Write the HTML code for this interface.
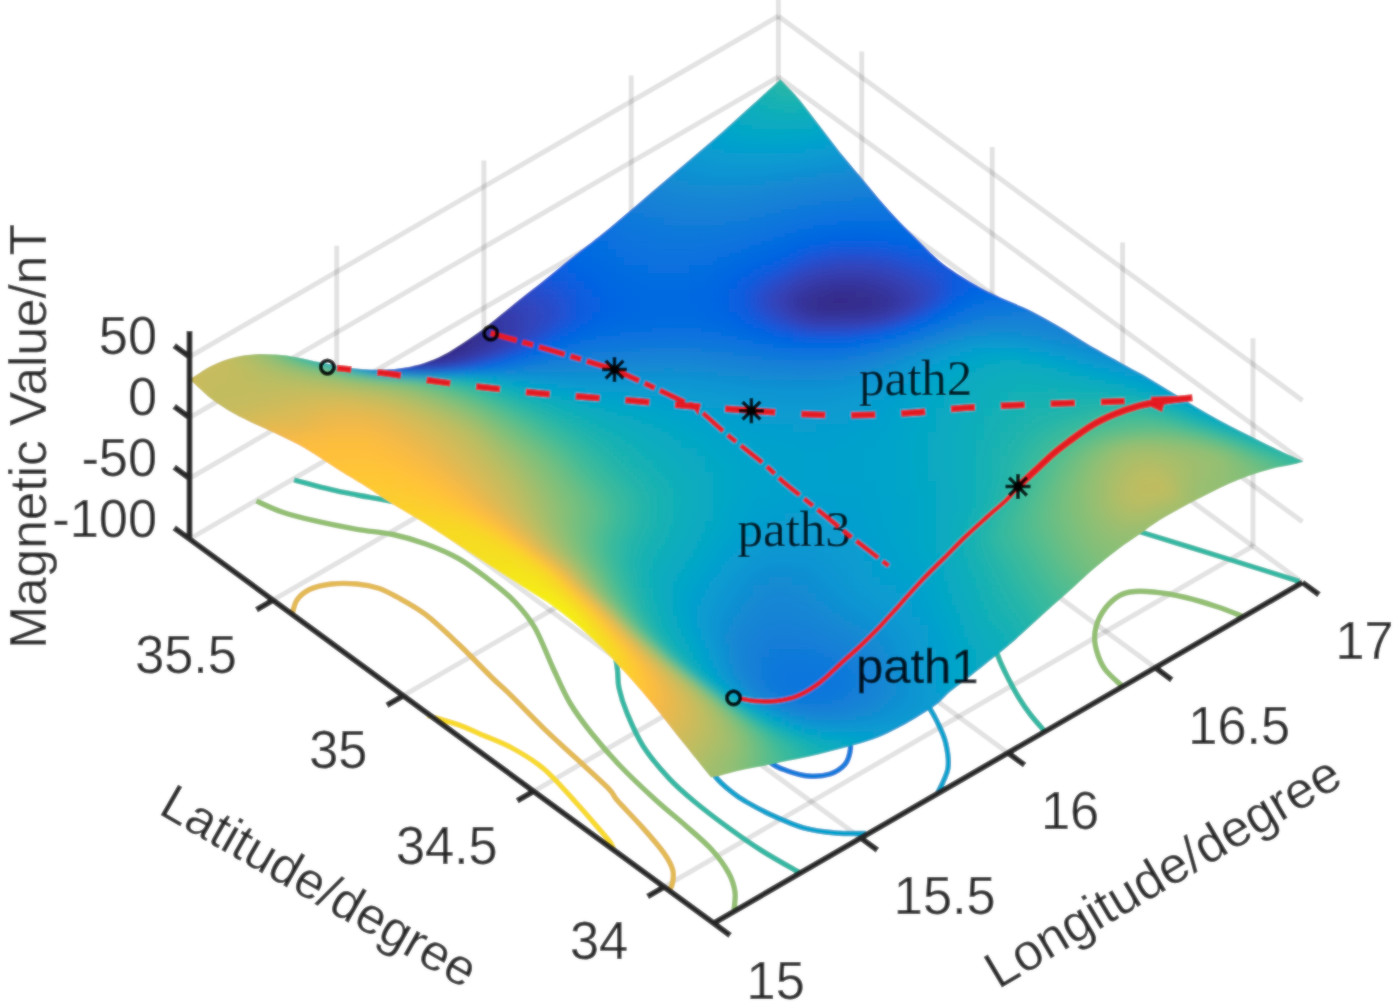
<!DOCTYPE html>
<html><head><meta charset="utf-8"><title>Magnetic surface paths</title>
<style>
html,body{margin:0;padding:0;background:#fff}
svg{display:block}
text{font-family:"Liberation Sans",sans-serif;fill:#262626}
.serif{font-family:"Liberation Serif",serif;fill:#06121c}
</style></head><body>
<svg width="1400" height="1003" viewBox="0 0 1400 1003">
<defs>
<clipPath id="oc"><path d="M189.6 379.3C193.3 377 204.7 369 212 365.4C219.3 361.8 226.4 359.3 233.6 357.4C240.8 355.5 247.9 354.7 255 354.2C262.1 353.7 269.2 354.1 276.4 354.6C283.5 355.1 290.8 356.1 297.9 357.4C305 358.6 312.2 360.6 319.3 362.1C326.4 363.6 333.6 365.2 340.7 366.4C347.8 367.5 354.9 368.5 362 369C369.1 369.5 376.4 369.9 383.6 369.6C390.8 369.4 398.3 368.6 405 367.5C411.7 366.4 417.7 365.1 424 363C430.3 360.9 436.5 358.4 443 355C449.5 351.6 456 347.4 462.9 342.9C469.8 338.4 477.2 333.3 484.3 327.9C491.4 322.5 498.6 316.4 505.7 310.7C512.8 305 519.9 299.3 527 293.6C534.1 287.9 541.4 282.2 548.6 276.4C555.8 270.6 563.8 264 570 259C576.2 254 578.9 252.1 585.9 246.6C592.9 241.1 603.1 233 611.8 225.9C620.4 218.8 629.1 211.2 637.8 203.9C646.4 196.6 655.1 189.2 663.7 181.8C672.3 174.5 681 167.1 689.6 159.8C698.2 152.5 706.9 145.4 715.5 137.8C724.1 130.2 730.6 124.2 741.4 114.4C752.2 104.7 773.9 85.2 780.4 79.3C783.6 82.7 793.3 92.2 799.9 99.9C806.5 107.7 813.2 117.2 819.8 125.8C826.4 134.4 833.1 143.4 839.7 151.7C846.4 160 853.1 167.6 859.7 175.6C866.4 183.6 873 191.8 879.6 199.5C886.2 207.2 892.9 214.5 899.5 221.5C906.1 228.5 913.9 235.8 919.5 241.4C925.1 247 928.8 251.1 933.4 255.3C938 259.5 941.2 262.6 947.1 266.8C953 271 961.5 276.4 968.6 280.7C975.8 285 982.9 288.9 990 292.5C997.1 296.1 1004.2 298.9 1011.4 302.1C1018.5 305.3 1025.8 308.2 1032.9 311.8C1040.1 315.4 1047.2 319.5 1054.3 323.6C1061.4 327.7 1068.6 332.1 1075.7 336.4C1082.8 340.7 1089.5 344.9 1097.1 349.3C1104.7 353.7 1113.8 358.7 1121.4 362.9C1129 367.1 1135.8 370.5 1142.9 374.6C1150.1 378.7 1157.2 383.2 1164.3 387.5C1171.4 391.8 1178.6 396.1 1185.7 400.4C1192.8 404.7 1199.9 409.1 1207.1 413.2C1214.2 417.3 1221.4 421.2 1228.6 425C1235.8 428.8 1242.9 432.1 1250 435.7C1257.1 439.3 1264.2 442.9 1271.4 446.4C1278.6 449.9 1287.5 454 1292.9 456.5C1298.3 459 1301.8 460.6 1303.6 461.4C1301.8 461.9 1298.3 463.4 1292.9 464.6C1287.5 465.9 1278.6 467.1 1271.4 468.9C1264.2 470.7 1257.1 472.9 1250 475.4C1242.9 477.9 1235.8 480.7 1228.6 483.9C1221.4 487.1 1214.7 490.8 1207.1 494.6C1199.5 498.5 1190.8 502.8 1183 507C1175.2 511.2 1167.2 515.5 1160 520C1152.8 524.5 1147 529.1 1140 534C1133 538.9 1125.6 543.7 1118 549.5C1110.4 555.3 1101.8 562.2 1094.3 568.6C1086.8 575 1080.1 581.5 1072.9 587.9C1065.8 594.3 1058.6 600.7 1051.4 607.1C1044.2 613.5 1037.1 620 1030 626.4C1022.9 632.8 1015.8 639.6 1008.6 645.7C1001.5 651.8 994.2 657.2 987.1 662.9C980 668.6 971.9 675.1 965.7 680C959.5 684.9 954.8 688 950 692C945.2 696 942.8 699.9 937.1 704.3C931.4 708.7 922.8 713.9 915.7 718.2C908.6 722.5 901.4 726.4 894.3 730C887.2 733.6 880 736.9 872.9 739.6C865.8 742.3 858.5 744 851.4 746C844.2 748 837.1 749.6 830 751.4C822.9 753.2 815.8 755.2 808.6 756.8C801.5 758.4 794.2 759.6 787.1 761C780 762.4 772.8 764 765.7 765.4C758.6 766.8 751.4 768 744.3 769.6C737.2 771.2 728.4 773.7 722.9 775C717.4 776.3 713 777.1 711 777.5C706.4 771.9 693.5 756 683.6 743.6C673.7 731.2 662.5 716.2 651.4 702.9C640.3 689.6 627.7 675.5 617 664C606.3 652.5 597.3 643.3 587 634C576.7 624.7 565.4 615.7 555 608C544.6 600.3 535.1 594.8 524.5 588C513.9 581.2 502.6 574.1 491.6 567C480.6 559.9 469.7 552.7 458.7 545.6C447.7 538.5 436.8 531.1 425.8 524.2C414.8 517.3 403.5 511 392.9 504.4C382.3 497.8 370.7 489.8 362 484.3C353.3 478.8 347.8 475.9 340.7 471.4C333.6 466.9 326.4 462 319.3 457.5C312.2 453 305 448.5 297.9 444.6C290.8 440.7 283.5 437.3 276.4 433.9C269.2 430.5 262.1 427.7 255 424.3C247.9 420.9 240.8 417.7 233.6 413.6C226.4 409.5 219.3 405.3 212 399.6C204.7 393.9 193.3 382.7 189.6 379.3Z"/></clipPath>
<filter id="bl" filterUnits="userSpaceOnUse" x="0" y="0" width="1400" height="1003"><feGaussianBlur stdDeviation="4"/></filter>
<filter id="soft" filterUnits="userSpaceOnUse" x="0" y="0" width="1400" height="1003"><feGaussianBlur stdDeviation="0.85" result="b"/><feComposite in="SourceGraphic" in2="b" operator="arithmetic" k1="0" k2="0.45" k3="0.55" k4="0"/></filter>
</defs>
<rect width="1400" height="1003" fill="#fff"/>
<g filter="url(#soft)">
<rect width="1400" height="1003" fill="#fff"/>
<g fill="none" stroke="#262626" stroke-opacity="0.135" stroke-width="4.9"><path d="M664.1 886.9L1253 546.2"/><path d="M1253 546.2L1253 338.2"/><path d="M533.7 791.3L1122.6 450.6"/><path d="M1122.6 450.6L1122.6 242.6"/><path d="M403.3 695.7L992.2 355"/><path d="M992.2 355L992.2 147"/><path d="M272.9 600.2L861.8 259.5"/><path d="M861.8 259.5L861.8 51.5"/><path d="M860.8 838L336.7 453.8"/><path d="M336.7 453.8L336.7 245.8"/><path d="M1008 752.9L483.9 368.6"/><path d="M483.9 368.6L483.9 160.6"/><path d="M1155.3 667.7L631.2 283.5"/><path d="M631.2 283.5L631.2 75.5"/><path d="M778.4 198.3L778.4 -9.7"/><path d="M189.5 539L778.4 198.3"/><path d="M778.4 198.3L1302.5 582.5"/><path d="M189.5 478.3L778.4 137.6"/><path d="M778.4 137.6L1302.5 521.8"/><path d="M189.5 417.6L778.4 76.9"/><path d="M778.4 76.9L1302.5 461.1"/><path d="M189.5 356.9L778.4 16.2"/><path d="M778.4 16.2L1302.5 400.4"/></g>
<g fill="none" stroke-linecap="butt"><path d="M427.5 715.5C432.7 717.1 449.9 721.8 458.7 724.9C467.4 728 471.1 730.1 480 734C488.9 737.9 501.3 742.2 512 748C522.7 753.8 533.3 759.8 544 769C554.7 778.2 567.1 792.8 576.4 803C585.7 813.2 594.3 823.4 600 830C605.7 836.6 608.4 839.4 610.7 842.9C613 846.4 613.5 849.6 614 851" stroke="#f7d925" stroke-width="5.4"/><path d="M292 615C292.8 612.5 294 604.3 297 600C300 595.7 304.3 592 310 589.3C315.7 586.6 323.6 584.9 331.4 584C339.2 583.1 349.1 583.3 357 584C364.9 584.7 371.9 586 378.6 588.2C385.3 590.4 389.1 592.6 397 597C404.9 601.4 415.5 606.8 425.8 614.7C436.1 622.6 447.7 633.9 458.7 644.3C469.7 654.7 482.7 668.5 491.6 677.2C500.5 685.9 503.3 687.8 512 696.4C520.7 705 533.3 718.2 544 728.6C554.7 739 565.6 748.6 576.4 758.6C587.2 768.6 601.8 781.7 608.6 788.6C615.4 795.5 611.3 793.5 617 800C622.7 806.5 635 819 642.9 827.9C650.8 836.8 659.3 846.5 664.3 853.6C669.3 860.7 671.6 865.4 672.9 870.7C674.1 876.1 672.7 882.3 671.8 885.7C670.9 889.1 668.2 890.1 667.5 891" stroke="#e2b952" stroke-width="5.4"/><path d="M256.4 501C260.7 502.8 272.4 508.7 282 512C291.6 515.3 301.8 517.8 314.3 520.7C326.8 523.6 343.9 527 357 529.3C370.1 531.6 381.5 532 393 534.5C404.5 537 414.9 540 425.8 544C436.8 548 447.7 552.4 458.7 558.7C469.7 565 482.2 574.6 491.6 581.8C501 589 507.8 594.3 515 602C522.2 609.7 528.7 617 535 628C541.3 639 547.2 655.5 553 668C558.8 680.5 563.6 692.2 570 703C576.4 713.8 583.2 722.7 591.4 733C599.6 743.3 608.6 753.8 619.3 765C630 776.2 644.6 789.9 655.7 800C666.8 810.1 676.4 817.5 685.7 825.7C695 833.9 704.2 841.4 711.4 849.3C718.5 857.2 724.7 865.8 728.6 872.9C732.5 880 734.1 885.8 735 892C735.9 898.2 734.2 907 734 910" stroke="#93bf72" stroke-width="5.4"/><path d="M294 480C297.4 480.9 307.4 483.6 314.3 485.4C321.2 487.2 328.6 489.1 335.7 490.7C342.8 492.3 349.9 493.6 357 495C364.1 496.4 371.4 497.6 378.6 498.9C385.8 500.2 388.1 500.3 400 503C411.9 505.7 430 508 450 515C470 522 498.3 530.8 520 545C541.7 559.2 565 584.2 580 600C595 615.8 603.8 628.9 610 640C616.2 651.1 615.5 658.4 617 666.4C618.5 674.4 617.3 680.2 619 688C620.7 695.8 623 703.4 627 713C631 722.6 636 734.9 642.9 745.7C649.8 756.5 660 768.6 668.6 777.9C677.2 787.2 684.3 793.2 694.3 801.5C704.3 809.8 717.2 819.6 728.6 827.9C740 836.2 751.1 844 762.9 851.4C774.7 858.8 793.2 869 799.3 872.5" stroke="#30b7a3" stroke-width="5.4"/><path d="M690 700C691.7 708.3 695.7 737.2 700 750C704.3 762.8 710.2 769.9 715.7 777C721.2 784.1 727.9 788.8 732.9 792.9C737.9 797 739.3 797.8 745.7 801.5C752.1 805.2 761.8 810.6 771.4 815C781 819.4 792.9 824.9 803.6 827.9C814.3 830.9 825.3 832.1 835.7 833C846.1 833.9 861 833.4 866 833.5" stroke="#06a1cc" stroke-width="5.4"/><path d="M937 794.3C938.8 790 946.4 777.2 947.9 768.6C949.4 760 947.5 750.8 945.7 742.9C943.9 735 939.9 727.5 937 721.4C934.1 715.3 932.3 712.5 928.6 706.4C924.9 700.3 917.3 688.6 915 685" stroke="#06a1cc" stroke-width="5.4"/><path d="M755 740C757.5 743.7 764.7 756.9 770 762C775.3 767.1 780.6 768.4 787 770.7C793.4 773 801.4 775.5 808.6 776C815.8 776.5 823.9 776 830 774C836.1 772 841.6 768.4 845 764.3C848.4 760.2 849.7 754.2 850.4 749.3C851.1 744.4 849.2 737.4 849 735" stroke="#117ada" stroke-width="5.4"/><path d="M993 635C993.8 638.5 995.5 648.8 998 656C1000.5 663.2 1004.5 671 1008 678C1011.5 685 1015.3 692 1019 698C1022.7 704 1025.8 708.5 1030 714C1034.2 719.5 1042 728.2 1044.4 731" stroke="#30b7a3" stroke-width="5.4"/><path d="M1243.6 616.8C1239.3 615.2 1227.6 610.2 1217.9 607C1208.2 603.8 1196.4 600 1185.7 597.5C1175 595 1162.9 592.9 1153.6 592C1144.3 591.1 1136.3 591 1130 592C1123.7 593 1120.4 594.5 1115.7 598C1111 601.5 1105.5 607.3 1102 613C1098.5 618.7 1095.9 625.8 1095 632C1094.1 638.2 1094.7 643.8 1096.4 650C1098.1 656.2 1100.7 663.3 1105 669.3C1109.3 675.3 1119.2 683.2 1122 686" stroke="#93bf72" stroke-width="5.4"/><path d="M1120 525.5C1123.5 526.6 1124 526.8 1140.7 532C1157.4 537.2 1193.6 548.3 1220 556.5C1246.4 564.7 1286.1 577.2 1299.3 581.4" stroke="#30b7a3" stroke-width="5.4"/><path d="M1178 505C1179.4 503.9 1185.1 499.6 1186.5 498.5" stroke="#30b7a3" stroke-width="5.4"/></g>
<g clip-path="url(#oc)"><g filter="url(#bl)" shape-rendering="crispEdges"><path fill="#352c8a" d="M832 296h9v9h-9zM840 296h9v9h-9zM432 336h17v17h-17zM448 336h9v9h-9zM456 336h9v9h-9zM448 344h9v9h-9zM456 344h5v5h-5zM440 352h5v5h-5zM444 352h5v5h-5z"/><path fill="#362d8d" d="M824 296h9v9h-9zM824 304h9v9h-9zM848 296h9v9h-9zM856 296h9v9h-9zM832 304h9v9h-9zM840 304h9v9h-9zM448 320h17v17h-17zM460 344h5v5h-5zM456 348h5v5h-5zM464 336h9v9h-9zM432 352h9v9h-9zM448 352h5v5h-5z"/><path fill="#362f90" d="M824 292h5v5h-5zM828 292h5v5h-5zM816 296h9v9h-9zM816 304h9v9h-9zM832 288h9v9h-9zM840 288h9v9h-9zM848 288h9v9h-9zM848 304h9v9h-9zM856 304h9v9h-9zM864 296h9v9h-9zM864 304h5v5h-5zM868 304h5v5h-5zM424 344h9v9h-9zM464 320h9v9h-9zM464 328h9v9h-9zM460 348h5v5h-5zM464 344h5v5h-5zM424 352h9v9h-9zM440 356h5v5h-5zM452 352h5v5h-5z"/><path fill="#363093" d="M808 296h9v9h-9zM816 292h5v5h-5zM820 292h5v5h-5zM808 304h5v5h-5zM812 304h5v5h-5zM856 288h9v9h-9zM864 292h5v5h-5zM868 292h5v5h-5zM872 296h9v9h-9zM864 308h5v5h-5zM872 304h5v5h-5zM472 320h9v9h-9zM472 328h9v9h-9zM472 336h9v9h-9zM468 344h5v5h-5zM464 348h5v5h-5zM444 356h5v5h-5zM456 352h5v5h-5z"/><path fill="#363296" d="M472 312h9v9h-9zM812 292h5v5h-5zM820 288h5v5h-5zM824 288h5v5h-5zM828 288h5v5h-5zM804 304h5v5h-5zM808 308h5v5h-5zM812 308h5v5h-5zM824 312h5v5h-5zM828 312h5v5h-5zM832 312h5v5h-5zM836 312h5v5h-5zM864 288h5v5h-5zM868 288h5v5h-5zM872 292h5v5h-5zM876 292h5v5h-5zM868 308h5v5h-5zM876 304h5v5h-5zM872 308h5v5h-5zM880 304h5v5h-5zM416 344h9v9h-9zM468 348h5v5h-5zM472 344h5v5h-5zM480 328h9v9h-9zM480 336h5v5h-5zM420 352h5v5h-5zM420 356h5v5h-5zM448 356h5v5h-5zM460 352h5v5h-5z"/><path fill="#363399" d="M828 284h5v5h-5zM832 284h5v5h-5zM836 284h5v5h-5zM840 284h5v5h-5zM844 284h5v5h-5zM848 284h5v5h-5zM852 284h5v5h-5zM856 284h5v5h-5zM860 284h5v5h-5zM808 292h5v5h-5zM800 296h9v9h-9zM816 288h5v5h-5zM800 304h5v5h-5zM804 308h5v5h-5zM816 312h5v5h-5zM820 312h5v5h-5zM840 312h5v5h-5zM844 312h5v5h-5zM848 312h5v5h-5zM852 312h5v5h-5zM856 312h5v5h-5zM860 312h5v5h-5zM872 288h5v5h-5zM880 292h5v5h-5zM880 296h9v9h-9zM876 308h5v5h-5zM864 312h5v5h-5zM884 304h5v5h-5zM476 344h5v5h-5zM480 320h9v9h-9zM484 336h5v5h-5zM480 340h5v5h-5zM416 352h5v5h-5zM424 360h5v5h-5zM428 360h5v5h-5zM432 360h5v5h-5zM436 360h5v5h-5zM452 356h5v5h-5zM464 352h5v5h-5z"/><path fill="#36359c" d="M820 284h5v5h-5zM824 284h5v5h-5zM864 284h5v5h-5zM868 284h5v5h-5zM480 312h9v9h-9zM796 300h5v5h-5zM804 292h5v5h-5zM808 288h5v5h-5zM812 288h5v5h-5zM800 308h5v5h-5zM808 312h5v5h-5zM812 312h5v5h-5zM876 288h5v5h-5zM880 288h5v5h-5zM884 292h5v5h-5zM888 296h9v9h-9zM868 312h5v5h-5zM872 312h5v5h-5zM880 308h5v5h-5zM888 304h5v5h-5zM472 348h5v5h-5zM488 320h9v9h-9zM488 328h9v9h-9zM484 340h5v5h-5zM488 336h5v5h-5zM480 344h5v5h-5zM416 356h5v5h-5zM420 360h5v5h-5zM440 360h5v5h-5zM456 356h5v5h-5z"/><path fill="#3636a0" d="M812 284h5v5h-5zM816 284h5v5h-5zM828 280h5v5h-5zM832 280h5v5h-5zM836 280h5v5h-5zM840 280h5v5h-5zM844 280h5v5h-5zM848 280h5v5h-5zM852 280h5v5h-5zM856 280h5v5h-5zM860 280h5v5h-5zM864 280h5v5h-5zM872 284h5v5h-5zM876 284h5v5h-5zM484 308h5v5h-5zM796 296h5v5h-5zM796 304h5v5h-5zM804 288h5v5h-5zM800 292h5v5h-5zM804 312h5v5h-5zM820 316h5v5h-5zM824 316h5v5h-5zM828 316h5v5h-5zM832 316h5v5h-5zM836 316h5v5h-5zM884 288h5v5h-5zM888 292h5v5h-5zM876 312h5v5h-5zM884 308h5v5h-5zM476 348h5v5h-5zM492 336h5v5h-5zM488 340h5v5h-5zM484 344h5v5h-5zM416 360h5v5h-5zM444 360h5v5h-5zM468 352h5v5h-5z"/><path fill="#3638a3" d="M808 284h5v5h-5zM820 280h5v5h-5zM824 280h5v5h-5zM868 280h5v5h-5zM872 280h5v5h-5zM880 284h5v5h-5zM884 284h5v5h-5zM488 312h9v9h-9zM796 292h5v5h-5zM792 296h5v5h-5zM792 300h5v5h-5zM792 304h5v5h-5zM796 308h5v5h-5zM800 288h5v5h-5zM812 316h5v5h-5zM816 316h5v5h-5zM840 316h5v5h-5zM844 316h5v5h-5zM848 316h5v5h-5zM852 316h5v5h-5zM856 316h5v5h-5zM860 316h5v5h-5zM888 288h5v5h-5zM892 292h5v5h-5zM892 304h5v5h-5zM888 308h5v5h-5zM880 312h5v5h-5zM496 320h9v9h-9zM496 328h9v9h-9zM492 340h5v5h-5zM480 348h5v5h-5zM488 344h5v5h-5zM496 336h5v5h-5zM412 352h5v5h-5zM412 356h5v5h-5zM460 356h5v5h-5zM448 360h5v5h-5zM472 352h5v5h-5z"/><path fill="#3639a6" d="M804 284h5v5h-5zM812 280h5v5h-5zM828 276h5v5h-5zM816 280h5v5h-5zM832 276h5v5h-5zM836 276h5v5h-5zM840 276h5v5h-5zM844 276h5v5h-5zM848 276h5v5h-5zM852 276h5v5h-5zM856 276h5v5h-5zM860 276h5v5h-5zM864 276h5v5h-5zM876 280h5v5h-5zM880 280h5v5h-5zM888 284h5v5h-5zM488 304h9v9h-9zM496 312h9v9h-9zM796 288h5v5h-5zM792 292h5v5h-5zM788 300h5v5h-5zM792 308h5v5h-5zM800 312h5v5h-5zM808 316h5v5h-5zM892 288h5v5h-5zM864 316h5v5h-5zM868 316h5v5h-5zM892 308h5v5h-5zM884 312h5v5h-5zM896 292h5v5h-5zM896 296h9v9h-9zM896 304h5v5h-5zM484 348h5v5h-5zM500 336h5v5h-5zM496 340h5v5h-5zM408 352h5v5h-5zM412 360h5v5h-5zM464 356h5v5h-5z"/><path fill="#353ba9" d="M800 284h5v5h-5zM808 280h5v5h-5zM820 276h5v5h-5zM824 276h5v5h-5zM868 276h5v5h-5zM872 276h5v5h-5zM884 280h5v5h-5zM892 284h5v5h-5zM488 296h9v9h-9zM788 292h5v5h-5zM792 288h5v5h-5zM788 296h5v5h-5zM788 304h5v5h-5zM796 312h5v5h-5zM804 316h5v5h-5zM872 316h5v5h-5zM876 316h5v5h-5zM888 312h5v5h-5zM896 288h5v5h-5zM900 292h5v5h-5zM900 304h5v5h-5zM896 308h5v5h-5zM504 320h9v9h-9zM504 328h9v9h-9zM492 344h5v5h-5zM500 340h5v5h-5zM504 336h5v5h-5zM408 356h5v5h-5zM420 364h5v5h-5zM424 364h5v5h-5zM452 360h5v5h-5zM476 352h5v5h-5z"/><path fill="#353dac" d="M796 284h5v5h-5zM804 280h5v5h-5zM816 276h5v5h-5zM832 272h5v5h-5zM836 272h5v5h-5zM840 272h5v5h-5zM844 272h5v5h-5zM848 272h5v5h-5zM852 272h5v5h-5zM856 272h5v5h-5zM860 272h5v5h-5zM864 272h5v5h-5zM876 276h5v5h-5zM880 276h5v5h-5zM888 280h5v5h-5zM896 284h5v5h-5zM496 300h5v5h-5zM496 304h9v9h-9zM504 312h9v9h-9zM784 296h5v5h-5zM784 300h5v5h-5zM784 304h5v5h-5zM788 308h5v5h-5zM792 312h5v5h-5zM800 316h5v5h-5zM880 316h5v5h-5zM900 288h5v5h-5zM904 292h5v5h-5zM904 296h9v9h-9zM488 348h5v5h-5zM496 344h5v5h-5zM512 328h5v5h-5zM816 320h5v5h-5zM820 320h5v5h-5zM824 320h5v5h-5zM828 320h5v5h-5zM832 320h5v5h-5zM836 320h5v5h-5zM840 320h5v5h-5zM844 320h5v5h-5zM848 320h5v5h-5zM852 320h5v5h-5zM408 360h5v5h-5zM416 364h5v5h-5zM428 364h5v5h-5zM432 364h5v5h-5zM456 360h5v5h-5zM468 356h5v5h-5zM480 352h5v5h-5z"/><path fill="#343eaf" d="M792 284h5v5h-5zM808 276h5v5h-5zM812 276h5v5h-5zM800 280h5v5h-5zM820 272h5v5h-5zM824 272h5v5h-5zM828 272h5v5h-5zM868 272h5v5h-5zM872 272h5v5h-5zM884 276h5v5h-5zM892 280h5v5h-5zM896 280h5v5h-5zM900 284h5v5h-5zM496 296h5v5h-5zM500 300h5v5h-5zM504 304h9v9h-9zM512 312h9v9h-9zM788 288h5v5h-5zM784 292h5v5h-5zM784 308h5v5h-5zM788 312h5v5h-5zM796 316h5v5h-5zM884 316h5v5h-5zM892 312h5v5h-5zM904 288h5v5h-5zM908 292h5v5h-5zM900 308h5v5h-5zM904 304h5v5h-5zM492 348h5v5h-5zM508 336h5v5h-5zM504 340h5v5h-5zM500 344h5v5h-5zM512 320h9v9h-9zM516 328h5v5h-5zM512 332h5v5h-5zM808 320h5v5h-5zM812 320h5v5h-5zM856 320h5v5h-5zM860 320h5v5h-5zM864 320h5v5h-5zM412 364h5v5h-5zM436 364h5v5h-5zM472 356h5v5h-5z"/><path fill="#3440b3" d="M796 280h5v5h-5zM804 276h5v5h-5zM816 272h5v5h-5zM836 268h5v5h-5zM840 268h5v5h-5zM844 268h5v5h-5zM848 268h5v5h-5zM852 268h5v5h-5zM856 268h5v5h-5zM860 268h5v5h-5zM876 272h5v5h-5zM880 272h5v5h-5zM888 276h5v5h-5zM892 276h5v5h-5zM900 280h5v5h-5zM904 284h5v5h-5zM500 296h5v5h-5zM780 292h5v5h-5zM776 296h9v9h-9zM784 288h5v5h-5zM780 304h5v5h-5zM792 316h5v5h-5zM908 288h5v5h-5zM912 292h5v5h-5zM912 296h5v5h-5zM912 300h5v5h-5zM908 304h5v5h-5zM904 308h5v5h-5zM896 312h5v5h-5zM508 340h5v5h-5zM516 332h5v5h-5zM520 328h5v5h-5zM512 336h5v5h-5zM804 320h5v5h-5zM868 320h5v5h-5zM404 356h5v5h-5zM440 364h5v5h-5zM460 360h5v5h-5zM484 352h5v5h-5z"/><path fill="#3342b6" d="M788 284h5v5h-5zM792 280h5v5h-5zM824 268h5v5h-5zM828 268h5v5h-5zM800 276h5v5h-5zM808 272h5v5h-5zM812 272h5v5h-5zM832 268h5v5h-5zM864 268h5v5h-5zM868 268h5v5h-5zM872 268h5v5h-5zM884 272h5v5h-5zM888 272h5v5h-5zM896 276h5v5h-5zM904 280h5v5h-5zM908 284h5v5h-5zM504 292h5v5h-5zM504 296h9v9h-9zM512 304h9v9h-9zM520 312h9v9h-9zM776 304h5v5h-5zM780 308h5v5h-5zM784 312h5v5h-5zM888 316h5v5h-5zM912 288h5v5h-5zM916 296h5v5h-5zM496 348h5v5h-5zM504 344h5v5h-5zM520 320h9v9h-9zM520 332h5v5h-5zM516 336h5v5h-5zM800 320h5v5h-5zM824 324h5v5h-5zM828 324h5v5h-5zM832 324h5v5h-5zM836 324h5v5h-5zM872 320h5v5h-5zM876 320h5v5h-5zM404 360h5v5h-5zM408 364h5v5h-5zM444 364h5v5h-5zM476 356h5v5h-5zM488 352h5v5h-5z"/><path fill="#3243b9" d="M796 276h5v5h-5zM788 280h5v5h-5zM784 284h5v5h-5zM816 268h5v5h-5zM820 268h5v5h-5zM804 272h5v5h-5zM844 264h5v5h-5zM848 264h5v5h-5zM852 264h5v5h-5zM876 268h5v5h-5zM880 268h5v5h-5zM892 272h5v5h-5zM900 276h5v5h-5zM908 280h5v5h-5zM912 284h5v5h-5zM508 292h5v5h-5zM512 296h9v9h-9zM520 304h9v9h-9zM780 288h5v5h-5zM776 292h5v5h-5zM776 308h5v5h-5zM780 312h5v5h-5zM788 316h5v5h-5zM892 316h5v5h-5zM916 288h5v5h-5zM916 292h5v5h-5zM916 300h5v5h-5zM908 308h5v5h-5zM900 312h5v5h-5zM912 304h5v5h-5zM500 348h5v5h-5zM508 344h5v5h-5zM524 328h5v5h-5zM512 340h5v5h-5zM796 320h5v5h-5zM812 324h5v5h-5zM816 324h5v5h-5zM820 324h5v5h-5zM840 324h5v5h-5zM844 324h5v5h-5zM848 324h5v5h-5zM852 324h5v5h-5zM880 320h5v5h-5zM404 364h5v5h-5zM464 360h5v5h-5z"/><path fill="#3145bc" d="M780 284h5v5h-5zM792 276h5v5h-5zM812 268h5v5h-5zM828 264h5v5h-5zM800 272h5v5h-5zM832 264h5v5h-5zM836 264h5v5h-5zM840 264h5v5h-5zM856 264h5v5h-5zM860 264h5v5h-5zM864 264h5v5h-5zM868 264h5v5h-5zM872 264h5v5h-5zM884 268h5v5h-5zM888 268h5v5h-5zM896 272h5v5h-5zM904 276h5v5h-5zM912 280h5v5h-5zM916 284h5v5h-5zM508 288h5v5h-5zM528 304h9v9h-9zM528 312h9v9h-9zM772 292h5v5h-5zM776 288h5v5h-5zM768 296h9v9h-9zM772 304h5v5h-5zM784 316h5v5h-5zM920 296h5v5h-5zM904 312h5v5h-5zM916 304h5v5h-5zM524 332h5v5h-5zM528 320h9v9h-9zM528 328h5v5h-5zM516 340h5v5h-5zM520 336h5v5h-5zM792 320h5v5h-5zM808 324h5v5h-5zM856 324h5v5h-5zM860 324h5v5h-5zM400 356h5v5h-5zM400 360h5v5h-5zM448 364h5v5h-5zM468 360h5v5h-5zM480 356h5v5h-5zM492 352h5v5h-5z"/><path fill="#2f47bf" d="M776 284h5v5h-5zM788 276h5v5h-5zM796 272h5v5h-5zM784 280h5v5h-5zM808 268h5v5h-5zM820 264h5v5h-5zM824 264h5v5h-5zM876 264h5v5h-5zM880 264h5v5h-5zM892 268h5v5h-5zM900 272h5v5h-5zM904 272h5v5h-5zM908 276h5v5h-5zM916 280h5v5h-5zM920 284h5v5h-5zM512 288h9v9h-9zM520 296h9v9h-9zM536 312h9v9h-9zM772 288h5v5h-5zM768 292h5v5h-5zM768 304h5v5h-5zM772 308h5v5h-5zM776 312h5v5h-5zM780 316h5v5h-5zM920 288h9v9h-9zM924 296h5v5h-5zM920 300h5v5h-5zM896 316h5v5h-5zM912 308h5v5h-5zM504 348h5v5h-5zM536 320h5v5h-5zM532 328h5v5h-5zM528 332h5v5h-5zM524 336h5v5h-5zM512 344h5v5h-5zM788 320h5v5h-5zM800 324h5v5h-5zM804 324h5v5h-5zM864 324h5v5h-5zM868 324h5v5h-5zM884 320h5v5h-5zM396 356h5v5h-5zM400 364h5v5h-5z"/><path fill="#2d48c3" d="M512 280h9v9h-9zM780 280h5v5h-5zM792 272h5v5h-5zM800 268h5v5h-5zM804 268h5v5h-5zM812 264h5v5h-5zM816 264h5v5h-5zM832 260h5v5h-5zM836 260h5v5h-5zM840 260h5v5h-5zM844 260h5v5h-5zM848 260h5v5h-5zM852 260h5v5h-5zM856 260h5v5h-5zM860 260h5v5h-5zM864 260h5v5h-5zM868 260h5v5h-5zM872 260h5v5h-5zM884 264h5v5h-5zM888 264h5v5h-5zM896 268h5v5h-5zM900 268h5v5h-5zM908 272h5v5h-5zM912 276h5v5h-5zM920 280h5v5h-5zM924 284h5v5h-5zM520 288h9v9h-9zM528 296h9v9h-9zM536 304h9v9h-9zM768 308h5v5h-5zM772 312h5v5h-5zM924 300h5v5h-5zM900 316h5v5h-5zM908 312h5v5h-5zM920 304h5v5h-5zM540 320h5v5h-5zM536 324h5v5h-5zM520 340h5v5h-5zM796 324h5v5h-5zM872 324h5v5h-5zM888 320h5v5h-5zM396 360h5v5h-5zM452 364h5v5h-5zM484 356h5v5h-5zM496 352h5v5h-5z"/><path fill="#2c4ac6" d="M520 280h9v9h-9zM796 268h5v5h-5zM772 284h5v5h-5zM776 280h5v5h-5zM788 272h5v5h-5zM784 276h5v5h-5zM808 264h5v5h-5zM820 260h5v5h-5zM824 260h5v5h-5zM828 260h5v5h-5zM876 260h5v5h-5zM880 260h5v5h-5zM892 264h5v5h-5zM904 268h5v5h-5zM912 272h5v5h-5zM916 276h5v5h-5zM920 276h5v5h-5zM924 280h5v5h-5zM928 284h5v5h-5zM536 296h9v9h-9zM544 304h9v9h-9zM544 312h9v9h-9zM764 292h5v5h-5zM760 296h9v9h-9zM764 304h5v5h-5zM768 288h5v5h-5zM776 316h5v5h-5zM916 308h5v5h-5zM928 288h9v9h-9zM928 296h5v5h-5zM508 348h5v5h-5zM540 324h5v5h-5zM532 332h5v5h-5zM536 328h5v5h-5zM516 344h5v5h-5zM528 336h5v5h-5zM544 320h5v5h-5zM784 320h5v5h-5zM792 324h5v5h-5zM812 328h5v5h-5zM816 328h5v5h-5zM820 328h5v5h-5zM824 328h5v5h-5zM828 328h5v5h-5zM832 328h5v5h-5zM836 328h5v5h-5zM840 328h5v5h-5zM844 328h5v5h-5zM848 328h5v5h-5zM876 324h5v5h-5zM892 320h5v5h-5zM472 360h5v5h-5z"/><path fill="#294cc9" d="M792 268h5v5h-5zM780 276h5v5h-5zM772 280h5v5h-5zM768 284h5v5h-5zM804 264h5v5h-5zM816 260h5v5h-5zM836 256h5v5h-5zM840 256h5v5h-5zM844 256h5v5h-5zM848 256h5v5h-5zM852 256h5v5h-5zM856 256h5v5h-5zM860 256h5v5h-5zM864 256h5v5h-5zM868 256h5v5h-5zM884 260h5v5h-5zM888 260h5v5h-5zM896 264h5v5h-5zM900 264h5v5h-5zM908 268h5v5h-5zM916 272h5v5h-5zM924 276h5v5h-5zM928 280h5v5h-5zM932 284h5v5h-5zM528 288h9v9h-9zM544 296h9v9h-9zM764 288h5v5h-5zM760 292h5v5h-5zM760 304h5v5h-5zM764 308h5v5h-5zM768 312h5v5h-5zM772 316h5v5h-5zM904 316h5v5h-5zM924 304h5v5h-5zM912 312h5v5h-5zM928 300h5v5h-5zM540 328h5v5h-5zM536 332h5v5h-5zM524 340h5v5h-5zM532 336h5v5h-5zM548 320h5v5h-5zM544 324h5v5h-5zM780 320h5v5h-5zM788 324h5v5h-5zM804 328h5v5h-5zM808 328h5v5h-5zM852 328h5v5h-5zM856 328h5v5h-5zM880 324h5v5h-5zM396 364h5v5h-5zM456 364h5v5h-5zM488 356h5v5h-5zM500 352h5v5h-5z"/><path fill="#264ecc" d="M524 276h5v5h-5zM528 280h9v9h-9zM764 284h5v5h-5zM776 276h5v5h-5zM768 280h5v5h-5zM784 272h5v5h-5zM808 260h5v5h-5zM812 260h5v5h-5zM800 264h5v5h-5zM824 256h5v5h-5zM828 256h5v5h-5zM832 256h5v5h-5zM872 256h5v5h-5zM876 256h5v5h-5zM880 256h5v5h-5zM892 260h5v5h-5zM896 260h5v5h-5zM904 264h5v5h-5zM912 268h5v5h-5zM916 268h5v5h-5zM920 272h5v5h-5zM928 276h5v5h-5zM932 280h5v5h-5zM536 288h9v9h-9zM552 304h9v9h-9zM552 312h9v9h-9zM760 288h5v5h-5zM760 308h5v5h-5zM764 312h5v5h-5zM768 316h5v5h-5zM920 308h5v5h-5zM936 288h5v5h-5zM932 296h5v5h-5zM540 332h5v5h-5zM512 348h5v5h-5zM520 344h5v5h-5zM528 340h5v5h-5zM548 324h5v5h-5zM552 320h5v5h-5zM544 328h5v5h-5zM776 320h5v5h-5zM800 328h5v5h-5zM860 328h5v5h-5zM884 324h5v5h-5zM896 320h5v5h-5zM476 360h5v5h-5z"/><path fill="#2450d0" d="M840 252h5v5h-5zM844 252h5v5h-5zM848 252h5v5h-5zM852 252h5v5h-5zM856 252h5v5h-5zM860 252h5v5h-5zM760 284h5v5h-5zM788 268h5v5h-5zM796 264h5v5h-5zM772 276h5v5h-5zM780 272h5v5h-5zM804 260h5v5h-5zM816 256h5v5h-5zM820 256h5v5h-5zM884 256h5v5h-5zM888 256h5v5h-5zM900 260h5v5h-5zM908 264h5v5h-5zM912 264h5v5h-5zM920 268h5v5h-5zM924 272h5v5h-5zM928 272h5v5h-5zM932 276h5v5h-5zM936 280h9v9h-9zM544 288h9v9h-9zM552 296h9v9h-9zM756 288h5v5h-5zM756 292h5v5h-5zM752 296h9v9h-9zM756 304h5v5h-5zM756 308h5v5h-5zM760 312h5v5h-5zM908 316h5v5h-5zM916 312h5v5h-5zM936 292h5v5h-5zM932 300h5v5h-5zM936 296h5v5h-5zM928 304h5v5h-5zM536 336h5v5h-5zM552 324h5v5h-5zM772 320h5v5h-5zM784 324h5v5h-5zM796 328h5v5h-5zM864 328h5v5h-5zM868 328h5v5h-5zM392 356h5v5h-5zM412 368h5v5h-5zM416 368h5v5h-5zM420 368h5v5h-5zM424 368h5v5h-5zM460 364h5v5h-5zM492 356h5v5h-5zM504 352h5v5h-5z"/><path fill="#2152d3" d="M828 252h5v5h-5zM832 252h5v5h-5zM836 252h5v5h-5zM864 252h5v5h-5zM868 252h5v5h-5zM872 252h5v5h-5zM876 252h5v5h-5zM528 272h9v9h-9zM536 280h9v9h-9zM764 280h5v5h-5zM784 268h5v5h-5zM792 264h5v5h-5zM768 276h5v5h-5zM776 272h5v5h-5zM800 260h5v5h-5zM808 256h5v5h-5zM812 256h5v5h-5zM892 256h5v5h-5zM896 256h5v5h-5zM904 260h5v5h-5zM908 260h5v5h-5zM916 264h5v5h-5zM924 268h5v5h-5zM932 272h5v5h-5zM552 288h9v9h-9zM560 296h9v9h-9zM560 304h9v9h-9zM560 312h9v9h-9zM752 292h5v5h-5zM752 304h5v5h-5zM764 316h5v5h-5zM924 308h5v5h-5zM940 288h5v5h-5zM940 292h5v5h-5zM516 348h5v5h-5zM524 344h5v5h-5zM532 340h5v5h-5zM556 320h5v5h-5zM548 328h5v5h-5zM544 332h5v5h-5zM768 320h5v5h-5zM780 324h5v5h-5zM792 328h5v5h-5zM816 332h5v5h-5zM820 332h5v5h-5zM824 332h5v5h-5zM828 332h5v5h-5zM832 332h5v5h-5zM836 332h5v5h-5zM872 328h5v5h-5zM888 324h5v5h-5zM900 320h5v5h-5zM392 360h5v5h-5zM408 368h5v5h-5zM428 368h5v5h-5zM480 360h5v5h-5z"/><path fill="#1d54d5" d="M820 252h5v5h-5zM824 252h5v5h-5zM856 248h5v5h-5zM880 252h5v5h-5zM884 252h5v5h-5zM888 252h5v5h-5zM528 264h9v9h-9zM536 268h5v5h-5zM536 272h9v9h-9zM544 280h9v9h-9zM764 276h5v5h-5zM756 284h5v5h-5zM760 280h5v5h-5zM780 268h5v5h-5zM796 260h5v5h-5zM788 264h5v5h-5zM772 272h5v5h-5zM804 256h5v5h-5zM900 256h5v5h-5zM912 260h5v5h-5zM916 260h5v5h-5zM920 264h5v5h-5zM924 264h5v5h-5zM928 264h9v9h-9zM936 272h9v9h-9zM568 312h5v5h-5zM748 292h5v5h-5zM752 288h5v5h-5zM752 308h5v5h-5zM756 312h5v5h-5zM760 316h5v5h-5zM912 316h5v5h-5zM920 312h5v5h-5zM940 296h5v5h-5zM936 300h5v5h-5zM944 288h5v5h-5zM932 304h5v5h-5zM540 336h5v5h-5zM556 324h5v5h-5zM552 328h5v5h-5zM560 320h5v5h-5zM776 324h5v5h-5zM788 328h5v5h-5zM804 332h5v5h-5zM808 332h5v5h-5zM812 332h5v5h-5zM840 332h5v5h-5zM844 332h5v5h-5zM848 332h5v5h-5zM876 328h5v5h-5zM892 324h5v5h-5zM392 364h5v5h-5zM404 368h5v5h-5zM432 368h5v5h-5zM464 364h5v5h-5zM496 356h5v5h-5zM508 352h5v5h-5z"/><path fill="#1957d8" d="M812 252h5v5h-5zM816 252h5v5h-5zM832 248h5v5h-5zM836 248h5v5h-5zM840 248h5v5h-5zM844 248h5v5h-5zM848 248h5v5h-5zM852 248h5v5h-5zM860 248h5v5h-5zM864 248h5v5h-5zM868 248h5v5h-5zM872 248h5v5h-5zM876 248h5v5h-5zM892 252h5v5h-5zM896 252h5v5h-5zM536 264h5v5h-5zM540 268h5v5h-5zM552 280h9v9h-9zM760 276h5v5h-5zM756 280h5v5h-5zM752 284h5v5h-5zM776 268h5v5h-5zM792 260h5v5h-5zM784 264h5v5h-5zM768 272h5v5h-5zM800 256h5v5h-5zM904 256h5v5h-5zM908 256h5v5h-5zM920 260h5v5h-5zM924 260h5v5h-5zM936 264h9v9h-9zM944 272h9v9h-9zM944 280h9v9h-9zM560 288h9v9h-9zM568 296h9v9h-9zM568 304h9v9h-9zM572 312h5v5h-5zM568 316h5v5h-5zM748 288h5v5h-5zM744 296h9v9h-9zM748 304h5v5h-5zM748 308h5v5h-5zM752 312h5v5h-5zM756 316h5v5h-5zM948 288h5v5h-5zM944 292h5v5h-5zM928 308h5v5h-5zM520 348h5v5h-5zM536 340h5v5h-5zM528 344h5v5h-5zM548 332h5v5h-5zM556 328h5v5h-5zM564 320h5v5h-5zM560 324h5v5h-5zM544 336h5v5h-5zM764 320h5v5h-5zM772 324h5v5h-5zM780 328h5v5h-5zM784 328h5v5h-5zM800 332h5v5h-5zM852 332h5v5h-5zM856 332h5v5h-5zM880 328h5v5h-5zM904 320h5v5h-5zM436 368h5v5h-5zM484 360h5v5h-5z"/><path fill="#1559da" d="M804 252h5v5h-5zM808 252h5v5h-5zM820 248h5v5h-5zM824 248h5v5h-5zM828 248h5v5h-5zM880 248h5v5h-5zM884 248h5v5h-5zM888 248h5v5h-5zM900 252h5v5h-5zM904 252h5v5h-5zM540 264h5v5h-5zM544 272h9v9h-9zM560 280h9v9h-9zM748 284h5v5h-5zM756 276h5v5h-5zM764 272h5v5h-5zM752 280h5v5h-5zM772 268h5v5h-5zM780 264h5v5h-5zM788 260h5v5h-5zM796 256h5v5h-5zM912 256h5v5h-5zM916 256h5v5h-5zM920 256h5v5h-5zM944 256h17v17h-17zM568 288h9v9h-9zM572 316h5v5h-5zM576 312h5v5h-5zM744 288h5v5h-5zM744 292h5v5h-5zM744 304h5v5h-5zM748 312h5v5h-5zM752 316h5v5h-5zM916 316h5v5h-5zM924 312h5v5h-5zM940 300h5v5h-5zM948 292h5v5h-5zM944 296h5v5h-5zM936 304h5v5h-5zM552 332h5v5h-5zM564 324h5v5h-5zM568 320h5v5h-5zM760 320h5v5h-5zM768 324h5v5h-5zM776 328h5v5h-5zM792 332h5v5h-5zM796 332h5v5h-5zM860 332h5v5h-5zM896 324h5v5h-5zM400 368h5v5h-5zM468 364h5v5h-5zM500 356h5v5h-5zM512 352h5v5h-5z"/><path fill="#105bdd" d="M800 252h5v5h-5zM812 248h5v5h-5zM816 248h5v5h-5zM836 244h5v5h-5zM840 244h5v5h-5zM844 244h5v5h-5zM848 244h5v5h-5zM852 244h5v5h-5zM856 244h5v5h-5zM860 244h5v5h-5zM864 244h5v5h-5zM868 244h5v5h-5zM872 244h5v5h-5zM892 248h5v5h-5zM896 248h5v5h-5zM908 252h5v5h-5zM912 252h5v5h-5zM944 240h17v17h-17zM544 260h5v5h-5zM544 264h9v9h-9zM552 272h9v9h-9zM748 280h5v5h-5zM744 284h5v5h-5zM752 276h5v5h-5zM760 272h5v5h-5zM768 268h5v5h-5zM776 264h5v5h-5zM784 260h5v5h-5zM792 256h5v5h-5zM924 256h5v5h-5zM928 256h9v9h-9zM936 256h9v9h-9zM952 272h9v9h-9zM952 280h9v9h-9zM960 256h9v9h-9zM576 296h9v9h-9zM576 304h9v9h-9zM580 312h5v5h-5zM576 316h5v5h-5zM740 292h5v5h-5zM744 308h5v5h-5zM952 288h5v5h-5zM932 308h5v5h-5zM524 348h5v5h-5zM540 340h5v5h-5zM532 344h5v5h-5zM556 332h5v5h-5zM572 320h5v5h-5zM568 324h5v5h-5zM560 328h5v5h-5zM548 336h5v5h-5zM756 320h5v5h-5zM764 324h5v5h-5zM772 328h5v5h-5zM788 332h5v5h-5zM864 332h5v5h-5zM884 328h5v5h-5zM908 320h5v5h-5zM388 356h5v5h-5zM388 360h5v5h-5zM388 364h5v5h-5zM440 368h5v5h-5zM488 360h5v5h-5z"/><path fill="#0d5dde" d="M796 252h5v5h-5zM808 248h5v5h-5zM824 244h5v5h-5zM828 244h5v5h-5zM832 244h5v5h-5zM876 244h5v5h-5zM880 244h5v5h-5zM884 244h5v5h-5zM900 248h5v5h-5zM904 248h5v5h-5zM916 252h5v5h-5zM920 252h5v5h-5zM924 252h5v5h-5zM936 248h9v9h-9zM548 260h5v5h-5zM560 272h9v9h-9zM568 280h9v9h-9zM764 268h5v5h-5zM748 276h5v5h-5zM740 284h5v5h-5zM744 280h5v5h-5zM756 272h5v5h-5zM780 260h5v5h-5zM772 264h5v5h-5zM788 256h5v5h-5zM960 264h9v9h-9zM960 272h9v9h-9zM576 288h9v9h-9zM584 304h9v9h-9zM580 316h5v5h-5zM740 288h5v5h-5zM736 292h5v5h-5zM736 296h9v9h-9zM736 304h9v9h-9zM744 312h5v5h-5zM748 316h5v5h-5zM920 316h5v5h-5zM956 288h5v5h-5zM952 292h5v5h-5zM948 296h5v5h-5zM944 300h5v5h-5zM940 304h5v5h-5zM928 312h5v5h-5zM564 328h5v5h-5zM576 320h5v5h-5zM752 320h5v5h-5zM760 324h5v5h-5zM768 328h5v5h-5zM784 332h5v5h-5zM808 336h5v5h-5zM812 336h5v5h-5zM816 336h5v5h-5zM820 336h5v5h-5zM824 336h5v5h-5zM828 336h5v5h-5zM832 336h5v5h-5zM836 336h5v5h-5zM868 332h5v5h-5zM888 328h5v5h-5zM900 324h5v5h-5zM396 368h5v5h-5zM444 368h5v5h-5zM504 356h5v5h-5z"/><path fill="#0a5fdf" d="M792 252h5v5h-5zM800 248h5v5h-5zM804 248h5v5h-5zM816 244h5v5h-5zM820 244h5v5h-5zM840 240h5v5h-5zM844 240h5v5h-5zM848 240h5v5h-5zM852 240h5v5h-5zM856 240h5v5h-5zM860 240h5v5h-5zM864 240h5v5h-5zM868 240h5v5h-5zM872 240h5v5h-5zM888 244h5v5h-5zM892 244h5v5h-5zM896 244h5v5h-5zM908 248h5v5h-5zM912 248h5v5h-5zM936 240h9v9h-9zM928 248h9v9h-9zM548 256h5v5h-5zM552 264h9v9h-9zM576 280h9v9h-9zM756 268h5v5h-5zM764 264h5v5h-5zM760 268h5v5h-5zM744 276h5v5h-5zM740 280h5v5h-5zM752 272h5v5h-5zM776 260h5v5h-5zM768 264h5v5h-5zM784 256h5v5h-5zM968 264h9v9h-9zM968 272h9v9h-9zM960 280h9v9h-9zM584 296h9v9h-9zM584 312h9v9h-9zM736 288h5v5h-5zM740 312h5v5h-5zM744 316h5v5h-5zM956 292h5v5h-5zM952 296h5v5h-5zM936 308h5v5h-5zM960 288h5v5h-5zM536 344h5v5h-5zM572 324h5v5h-5zM560 332h5v5h-5zM568 328h5v5h-5zM544 340h5v5h-5zM552 336h5v5h-5zM580 320h5v5h-5zM748 320h5v5h-5zM756 324h5v5h-5zM780 332h5v5h-5zM800 336h5v5h-5zM804 336h5v5h-5zM840 336h5v5h-5zM844 336h5v5h-5zM848 336h5v5h-5zM872 332h5v5h-5zM912 320h5v5h-5zM384 356h5v5h-5zM384 360h5v5h-5zM384 364h5v5h-5zM472 364h5v5h-5zM516 352h5v5h-5z"/><path fill="#0760e0" d="M788 252h5v5h-5zM796 248h5v5h-5zM808 244h5v5h-5zM812 244h5v5h-5zM828 240h5v5h-5zM832 240h5v5h-5zM836 240h5v5h-5zM876 240h5v5h-5zM880 240h5v5h-5zM884 240h5v5h-5zM900 244h5v5h-5zM904 244h5v5h-5zM916 248h5v5h-5zM920 248h5v5h-5zM924 248h5v5h-5zM932 244h5v5h-5zM552 256h9v9h-9zM560 264h9v9h-9zM568 272h9v9h-9zM752 268h5v5h-5zM760 264h5v5h-5zM740 276h5v5h-5zM748 272h5v5h-5zM736 280h5v5h-5zM736 284h5v5h-5zM772 260h5v5h-5zM780 256h5v5h-5zM976 264h9v9h-9zM968 280h9v9h-9zM584 288h9v9h-9zM592 296h9v9h-9zM592 304h9v9h-9zM728 288h9v9h-9zM728 296h9v9h-9zM728 304h9v9h-9zM736 312h5v5h-5zM740 316h5v5h-5zM924 316h5v5h-5zM948 300h5v5h-5zM944 304h5v5h-5zM964 288h5v5h-5zM960 292h5v5h-5zM528 348h5v5h-5zM564 332h5v5h-5zM572 328h5v5h-5zM548 340h5v5h-5zM556 336h5v5h-5zM576 324h5v5h-5zM584 320h5v5h-5zM744 320h5v5h-5zM752 324h5v5h-5zM764 328h5v5h-5zM772 332h5v5h-5zM776 332h5v5h-5zM792 336h5v5h-5zM796 336h5v5h-5zM852 336h5v5h-5zM876 332h5v5h-5zM892 328h5v5h-5zM904 324h5v5h-5zM448 368h5v5h-5zM492 360h5v5h-5z"/><path fill="#0462e1" d="M552 248h9v9h-9zM784 252h5v5h-5zM792 248h5v5h-5zM804 244h5v5h-5zM820 240h5v5h-5zM824 240h5v5h-5zM852 236h5v5h-5zM856 236h5v5h-5zM860 236h5v5h-5zM864 236h5v5h-5zM888 240h5v5h-5zM892 240h5v5h-5zM896 240h5v5h-5zM908 244h5v5h-5zM912 244h5v5h-5zM932 240h5v5h-5zM928 244h5v5h-5zM576 272h9v9h-9zM584 280h9v9h-9zM732 280h5v5h-5zM728 284h5v5h-5zM732 284h5v5h-5zM748 268h5v5h-5zM764 260h5v5h-5zM756 264h5v5h-5zM736 276h5v5h-5zM744 272h5v5h-5zM768 260h5v5h-5zM776 256h5v5h-5zM976 272h9v9h-9zM592 288h9v9h-9zM592 312h9v9h-9zM732 312h5v5h-5zM736 316h5v5h-5zM956 296h5v5h-5zM952 300h5v5h-5zM940 308h5v5h-5zM932 312h5v5h-5zM968 288h5v5h-5zM540 344h5v5h-5zM580 324h5v5h-5zM588 320h5v5h-5zM740 320h5v5h-5zM748 324h5v5h-5zM756 328h5v5h-5zM760 328h5v5h-5zM768 332h5v5h-5zM784 336h5v5h-5zM788 336h5v5h-5zM856 336h5v5h-5zM860 336h5v5h-5zM880 332h5v5h-5zM916 320h5v5h-5zM392 368h5v5h-5zM476 364h5v5h-5zM508 356h5v5h-5zM520 352h5v5h-5z"/><path fill="#0364e1" d="M780 252h5v5h-5zM796 244h5v5h-5zM788 248h5v5h-5zM800 244h5v5h-5zM812 240h5v5h-5zM816 240h5v5h-5zM832 236h5v5h-5zM836 236h5v5h-5zM840 236h5v5h-5zM844 236h5v5h-5zM848 236h5v5h-5zM868 236h5v5h-5zM872 236h5v5h-5zM876 236h5v5h-5zM880 236h5v5h-5zM884 236h5v5h-5zM900 240h5v5h-5zM904 240h5v5h-5zM916 244h5v5h-5zM920 244h5v5h-5zM924 244h5v5h-5zM928 240h5v5h-5zM560 256h9v9h-9zM568 264h9v9h-9zM584 272h9v9h-9zM592 280h9v9h-9zM732 276h5v5h-5zM728 280h5v5h-5zM744 268h5v5h-5zM760 260h5v5h-5zM752 264h5v5h-5zM736 272h5v5h-5zM740 272h5v5h-5zM768 256h5v5h-5zM772 256h5v5h-5zM976 280h9v9h-9zM600 296h9v9h-9zM600 304h9v9h-9zM720 288h9v9h-9zM720 296h9v9h-9zM720 304h9v9h-9zM728 312h5v5h-5zM732 316h5v5h-5zM948 304h5v5h-5zM964 292h5v5h-5zM972 288h5v5h-5zM960 296h5v5h-5zM532 348h5v5h-5zM568 332h5v5h-5zM552 340h5v5h-5zM560 336h5v5h-5zM584 324h5v5h-5zM576 328h5v5h-5zM592 320h5v5h-5zM736 320h5v5h-5zM744 324h5v5h-5zM752 328h5v5h-5zM764 332h5v5h-5zM780 336h5v5h-5zM820 340h5v5h-5zM884 332h5v5h-5zM864 336h5v5h-5zM908 324h5v5h-5zM896 328h5v5h-5zM380 360h5v5h-5zM380 364h5v5h-5zM496 360h5v5h-5z"/><path fill="#0265e1" d="M560 248h9v9h-9zM772 252h5v5h-5zM776 252h5v5h-5zM792 244h5v5h-5zM784 248h5v5h-5zM820 236h5v5h-5zM824 236h5v5h-5zM828 236h5v5h-5zM804 240h5v5h-5zM808 240h5v5h-5zM888 236h5v5h-5zM892 236h5v5h-5zM896 236h5v5h-5zM908 240h5v5h-5zM912 240h5v5h-5zM916 240h5v5h-5zM920 240h5v5h-5zM924 240h5v5h-5zM928 232h9v9h-9zM568 256h9v9h-9zM576 264h9v9h-9zM732 272h5v5h-5zM728 276h5v5h-5zM720 280h9v9h-9zM740 268h5v5h-5zM748 264h5v5h-5zM756 260h5v5h-5zM764 256h5v5h-5zM984 272h9v9h-9zM984 280h9v9h-9zM600 288h9v9h-9zM600 312h9v9h-9zM608 296h9v9h-9zM608 304h9v9h-9zM712 296h9v9h-9zM720 312h5v5h-5zM724 312h5v5h-5zM728 316h5v5h-5zM956 300h5v5h-5zM928 316h5v5h-5zM936 312h5v5h-5zM944 308h5v5h-5zM968 292h5v5h-5zM976 288h5v5h-5zM980 288h5v5h-5zM572 332h5v5h-5zM544 344h5v5h-5zM564 336h5v5h-5zM588 324h5v5h-5zM580 328h5v5h-5zM596 320h5v5h-5zM732 320h5v5h-5zM740 324h5v5h-5zM748 328h5v5h-5zM760 332h5v5h-5zM776 336h5v5h-5zM800 340h5v5h-5zM804 340h5v5h-5zM808 340h5v5h-5zM812 340h5v5h-5zM816 340h5v5h-5zM824 340h5v5h-5zM828 340h5v5h-5zM832 340h5v5h-5zM836 340h5v5h-5zM868 336h5v5h-5zM900 328h5v5h-5zM920 320h5v5h-5zM388 368h5v5h-5zM452 368h5v5h-5zM480 364h5v5h-5zM512 356h5v5h-5zM524 352h5v5h-5z"/><path fill="#0266e1" d="M560 240h9v9h-9zM768 252h5v5h-5zM780 248h5v5h-5zM788 244h5v5h-5zM812 236h5v5h-5zM816 236h5v5h-5zM800 240h5v5h-5zM836 232h5v5h-5zM840 232h5v5h-5zM844 232h5v5h-5zM848 232h5v5h-5zM852 232h5v5h-5zM856 232h5v5h-5zM860 232h5v5h-5zM864 232h5v5h-5zM868 232h5v5h-5zM872 232h5v5h-5zM876 232h5v5h-5zM880 232h5v5h-5zM900 236h5v5h-5zM904 236h5v5h-5zM924 228h5v5h-5zM920 232h9v9h-9zM584 264h9v9h-9zM592 272h9v9h-9zM600 280h9v9h-9zM724 276h5v5h-5zM728 272h5v5h-5zM748 260h5v5h-5zM740 264h5v5h-5zM736 268h5v5h-5zM744 264h5v5h-5zM752 260h5v5h-5zM760 256h5v5h-5zM608 288h9v9h-9zM616 296h9v9h-9zM616 304h9v9h-9zM608 312h9v9h-9zM712 288h9v9h-9zM712 304h9v9h-9zM720 316h5v5h-5zM724 316h5v5h-5zM952 304h5v5h-5zM972 292h5v5h-5zM964 296h5v5h-5zM984 288h5v5h-5zM536 348h5v5h-5zM556 340h5v5h-5zM576 332h5v5h-5zM584 328h5v5h-5zM592 324h5v5h-5zM596 324h5v5h-5zM600 320h5v5h-5zM604 320h5v5h-5zM728 320h5v5h-5zM736 324h5v5h-5zM744 328h5v5h-5zM756 332h5v5h-5zM772 336h5v5h-5zM792 340h5v5h-5zM796 340h5v5h-5zM840 340h5v5h-5zM844 340h5v5h-5zM888 332h5v5h-5zM872 336h5v5h-5zM912 324h5v5h-5zM500 360h5v5h-5z"/><path fill="#0268e1" d="M568 248h9v9h-9zM764 252h5v5h-5zM772 248h5v5h-5zM776 248h5v5h-5zM784 244h5v5h-5zM792 240h5v5h-5zM796 240h5v5h-5zM808 236h5v5h-5zM824 232h5v5h-5zM828 232h5v5h-5zM832 232h5v5h-5zM884 232h5v5h-5zM888 232h5v5h-5zM892 232h5v5h-5zM896 232h5v5h-5zM908 236h5v5h-5zM920 228h5v5h-5zM912 232h9v9h-9zM576 256h9v9h-9zM592 264h9v9h-9zM600 272h9v9h-9zM608 280h9v9h-9zM728 268h5v5h-5zM732 268h5v5h-5zM712 280h9v9h-9zM724 272h5v5h-5zM720 276h5v5h-5zM744 260h5v5h-5zM736 264h5v5h-5zM756 256h5v5h-5zM992 280h5v5h-5zM992 284h5v5h-5zM616 288h9v9h-9zM624 296h9v9h-9zM616 312h9v9h-9zM624 304h9v9h-9zM704 288h9v9h-9zM704 296h9v9h-9zM704 304h9v9h-9zM712 312h9v9h-9zM932 316h5v5h-5zM940 312h5v5h-5zM948 308h5v5h-5zM960 300h5v5h-5zM968 296h5v5h-5zM976 292h5v5h-5zM980 292h5v5h-5zM988 288h5v5h-5zM548 344h5v5h-5zM560 340h5v5h-5zM568 336h5v5h-5zM580 332h5v5h-5zM588 328h5v5h-5zM600 324h5v5h-5zM608 320h5v5h-5zM724 320h5v5h-5zM732 324h5v5h-5zM740 328h5v5h-5zM752 332h5v5h-5zM764 336h5v5h-5zM768 336h5v5h-5zM784 340h5v5h-5zM788 340h5v5h-5zM848 340h5v5h-5zM852 340h5v5h-5zM904 328h5v5h-5zM924 320h5v5h-5zM456 368h5v5h-5zM516 356h5v5h-5zM528 352h5v5h-5z"/><path fill="#0269e1" d="M568 240h9v9h-9zM576 248h9v9h-9zM760 252h5v5h-5zM780 244h5v5h-5zM768 248h5v5h-5zM788 240h5v5h-5zM800 236h5v5h-5zM804 236h5v5h-5zM816 232h5v5h-5zM820 232h5v5h-5zM844 228h5v5h-5zM848 228h5v5h-5zM852 228h5v5h-5zM856 228h5v5h-5zM860 228h5v5h-5zM864 228h5v5h-5zM868 228h5v5h-5zM872 228h5v5h-5zM876 228h5v5h-5zM880 228h5v5h-5zM900 232h5v5h-5zM904 232h5v5h-5zM908 232h5v5h-5zM920 224h5v5h-5zM584 256h9v9h-9zM608 272h9v9h-9zM616 280h9v9h-9zM724 268h5v5h-5zM732 264h5v5h-5zM712 272h9v9h-9zM704 280h9v9h-9zM720 272h5v5h-5zM740 260h5v5h-5zM748 256h5v5h-5zM752 256h5v5h-5zM996 280h5v5h-5zM624 288h9v9h-9zM632 296h9v9h-9zM632 304h9v9h-9zM624 312h9v9h-9zM688 288h17v17h-17zM696 304h9v9h-9zM704 312h9v9h-9zM956 304h5v5h-5zM964 300h5v5h-5zM972 296h5v5h-5zM984 292h5v5h-5zM988 292h5v5h-5zM992 288h5v5h-5zM540 348h5v5h-5zM552 344h5v5h-5zM572 336h5v5h-5zM584 332h5v5h-5zM604 324h5v5h-5zM592 328h5v5h-5zM596 328h5v5h-5zM612 320h5v5h-5zM608 324h5v5h-5zM616 320h5v5h-5zM620 320h5v5h-5zM716 320h5v5h-5zM720 320h5v5h-5zM724 324h5v5h-5zM728 324h5v5h-5zM736 328h5v5h-5zM748 332h5v5h-5zM760 336h5v5h-5zM780 340h5v5h-5zM856 340h5v5h-5zM892 332h5v5h-5zM876 336h5v5h-5zM916 324h5v5h-5zM376 360h5v5h-5zM376 364h5v5h-5zM384 368h5v5h-5zM484 364h5v5h-5z"/><path fill="#036ae1" d="M568 232h9v9h-9zM576 240h9v9h-9zM584 248h9v9h-9zM752 252h5v5h-5zM756 252h5v5h-5zM764 248h5v5h-5zM796 236h5v5h-5zM772 244h5v5h-5zM776 244h5v5h-5zM784 240h5v5h-5zM808 232h5v5h-5zM812 232h5v5h-5zM828 228h5v5h-5zM832 228h5v5h-5zM836 228h5v5h-5zM840 228h5v5h-5zM884 228h5v5h-5zM888 228h5v5h-5zM892 228h5v5h-5zM896 228h5v5h-5zM912 224h9v9h-9zM592 256h9v9h-9zM600 264h9v9h-9zM624 280h9v9h-9zM696 280h9v9h-9zM732 260h5v5h-5zM720 268h5v5h-5zM728 264h5v5h-5zM736 260h5v5h-5zM744 256h5v5h-5zM996 284h5v5h-5zM632 288h9v9h-9zM632 312h9v9h-9zM640 288h33v33h-33zM672 288h17v17h-17zM688 304h9v9h-9zM696 312h9v9h-9zM936 316h5v5h-5zM952 308h5v5h-5zM944 312h5v5h-5zM976 296h5v5h-5zM996 288h5v5h-5zM992 292h5v5h-5zM564 340h5v5h-5zM588 332h5v5h-5zM600 328h5v5h-5zM576 336h5v5h-5zM612 324h5v5h-5zM616 324h5v5h-5zM708 320h5v5h-5zM712 320h5v5h-5zM720 324h5v5h-5zM732 328h5v5h-5zM744 332h5v5h-5zM756 336h5v5h-5zM772 340h5v5h-5zM776 340h5v5h-5zM808 344h5v5h-5zM812 344h5v5h-5zM816 344h5v5h-5zM820 344h5v5h-5zM860 340h5v5h-5zM880 336h5v5h-5zM896 332h5v5h-5zM908 328h5v5h-5zM928 320h5v5h-5zM504 360h5v5h-5z"/><path fill="#036be0" d="M748 252h5v5h-5zM756 248h5v5h-5zM760 248h5v5h-5zM788 236h5v5h-5zM792 236h5v5h-5zM768 244h5v5h-5zM780 240h5v5h-5zM800 232h5v5h-5zM804 232h5v5h-5zM816 228h5v5h-5zM820 228h5v5h-5zM824 228h5v5h-5zM852 224h5v5h-5zM856 224h5v5h-5zM860 224h5v5h-5zM864 224h5v5h-5zM868 224h5v5h-5zM872 224h5v5h-5zM900 228h5v5h-5zM904 224h9v9h-9zM600 256h9v9h-9zM608 264h9v9h-9zM616 272h9v9h-9zM624 272h9v9h-9zM632 280h9v9h-9zM640 280h9v9h-9zM688 280h9v9h-9zM712 268h5v5h-5zM716 268h5v5h-5zM728 260h5v5h-5zM720 264h5v5h-5zM724 264h5v5h-5zM704 272h9v9h-9zM736 256h5v5h-5zM740 256h5v5h-5zM1000 284h5v5h-5zM672 304h17v17h-17zM688 312h9v9h-9zM968 300h5v5h-5zM980 296h5v5h-5zM960 304h5v5h-5zM996 292h5v5h-5zM544 348h5v5h-5zM556 344h5v5h-5zM568 340h5v5h-5zM592 332h5v5h-5zM604 328h5v5h-5zM580 336h5v5h-5zM620 324h5v5h-5zM608 328h5v5h-5zM624 320h9v9h-9zM632 320h9v9h-9zM704 320h5v5h-5zM712 324h5v5h-5zM716 324h5v5h-5zM724 328h5v5h-5zM728 328h5v5h-5zM736 332h5v5h-5zM740 332h5v5h-5zM752 336h5v5h-5zM768 340h5v5h-5zM796 344h5v5h-5zM800 344h5v5h-5zM804 344h5v5h-5zM824 344h5v5h-5zM828 344h5v5h-5zM832 344h5v5h-5zM836 344h5v5h-5zM864 340h5v5h-5zM884 336h5v5h-5zM920 324h5v5h-5zM460 368h5v5h-5zM488 364h5v5h-5zM520 356h5v5h-5zM532 352h5v5h-5z"/><path fill="#046ce0" d="M912 216h9v9h-9zM576 232h9v9h-9zM584 240h9v9h-9zM592 248h9v9h-9zM740 252h5v5h-5zM744 252h5v5h-5zM760 244h5v5h-5zM764 244h5v5h-5zM752 248h5v5h-5zM784 236h5v5h-5zM796 232h5v5h-5zM772 240h5v5h-5zM776 240h5v5h-5zM808 228h5v5h-5zM812 228h5v5h-5zM832 224h5v5h-5zM836 224h5v5h-5zM840 224h5v5h-5zM844 224h5v5h-5zM848 224h5v5h-5zM876 224h5v5h-5zM880 224h5v5h-5zM884 224h5v5h-5zM888 224h5v5h-5zM892 224h5v5h-5zM896 224h5v5h-5zM608 256h9v9h-9zM616 264h9v9h-9zM632 272h9v9h-9zM648 280h9v9h-9zM656 280h9v9h-9zM664 280h9v9h-9zM672 280h9v9h-9zM680 280h9v9h-9zM688 272h9v9h-9zM696 272h9v9h-9zM712 264h5v5h-5zM716 264h5v5h-5zM720 260h5v5h-5zM724 260h5v5h-5zM732 256h5v5h-5zM940 316h5v5h-5zM956 308h5v5h-5zM948 312h5v5h-5zM972 300h5v5h-5zM984 296h5v5h-5zM988 296h5v5h-5zM964 304h5v5h-5zM1000 288h5v5h-5zM572 340h5v5h-5zM596 332h5v5h-5zM600 332h5v5h-5zM584 336h5v5h-5zM612 328h5v5h-5zM616 328h5v5h-5zM620 328h5v5h-5zM640 320h9v9h-9zM648 320h9v9h-9zM696 320h9v9h-9zM704 324h5v5h-5zM708 324h5v5h-5zM716 328h5v5h-5zM720 328h5v5h-5zM732 332h5v5h-5zM748 336h5v5h-5zM764 340h5v5h-5zM784 344h5v5h-5zM788 344h5v5h-5zM792 344h5v5h-5zM840 344h5v5h-5zM844 344h5v5h-5zM868 340h5v5h-5zM900 332h5v5h-5zM912 328h5v5h-5zM932 320h5v5h-5zM508 360h5v5h-5z"/><path fill="#056de0" d="M908 216h5v5h-5zM904 220h5v5h-5zM908 220h5v5h-5zM584 232h9v9h-9zM592 240h9v9h-9zM600 248h9v9h-9zM732 252h5v5h-5zM736 252h5v5h-5zM744 248h5v5h-5zM748 248h5v5h-5zM756 244h5v5h-5zM776 236h5v5h-5zM780 236h5v5h-5zM788 232h5v5h-5zM792 232h5v5h-5zM768 240h5v5h-5zM804 228h5v5h-5zM820 224h5v5h-5zM824 224h5v5h-5zM828 224h5v5h-5zM900 224h5v5h-5zM624 264h9v9h-9zM640 272h9v9h-9zM648 272h9v9h-9zM656 272h9v9h-9zM664 272h9v9h-9zM672 272h9v9h-9zM680 272h9v9h-9zM716 260h5v5h-5zM704 264h9v9h-9zM724 256h5v5h-5zM728 256h5v5h-5zM1004 284h5v5h-5zM976 300h5v5h-5zM1004 288h5v5h-5zM1000 292h5v5h-5zM992 296h5v5h-5zM996 296h5v5h-5zM548 348h5v5h-5zM560 344h5v5h-5zM604 332h5v5h-5zM588 336h5v5h-5zM608 332h5v5h-5zM624 328h5v5h-5zM628 328h5v5h-5zM632 328h5v5h-5zM656 320h9v9h-9zM664 320h9v9h-9zM672 320h9v9h-9zM680 320h9v9h-9zM688 320h9v9h-9zM712 328h5v5h-5zM728 332h5v5h-5zM740 336h5v5h-5zM744 336h5v5h-5zM756 340h5v5h-5zM760 340h5v5h-5zM780 344h5v5h-5zM848 344h5v5h-5zM872 340h5v5h-5zM888 336h5v5h-5zM924 324h5v5h-5zM372 360h5v5h-5zM372 364h5v5h-5zM464 368h5v5h-5zM492 364h5v5h-5zM524 356h5v5h-5zM536 352h5v5h-5z"/><path fill="#066edf" d="M836 220h5v5h-5zM840 220h5v5h-5zM844 220h5v5h-5zM848 220h5v5h-5zM852 220h5v5h-5zM856 220h5v5h-5zM860 220h5v5h-5zM864 220h5v5h-5zM868 220h5v5h-5zM872 220h5v5h-5zM876 220h5v5h-5zM880 220h5v5h-5zM884 220h5v5h-5zM888 220h5v5h-5zM892 220h5v5h-5zM896 220h5v5h-5zM900 220h5v5h-5zM904 216h5v5h-5zM600 240h9v9h-9zM608 248h9v9h-9zM728 252h5v5h-5zM748 244h5v5h-5zM740 248h5v5h-5zM752 244h5v5h-5zM760 240h5v5h-5zM764 240h5v5h-5zM772 236h5v5h-5zM796 228h5v5h-5zM784 232h5v5h-5zM800 228h5v5h-5zM812 224h5v5h-5zM816 224h5v5h-5zM616 256h9v9h-9zM632 264h9v9h-9zM640 264h9v9h-9zM688 264h9v9h-9zM696 264h9v9h-9zM716 256h5v5h-5zM712 260h5v5h-5zM720 256h5v5h-5zM944 316h5v5h-5zM952 312h5v5h-5zM980 300h5v5h-5zM960 308h5v5h-5zM968 304h5v5h-5zM1004 292h5v5h-5zM1000 296h5v5h-5zM552 348h5v5h-5zM564 344h5v5h-5zM576 340h5v5h-5zM592 336h5v5h-5zM612 332h5v5h-5zM616 332h5v5h-5zM636 328h5v5h-5zM640 328h5v5h-5zM644 328h5v5h-5zM648 328h5v5h-5zM700 328h5v5h-5zM704 328h5v5h-5zM708 328h5v5h-5zM720 332h5v5h-5zM724 332h5v5h-5zM736 336h5v5h-5zM752 340h5v5h-5zM772 344h5v5h-5zM776 344h5v5h-5zM852 344h5v5h-5zM856 344h5v5h-5zM876 340h5v5h-5zM892 336h5v5h-5zM904 332h5v5h-5zM916 328h5v5h-5zM936 320h5v5h-5zM380 368h5v5h-5zM512 360h5v5h-5z"/><path fill="#076fdf" d="M824 220h5v5h-5zM828 220h5v5h-5zM832 220h5v5h-5zM908 212h5v5h-5zM900 216h5v5h-5zM584 224h9v9h-9zM592 232h9v9h-9zM616 248h9v9h-9zM720 252h5v5h-5zM724 252h5v5h-5zM732 248h5v5h-5zM744 244h5v5h-5zM736 248h5v5h-5zM756 240h5v5h-5zM768 236h5v5h-5zM776 232h5v5h-5zM780 232h5v5h-5zM792 228h5v5h-5zM804 224h5v5h-5zM808 224h5v5h-5zM624 256h9v9h-9zM632 256h9v9h-9zM648 264h9v9h-9zM656 264h9v9h-9zM664 264h9v9h-9zM672 264h9v9h-9zM680 264h9v9h-9zM704 256h9v9h-9zM712 256h5v5h-5zM956 312h5v5h-5zM984 300h5v5h-5zM988 300h5v5h-5zM964 308h5v5h-5zM972 304h5v5h-5zM1004 296h5v5h-5zM1008 288h5v5h-5zM1008 292h5v5h-5zM568 344h5v5h-5zM580 340h5v5h-5zM596 336h5v5h-5zM600 336h5v5h-5zM620 332h5v5h-5zM624 332h5v5h-5zM628 332h5v5h-5zM652 328h5v5h-5zM656 328h5v5h-5zM660 328h5v5h-5zM664 328h5v5h-5zM668 328h5v5h-5zM672 328h5v5h-5zM676 328h5v5h-5zM680 328h5v5h-5zM684 328h5v5h-5zM688 328h5v5h-5zM692 328h5v5h-5zM696 328h5v5h-5zM712 332h5v5h-5zM716 332h5v5h-5zM728 336h5v5h-5zM732 336h5v5h-5zM748 340h5v5h-5zM768 344h5v5h-5zM800 348h5v5h-5zM804 348h5v5h-5zM808 348h5v5h-5zM812 348h5v5h-5zM816 348h5v5h-5zM820 348h5v5h-5zM824 348h5v5h-5zM860 344h5v5h-5zM928 324h5v5h-5zM468 368h5v5h-5zM528 356h5v5h-5zM540 352h5v5h-5z"/><path fill="#0870df" d="M592 220h5v5h-5zM816 220h5v5h-5zM820 220h5v5h-5zM840 216h5v5h-5zM844 216h5v5h-5zM848 216h5v5h-5zM852 216h5v5h-5zM856 216h5v5h-5zM860 216h5v5h-5zM864 216h5v5h-5zM868 216h5v5h-5zM872 216h5v5h-5zM876 216h5v5h-5zM880 216h5v5h-5zM884 216h5v5h-5zM888 216h5v5h-5zM892 216h5v5h-5zM904 212h5v5h-5zM896 216h5v5h-5zM592 224h9v9h-9zM600 232h9v9h-9zM608 240h9v9h-9zM624 248h9v9h-9zM712 252h5v5h-5zM716 252h5v5h-5zM724 248h5v5h-5zM728 248h5v5h-5zM760 236h5v5h-5zM764 236h5v5h-5zM736 244h5v5h-5zM740 244h5v5h-5zM748 240h5v5h-5zM752 240h5v5h-5zM772 232h5v5h-5zM784 228h5v5h-5zM788 228h5v5h-5zM796 224h5v5h-5zM800 224h5v5h-5zM640 256h9v9h-9zM688 256h9v9h-9zM696 256h9v9h-9zM948 316h5v5h-5zM976 304h5v5h-5zM992 300h5v5h-5zM996 300h5v5h-5zM1012 288h5v5h-5zM1008 296h5v5h-5zM556 348h5v5h-5zM572 344h5v5h-5zM584 340h5v5h-5zM588 340h5v5h-5zM604 336h5v5h-5zM632 332h5v5h-5zM636 332h5v5h-5zM608 336h5v5h-5zM640 332h5v5h-5zM644 332h5v5h-5zM648 332h5v5h-5zM700 332h5v5h-5zM704 332h5v5h-5zM708 332h5v5h-5zM724 336h5v5h-5zM740 340h5v5h-5zM744 340h5v5h-5zM760 344h5v5h-5zM764 344h5v5h-5zM788 348h5v5h-5zM792 348h5v5h-5zM796 348h5v5h-5zM828 348h5v5h-5zM832 348h5v5h-5zM836 348h5v5h-5zM864 344h5v5h-5zM880 340h5v5h-5zM908 332h5v5h-5zM920 328h5v5h-5zM896 336h5v5h-5zM940 320h5v5h-5zM496 364h5v5h-5zM516 360h5v5h-5zM544 352h5v5h-5z"/><path fill="#0971de" d="M596 220h5v5h-5zM808 220h5v5h-5zM812 220h5v5h-5zM828 216h5v5h-5zM832 216h5v5h-5zM836 216h5v5h-5zM900 208h5v5h-5zM896 212h5v5h-5zM900 212h5v5h-5zM904 208h5v5h-5zM608 232h9v9h-9zM616 240h9v9h-9zM632 248h9v9h-9zM704 252h5v5h-5zM708 252h5v5h-5zM716 248h5v5h-5zM728 244h5v5h-5zM732 244h5v5h-5zM720 248h5v5h-5zM752 236h5v5h-5zM756 236h5v5h-5zM764 232h5v5h-5zM740 240h5v5h-5zM744 240h5v5h-5zM780 228h5v5h-5zM768 232h5v5h-5zM792 224h5v5h-5zM648 256h9v9h-9zM656 256h9v9h-9zM664 256h9v9h-9zM672 256h9v9h-9zM680 256h9v9h-9zM968 308h5v5h-5zM960 312h5v5h-5zM980 304h5v5h-5zM1000 300h5v5h-5zM1004 300h5v5h-5zM1012 292h5v5h-5zM560 348h5v5h-5zM576 344h5v5h-5zM592 340h5v5h-5zM612 336h5v5h-5zM616 336h5v5h-5zM620 336h5v5h-5zM652 332h5v5h-5zM656 332h5v5h-5zM660 332h5v5h-5zM664 332h5v5h-5zM668 332h5v5h-5zM672 332h5v5h-5zM676 332h5v5h-5zM680 332h5v5h-5zM684 332h5v5h-5zM688 332h5v5h-5zM692 332h5v5h-5zM696 332h5v5h-5zM716 336h5v5h-5zM720 336h5v5h-5zM736 340h5v5h-5zM756 344h5v5h-5zM780 348h5v5h-5zM784 348h5v5h-5zM840 348h5v5h-5zM844 348h5v5h-5zM868 344h5v5h-5zM884 340h5v5h-5zM932 324h5v5h-5zM368 356h5v5h-5zM368 360h5v5h-5zM368 364h5v5h-5zM532 356h5v5h-5z"/><path fill="#0a72de" d="M596 216h5v5h-5zM800 220h5v5h-5zM804 220h5v5h-5zM816 216h5v5h-5zM820 216h5v5h-5zM824 216h5v5h-5zM848 212h5v5h-5zM852 212h5v5h-5zM856 212h5v5h-5zM860 212h5v5h-5zM864 212h5v5h-5zM868 212h5v5h-5zM872 212h5v5h-5zM876 212h5v5h-5zM880 212h5v5h-5zM884 212h5v5h-5zM888 212h5v5h-5zM892 212h5v5h-5zM600 224h9v9h-9zM616 232h9v9h-9zM624 240h9v9h-9zM640 248h9v9h-9zM648 248h9v9h-9zM696 248h9v9h-9zM704 248h5v5h-5zM708 248h5v5h-5zM712 248h5v5h-5zM720 244h5v5h-5zM724 244h5v5h-5zM732 240h5v5h-5zM748 236h5v5h-5zM760 232h5v5h-5zM736 240h5v5h-5zM772 228h5v5h-5zM776 228h5v5h-5zM784 224h5v5h-5zM788 224h5v5h-5zM952 316h5v5h-5zM972 308h5v5h-5zM984 304h5v5h-5zM988 304h5v5h-5zM1016 288h5v5h-5zM1016 292h5v5h-5zM1012 296h5v5h-5zM1008 300h5v5h-5zM564 348h5v5h-5zM580 344h5v5h-5zM596 340h5v5h-5zM600 340h5v5h-5zM624 336h5v5h-5zM628 336h5v5h-5zM632 336h5v5h-5zM636 336h5v5h-5zM640 336h5v5h-5zM704 336h5v5h-5zM708 336h5v5h-5zM712 336h5v5h-5zM728 340h5v5h-5zM732 340h5v5h-5zM748 344h5v5h-5zM752 344h5v5h-5zM772 348h5v5h-5zM776 348h5v5h-5zM848 348h5v5h-5zM888 340h5v5h-5zM912 332h5v5h-5zM924 328h5v5h-5zM900 336h5v5h-5zM944 320h5v5h-5zM472 368h5v5h-5zM500 364h5v5h-5zM520 360h5v5h-5zM548 352h5v5h-5z"/><path fill="#0b73dd" d="M600 216h9v9h-9zM792 220h5v5h-5zM796 220h5v5h-5zM808 216h5v5h-5zM812 216h5v5h-5zM832 212h5v5h-5zM836 212h5v5h-5zM840 212h5v5h-5zM844 212h5v5h-5zM900 204h5v5h-5zM896 208h5v5h-5zM608 224h9v9h-9zM632 240h9v9h-9zM640 240h9v9h-9zM656 248h9v9h-9zM664 248h9v9h-9zM672 248h9v9h-9zM680 248h9v9h-9zM688 248h9v9h-9zM708 244h5v5h-5zM712 244h5v5h-5zM716 244h5v5h-5zM724 240h5v5h-5zM728 240h5v5h-5zM740 236h5v5h-5zM744 236h5v5h-5zM764 228h5v5h-5zM752 232h5v5h-5zM756 232h5v5h-5zM768 228h5v5h-5zM780 224h5v5h-5zM956 316h5v5h-5zM964 312h5v5h-5zM976 308h5v5h-5zM1012 300h5v5h-5zM1016 296h5v5h-5zM992 304h5v5h-5zM996 304h5v5h-5zM568 348h5v5h-5zM584 344h5v5h-5zM604 340h5v5h-5zM608 340h5v5h-5zM644 336h5v5h-5zM648 336h5v5h-5zM652 336h5v5h-5zM656 336h5v5h-5zM660 336h5v5h-5zM664 336h5v5h-5zM684 336h5v5h-5zM688 336h5v5h-5zM692 336h5v5h-5zM696 336h5v5h-5zM700 336h5v5h-5zM720 340h5v5h-5zM724 340h5v5h-5zM744 344h5v5h-5zM764 348h5v5h-5zM768 348h5v5h-5zM852 348h5v5h-5zM872 344h5v5h-5zM936 324h5v5h-5zM376 368h5v5h-5zM536 356h5v5h-5zM552 352h5v5h-5z"/><path fill="#0c74dd" d="M604 212h5v5h-5zM608 220h5v5h-5zM784 220h5v5h-5zM788 220h5v5h-5zM800 216h5v5h-5zM804 216h5v5h-5zM820 212h5v5h-5zM824 212h5v5h-5zM828 212h5v5h-5zM856 208h5v5h-5zM860 208h5v5h-5zM892 204h5v5h-5zM864 208h5v5h-5zM868 208h5v5h-5zM872 208h5v5h-5zM876 208h5v5h-5zM880 208h5v5h-5zM884 208h5v5h-5zM888 208h5v5h-5zM892 208h5v5h-5zM896 200h5v5h-5zM900 200h5v5h-5zM896 204h5v5h-5zM616 224h9v9h-9zM624 232h9v9h-9zM632 232h9v9h-9zM648 240h9v9h-9zM728 236h5v5h-5zM732 236h5v5h-5zM704 244h5v5h-5zM712 240h5v5h-5zM716 240h5v5h-5zM720 240h5v5h-5zM736 236h5v5h-5zM744 232h5v5h-5zM748 232h5v5h-5zM760 228h5v5h-5zM772 224h5v5h-5zM776 224h5v5h-5zM968 312h5v5h-5zM980 308h5v5h-5zM1020 292h5v5h-5zM1016 300h5v5h-5zM1000 304h5v5h-5zM1004 304h5v5h-5zM572 348h5v5h-5zM588 344h5v5h-5zM612 340h5v5h-5zM616 340h5v5h-5zM620 340h5v5h-5zM624 340h5v5h-5zM668 336h5v5h-5zM672 336h5v5h-5zM676 336h5v5h-5zM680 336h5v5h-5zM712 340h5v5h-5zM716 340h5v5h-5zM736 344h5v5h-5zM740 344h5v5h-5zM760 348h5v5h-5zM856 348h5v5h-5zM876 344h5v5h-5zM892 340h5v5h-5zM916 332h5v5h-5zM904 336h5v5h-5zM928 328h5v5h-5zM948 320h5v5h-5zM476 368h5v5h-5zM504 364h5v5h-5zM524 360h5v5h-5zM540 356h5v5h-5zM792 352h5v5h-5zM796 352h5v5h-5zM800 352h5v5h-5zM804 352h5v5h-5zM808 352h5v5h-5zM812 352h5v5h-5zM816 352h5v5h-5zM820 352h5v5h-5zM824 352h5v5h-5zM828 352h5v5h-5z"/><path fill="#0d75dc" d="M608 216h5v5h-5zM612 220h5v5h-5zM780 220h5v5h-5zM792 216h5v5h-5zM796 216h5v5h-5zM812 212h5v5h-5zM816 212h5v5h-5zM836 208h5v5h-5zM840 208h5v5h-5zM844 208h5v5h-5zM848 208h5v5h-5zM852 208h5v5h-5zM892 200h5v5h-5zM888 204h5v5h-5zM896 196h5v5h-5zM640 232h9v9h-9zM656 240h9v9h-9zM664 240h9v9h-9zM672 240h9v9h-9zM680 240h9v9h-9zM688 240h9v9h-9zM696 240h9v9h-9zM720 236h5v5h-5zM724 236h5v5h-5zM704 240h5v5h-5zM708 240h5v5h-5zM736 232h5v5h-5zM740 232h5v5h-5zM752 228h5v5h-5zM756 228h5v5h-5zM764 224h5v5h-5zM768 224h5v5h-5zM960 316h5v5h-5zM972 312h5v5h-5zM984 308h5v5h-5zM1020 296h5v5h-5zM1020 300h5v5h-5zM1008 304h5v5h-5zM1012 304h5v5h-5zM576 348h5v5h-5zM592 344h5v5h-5zM596 344h5v5h-5zM628 340h5v5h-5zM632 340h5v5h-5zM636 340h5v5h-5zM640 340h5v5h-5zM644 340h5v5h-5zM700 340h5v5h-5zM704 340h5v5h-5zM708 340h5v5h-5zM728 344h5v5h-5zM732 344h5v5h-5zM752 348h5v5h-5zM756 348h5v5h-5zM860 348h5v5h-5zM880 344h5v5h-5zM908 336h5v5h-5zM940 324h5v5h-5zM556 352h5v5h-5zM780 352h5v5h-5zM784 352h5v5h-5zM788 352h5v5h-5zM832 352h5v5h-5zM836 352h5v5h-5z"/><path fill="#0e76dc" d="M608 212h5v5h-5zM612 216h5v5h-5zM616 220h5v5h-5zM620 220h5v5h-5zM772 220h5v5h-5zM776 220h5v5h-5zM784 216h5v5h-5zM788 216h5v5h-5zM800 212h5v5h-5zM804 212h5v5h-5zM808 212h5v5h-5zM824 208h5v5h-5zM828 208h5v5h-5zM832 208h5v5h-5zM868 204h5v5h-5zM872 204h5v5h-5zM876 204h5v5h-5zM880 204h5v5h-5zM884 204h5v5h-5zM624 224h9v9h-9zM648 232h9v9h-9zM704 236h5v5h-5zM708 236h5v5h-5zM712 236h5v5h-5zM716 236h5v5h-5zM724 232h5v5h-5zM728 232h5v5h-5zM732 232h5v5h-5zM744 228h5v5h-5zM748 228h5v5h-5zM756 224h5v5h-5zM760 224h5v5h-5zM964 316h5v5h-5zM988 308h5v5h-5zM976 312h5v5h-5zM992 308h5v5h-5zM1016 304h5v5h-5zM1024 292h5v5h-5zM1024 296h5v5h-5zM580 348h5v5h-5zM600 344h5v5h-5zM604 344h5v5h-5zM608 344h5v5h-5zM648 340h5v5h-5zM652 340h5v5h-5zM656 340h5v5h-5zM660 340h5v5h-5zM664 340h5v5h-5zM668 340h5v5h-5zM672 340h5v5h-5zM676 340h5v5h-5zM680 340h5v5h-5zM684 340h5v5h-5zM688 340h5v5h-5zM692 340h5v5h-5zM696 340h5v5h-5zM720 344h5v5h-5zM724 344h5v5h-5zM744 348h5v5h-5zM748 348h5v5h-5zM864 348h5v5h-5zM920 332h5v5h-5zM896 340h5v5h-5zM932 328h5v5h-5zM952 320h5v5h-5zM508 364h5v5h-5zM480 368h5v5h-5zM528 360h5v5h-5zM544 356h5v5h-5zM560 352h5v5h-5zM772 352h5v5h-5zM776 352h5v5h-5zM840 352h5v5h-5zM844 352h5v5h-5zM784 672h17v17h-17zM800 672h17v17h-17zM816 672h17v17h-17zM800 688h9v9h-9zM808 688h9v9h-9z"/><path fill="#0f77db" d="M608 208h5v5h-5zM612 208h5v5h-5zM612 212h5v5h-5zM616 216h5v5h-5zM620 216h5v5h-5zM624 220h5v5h-5zM628 220h5v5h-5zM764 220h5v5h-5zM768 220h5v5h-5zM780 216h5v5h-5zM792 212h5v5h-5zM796 212h5v5h-5zM812 208h5v5h-5zM816 208h5v5h-5zM820 208h5v5h-5zM840 204h5v5h-5zM844 204h5v5h-5zM848 204h5v5h-5zM852 204h5v5h-5zM856 204h5v5h-5zM860 204h5v5h-5zM864 204h5v5h-5zM892 196h5v5h-5zM888 200h5v5h-5zM632 224h9v9h-9zM640 224h9v9h-9zM656 232h9v9h-9zM664 232h9v9h-9zM696 232h9v9h-9zM712 232h5v5h-5zM716 232h5v5h-5zM732 228h5v5h-5zM720 232h5v5h-5zM736 228h5v5h-5zM740 228h5v5h-5zM748 224h5v5h-5zM752 224h5v5h-5zM980 312h5v5h-5zM996 308h5v5h-5zM1000 308h5v5h-5zM1020 304h5v5h-5zM1028 296h5v5h-5zM1024 300h5v5h-5zM1024 304h5v5h-5zM584 348h5v5h-5zM612 344h5v5h-5zM616 344h5v5h-5zM620 344h5v5h-5zM712 344h5v5h-5zM716 344h5v5h-5zM740 348h5v5h-5zM868 348h5v5h-5zM884 344h5v5h-5zM900 340h5v5h-5zM912 336h5v5h-5zM944 324h5v5h-5zM956 320h5v5h-5zM364 356h5v5h-5zM364 360h5v5h-5zM364 364h5v5h-5zM512 364h5v5h-5zM532 360h5v5h-5zM548 356h5v5h-5zM564 352h5v5h-5zM764 352h5v5h-5zM768 352h5v5h-5zM848 352h5v5h-5zM776 664h9v9h-9zM784 664h9v9h-9zM792 664h9v9h-9zM800 664h9v9h-9zM808 664h9v9h-9zM776 672h9v9h-9zM776 680h9v9h-9zM784 688h5v5h-5zM788 688h5v5h-5zM792 688h9v9h-9zM816 688h9v9h-9zM824 688h9v9h-9zM832 680h9v9h-9z"/><path fill="#1078da" d="M608 200h9v9h-9zM616 208h9v9h-9zM624 216h5v5h-5zM756 220h5v5h-5zM760 220h5v5h-5zM772 216h5v5h-5zM776 216h5v5h-5zM788 212h5v5h-5zM828 204h5v5h-5zM804 208h5v5h-5zM808 208h5v5h-5zM832 204h5v5h-5zM836 204h5v5h-5zM876 200h5v5h-5zM892 192h5v5h-5zM888 196h5v5h-5zM880 200h5v5h-5zM884 200h5v5h-5zM648 224h9v9h-9zM672 232h9v9h-9zM680 232h9v9h-9zM688 232h9v9h-9zM704 232h5v5h-5zM708 232h5v5h-5zM720 228h5v5h-5zM724 228h5v5h-5zM728 228h5v5h-5zM740 224h5v5h-5zM744 224h5v5h-5zM968 316h5v5h-5zM984 312h5v5h-5zM1004 308h5v5h-5zM1008 308h5v5h-5zM1012 308h5v5h-5zM1028 300h5v5h-5zM588 348h5v5h-5zM592 348h5v5h-5zM624 344h5v5h-5zM628 344h5v5h-5zM632 344h5v5h-5zM636 344h5v5h-5zM640 344h5v5h-5zM700 344h5v5h-5zM704 344h5v5h-5zM708 344h5v5h-5zM732 348h5v5h-5zM736 348h5v5h-5zM872 348h5v5h-5zM888 344h5v5h-5zM924 332h5v5h-5zM936 328h5v5h-5zM948 324h5v5h-5zM484 368h5v5h-5zM552 356h5v5h-5zM568 352h5v5h-5zM572 352h5v5h-5zM756 352h5v5h-5zM760 352h5v5h-5zM792 356h5v5h-5zM796 356h5v5h-5zM800 356h5v5h-5zM804 356h5v5h-5zM808 356h5v5h-5zM812 356h5v5h-5zM816 356h5v5h-5zM820 356h5v5h-5zM852 352h5v5h-5zM784 656h9v9h-9zM792 656h9v9h-9zM800 656h9v9h-9zM816 664h9v9h-9zM824 664h9v9h-9zM768 672h9v9h-9zM772 680h5v5h-5zM772 684h5v5h-5zM780 688h5v5h-5zM788 692h5v5h-5zM800 696h5v5h-5zM804 696h5v5h-5zM808 696h5v5h-5zM812 696h5v5h-5zM816 696h5v5h-5zM820 696h5v5h-5zM832 672h9v9h-9zM832 688h9v9h-9z"/><path fill="#1079da" d="M616 200h5v5h-5zM616 204h5v5h-5zM624 212h5v5h-5zM628 216h5v5h-5zM632 216h9v9h-9zM748 220h5v5h-5zM752 220h5v5h-5zM764 216h5v5h-5zM780 212h5v5h-5zM768 216h5v5h-5zM784 212h5v5h-5zM796 208h5v5h-5zM816 204h5v5h-5zM820 204h5v5h-5zM824 204h5v5h-5zM800 208h5v5h-5zM848 200h5v5h-5zM852 200h5v5h-5zM856 200h5v5h-5zM860 200h5v5h-5zM864 200h5v5h-5zM868 200h5v5h-5zM872 200h5v5h-5zM884 196h5v5h-5zM656 224h9v9h-9zM664 224h9v9h-9zM712 228h5v5h-5zM716 228h5v5h-5zM728 224h5v5h-5zM732 224h5v5h-5zM736 224h5v5h-5zM972 316h5v5h-5zM988 312h5v5h-5zM992 312h5v5h-5zM1016 308h5v5h-5zM1020 308h5v5h-5zM1032 296h5v5h-5zM1032 300h5v5h-5zM1028 304h5v5h-5zM1024 308h5v5h-5zM596 348h5v5h-5zM600 348h5v5h-5zM604 348h5v5h-5zM644 344h5v5h-5zM648 344h5v5h-5zM652 344h5v5h-5zM656 344h5v5h-5zM660 344h5v5h-5zM664 344h5v5h-5zM668 344h5v5h-5zM672 344h5v5h-5zM676 344h5v5h-5zM680 344h5v5h-5zM684 344h5v5h-5zM688 344h5v5h-5zM692 344h5v5h-5zM696 344h5v5h-5zM724 348h5v5h-5zM728 348h5v5h-5zM876 348h5v5h-5zM904 340h5v5h-5zM916 336h5v5h-5zM928 332h5v5h-5zM960 320h5v5h-5zM372 368h5v5h-5zM516 364h5v5h-5zM536 360h5v5h-5zM556 356h5v5h-5zM576 352h5v5h-5zM748 352h5v5h-5zM752 352h5v5h-5zM780 356h5v5h-5zM784 356h5v5h-5zM788 356h5v5h-5zM824 356h5v5h-5zM828 356h5v5h-5zM832 356h5v5h-5zM856 352h5v5h-5zM776 656h9v9h-9zM768 664h9v9h-9zM808 656h9v9h-9zM816 656h9v9h-9zM832 664h9v9h-9zM768 680h5v5h-5zM776 688h5v5h-5zM780 692h5v5h-5zM784 692h5v5h-5zM792 696h5v5h-5zM796 696h5v5h-5zM824 696h5v5h-5zM828 696h5v5h-5zM840 672h9v9h-9zM840 680h9v9h-9zM840 688h5v5h-5z"/><path fill="#117ad9" d="M620 204h5v5h-5zM624 208h5v5h-5zM628 212h5v5h-5zM632 212h5v5h-5zM640 216h9v9h-9zM740 220h5v5h-5zM744 220h5v5h-5zM756 216h5v5h-5zM760 216h5v5h-5zM772 212h5v5h-5zM776 212h5v5h-5zM788 208h5v5h-5zM792 208h5v5h-5zM804 204h5v5h-5zM808 204h5v5h-5zM812 204h5v5h-5zM832 200h5v5h-5zM836 200h5v5h-5zM840 200h5v5h-5zM844 200h5v5h-5zM880 196h5v5h-5zM888 192h5v5h-5zM672 224h9v9h-9zM680 224h9v9h-9zM688 224h9v9h-9zM696 224h9v9h-9zM704 224h9v9h-9zM716 224h5v5h-5zM720 224h5v5h-5zM724 224h5v5h-5zM976 316h5v5h-5zM996 312h5v5h-5zM1000 312h5v5h-5zM1036 300h5v5h-5zM1028 308h5v5h-5zM608 348h5v5h-5zM612 348h5v5h-5zM616 348h5v5h-5zM712 348h5v5h-5zM716 348h5v5h-5zM720 348h5v5h-5zM880 348h5v5h-5zM892 344h5v5h-5zM940 328h5v5h-5zM952 324h5v5h-5zM964 320h5v5h-5zM488 368h5v5h-5zM540 360h5v5h-5zM560 356h5v5h-5zM580 352h5v5h-5zM740 352h5v5h-5zM744 352h5v5h-5zM768 356h5v5h-5zM772 356h5v5h-5zM776 356h5v5h-5zM836 356h5v5h-5zM840 356h5v5h-5zM860 352h5v5h-5zM776 648h9v9h-9zM784 648h9v9h-9zM792 648h9v9h-9zM768 656h9v9h-9zM800 648h9v9h-9zM824 656h9v9h-9zM840 668h5v5h-5zM844 668h5v5h-5zM768 684h5v5h-5zM772 688h5v5h-5zM788 696h5v5h-5zM800 700h5v5h-5zM804 700h5v5h-5zM808 700h5v5h-5zM812 700h5v5h-5zM816 700h5v5h-5zM820 700h5v5h-5zM824 700h5v5h-5zM844 688h5v5h-5zM840 692h5v5h-5zM832 696h5v5h-5z"/><path fill="#117bd9" d="M888 188h5v5h-5zM620 200h5v5h-5zM624 204h5v5h-5zM628 208h5v5h-5zM636 212h5v5h-5zM640 212h5v5h-5zM648 216h9v9h-9zM656 216h9v9h-9zM724 220h5v5h-5zM728 220h5v5h-5zM732 220h5v5h-5zM736 220h5v5h-5zM748 216h5v5h-5zM764 212h5v5h-5zM752 216h5v5h-5zM796 204h5v5h-5zM768 212h5v5h-5zM780 208h5v5h-5zM784 208h5v5h-5zM800 204h5v5h-5zM820 200h5v5h-5zM824 200h5v5h-5zM828 200h5v5h-5zM852 196h5v5h-5zM856 196h5v5h-5zM860 196h5v5h-5zM864 196h5v5h-5zM868 196h5v5h-5zM872 196h5v5h-5zM876 196h5v5h-5zM884 192h5v5h-5zM712 224h5v5h-5zM980 316h5v5h-5zM1004 312h5v5h-5zM1008 312h5v5h-5zM1032 304h9v9h-9zM620 348h5v5h-5zM624 348h5v5h-5zM628 348h5v5h-5zM632 348h5v5h-5zM636 348h5v5h-5zM700 348h5v5h-5zM704 348h5v5h-5zM708 348h5v5h-5zM908 340h5v5h-5zM896 344h5v5h-5zM920 336h5v5h-5zM932 332h5v5h-5zM968 320h5v5h-5zM492 368h5v5h-5zM520 364h5v5h-5zM544 360h5v5h-5zM564 356h5v5h-5zM584 352h5v5h-5zM588 352h5v5h-5zM732 352h5v5h-5zM736 352h5v5h-5zM760 356h5v5h-5zM764 356h5v5h-5zM844 356h5v5h-5zM864 352h5v5h-5zM760 656h9v9h-9zM760 664h9v9h-9zM768 648h9v9h-9zM808 648h9v9h-9zM816 652h5v5h-5zM820 652h5v5h-5zM832 660h5v5h-5zM836 660h5v5h-5zM840 664h5v5h-5zM844 664h5v5h-5zM848 668h5v5h-5zM760 672h9v9h-9zM764 680h5v5h-5zM764 684h5v5h-5zM768 688h5v5h-5zM776 692h5v5h-5zM784 696h5v5h-5zM796 700h5v5h-5zM828 700h5v5h-5zM848 672h9v9h-9zM848 680h9v9h-9zM844 692h5v5h-5zM836 696h5v5h-5zM840 696h5v5h-5zM848 688h5v5h-5z"/><path fill="#127cd8" d="M884 188h5v5h-5zM620 196h5v5h-5zM624 200h5v5h-5zM628 204h5v5h-5zM632 208h5v5h-5zM636 208h5v5h-5zM644 212h5v5h-5zM648 212h5v5h-5zM664 216h9v9h-9zM712 220h5v5h-5zM716 220h5v5h-5zM720 220h5v5h-5zM736 216h5v5h-5zM740 216h5v5h-5zM744 216h5v5h-5zM756 212h5v5h-5zM760 212h5v5h-5zM788 204h5v5h-5zM792 204h5v5h-5zM772 208h5v5h-5zM776 208h5v5h-5zM808 200h5v5h-5zM812 200h5v5h-5zM816 200h5v5h-5zM836 196h5v5h-5zM840 196h5v5h-5zM844 196h5v5h-5zM848 196h5v5h-5zM876 192h5v5h-5zM880 192h5v5h-5zM984 316h5v5h-5zM988 316h5v5h-5zM1012 312h5v5h-5zM1016 312h5v5h-5zM1020 312h5v5h-5zM1040 296h9v9h-9zM1024 312h5v5h-5zM1028 312h5v5h-5zM1032 312h5v5h-5zM1036 312h5v5h-5zM640 348h5v5h-5zM644 348h5v5h-5zM648 348h5v5h-5zM652 348h5v5h-5zM656 348h5v5h-5zM660 348h5v5h-5zM664 348h5v5h-5zM680 348h5v5h-5zM684 348h5v5h-5zM688 348h5v5h-5zM692 348h5v5h-5zM696 348h5v5h-5zM884 348h5v5h-5zM956 324h5v5h-5zM944 328h5v5h-5zM416 372h5v5h-5zM420 372h5v5h-5zM424 372h5v5h-5zM524 364h5v5h-5zM548 360h5v5h-5zM568 356h5v5h-5zM592 352h5v5h-5zM596 352h5v5h-5zM600 352h5v5h-5zM724 352h5v5h-5zM728 352h5v5h-5zM752 356h5v5h-5zM756 356h5v5h-5zM792 360h5v5h-5zM796 360h5v5h-5zM800 360h5v5h-5zM804 360h5v5h-5zM808 360h5v5h-5zM812 360h5v5h-5zM816 360h5v5h-5zM848 356h5v5h-5zM852 356h5v5h-5zM868 352h5v5h-5zM760 648h9v9h-9zM768 640h9v9h-9zM776 640h9v9h-9zM784 640h9v9h-9zM792 640h9v9h-9zM808 644h5v5h-5zM816 648h5v5h-5zM824 652h5v5h-5zM828 652h5v5h-5zM832 656h5v5h-5zM836 656h5v5h-5zM840 660h5v5h-5zM848 664h5v5h-5zM852 668h5v5h-5zM760 680h5v5h-5zM772 692h5v5h-5zM780 696h5v5h-5zM792 700h5v5h-5zM832 700h5v5h-5zM836 700h5v5h-5zM844 696h5v5h-5zM852 688h5v5h-5zM848 692h5v5h-5zM812 704h5v5h-5zM816 704h5v5h-5z"/><path fill="#137dd8" d="M884 184h5v5h-5zM880 188h5v5h-5zM624 192h9v9h-9zM628 200h5v5h-5zM632 200h9v9h-9zM640 208h5v5h-5zM644 208h5v5h-5zM652 212h5v5h-5zM656 212h5v5h-5zM660 212h5v5h-5zM672 216h9v9h-9zM680 216h9v9h-9zM688 216h9v9h-9zM696 216h9v9h-9zM704 216h9v9h-9zM720 216h5v5h-5zM724 216h5v5h-5zM728 216h5v5h-5zM732 216h5v5h-5zM744 212h5v5h-5zM748 212h5v5h-5zM752 212h5v5h-5zM764 208h5v5h-5zM780 204h5v5h-5zM784 204h5v5h-5zM768 208h5v5h-5zM800 200h5v5h-5zM804 200h5v5h-5zM820 196h5v5h-5zM824 196h5v5h-5zM828 196h5v5h-5zM832 196h5v5h-5zM860 192h5v5h-5zM864 192h5v5h-5zM868 192h5v5h-5zM872 192h5v5h-5zM992 316h5v5h-5zM996 316h5v5h-5zM1040 304h9v9h-9zM1040 312h5v5h-5zM1044 312h5v5h-5zM668 348h5v5h-5zM672 348h5v5h-5zM676 348h5v5h-5zM888 348h5v5h-5zM900 344h5v5h-5zM912 340h5v5h-5zM924 336h5v5h-5zM936 332h5v5h-5zM948 328h5v5h-5zM960 324h5v5h-5zM972 320h5v5h-5zM360 356h5v5h-5zM360 360h5v5h-5zM360 364h5v5h-5zM412 372h5v5h-5zM428 372h5v5h-5zM496 368h5v5h-5zM528 364h5v5h-5zM552 360h5v5h-5zM572 356h5v5h-5zM576 356h5v5h-5zM604 352h5v5h-5zM608 352h5v5h-5zM612 352h5v5h-5zM716 352h5v5h-5zM720 352h5v5h-5zM744 356h5v5h-5zM748 356h5v5h-5zM776 360h5v5h-5zM780 360h5v5h-5zM784 360h5v5h-5zM788 360h5v5h-5zM820 360h5v5h-5zM824 360h5v5h-5zM828 360h5v5h-5zM832 360h5v5h-5zM856 356h5v5h-5zM872 352h5v5h-5zM756 664h5v5h-5zM756 668h5v5h-5zM800 640h9v9h-9zM812 644h5v5h-5zM816 644h5v5h-5zM820 648h5v5h-5zM824 648h5v5h-5zM832 652h5v5h-5zM840 656h5v5h-5zM844 660h5v5h-5zM848 660h5v5h-5zM852 664h5v5h-5zM756 672h5v5h-5zM756 676h5v5h-5zM760 684h5v5h-5zM764 688h5v5h-5zM776 696h5v5h-5zM788 700h5v5h-5zM856 680h5v5h-5zM856 684h5v5h-5zM840 700h5v5h-5zM852 692h5v5h-5zM848 696h5v5h-5zM804 704h5v5h-5zM808 704h5v5h-5zM820 704h5v5h-5zM824 704h5v5h-5zM828 704h5v5h-5z"/><path fill="#137ed7" d="M876 188h5v5h-5zM880 184h5v5h-5zM632 196h5v5h-5zM640 204h5v5h-5zM644 204h5v5h-5zM648 208h5v5h-5zM652 208h5v5h-5zM656 208h5v5h-5zM664 212h5v5h-5zM668 212h5v5h-5zM712 216h5v5h-5zM716 216h5v5h-5zM732 212h5v5h-5zM736 212h5v5h-5zM740 212h5v5h-5zM752 208h5v5h-5zM756 208h5v5h-5zM760 208h5v5h-5zM772 204h5v5h-5zM776 204h5v5h-5zM788 200h5v5h-5zM792 200h5v5h-5zM796 200h5v5h-5zM812 196h5v5h-5zM816 196h5v5h-5zM840 192h5v5h-5zM844 192h5v5h-5zM848 192h5v5h-5zM852 192h5v5h-5zM856 192h5v5h-5zM1000 316h5v5h-5zM1004 316h5v5h-5zM1008 316h5v5h-5zM1048 304h9v9h-9zM1040 316h5v5h-5zM1044 316h5v5h-5zM904 344h5v5h-5zM964 324h5v5h-5zM976 320h5v5h-5zM980 320h5v5h-5zM408 372h5v5h-5zM432 372h5v5h-5zM500 368h5v5h-5zM532 364h5v5h-5zM556 360h5v5h-5zM580 356h5v5h-5zM584 356h5v5h-5zM616 352h5v5h-5zM620 352h5v5h-5zM624 352h5v5h-5zM628 352h5v5h-5zM704 352h5v5h-5zM708 352h5v5h-5zM712 352h5v5h-5zM736 356h5v5h-5zM740 356h5v5h-5zM764 360h5v5h-5zM768 360h5v5h-5zM772 360h5v5h-5zM836 360h5v5h-5zM840 360h5v5h-5zM860 356h5v5h-5zM876 352h5v5h-5zM768 632h9v9h-9zM776 632h9v9h-9zM784 632h9v9h-9zM792 632h9v9h-9zM760 640h9v9h-9zM752 648h9v9h-9zM752 656h9v9h-9zM752 664h5v5h-5zM808 640h5v5h-5zM812 640h5v5h-5zM820 644h5v5h-5zM824 644h5v5h-5zM828 648h5v5h-5zM832 648h5v5h-5zM836 652h5v5h-5zM840 652h5v5h-5zM844 656h5v5h-5zM852 660h5v5h-5zM856 664h5v5h-5zM856 668h5v5h-5zM756 680h5v5h-5zM768 692h5v5h-5zM784 700h5v5h-5zM856 672h9v9h-9zM860 680h5v5h-5zM844 700h5v5h-5zM856 688h5v5h-5zM796 704h5v5h-5zM800 704h5v5h-5zM832 704h5v5h-5z"/><path fill="#137fd7" d="M864 188h5v5h-5zM868 188h5v5h-5zM876 184h5v5h-5zM872 188h5v5h-5zM632 192h5v5h-5zM636 196h5v5h-5zM640 200h5v5h-5zM648 204h5v5h-5zM652 204h5v5h-5zM660 208h5v5h-5zM664 208h5v5h-5zM672 208h9v9h-9zM712 212h5v5h-5zM716 212h5v5h-5zM720 212h5v5h-5zM724 212h5v5h-5zM728 212h5v5h-5zM764 204h5v5h-5zM744 208h5v5h-5zM748 208h5v5h-5zM768 204h5v5h-5zM780 200h5v5h-5zM784 200h5v5h-5zM800 196h5v5h-5zM804 196h5v5h-5zM808 196h5v5h-5zM824 192h5v5h-5zM828 192h5v5h-5zM832 192h5v5h-5zM836 192h5v5h-5zM1012 316h5v5h-5zM1016 316h5v5h-5zM1020 316h5v5h-5zM1024 316h5v5h-5zM1028 316h5v5h-5zM1032 316h5v5h-5zM1036 316h5v5h-5zM1048 312h9v9h-9zM892 348h5v5h-5zM916 340h5v5h-5zM940 332h5v5h-5zM952 328h5v5h-5zM928 336h5v5h-5zM984 320h5v5h-5zM436 372h5v5h-5zM504 368h5v5h-5zM536 364h5v5h-5zM560 360h5v5h-5zM564 360h5v5h-5zM588 356h5v5h-5zM592 356h5v5h-5zM596 356h5v5h-5zM632 352h5v5h-5zM636 352h5v5h-5zM640 352h5v5h-5zM644 352h5v5h-5zM648 352h5v5h-5zM652 352h5v5h-5zM688 352h5v5h-5zM692 352h5v5h-5zM696 352h5v5h-5zM700 352h5v5h-5zM728 356h5v5h-5zM732 356h5v5h-5zM756 360h5v5h-5zM760 360h5v5h-5zM844 360h5v5h-5zM864 356h5v5h-5zM880 352h5v5h-5zM760 632h9v9h-9zM800 632h9v9h-9zM808 636h5v5h-5zM812 636h5v5h-5zM756 640h5v5h-5zM756 644h5v5h-5zM752 668h5v5h-5zM816 640h5v5h-5zM820 640h5v5h-5zM828 644h5v5h-5zM836 648h5v5h-5zM844 652h5v5h-5zM848 656h5v5h-5zM856 660h5v5h-5zM860 668h5v5h-5zM752 672h5v5h-5zM752 676h5v5h-5zM756 684h5v5h-5zM760 688h5v5h-5zM772 696h5v5h-5zM780 700h5v5h-5zM860 684h5v5h-5zM860 688h5v5h-5zM856 692h5v5h-5zM852 696h5v5h-5zM848 700h5v5h-5zM792 704h5v5h-5zM836 704h5v5h-5zM840 704h5v5h-5z"/><path fill="#1480d6" d="M632 188h5v5h-5zM844 188h5v5h-5zM848 188h5v5h-5zM852 188h5v5h-5zM856 188h5v5h-5zM860 188h5v5h-5zM872 184h5v5h-5zM880 180h5v5h-5zM636 192h5v5h-5zM640 196h5v5h-5zM644 200h5v5h-5zM648 200h5v5h-5zM656 204h5v5h-5zM660 204h5v5h-5zM668 208h5v5h-5zM680 208h9v9h-9zM688 208h9v9h-9zM696 208h9v9h-9zM704 208h9v9h-9zM728 208h5v5h-5zM732 208h5v5h-5zM752 204h5v5h-5zM756 204h5v5h-5zM760 204h5v5h-5zM736 208h5v5h-5zM740 208h5v5h-5zM772 200h5v5h-5zM776 200h5v5h-5zM792 196h5v5h-5zM796 196h5v5h-5zM812 192h5v5h-5zM816 192h5v5h-5zM820 192h5v5h-5zM1056 304h9v9h-9zM1056 312h9v9h-9zM896 348h5v5h-5zM908 344h5v5h-5zM920 340h5v5h-5zM956 328h5v5h-5zM968 324h5v5h-5zM988 320h5v5h-5zM992 320h5v5h-5zM1044 320h5v5h-5zM1048 320h5v5h-5zM1052 320h5v5h-5zM368 368h5v5h-5zM404 372h5v5h-5zM508 368h5v5h-5zM540 364h5v5h-5zM568 360h5v5h-5zM572 360h5v5h-5zM600 356h5v5h-5zM604 356h5v5h-5zM608 356h5v5h-5zM656 352h5v5h-5zM660 352h5v5h-5zM664 352h5v5h-5zM668 352h5v5h-5zM672 352h5v5h-5zM676 352h5v5h-5zM680 352h5v5h-5zM684 352h5v5h-5zM716 356h5v5h-5zM720 356h5v5h-5zM724 356h5v5h-5zM748 360h5v5h-5zM752 360h5v5h-5zM784 364h5v5h-5zM788 364h5v5h-5zM792 364h5v5h-5zM796 364h5v5h-5zM800 364h5v5h-5zM804 364h5v5h-5zM808 364h5v5h-5zM812 364h5v5h-5zM816 364h5v5h-5zM820 364h5v5h-5zM848 360h5v5h-5zM868 356h5v5h-5zM756 636h5v5h-5zM776 624h9v9h-9zM784 624h9v9h-9zM808 632h5v5h-5zM816 636h5v5h-5zM752 640h5v5h-5zM752 644h5v5h-5zM748 656h5v5h-5zM748 660h5v5h-5zM748 664h5v5h-5zM748 668h5v5h-5zM824 640h5v5h-5zM828 640h5v5h-5zM832 644h5v5h-5zM836 644h5v5h-5zM840 648h5v5h-5zM844 648h5v5h-5zM848 652h5v5h-5zM852 656h5v5h-5zM860 664h5v5h-5zM864 668h5v5h-5zM752 680h5v5h-5zM764 692h5v5h-5zM860 692h5v5h-5zM852 700h5v5h-5zM856 696h5v5h-5zM864 672h5v5h-5zM864 676h5v5h-5zM864 680h5v5h-5zM864 684h5v5h-5zM788 704h5v5h-5zM808 708h5v5h-5zM812 708h5v5h-5zM816 708h5v5h-5zM820 708h5v5h-5zM824 708h5v5h-5zM828 708h5v5h-5zM844 704h5v5h-5z"/><path fill="#1481d6" d="M636 188h5v5h-5zM828 188h5v5h-5zM832 188h5v5h-5zM836 188h5v5h-5zM840 188h5v5h-5zM876 180h5v5h-5zM868 184h5v5h-5zM640 192h5v5h-5zM644 196h5v5h-5zM652 200h5v5h-5zM656 200h5v5h-5zM664 204h5v5h-5zM668 204h5v5h-5zM672 204h5v5h-5zM712 208h5v5h-5zM716 208h5v5h-5zM720 208h5v5h-5zM724 208h5v5h-5zM740 204h5v5h-5zM744 204h5v5h-5zM748 204h5v5h-5zM764 200h5v5h-5zM780 196h5v5h-5zM768 200h5v5h-5zM784 196h5v5h-5zM788 196h5v5h-5zM804 192h5v5h-5zM808 192h5v5h-5zM1064 312h9v9h-9zM944 332h5v5h-5zM932 336h5v5h-5zM972 324h5v5h-5zM996 320h5v5h-5zM1000 320h5v5h-5zM1032 320h5v5h-5zM1036 320h5v5h-5zM1040 320h5v5h-5zM1056 320h9v9h-9zM440 372h5v5h-5zM512 368h5v5h-5zM544 364h5v5h-5zM548 364h5v5h-5zM576 360h5v5h-5zM580 360h5v5h-5zM612 356h5v5h-5zM616 356h5v5h-5zM620 356h5v5h-5zM624 356h5v5h-5zM708 356h5v5h-5zM712 356h5v5h-5zM736 360h5v5h-5zM740 360h5v5h-5zM744 360h5v5h-5zM768 364h5v5h-5zM772 364h5v5h-5zM776 364h5v5h-5zM780 364h5v5h-5zM824 364h5v5h-5zM828 364h5v5h-5zM832 364h5v5h-5zM852 360h5v5h-5zM856 360h5v5h-5zM872 356h5v5h-5zM884 352h5v5h-5zM760 624h9v9h-9zM756 632h5v5h-5zM752 636h5v5h-5zM768 624h9v9h-9zM792 624h9v9h-9zM800 624h9v9h-9zM808 628h5v5h-5zM812 632h5v5h-5zM816 632h5v5h-5zM820 636h5v5h-5zM824 636h5v5h-5zM748 640h5v5h-5zM748 644h5v5h-5zM744 648h9v9h-9zM832 640h5v5h-5zM840 644h5v5h-5zM848 648h5v5h-5zM852 652h5v5h-5zM856 656h5v5h-5zM860 660h5v5h-5zM864 664h5v5h-5zM748 672h5v5h-5zM768 696h5v5h-5zM776 700h5v5h-5zM860 696h5v5h-5zM856 700h5v5h-5zM868 676h5v5h-5zM868 680h5v5h-5zM864 688h5v5h-5zM864 692h5v5h-5zM804 708h5v5h-5zM832 708h5v5h-5zM848 704h5v5h-5z"/><path fill="#1482d5" d="M636 184h5v5h-5zM640 188h5v5h-5zM816 188h5v5h-5zM820 188h5v5h-5zM824 188h5v5h-5zM848 184h5v5h-5zM852 184h5v5h-5zM856 184h5v5h-5zM860 184h5v5h-5zM876 176h5v5h-5zM872 180h5v5h-5zM864 184h5v5h-5zM644 192h5v5h-5zM648 196h5v5h-5zM652 196h5v5h-5zM660 200h5v5h-5zM664 200h5v5h-5zM668 200h5v5h-5zM676 204h5v5h-5zM680 204h5v5h-5zM684 204h5v5h-5zM688 204h5v5h-5zM724 204h5v5h-5zM728 204h5v5h-5zM732 204h5v5h-5zM736 204h5v5h-5zM752 200h5v5h-5zM756 200h5v5h-5zM760 200h5v5h-5zM772 196h5v5h-5zM776 196h5v5h-5zM792 192h5v5h-5zM796 192h5v5h-5zM800 192h5v5h-5zM900 348h5v5h-5zM924 340h5v5h-5zM912 344h5v5h-5zM948 332h5v5h-5zM936 336h5v5h-5zM960 328h5v5h-5zM976 324h5v5h-5zM980 324h5v5h-5zM1004 320h5v5h-5zM1008 320h5v5h-5zM1012 320h5v5h-5zM1016 320h5v5h-5zM1020 320h5v5h-5zM1024 320h5v5h-5zM1028 320h5v5h-5zM1048 324h5v5h-5zM1052 324h5v5h-5zM1064 320h9v9h-9zM352 352h9v9h-9zM516 368h5v5h-5zM552 364h5v5h-5zM584 360h5v5h-5zM588 360h5v5h-5zM592 360h5v5h-5zM628 356h5v5h-5zM632 356h5v5h-5zM636 356h5v5h-5zM640 356h5v5h-5zM644 356h5v5h-5zM692 356h5v5h-5zM696 356h5v5h-5zM700 356h5v5h-5zM704 356h5v5h-5zM728 360h5v5h-5zM732 360h5v5h-5zM756 364h5v5h-5zM760 364h5v5h-5zM764 364h5v5h-5zM836 364h5v5h-5zM840 364h5v5h-5zM860 360h5v5h-5zM876 356h5v5h-5zM888 352h5v5h-5zM748 636h5v5h-5zM756 628h5v5h-5zM752 632h5v5h-5zM776 616h9v9h-9zM784 616h9v9h-9zM812 628h5v5h-5zM820 632h5v5h-5zM828 636h5v5h-5zM744 644h5v5h-5zM744 656h5v5h-5zM744 660h5v5h-5zM744 664h5v5h-5zM744 668h5v5h-5zM836 640h5v5h-5zM840 640h5v5h-5zM844 644h5v5h-5zM852 648h5v5h-5zM856 652h5v5h-5zM860 656h5v5h-5zM864 660h5v5h-5zM868 668h5v5h-5zM748 676h5v5h-5zM752 684h5v5h-5zM756 688h5v5h-5zM760 692h5v5h-5zM868 672h5v5h-5zM868 684h5v5h-5zM868 688h5v5h-5zM864 696h5v5h-5zM784 704h5v5h-5zM796 708h5v5h-5zM800 708h5v5h-5zM836 708h5v5h-5zM840 708h5v5h-5zM852 704h5v5h-5z"/><path fill="#1483d5" d="M640 184h5v5h-5zM644 188h5v5h-5zM804 188h5v5h-5zM808 188h5v5h-5zM812 188h5v5h-5zM832 184h5v5h-5zM836 184h5v5h-5zM840 184h5v5h-5zM844 184h5v5h-5zM876 172h5v5h-5zM868 180h5v5h-5zM872 176h5v5h-5zM648 192h5v5h-5zM652 192h5v5h-5zM656 196h5v5h-5zM660 196h5v5h-5zM664 196h5v5h-5zM672 200h5v5h-5zM676 200h5v5h-5zM680 200h5v5h-5zM692 204h5v5h-5zM696 204h5v5h-5zM700 204h5v5h-5zM712 204h5v5h-5zM716 204h5v5h-5zM720 204h5v5h-5zM740 200h5v5h-5zM744 200h5v5h-5zM748 200h5v5h-5zM764 196h5v5h-5zM768 196h5v5h-5zM784 192h5v5h-5zM788 192h5v5h-5zM904 348h5v5h-5zM964 328h5v5h-5zM984 324h5v5h-5zM1040 324h5v5h-5zM1044 324h5v5h-5zM1060 328h5v5h-5zM1064 328h5v5h-5zM1068 328h5v5h-5zM1072 320h9v9h-9zM356 360h5v5h-5zM400 372h5v5h-5zM444 372h5v5h-5zM520 368h5v5h-5zM556 364h5v5h-5zM560 364h5v5h-5zM596 360h5v5h-5zM600 360h5v5h-5zM604 360h5v5h-5zM648 356h5v5h-5zM652 356h5v5h-5zM656 356h5v5h-5zM660 356h5v5h-5zM664 356h5v5h-5zM668 356h5v5h-5zM672 356h5v5h-5zM676 356h5v5h-5zM680 356h5v5h-5zM684 356h5v5h-5zM688 356h5v5h-5zM716 360h5v5h-5zM720 360h5v5h-5zM724 360h5v5h-5zM748 364h5v5h-5zM752 364h5v5h-5zM792 368h5v5h-5zM796 368h5v5h-5zM800 368h5v5h-5zM804 368h5v5h-5zM808 368h5v5h-5zM812 368h5v5h-5zM844 364h5v5h-5zM864 360h5v5h-5zM892 352h5v5h-5zM760 616h9v9h-9zM748 632h5v5h-5zM744 636h5v5h-5zM756 624h5v5h-5zM752 628h5v5h-5zM768 616h9v9h-9zM792 616h9v9h-9zM808 624h5v5h-5zM812 624h5v5h-5zM816 628h5v5h-5zM820 628h5v5h-5zM824 632h5v5h-5zM828 632h5v5h-5zM832 636h5v5h-5zM836 636h5v5h-5zM744 640h5v5h-5zM740 648h5v5h-5zM740 652h5v5h-5zM844 640h5v5h-5zM848 644h5v5h-5zM852 644h5v5h-5zM856 648h5v5h-5zM860 652h5v5h-5zM864 656h5v5h-5zM868 660h5v5h-5zM868 664h5v5h-5zM744 672h5v5h-5zM748 680h5v5h-5zM764 696h5v5h-5zM772 700h5v5h-5zM860 700h5v5h-5zM872 672h5v5h-5zM872 676h5v5h-5zM872 680h5v5h-5zM872 684h5v5h-5zM868 692h5v5h-5zM844 708h5v5h-5zM856 704h5v5h-5z"/><path fill="#1484d4" d="M640 176h9v9h-9zM644 184h5v5h-5zM648 188h5v5h-5zM792 188h5v5h-5zM796 188h5v5h-5zM800 188h5v5h-5zM820 184h5v5h-5zM824 184h5v5h-5zM828 184h5v5h-5zM856 180h5v5h-5zM860 180h5v5h-5zM872 172h5v5h-5zM868 176h5v5h-5zM864 180h5v5h-5zM656 192h5v5h-5zM660 192h5v5h-5zM668 196h5v5h-5zM672 196h5v5h-5zM684 200h5v5h-5zM688 200h5v5h-5zM692 200h5v5h-5zM696 200h5v5h-5zM700 200h5v5h-5zM704 200h9v9h-9zM712 200h5v5h-5zM716 200h5v5h-5zM720 200h5v5h-5zM724 200h5v5h-5zM728 200h5v5h-5zM732 200h5v5h-5zM736 200h5v5h-5zM752 196h5v5h-5zM756 196h5v5h-5zM760 196h5v5h-5zM772 192h5v5h-5zM776 192h5v5h-5zM780 192h5v5h-5zM916 344h5v5h-5zM952 332h5v5h-5zM928 340h5v5h-5zM940 336h5v5h-5zM968 328h5v5h-5zM988 324h5v5h-5zM992 324h5v5h-5zM1028 324h5v5h-5zM1032 324h5v5h-5zM1036 324h5v5h-5zM1052 328h5v5h-5zM1056 328h5v5h-5zM1072 328h9v9h-9zM352 360h5v5h-5zM448 372h5v5h-5zM524 368h5v5h-5zM528 368h5v5h-5zM564 364h5v5h-5zM568 364h5v5h-5zM572 364h5v5h-5zM608 360h5v5h-5zM612 360h5v5h-5zM616 360h5v5h-5zM620 360h5v5h-5zM704 360h5v5h-5zM708 360h5v5h-5zM712 360h5v5h-5zM736 364h5v5h-5zM740 364h5v5h-5zM744 364h5v5h-5zM772 368h5v5h-5zM776 368h5v5h-5zM780 368h5v5h-5zM784 368h5v5h-5zM788 368h5v5h-5zM816 368h5v5h-5zM820 368h5v5h-5zM824 368h5v5h-5zM828 368h5v5h-5zM848 364h5v5h-5zM852 364h5v5h-5zM868 360h5v5h-5zM880 356h5v5h-5zM756 620h5v5h-5zM748 628h5v5h-5zM740 636h5v5h-5zM744 632h5v5h-5zM752 624h5v5h-5zM768 608h9v9h-9zM776 608h9v9h-9zM784 608h9v9h-9zM800 616h9v9h-9zM808 620h5v5h-5zM816 624h5v5h-5zM824 628h5v5h-5zM832 632h5v5h-5zM840 636h5v5h-5zM740 640h5v5h-5zM740 644h5v5h-5zM740 656h5v5h-5zM740 660h5v5h-5zM740 664h5v5h-5zM848 640h5v5h-5zM856 644h5v5h-5zM860 648h5v5h-5zM864 652h5v5h-5zM868 656h5v5h-5zM872 664h5v5h-5zM872 668h5v5h-5zM744 676h5v5h-5zM752 688h5v5h-5zM872 688h5v5h-5zM872 692h5v5h-5zM868 696h5v5h-5zM864 700h5v5h-5zM780 704h5v5h-5zM792 708h5v5h-5zM812 712h5v5h-5zM816 712h5v5h-5zM820 712h5v5h-5zM824 712h5v5h-5zM828 712h5v5h-5zM848 708h5v5h-5z"/><path fill="#1485d4" d="M648 180h5v5h-5zM648 184h5v5h-5zM652 188h5v5h-5zM656 188h5v5h-5zM784 188h5v5h-5zM788 188h5v5h-5zM808 184h5v5h-5zM812 184h5v5h-5zM816 184h5v5h-5zM836 180h5v5h-5zM840 180h5v5h-5zM844 180h5v5h-5zM848 180h5v5h-5zM852 180h5v5h-5zM664 192h5v5h-5zM668 192h5v5h-5zM676 196h5v5h-5zM680 196h5v5h-5zM684 196h5v5h-5zM688 196h5v5h-5zM736 196h5v5h-5zM740 196h5v5h-5zM744 196h5v5h-5zM748 196h5v5h-5zM764 192h5v5h-5zM768 192h5v5h-5zM908 348h5v5h-5zM920 344h5v5h-5zM956 332h5v5h-5zM972 328h5v5h-5zM996 324h5v5h-5zM1000 324h5v5h-5zM1004 324h5v5h-5zM1008 324h5v5h-5zM1012 324h5v5h-5zM1016 324h5v5h-5zM1020 324h5v5h-5zM1024 324h5v5h-5zM1044 328h5v5h-5zM1048 328h5v5h-5zM1064 332h5v5h-5zM1068 332h5v5h-5zM1080 320h9v9h-9zM1080 328h9v9h-9zM356 364h5v5h-5zM532 368h5v5h-5zM536 368h5v5h-5zM576 364h5v5h-5zM580 364h5v5h-5zM584 364h5v5h-5zM624 360h5v5h-5zM628 360h5v5h-5zM632 360h5v5h-5zM636 360h5v5h-5zM640 360h5v5h-5zM644 360h5v5h-5zM692 360h5v5h-5zM696 360h5v5h-5zM700 360h5v5h-5zM728 364h5v5h-5zM732 364h5v5h-5zM756 368h5v5h-5zM760 368h5v5h-5zM764 368h5v5h-5zM768 368h5v5h-5zM856 364h5v5h-5zM832 368h5v5h-5zM836 368h5v5h-5zM872 360h5v5h-5zM884 356h5v5h-5zM896 352h5v5h-5zM760 608h9v9h-9zM756 616h5v5h-5zM752 620h5v5h-5zM748 624h5v5h-5zM744 628h5v5h-5zM740 632h5v5h-5zM792 608h9v9h-9zM808 616h5v5h-5zM812 620h5v5h-5zM816 620h5v5h-5zM820 624h5v5h-5zM824 624h5v5h-5zM828 628h5v5h-5zM832 628h5v5h-5zM836 632h5v5h-5zM840 632h5v5h-5zM844 636h5v5h-5zM736 644h5v5h-5zM736 648h5v5h-5zM740 668h5v5h-5zM852 640h5v5h-5zM860 644h5v5h-5zM864 648h5v5h-5zM868 652h5v5h-5zM872 660h5v5h-5zM876 668h5v5h-5zM748 684h5v5h-5zM756 692h5v5h-5zM768 700h5v5h-5zM876 672h5v5h-5zM876 676h5v5h-5zM876 680h5v5h-5zM876 684h5v5h-5zM876 688h5v5h-5zM868 700h5v5h-5zM872 696h5v5h-5zM788 708h5v5h-5zM804 712h5v5h-5zM808 712h5v5h-5zM832 712h5v5h-5zM836 712h5v5h-5zM852 708h5v5h-5zM860 704h5v5h-5z"/><path fill="#1486d4" d="M648 176h5v5h-5zM652 180h5v5h-5zM652 184h5v5h-5zM656 184h5v5h-5zM660 188h5v5h-5zM664 188h5v5h-5zM772 188h5v5h-5zM776 188h5v5h-5zM780 188h5v5h-5zM796 184h5v5h-5zM800 184h5v5h-5zM804 184h5v5h-5zM824 180h5v5h-5zM828 180h5v5h-5zM832 180h5v5h-5zM860 176h5v5h-5zM868 172h5v5h-5zM864 176h5v5h-5zM672 192h5v5h-5zM676 192h5v5h-5zM680 192h5v5h-5zM692 196h5v5h-5zM696 196h5v5h-5zM700 196h5v5h-5zM704 196h5v5h-5zM708 196h5v5h-5zM712 196h5v5h-5zM716 196h5v5h-5zM720 196h5v5h-5zM724 196h5v5h-5zM728 196h5v5h-5zM732 196h5v5h-5zM748 192h5v5h-5zM752 192h5v5h-5zM756 192h5v5h-5zM760 192h5v5h-5zM932 340h5v5h-5zM944 336h5v5h-5zM960 332h5v5h-5zM976 328h5v5h-5zM1036 328h5v5h-5zM1040 328h5v5h-5zM1056 332h5v5h-5zM1060 332h5v5h-5zM1072 336h5v5h-5zM1076 336h5v5h-5zM1080 336h5v5h-5zM1084 336h5v5h-5zM1088 328h9v9h-9zM348 356h5v5h-5zM348 360h5v5h-5zM452 372h5v5h-5zM540 368h5v5h-5zM544 368h5v5h-5zM588 364h5v5h-5zM592 364h5v5h-5zM596 364h5v5h-5zM600 364h5v5h-5zM648 360h5v5h-5zM652 360h5v5h-5zM656 360h5v5h-5zM660 360h5v5h-5zM664 360h5v5h-5zM668 360h5v5h-5zM672 360h5v5h-5zM676 360h5v5h-5zM680 360h5v5h-5zM684 360h5v5h-5zM688 360h5v5h-5zM716 364h5v5h-5zM720 364h5v5h-5zM724 364h5v5h-5zM744 368h5v5h-5zM748 368h5v5h-5zM752 368h5v5h-5zM796 372h5v5h-5zM800 372h5v5h-5zM804 372h5v5h-5zM808 372h5v5h-5zM860 364h5v5h-5zM840 368h5v5h-5zM844 368h5v5h-5zM876 360h5v5h-5zM888 356h5v5h-5zM900 352h5v5h-5zM768 600h9v9h-9zM776 600h9v9h-9zM784 600h9v9h-9zM748 620h5v5h-5zM752 616h5v5h-5zM740 628h5v5h-5zM744 624h5v5h-5zM736 632h5v5h-5zM736 636h5v5h-5zM800 608h9v9h-9zM808 612h5v5h-5zM812 616h5v5h-5zM816 616h5v5h-5zM820 620h5v5h-5zM828 624h5v5h-5zM836 628h5v5h-5zM844 632h5v5h-5zM848 636h5v5h-5zM852 636h5v5h-5zM736 640h5v5h-5zM736 652h5v5h-5zM736 656h5v5h-5zM736 660h5v5h-5zM856 640h5v5h-5zM864 644h5v5h-5zM868 648h5v5h-5zM872 656h5v5h-5zM876 664h5v5h-5zM740 672h5v5h-5zM744 680h5v5h-5zM760 696h5v5h-5zM880 676h5v5h-5zM876 692h5v5h-5zM872 700h5v5h-5zM776 704h5v5h-5zM800 712h5v5h-5zM840 712h5v5h-5zM844 712h5v5h-5zM856 708h5v5h-5zM864 704h5v5h-5z"/><path fill="#1487d3" d="M652 176h5v5h-5zM660 184h5v5h-5zM668 188h5v5h-5zM672 188h5v5h-5zM764 188h5v5h-5zM768 188h5v5h-5zM784 184h5v5h-5zM788 184h5v5h-5zM792 184h5v5h-5zM812 180h5v5h-5zM816 180h5v5h-5zM820 180h5v5h-5zM840 176h5v5h-5zM844 176h5v5h-5zM848 176h5v5h-5zM852 176h5v5h-5zM856 176h5v5h-5zM864 172h5v5h-5zM872 168h5v5h-5zM684 192h5v5h-5zM688 192h5v5h-5zM692 192h5v5h-5zM696 192h5v5h-5zM732 192h5v5h-5zM736 192h5v5h-5zM740 192h5v5h-5zM744 192h5v5h-5zM912 348h5v5h-5zM924 344h5v5h-5zM936 340h5v5h-5zM948 336h5v5h-5zM980 328h5v5h-5zM984 328h5v5h-5zM1028 328h5v5h-5zM1032 328h5v5h-5zM1048 332h5v5h-5zM1052 332h5v5h-5zM1068 336h5v5h-5zM1080 340h5v5h-5zM1084 340h5v5h-5zM1088 336h9v9h-9zM396 372h5v5h-5zM456 372h5v5h-5zM548 368h5v5h-5zM552 368h5v5h-5zM556 368h5v5h-5zM604 364h5v5h-5zM608 364h5v5h-5zM612 364h5v5h-5zM616 364h5v5h-5zM620 364h5v5h-5zM704 364h5v5h-5zM708 364h5v5h-5zM712 364h5v5h-5zM736 368h5v5h-5zM740 368h5v5h-5zM772 372h5v5h-5zM776 372h5v5h-5zM780 372h5v5h-5zM784 372h5v5h-5zM788 372h5v5h-5zM792 372h5v5h-5zM812 372h5v5h-5zM816 372h5v5h-5zM820 372h5v5h-5zM824 372h5v5h-5zM828 372h5v5h-5zM848 368h5v5h-5zM864 364h5v5h-5zM892 356h5v5h-5zM880 360h5v5h-5zM760 600h9v9h-9zM776 592h9v9h-9zM792 600h9v9h-9zM732 636h5v5h-5zM748 612h5v5h-5zM748 616h5v5h-5zM744 620h5v5h-5zM752 608h9v9h-9zM740 624h5v5h-5zM736 628h5v5h-5zM808 608h5v5h-5zM812 612h5v5h-5zM820 616h5v5h-5zM824 620h5v5h-5zM828 620h5v5h-5zM832 624h5v5h-5zM840 628h5v5h-5zM848 632h5v5h-5zM856 636h5v5h-5zM732 640h5v5h-5zM732 644h5v5h-5zM732 648h5v5h-5zM736 664h5v5h-5zM860 640h5v5h-5zM872 652h5v5h-5zM876 656h5v5h-5zM876 660h5v5h-5zM880 668h5v5h-5zM740 676h5v5h-5zM748 688h5v5h-5zM880 672h5v5h-5zM880 680h9v9h-9zM876 696h5v5h-5zM880 688h5v5h-5zM880 692h5v5h-5zM784 708h5v5h-5zM860 708h5v5h-5zM848 712h5v5h-5zM868 704h5v5h-5z"/><path fill="#1388d3" d="M648 168h9v9h-9zM656 176h9v9h-9zM664 184h5v5h-5zM668 184h5v5h-5zM676 188h5v5h-5zM680 188h5v5h-5zM684 188h5v5h-5zM748 188h5v5h-5zM752 188h5v5h-5zM756 188h5v5h-5zM760 188h5v5h-5zM772 184h5v5h-5zM776 184h5v5h-5zM780 184h5v5h-5zM800 180h5v5h-5zM804 180h5v5h-5zM808 180h5v5h-5zM824 176h5v5h-5zM828 176h5v5h-5zM860 172h5v5h-5zM832 176h5v5h-5zM836 176h5v5h-5zM868 164h5v5h-5zM864 168h5v5h-5zM868 168h5v5h-5zM700 192h5v5h-5zM704 192h5v5h-5zM708 192h5v5h-5zM712 192h5v5h-5zM716 192h5v5h-5zM720 192h5v5h-5zM724 192h5v5h-5zM728 192h5v5h-5zM916 348h5v5h-5zM964 332h5v5h-5zM988 328h5v5h-5zM992 328h5v5h-5zM996 328h5v5h-5zM1000 328h5v5h-5zM1008 328h5v5h-5zM1012 328h5v5h-5zM1016 328h5v5h-5zM1020 328h5v5h-5zM1024 328h5v5h-5zM1044 332h5v5h-5zM1060 336h5v5h-5zM1064 336h5v5h-5zM1076 340h5v5h-5zM1096 328h9v9h-9zM1096 336h9v9h-9zM1092 344h5v5h-5zM352 364h5v5h-5zM364 368h5v5h-5zM560 368h5v5h-5zM564 368h5v5h-5zM568 368h5v5h-5zM572 368h5v5h-5zM624 364h5v5h-5zM628 364h5v5h-5zM632 364h5v5h-5zM636 364h5v5h-5zM640 364h5v5h-5zM644 364h5v5h-5zM688 364h5v5h-5zM692 364h5v5h-5zM696 364h5v5h-5zM700 364h5v5h-5zM724 368h5v5h-5zM728 368h5v5h-5zM732 368h5v5h-5zM756 372h5v5h-5zM760 372h5v5h-5zM764 372h5v5h-5zM768 372h5v5h-5zM832 372h5v5h-5zM836 372h5v5h-5zM852 368h5v5h-5zM856 368h5v5h-5zM868 364h5v5h-5zM904 352h5v5h-5zM760 592h9v9h-9zM752 600h9v9h-9zM768 592h9v9h-9zM784 592h9v9h-9zM792 592h9v9h-9zM800 600h9v9h-9zM732 632h5v5h-5zM748 608h5v5h-5zM744 612h5v5h-5zM740 620h5v5h-5zM744 616h5v5h-5zM736 624h5v5h-5zM812 608h5v5h-5zM816 612h5v5h-5zM820 612h5v5h-5zM824 616h5v5h-5zM832 620h5v5h-5zM836 624h5v5h-5zM840 624h5v5h-5zM844 628h5v5h-5zM848 628h5v5h-5zM852 632h5v5h-5zM856 632h5v5h-5zM860 636h5v5h-5zM732 652h5v5h-5zM732 656h5v5h-5zM736 668h5v5h-5zM864 640h5v5h-5zM868 644h5v5h-5zM872 648h5v5h-5zM876 652h5v5h-5zM880 660h5v5h-5zM880 664h5v5h-5zM744 684h5v5h-5zM752 692h5v5h-5zM764 700h5v5h-5zM884 672h5v5h-5zM884 676h5v5h-5zM876 700h5v5h-5zM884 688h5v5h-5zM880 696h5v5h-5zM772 704h5v5h-5zM796 712h5v5h-5zM824 716h5v5h-5zM852 712h5v5h-5zM864 708h5v5h-5zM872 704h5v5h-5z"/><path fill="#1389d3" d="M656 168h5v5h-5zM656 172h5v5h-5zM664 180h5v5h-5zM672 184h5v5h-5zM676 184h5v5h-5zM680 184h5v5h-5zM688 188h5v5h-5zM692 188h5v5h-5zM696 188h5v5h-5zM700 188h5v5h-5zM704 188h5v5h-5zM708 188h5v5h-5zM724 188h5v5h-5zM728 188h5v5h-5zM732 188h5v5h-5zM736 188h5v5h-5zM740 188h5v5h-5zM744 188h5v5h-5zM764 184h5v5h-5zM768 184h5v5h-5zM788 180h5v5h-5zM792 180h5v5h-5zM796 180h5v5h-5zM812 176h5v5h-5zM816 176h5v5h-5zM820 176h5v5h-5zM844 172h5v5h-5zM848 172h5v5h-5zM852 172h5v5h-5zM860 168h5v5h-5zM856 172h5v5h-5zM864 164h5v5h-5zM940 340h5v5h-5zM928 344h5v5h-5zM952 336h5v5h-5zM968 332h5v5h-5zM1004 328h5v5h-5zM1036 332h5v5h-5zM1040 332h5v5h-5zM1052 336h5v5h-5zM1056 336h5v5h-5zM1072 340h5v5h-5zM1084 344h5v5h-5zM1088 344h5v5h-5zM1096 344h5v5h-5zM460 372h5v5h-5zM464 372h5v5h-5zM576 368h5v5h-5zM580 368h5v5h-5zM584 368h5v5h-5zM588 368h5v5h-5zM592 368h5v5h-5zM596 368h5v5h-5zM600 368h5v5h-5zM648 364h5v5h-5zM652 364h5v5h-5zM656 364h5v5h-5zM660 364h5v5h-5zM664 364h5v5h-5zM668 364h5v5h-5zM672 364h5v5h-5zM676 364h5v5h-5zM680 364h5v5h-5zM684 364h5v5h-5zM712 368h5v5h-5zM716 368h5v5h-5zM720 368h5v5h-5zM740 372h5v5h-5zM744 372h5v5h-5zM748 372h5v5h-5zM752 372h5v5h-5zM788 376h5v5h-5zM792 376h5v5h-5zM796 376h5v5h-5zM800 376h5v5h-5zM804 376h5v5h-5zM808 376h5v5h-5zM812 376h5v5h-5zM816 376h5v5h-5zM840 372h5v5h-5zM844 372h5v5h-5zM860 368h5v5h-5zM872 364h5v5h-5zM884 360h5v5h-5zM896 356h5v5h-5zM908 352h5v5h-5zM748 604h5v5h-5zM768 584h9v9h-9zM776 584h9v9h-9zM784 584h9v9h-9zM800 592h9v9h-9zM808 600h9v9h-9zM732 624h5v5h-5zM732 628h5v5h-5zM728 636h5v5h-5zM740 612h5v5h-5zM744 608h5v5h-5zM740 616h5v5h-5zM736 620h5v5h-5zM816 608h5v5h-5zM820 608h5v5h-5zM824 612h5v5h-5zM828 616h5v5h-5zM832 616h5v5h-5zM836 620h5v5h-5zM844 624h5v5h-5zM852 628h5v5h-5zM860 632h5v5h-5zM864 636h5v5h-5zM728 640h5v5h-5zM728 644h5v5h-5zM732 660h5v5h-5zM732 664h5v5h-5zM868 640h5v5h-5zM872 644h5v5h-5zM876 648h5v5h-5zM880 652h5v5h-5zM880 656h5v5h-5zM884 664h5v5h-5zM884 668h5v5h-5zM736 672h5v5h-5zM740 680h5v5h-5zM756 696h5v5h-5zM884 692h5v5h-5zM884 696h5v5h-5zM880 700h5v5h-5zM780 708h5v5h-5zM792 712h5v5h-5zM812 716h5v5h-5zM816 716h5v5h-5zM820 716h5v5h-5zM828 716h5v5h-5zM832 716h5v5h-5zM836 716h5v5h-5zM840 716h5v5h-5zM856 712h5v5h-5zM860 712h5v5h-5zM868 708h5v5h-5zM876 704h5v5h-5z"/><path fill="#128bd3" d="M660 172h5v5h-5zM664 176h5v5h-5zM668 180h5v5h-5zM672 180h5v5h-5zM676 180h5v5h-5zM684 184h5v5h-5zM688 184h5v5h-5zM692 184h5v5h-5zM712 188h5v5h-5zM716 188h5v5h-5zM720 188h5v5h-5zM748 184h5v5h-5zM752 184h5v5h-5zM756 184h5v5h-5zM760 184h5v5h-5zM776 180h5v5h-5zM780 180h5v5h-5zM784 180h5v5h-5zM828 172h5v5h-5zM800 176h5v5h-5zM804 176h5v5h-5zM808 176h5v5h-5zM832 172h5v5h-5zM836 172h5v5h-5zM840 172h5v5h-5zM856 168h5v5h-5zM920 348h5v5h-5zM932 344h5v5h-5zM956 336h5v5h-5zM972 332h5v5h-5zM976 332h5v5h-5zM1028 332h5v5h-5zM1032 332h5v5h-5zM1048 336h5v5h-5zM1064 340h5v5h-5zM1068 340h5v5h-5zM1080 344h5v5h-5zM1100 344h5v5h-5zM1096 348h5v5h-5zM1100 348h5v5h-5zM1104 336h9v9h-9zM348 364h5v5h-5zM468 372h5v5h-5zM604 368h5v5h-5zM608 368h5v5h-5zM612 368h5v5h-5zM616 368h5v5h-5zM620 368h5v5h-5zM624 368h5v5h-5zM696 368h5v5h-5zM700 368h5v5h-5zM704 368h5v5h-5zM708 368h5v5h-5zM728 372h5v5h-5zM732 372h5v5h-5zM736 372h5v5h-5zM764 376h5v5h-5zM768 376h5v5h-5zM772 376h5v5h-5zM776 376h5v5h-5zM780 376h5v5h-5zM784 376h5v5h-5zM820 376h5v5h-5zM824 376h5v5h-5zM828 376h5v5h-5zM848 372h5v5h-5zM876 364h5v5h-5zM888 360h5v5h-5zM864 368h5v5h-5zM900 356h5v5h-5zM760 584h9v9h-9zM748 600h5v5h-5zM744 604h5v5h-5zM752 592h9v9h-9zM792 584h9v9h-9zM816 600h9v9h-9zM732 620h5v5h-5zM728 628h5v5h-5zM728 632h5v5h-5zM740 608h5v5h-5zM736 616h5v5h-5zM824 608h5v5h-5zM828 612h5v5h-5zM836 616h5v5h-5zM840 620h5v5h-5zM844 620h5v5h-5zM848 624h5v5h-5zM852 624h5v5h-5zM856 628h5v5h-5zM864 632h5v5h-5zM868 636h5v5h-5zM728 648h5v5h-5zM728 652h5v5h-5zM732 668h5v5h-5zM872 640h5v5h-5zM876 644h5v5h-5zM880 648h5v5h-5zM884 656h5v5h-5zM884 660h5v5h-5zM888 668h5v5h-5zM736 676h5v5h-5zM888 672h5v5h-5zM888 676h5v5h-5zM888 680h9v9h-9zM888 688h5v5h-5zM888 692h5v5h-5zM884 700h5v5h-5zM808 716h5v5h-5zM844 716h5v5h-5zM848 716h5v5h-5zM872 708h5v5h-5zM864 712h5v5h-5zM880 704h5v5h-5z"/><path fill="#128cd2" d="M660 168h5v5h-5zM664 172h5v5h-5zM668 176h5v5h-5zM672 176h5v5h-5zM680 180h5v5h-5zM684 180h5v5h-5zM696 184h5v5h-5zM700 184h5v5h-5zM704 184h5v5h-5zM708 184h5v5h-5zM712 184h5v5h-5zM716 184h5v5h-5zM720 184h5v5h-5zM724 184h5v5h-5zM728 184h5v5h-5zM732 184h5v5h-5zM736 184h5v5h-5zM740 184h5v5h-5zM744 184h5v5h-5zM764 180h5v5h-5zM768 180h5v5h-5zM772 180h5v5h-5zM792 176h5v5h-5zM796 176h5v5h-5zM816 172h5v5h-5zM820 172h5v5h-5zM824 172h5v5h-5zM844 168h5v5h-5zM860 164h5v5h-5zM848 168h5v5h-5zM852 168h5v5h-5zM864 160h5v5h-5zM944 340h5v5h-5zM980 332h5v5h-5zM984 332h5v5h-5zM960 336h5v5h-5zM1020 332h5v5h-5zM1024 332h5v5h-5zM1040 336h5v5h-5zM1044 336h5v5h-5zM1060 340h5v5h-5zM1076 344h5v5h-5zM1092 348h5v5h-5zM1104 344h9v9h-9zM472 372h5v5h-5zM476 372h5v5h-5zM480 372h5v5h-5zM504 372h5v5h-5zM508 372h5v5h-5zM512 372h5v5h-5zM628 368h5v5h-5zM632 368h5v5h-5zM636 368h5v5h-5zM640 368h5v5h-5zM644 368h5v5h-5zM648 368h5v5h-5zM652 368h5v5h-5zM656 368h5v5h-5zM660 368h5v5h-5zM672 368h5v5h-5zM676 368h5v5h-5zM680 368h5v5h-5zM684 368h5v5h-5zM688 368h5v5h-5zM692 368h5v5h-5zM716 372h5v5h-5zM720 372h5v5h-5zM724 372h5v5h-5zM748 376h5v5h-5zM752 376h5v5h-5zM756 376h5v5h-5zM760 376h5v5h-5zM832 376h5v5h-5zM836 376h5v5h-5zM840 376h5v5h-5zM852 372h5v5h-5zM856 372h5v5h-5zM880 364h5v5h-5zM892 360h5v5h-5zM868 368h5v5h-5zM912 352h5v5h-5zM752 584h9v9h-9zM748 596h5v5h-5zM740 604h5v5h-5zM744 600h5v5h-5zM768 576h9v9h-9zM776 576h9v9h-9zM784 576h9v9h-9zM800 584h9v9h-9zM808 592h9v9h-9zM824 604h5v5h-5zM732 616h5v5h-5zM728 624h5v5h-5zM724 632h5v5h-5zM724 636h5v5h-5zM736 612h5v5h-5zM828 608h5v5h-5zM832 612h5v5h-5zM836 612h5v5h-5zM840 616h5v5h-5zM848 620h5v5h-5zM856 624h5v5h-5zM860 628h5v5h-5zM864 628h5v5h-5zM868 632h5v5h-5zM872 636h5v5h-5zM724 640h5v5h-5zM728 656h5v5h-5zM728 660h5v5h-5zM876 640h5v5h-5zM880 644h5v5h-5zM884 652h5v5h-5zM888 660h5v5h-5zM888 664h5v5h-5zM732 672h5v5h-5zM740 684h5v5h-5zM744 688h5v5h-5zM748 692h5v5h-5zM760 700h5v5h-5zM892 672h5v5h-5zM892 676h5v5h-5zM892 688h5v5h-5zM892 692h5v5h-5zM888 696h5v5h-5zM768 704h5v5h-5zM788 712h5v5h-5zM804 716h5v5h-5zM852 716h5v5h-5zM876 708h5v5h-5zM868 712h5v5h-5z"/><path fill="#118dd2" d="M660 164h5v5h-5zM664 168h5v5h-5zM668 172h5v5h-5zM676 176h5v5h-5zM680 176h5v5h-5zM688 180h5v5h-5zM692 180h5v5h-5zM696 180h5v5h-5zM700 180h5v5h-5zM744 180h5v5h-5zM748 180h5v5h-5zM752 180h5v5h-5zM756 180h5v5h-5zM760 180h5v5h-5zM776 176h5v5h-5zM780 176h5v5h-5zM784 176h5v5h-5zM788 176h5v5h-5zM804 172h5v5h-5zM808 172h5v5h-5zM812 172h5v5h-5zM832 168h5v5h-5zM836 168h5v5h-5zM840 168h5v5h-5zM860 160h5v5h-5zM856 164h5v5h-5zM924 348h5v5h-5zM936 344h5v5h-5zM948 340h5v5h-5zM988 332h5v5h-5zM964 336h5v5h-5zM992 332h5v5h-5zM996 332h5v5h-5zM1000 332h5v5h-5zM1004 332h5v5h-5zM1008 332h5v5h-5zM1012 332h5v5h-5zM1016 332h5v5h-5zM1036 336h5v5h-5zM1052 340h5v5h-5zM1056 340h5v5h-5zM1072 344h5v5h-5zM1084 348h5v5h-5zM1088 348h5v5h-5zM1112 336h9v9h-9zM1112 344h9v9h-9zM392 372h5v5h-5zM484 372h5v5h-5zM488 372h5v5h-5zM492 372h5v5h-5zM496 372h5v5h-5zM500 372h5v5h-5zM516 372h5v5h-5zM520 372h5v5h-5zM524 372h5v5h-5zM528 372h5v5h-5zM532 372h5v5h-5zM536 372h5v5h-5zM540 372h5v5h-5zM544 372h5v5h-5zM548 372h5v5h-5zM552 372h5v5h-5zM556 372h5v5h-5zM560 372h5v5h-5zM564 372h5v5h-5zM568 372h5v5h-5zM572 372h5v5h-5zM576 372h5v5h-5zM580 372h5v5h-5zM584 372h5v5h-5zM588 372h5v5h-5zM592 372h5v5h-5zM664 368h5v5h-5zM668 368h5v5h-5zM704 372h5v5h-5zM708 372h5v5h-5zM712 372h5v5h-5zM732 376h5v5h-5zM736 376h5v5h-5zM740 376h5v5h-5zM744 376h5v5h-5zM768 380h5v5h-5zM772 380h5v5h-5zM776 380h5v5h-5zM780 380h5v5h-5zM784 380h5v5h-5zM788 380h5v5h-5zM792 380h5v5h-5zM796 380h5v5h-5zM800 380h5v5h-5zM804 380h5v5h-5zM808 380h5v5h-5zM812 380h5v5h-5zM816 380h5v5h-5zM820 380h5v5h-5zM824 380h5v5h-5zM844 376h5v5h-5zM860 372h5v5h-5zM884 364h5v5h-5zM872 368h5v5h-5zM904 356h5v5h-5zM896 360h5v5h-5zM916 352h5v5h-5zM1100 352h5v5h-5zM1104 352h5v5h-5zM1108 352h5v5h-5zM748 588h5v5h-5zM756 580h5v5h-5zM760 576h9v9h-9zM744 592h5v5h-5zM748 592h5v5h-5zM744 596h5v5h-5zM740 600h5v5h-5zM736 604h5v5h-5zM792 576h9v9h-9zM808 584h9v9h-9zM816 592h9v9h-9zM824 600h5v5h-5zM828 604h5v5h-5zM732 612h5v5h-5zM728 616h5v5h-5zM728 620h5v5h-5zM724 624h5v5h-5zM724 628h5v5h-5zM736 608h5v5h-5zM832 608h5v5h-5zM840 612h5v5h-5zM844 616h5v5h-5zM848 616h5v5h-5zM852 620h5v5h-5zM856 620h5v5h-5zM860 624h5v5h-5zM868 628h5v5h-5zM872 632h5v5h-5zM876 636h5v5h-5zM724 644h5v5h-5zM724 648h5v5h-5zM728 664h5v5h-5zM880 640h5v5h-5zM884 648h5v5h-5zM888 656h5v5h-5zM892 664h5v5h-5zM892 668h5v5h-5zM736 680h5v5h-5zM752 696h5v5h-5zM892 696h5v5h-5zM888 700h5v5h-5zM776 708h5v5h-5zM800 716h5v5h-5zM856 716h5v5h-5zM860 716h5v5h-5zM872 712h5v5h-5zM884 704h5v5h-5zM880 708h5v5h-5z"/><path fill="#108ed2" d="M860 156h5v5h-5zM664 160h9v9h-9zM668 168h5v5h-5zM672 172h5v5h-5zM676 172h5v5h-5zM684 176h5v5h-5zM688 176h5v5h-5zM692 176h5v5h-5zM704 180h5v5h-5zM708 180h5v5h-5zM712 180h5v5h-5zM716 180h5v5h-5zM720 180h5v5h-5zM724 180h5v5h-5zM728 180h5v5h-5zM732 180h5v5h-5zM736 180h5v5h-5zM740 180h5v5h-5zM764 176h5v5h-5zM792 172h5v5h-5zM796 172h5v5h-5zM768 176h5v5h-5zM772 176h5v5h-5zM800 172h5v5h-5zM820 168h5v5h-5zM824 168h5v5h-5zM828 168h5v5h-5zM848 164h5v5h-5zM852 164h5v5h-5zM856 160h5v5h-5zM928 348h5v5h-5zM952 340h5v5h-5zM968 336h5v5h-5zM1032 336h5v5h-5zM1048 340h5v5h-5zM1064 344h5v5h-5zM1068 344h5v5h-5zM1080 348h5v5h-5zM344 356h5v5h-5zM596 372h5v5h-5zM600 372h5v5h-5zM604 372h5v5h-5zM608 372h5v5h-5zM612 372h5v5h-5zM616 372h5v5h-5zM620 372h5v5h-5zM624 372h5v5h-5zM628 372h5v5h-5zM684 372h5v5h-5zM688 372h5v5h-5zM692 372h5v5h-5zM696 372h5v5h-5zM700 372h5v5h-5zM720 376h5v5h-5zM724 376h5v5h-5zM728 376h5v5h-5zM748 380h5v5h-5zM752 380h5v5h-5zM756 380h5v5h-5zM760 380h5v5h-5zM764 380h5v5h-5zM828 380h5v5h-5zM832 380h5v5h-5zM836 380h5v5h-5zM848 376h5v5h-5zM852 376h5v5h-5zM888 364h5v5h-5zM864 372h5v5h-5zM876 368h5v5h-5zM908 356h5v5h-5zM1096 352h5v5h-5zM1112 352h9v9h-9zM768 568h9v9h-9zM776 568h9v9h-9zM784 568h9v9h-9zM748 584h5v5h-5zM744 588h5v5h-5zM756 576h5v5h-5zM752 580h5v5h-5zM740 592h5v5h-5zM740 596h5v5h-5zM736 600h5v5h-5zM800 576h9v9h-9zM828 600h5v5h-5zM832 604h5v5h-5zM732 608h5v5h-5zM728 612h5v5h-5zM724 620h5v5h-5zM720 632h5v5h-5zM720 636h5v5h-5zM836 608h5v5h-5zM840 608h5v5h-5zM844 612h5v5h-5zM852 616h5v5h-5zM860 620h5v5h-5zM864 624h5v5h-5zM868 624h5v5h-5zM872 628h5v5h-5zM876 632h5v5h-5zM880 636h5v5h-5zM724 652h5v5h-5zM728 668h5v5h-5zM884 640h5v5h-5zM884 644h5v5h-5zM888 648h5v5h-5zM888 652h5v5h-5zM892 660h5v5h-5zM896 668h5v5h-5zM732 676h5v5h-5zM892 700h5v5h-5zM896 672h5v5h-5zM896 676h5v5h-5zM896 680h9v9h-9zM896 688h9v9h-9zM896 696h5v5h-5zM784 712h5v5h-5zM824 720h5v5h-5zM828 720h5v5h-5zM832 720h5v5h-5zM836 720h5v5h-5zM864 716h5v5h-5zM876 712h5v5h-5zM884 708h5v5h-5zM888 704h5v5h-5z"/><path fill="#0f8fd2" d="M672 164h5v5h-5zM672 168h5v5h-5zM676 168h5v5h-5zM680 172h5v5h-5zM684 172h5v5h-5zM688 172h5v5h-5zM696 176h5v5h-5zM700 176h5v5h-5zM704 176h5v5h-5zM708 176h5v5h-5zM744 176h5v5h-5zM748 176h5v5h-5zM752 176h5v5h-5zM756 176h5v5h-5zM760 176h5v5h-5zM780 172h5v5h-5zM784 172h5v5h-5zM788 172h5v5h-5zM808 168h5v5h-5zM812 168h5v5h-5zM816 168h5v5h-5zM832 164h5v5h-5zM836 164h5v5h-5zM840 164h5v5h-5zM844 164h5v5h-5zM852 160h5v5h-5zM940 344h5v5h-5zM972 336h5v5h-5zM1024 336h5v5h-5zM1028 336h5v5h-5zM1044 340h5v5h-5zM1060 344h5v5h-5zM1076 348h5v5h-5zM1120 348h5v5h-5zM632 372h5v5h-5zM636 372h5v5h-5zM640 372h5v5h-5zM644 372h5v5h-5zM648 372h5v5h-5zM652 372h5v5h-5zM656 372h5v5h-5zM660 372h5v5h-5zM664 372h5v5h-5zM668 372h5v5h-5zM672 372h5v5h-5zM676 372h5v5h-5zM680 372h5v5h-5zM704 376h5v5h-5zM708 376h5v5h-5zM712 376h5v5h-5zM716 376h5v5h-5zM736 380h5v5h-5zM740 380h5v5h-5zM744 380h5v5h-5zM840 380h5v5h-5zM844 380h5v5h-5zM856 376h5v5h-5zM892 364h5v5h-5zM868 372h5v5h-5zM880 368h5v5h-5zM900 360h5v5h-5zM920 352h5v5h-5zM1092 352h5v5h-5zM1108 356h5v5h-5zM772 384h5v5h-5zM776 384h5v5h-5zM780 384h5v5h-5zM784 384h5v5h-5zM788 384h5v5h-5zM792 384h5v5h-5zM796 384h5v5h-5zM800 384h5v5h-5zM804 384h5v5h-5zM808 384h5v5h-5zM812 384h5v5h-5zM816 384h5v5h-5zM820 384h5v5h-5zM824 384h5v5h-5zM756 572h5v5h-5zM760 568h9v9h-9zM792 568h9v9h-9zM800 568h9v9h-9zM732 600h5v5h-5zM732 604h5v5h-5zM748 580h5v5h-5zM740 588h5v5h-5zM744 584h5v5h-5zM752 576h5v5h-5zM736 596h5v5h-5zM808 576h9v9h-9zM816 584h9v9h-9zM824 592h9v9h-9zM832 600h5v5h-5zM836 600h5v5h-5zM836 604h5v5h-5zM728 608h5v5h-5zM724 616h5v5h-5zM720 620h5v5h-5zM720 624h5v5h-5zM720 628h5v5h-5zM844 608h5v5h-5zM848 612h5v5h-5zM852 612h5v5h-5zM856 616h5v5h-5zM860 616h5v5h-5zM864 620h5v5h-5zM872 624h5v5h-5zM876 628h5v5h-5zM880 632h5v5h-5zM884 636h5v5h-5zM720 640h5v5h-5zM720 644h5v5h-5zM724 656h5v5h-5zM724 660h5v5h-5zM888 644h5v5h-5zM892 652h5v5h-5zM892 656h5v5h-5zM896 664h5v5h-5zM900 676h5v5h-5zM900 696h5v5h-5zM896 700h5v5h-5zM764 704h5v5h-5zM772 708h5v5h-5zM796 716h5v5h-5zM816 720h5v5h-5zM820 720h5v5h-5zM840 720h5v5h-5zM844 720h5v5h-5zM848 720h5v5h-5zM868 716h5v5h-5zM892 704h5v5h-5zM888 708h5v5h-5zM880 712h5v5h-5z"/><path fill="#0e91d2" d="M668 156h5v5h-5zM856 156h5v5h-5zM672 160h5v5h-5zM676 164h5v5h-5zM680 168h5v5h-5zM684 168h5v5h-5zM692 172h5v5h-5zM696 172h5v5h-5zM712 176h5v5h-5zM716 176h5v5h-5zM720 176h5v5h-5zM724 176h5v5h-5zM728 176h5v5h-5zM732 176h5v5h-5zM764 172h5v5h-5zM736 176h5v5h-5zM740 176h5v5h-5zM768 172h5v5h-5zM772 172h5v5h-5zM776 172h5v5h-5zM796 168h5v5h-5zM800 168h5v5h-5zM804 168h5v5h-5zM820 164h5v5h-5zM824 164h5v5h-5zM828 164h5v5h-5zM848 160h5v5h-5zM932 348h5v5h-5zM956 340h5v5h-5zM944 344h5v5h-5zM976 336h5v5h-5zM980 336h5v5h-5zM1016 336h5v5h-5zM1020 336h5v5h-5zM1040 340h5v5h-5zM1056 344h5v5h-5zM1072 348h5v5h-5zM1124 348h5v5h-5zM340 352h5v5h-5zM344 360h5v5h-5zM688 376h5v5h-5zM692 376h5v5h-5zM696 376h5v5h-5zM700 376h5v5h-5zM720 380h5v5h-5zM724 380h5v5h-5zM728 380h5v5h-5zM732 380h5v5h-5zM848 380h5v5h-5zM852 380h5v5h-5zM860 376h5v5h-5zM872 372h5v5h-5zM864 376h5v5h-5zM884 368h5v5h-5zM904 360h5v5h-5zM912 356h5v5h-5zM1088 352h5v5h-5zM1104 356h5v5h-5zM1120 352h9v9h-9zM748 384h5v5h-5zM752 384h5v5h-5zM756 384h5v5h-5zM760 384h5v5h-5zM764 384h5v5h-5zM768 384h5v5h-5zM828 384h5v5h-5zM832 384h5v5h-5zM836 384h5v5h-5zM752 572h5v5h-5zM776 560h9v9h-9zM784 560h9v9h-9zM808 568h9v9h-9zM732 596h5v5h-5zM728 604h5v5h-5zM748 576h5v5h-5zM744 580h5v5h-5zM740 584h5v5h-5zM736 592h5v5h-5zM816 576h9v9h-9zM824 584h9v9h-9zM832 592h9v9h-9zM840 600h9v9h-9zM724 608h5v5h-5zM724 612h5v5h-5zM720 616h5v5h-5zM716 628h5v5h-5zM716 632h5v5h-5zM848 608h5v5h-5zM852 608h5v5h-5zM856 612h5v5h-5zM864 616h5v5h-5zM868 620h5v5h-5zM876 624h5v5h-5zM880 628h5v5h-5zM884 632h5v5h-5zM888 636h5v5h-5zM720 648h5v5h-5zM724 664h5v5h-5zM888 640h5v5h-5zM892 644h5v5h-5zM892 648h5v5h-5zM896 656h5v5h-5zM896 660h5v5h-5zM900 668h5v5h-5zM728 672h5v5h-5zM732 680h5v5h-5zM736 684h5v5h-5zM740 688h5v5h-5zM744 692h5v5h-5zM756 700h5v5h-5zM900 672h5v5h-5zM900 700h5v5h-5zM812 720h5v5h-5zM852 720h5v5h-5zM856 720h5v5h-5zM872 716h5v5h-5zM892 708h5v5h-5zM884 712h5v5h-5zM896 704h5v5h-5z"/><path fill="#0d92d2" d="M672 156h5v5h-5zM852 156h5v5h-5zM676 160h5v5h-5zM680 164h5v5h-5zM688 168h5v5h-5zM692 168h5v5h-5zM700 172h5v5h-5zM704 172h5v5h-5zM708 172h5v5h-5zM712 172h5v5h-5zM716 172h5v5h-5zM720 172h5v5h-5zM724 172h5v5h-5zM732 172h5v5h-5zM736 172h5v5h-5zM740 172h5v5h-5zM744 172h5v5h-5zM748 172h5v5h-5zM752 172h5v5h-5zM756 172h5v5h-5zM760 172h5v5h-5zM784 168h5v5h-5zM788 168h5v5h-5zM792 168h5v5h-5zM812 164h5v5h-5zM816 164h5v5h-5zM836 160h5v5h-5zM840 160h5v5h-5zM844 160h5v5h-5zM936 348h5v5h-5zM960 340h5v5h-5zM984 336h5v5h-5zM988 336h5v5h-5zM992 336h5v5h-5zM1004 336h5v5h-5zM1008 336h5v5h-5zM1012 336h5v5h-5zM1036 340h5v5h-5zM1052 344h5v5h-5zM1068 348h5v5h-5zM340 356h5v5h-5zM388 372h5v5h-5zM560 376h5v5h-5zM564 376h5v5h-5zM568 376h5v5h-5zM572 376h5v5h-5zM576 376h5v5h-5zM580 376h5v5h-5zM584 376h5v5h-5zM588 376h5v5h-5zM592 376h5v5h-5zM596 376h5v5h-5zM600 376h5v5h-5zM604 376h5v5h-5zM608 376h5v5h-5zM612 376h5v5h-5zM616 376h5v5h-5zM620 376h5v5h-5zM624 376h5v5h-5zM628 376h5v5h-5zM632 376h5v5h-5zM636 376h5v5h-5zM640 376h5v5h-5zM644 376h5v5h-5zM648 376h5v5h-5zM652 376h5v5h-5zM656 376h5v5h-5zM660 376h5v5h-5zM664 376h5v5h-5zM668 376h5v5h-5zM672 376h5v5h-5zM676 376h5v5h-5zM680 376h5v5h-5zM684 376h5v5h-5zM708 380h5v5h-5zM712 380h5v5h-5zM716 380h5v5h-5zM856 380h5v5h-5zM876 372h5v5h-5zM868 376h5v5h-5zM888 368h5v5h-5zM896 364h5v5h-5zM916 356h5v5h-5zM924 352h5v5h-5zM1084 352h5v5h-5zM1100 356h5v5h-5zM1116 360h5v5h-5zM1120 360h5v5h-5zM1124 360h5v5h-5zM736 384h5v5h-5zM740 384h5v5h-5zM744 384h5v5h-5zM768 388h5v5h-5zM772 388h5v5h-5zM776 388h5v5h-5zM780 388h5v5h-5zM784 388h5v5h-5zM788 388h5v5h-5zM792 388h5v5h-5zM796 388h5v5h-5zM800 388h5v5h-5zM804 388h5v5h-5zM808 388h5v5h-5zM812 388h5v5h-5zM816 388h5v5h-5zM820 388h5v5h-5zM824 388h5v5h-5zM840 384h5v5h-5zM844 384h5v5h-5zM748 572h5v5h-5zM760 564h5v5h-5zM764 564h5v5h-5zM752 568h5v5h-5zM756 568h5v5h-5zM768 560h9v9h-9zM792 560h9v9h-9zM800 560h9v9h-9zM732 592h5v5h-5zM728 596h5v5h-5zM724 604h5v5h-5zM728 600h5v5h-5zM740 580h5v5h-5zM744 576h5v5h-5zM736 584h5v5h-5zM736 588h5v5h-5zM716 620h5v5h-5zM720 612h5v5h-5zM716 624h5v5h-5zM716 636h5v5h-5zM856 608h5v5h-5zM860 612h5v5h-5zM864 612h5v5h-5zM868 616h5v5h-5zM872 620h5v5h-5zM876 620h5v5h-5zM880 624h5v5h-5zM884 628h5v5h-5zM888 632h5v5h-5zM716 640h5v5h-5zM720 652h5v5h-5zM720 656h5v5h-5zM724 668h5v5h-5zM892 640h5v5h-5zM896 648h5v5h-5zM896 652h5v5h-5zM900 660h5v5h-5zM900 664h5v5h-5zM748 696h5v5h-5zM904 672h5v5h-5zM904 676h5v5h-5zM904 680h9v9h-9zM904 688h9v9h-9zM904 696h5v5h-5zM904 700h5v5h-5zM780 712h5v5h-5zM792 716h5v5h-5zM808 720h5v5h-5zM860 720h5v5h-5zM876 716h5v5h-5zM880 716h5v5h-5zM888 712h5v5h-5zM864 720h5v5h-5zM900 704h5v5h-5zM896 708h5v5h-5z"/><path fill="#0c93d2" d="M672 152h5v5h-5zM676 156h5v5h-5zM848 156h5v5h-5zM856 152h5v5h-5zM680 160h5v5h-5zM684 164h5v5h-5zM688 164h5v5h-5zM696 168h5v5h-5zM700 168h5v5h-5zM704 168h5v5h-5zM728 172h5v5h-5zM768 168h5v5h-5zM772 168h5v5h-5zM776 168h5v5h-5zM780 168h5v5h-5zM800 164h5v5h-5zM804 164h5v5h-5zM808 164h5v5h-5zM824 160h5v5h-5zM828 160h5v5h-5zM832 160h5v5h-5zM948 344h5v5h-5zM964 340h5v5h-5zM996 336h5v5h-5zM1000 336h5v5h-5zM1028 340h5v5h-5zM1032 340h5v5h-5zM1048 344h5v5h-5zM1064 348h5v5h-5zM340 360h5v5h-5zM360 368h5v5h-5zM544 376h5v5h-5zM548 376h5v5h-5zM552 376h5v5h-5zM556 376h5v5h-5zM692 380h5v5h-5zM696 380h5v5h-5zM700 380h5v5h-5zM704 380h5v5h-5zM860 380h5v5h-5zM864 380h5v5h-5zM872 376h5v5h-5zM880 372h5v5h-5zM892 368h5v5h-5zM900 364h5v5h-5zM908 360h5v5h-5zM928 352h5v5h-5zM1080 352h5v5h-5zM1096 356h5v5h-5zM1112 360h5v5h-5zM1128 352h9v9h-9zM720 384h5v5h-5zM724 384h5v5h-5zM728 384h5v5h-5zM732 384h5v5h-5zM748 388h5v5h-5zM752 388h5v5h-5zM756 388h5v5h-5zM760 388h5v5h-5zM764 388h5v5h-5zM828 388h5v5h-5zM832 388h5v5h-5zM836 388h5v5h-5zM848 384h5v5h-5zM852 384h5v5h-5zM748 568h5v5h-5zM744 572h5v5h-5zM756 564h5v5h-5zM764 560h5v5h-5zM808 560h9v9h-9zM816 568h9v9h-9zM732 588h5v5h-5zM728 592h5v5h-5zM724 600h5v5h-5zM720 604h5v5h-5zM740 576h5v5h-5zM736 580h5v5h-5zM824 576h9v9h-9zM832 584h9v9h-9zM840 592h9v9h-9zM848 600h9v9h-9zM856 604h5v5h-5zM716 612h5v5h-5zM716 616h5v5h-5zM720 608h5v5h-5zM860 608h5v5h-5zM864 608h5v5h-5zM868 612h5v5h-5zM872 616h5v5h-5zM876 616h5v5h-5zM880 620h5v5h-5zM884 624h5v5h-5zM888 628h5v5h-5zM892 632h5v5h-5zM892 636h5v5h-5zM716 644h5v5h-5zM720 660h5v5h-5zM896 640h5v5h-5zM896 644h5v5h-5zM900 652h5v5h-5zM900 656h5v5h-5zM904 664h5v5h-5zM904 668h5v5h-5zM728 676h5v5h-5zM908 672h5v5h-5zM908 676h5v5h-5zM908 696h5v5h-5zM908 700h5v5h-5zM804 720h5v5h-5zM884 716h5v5h-5zM892 712h5v5h-5zM868 720h5v5h-5zM900 708h5v5h-5zM904 704h5v5h-5z"/><path fill="#0b95d2" d="M676 152h5v5h-5zM680 156h5v5h-5zM836 156h5v5h-5zM840 156h5v5h-5zM844 156h5v5h-5zM852 148h5v5h-5zM856 144h9v9h-9zM848 152h5v5h-5zM852 152h5v5h-5zM684 160h5v5h-5zM692 164h5v5h-5zM696 164h5v5h-5zM700 164h5v5h-5zM708 168h5v5h-5zM712 168h5v5h-5zM716 168h5v5h-5zM720 168h5v5h-5zM724 168h5v5h-5zM728 168h5v5h-5zM732 168h5v5h-5zM736 168h5v5h-5zM740 168h5v5h-5zM744 168h5v5h-5zM748 168h5v5h-5zM752 168h5v5h-5zM756 168h5v5h-5zM760 168h5v5h-5zM764 168h5v5h-5zM788 164h5v5h-5zM792 164h5v5h-5zM796 164h5v5h-5zM812 160h5v5h-5zM816 160h5v5h-5zM820 160h5v5h-5zM940 348h5v5h-5zM952 344h5v5h-5zM968 340h5v5h-5zM1024 340h5v5h-5zM1044 344h5v5h-5zM1060 348h5v5h-5zM532 376h5v5h-5zM536 376h5v5h-5zM540 376h5v5h-5zM664 380h5v5h-5zM668 380h5v5h-5zM672 380h5v5h-5zM676 380h5v5h-5zM680 380h5v5h-5zM684 380h5v5h-5zM688 380h5v5h-5zM868 380h5v5h-5zM876 376h5v5h-5zM884 372h5v5h-5zM904 364h5v5h-5zM920 356h5v5h-5zM912 360h5v5h-5zM896 368h5v5h-5zM1076 352h5v5h-5zM1092 356h5v5h-5zM1108 360h5v5h-5zM1124 364h5v5h-5zM1128 360h9v9h-9zM1136 352h9v9h-9zM704 384h5v5h-5zM708 384h5v5h-5zM712 384h5v5h-5zM716 384h5v5h-5zM732 388h5v5h-5zM736 388h5v5h-5zM740 388h5v5h-5zM744 388h5v5h-5zM776 392h9v9h-9zM784 392h9v9h-9zM792 392h9v9h-9zM800 392h9v9h-9zM808 392h9v9h-9zM816 392h9v9h-9zM840 388h5v5h-5zM844 388h5v5h-5zM856 384h5v5h-5zM764 556h5v5h-5zM748 564h5v5h-5zM740 572h5v5h-5zM744 568h5v5h-5zM756 560h5v5h-5zM752 564h5v5h-5zM760 560h5v5h-5zM768 552h9v9h-9zM776 552h9v9h-9zM784 552h9v9h-9zM792 552h9v9h-9zM800 552h9v9h-9zM816 560h9v9h-9zM824 568h9v9h-9zM732 584h5v5h-5zM728 588h5v5h-5zM724 592h5v5h-5zM724 596h5v5h-5zM720 600h5v5h-5zM736 576h5v5h-5zM832 576h9v9h-9zM840 584h9v9h-9zM848 592h9v9h-9zM856 600h5v5h-5zM860 604h5v5h-5zM716 608h5v5h-5zM712 616h5v5h-5zM712 620h5v5h-5zM712 624h5v5h-5zM712 628h5v5h-5zM712 632h5v5h-5zM712 636h5v5h-5zM868 608h5v5h-5zM872 612h5v5h-5zM876 612h5v5h-5zM880 616h5v5h-5zM884 620h5v5h-5zM888 624h5v5h-5zM892 628h5v5h-5zM896 632h5v5h-5zM896 636h5v5h-5zM716 648h5v5h-5zM720 664h5v5h-5zM900 644h5v5h-5zM900 648h5v5h-5zM904 656h5v5h-5zM904 660h5v5h-5zM908 664h5v5h-5zM908 668h5v5h-5zM724 672h5v5h-5zM732 684h5v5h-5zM912 676h5v5h-5zM760 704h5v5h-5zM768 708h5v5h-5zM788 716h5v5h-5zM800 720h5v5h-5zM828 724h5v5h-5zM832 724h5v5h-5zM836 724h5v5h-5zM840 724h5v5h-5zM844 724h5v5h-5zM888 716h5v5h-5zM872 720h5v5h-5zM876 720h5v5h-5zM908 704h5v5h-5zM904 708h5v5h-5zM896 712h5v5h-5z"/><path fill="#0b96d1" d="M676 148h5v5h-5zM680 152h5v5h-5zM684 156h5v5h-5zM828 156h5v5h-5zM832 156h5v5h-5zM844 152h5v5h-5zM852 144h5v5h-5zM848 148h5v5h-5zM688 160h5v5h-5zM692 160h5v5h-5zM704 164h5v5h-5zM708 164h5v5h-5zM712 164h5v5h-5zM768 164h5v5h-5zM772 164h5v5h-5zM776 164h5v5h-5zM780 164h5v5h-5zM784 164h5v5h-5zM804 160h5v5h-5zM808 160h5v5h-5zM944 348h5v5h-5zM956 344h5v5h-5zM972 340h5v5h-5zM976 340h5v5h-5zM1016 340h5v5h-5zM1020 340h5v5h-5zM1040 344h5v5h-5zM1056 348h5v5h-5zM336 352h5v5h-5zM336 356h5v5h-5zM336 360h5v5h-5zM524 376h5v5h-5zM528 376h5v5h-5zM576 380h5v5h-5zM580 380h5v5h-5zM584 380h5v5h-5zM588 380h5v5h-5zM592 380h5v5h-5zM596 380h5v5h-5zM600 380h5v5h-5zM604 380h5v5h-5zM608 380h5v5h-5zM612 380h5v5h-5zM616 380h5v5h-5zM620 380h5v5h-5zM624 380h5v5h-5zM628 380h5v5h-5zM632 380h5v5h-5zM636 380h5v5h-5zM640 380h5v5h-5zM644 380h5v5h-5zM648 380h5v5h-5zM652 380h5v5h-5zM656 380h5v5h-5zM660 380h5v5h-5zM872 380h5v5h-5zM888 372h5v5h-5zM880 376h5v5h-5zM908 364h5v5h-5zM924 356h5v5h-5zM916 360h5v5h-5zM932 352h5v5h-5zM1072 352h5v5h-5zM1088 356h5v5h-5zM1104 360h5v5h-5zM1120 364h5v5h-5zM1136 360h9v9h-9zM688 384h5v5h-5zM692 384h5v5h-5zM696 384h5v5h-5zM700 384h5v5h-5zM716 388h5v5h-5zM720 388h5v5h-5zM724 388h5v5h-5zM728 388h5v5h-5zM740 392h5v5h-5zM744 392h5v5h-5zM748 392h5v5h-5zM752 392h5v5h-5zM756 392h5v5h-5zM760 392h9v9h-9zM768 392h9v9h-9zM824 392h9v9h-9zM832 392h5v5h-5zM836 392h5v5h-5zM840 392h5v5h-5zM848 388h5v5h-5zM852 388h5v5h-5zM860 384h5v5h-5zM864 384h5v5h-5zM756 556h5v5h-5zM764 552h5v5h-5zM760 556h5v5h-5zM740 568h5v5h-5zM736 572h5v5h-5zM752 560h5v5h-5zM808 552h9v9h-9zM824 560h9v9h-9zM832 568h9v9h-9zM732 576h5v5h-5zM732 580h5v5h-5zM724 588h5v5h-5zM728 584h5v5h-5zM716 604h5v5h-5zM720 596h5v5h-5zM860 600h5v5h-5zM864 600h9v9h-9zM712 612h5v5h-5zM872 608h5v5h-5zM876 608h5v5h-5zM880 612h5v5h-5zM884 616h5v5h-5zM888 620h5v5h-5zM892 624h5v5h-5zM896 628h5v5h-5zM900 636h5v5h-5zM712 640h5v5h-5zM716 652h5v5h-5zM900 640h5v5h-5zM904 648h5v5h-5zM904 652h5v5h-5zM908 660h5v5h-5zM912 668h5v5h-5zM728 680h5v5h-5zM736 688h5v5h-5zM740 692h5v5h-5zM752 700h5v5h-5zM912 672h5v5h-5zM912 680h9v9h-9zM912 688h9v9h-9zM912 696h9v9h-9zM776 712h5v5h-5zM820 724h5v5h-5zM824 724h5v5h-5zM848 724h5v5h-5zM852 724h5v5h-5zM856 724h5v5h-5zM860 724h5v5h-5zM892 716h5v5h-5zM880 720h5v5h-5zM900 712h5v5h-5zM912 704h5v5h-5z"/><path fill="#0a97d1" d="M680 144h9v9h-9zM684 152h5v5h-5zM816 156h5v5h-5zM820 156h5v5h-5zM824 156h5v5h-5zM840 152h5v5h-5zM696 160h5v5h-5zM700 160h5v5h-5zM704 160h5v5h-5zM716 164h5v5h-5zM720 164h5v5h-5zM724 164h5v5h-5zM728 164h5v5h-5zM732 164h5v5h-5zM736 164h5v5h-5zM740 164h5v5h-5zM744 164h5v5h-5zM748 164h5v5h-5zM752 164h5v5h-5zM756 164h5v5h-5zM760 164h5v5h-5zM764 164h5v5h-5zM792 160h5v5h-5zM796 160h5v5h-5zM800 160h5v5h-5zM960 344h5v5h-5zM980 340h5v5h-5zM984 340h5v5h-5zM1008 340h5v5h-5zM1012 340h5v5h-5zM1036 344h5v5h-5zM1052 348h5v5h-5zM520 376h5v5h-5zM564 380h5v5h-5zM568 380h5v5h-5zM572 380h5v5h-5zM876 380h5v5h-5zM892 372h5v5h-5zM884 376h5v5h-5zM900 368h5v5h-5zM928 356h5v5h-5zM936 352h5v5h-5zM1068 352h5v5h-5zM1084 356h5v5h-5zM1100 360h5v5h-5zM1116 364h5v5h-5zM1132 368h5v5h-5zM1136 368h5v5h-5zM1140 368h5v5h-5zM668 384h5v5h-5zM672 384h5v5h-5zM676 384h5v5h-5zM680 384h5v5h-5zM684 384h5v5h-5zM704 388h5v5h-5zM708 388h5v5h-5zM712 388h5v5h-5zM728 392h5v5h-5zM732 392h5v5h-5zM736 392h5v5h-5zM748 396h5v5h-5zM752 396h5v5h-5zM756 396h5v5h-5zM832 396h5v5h-5zM836 396h5v5h-5zM844 392h5v5h-5zM856 388h5v5h-5zM860 388h5v5h-5zM848 392h5v5h-5zM868 384h5v5h-5zM732 572h5v5h-5zM752 556h5v5h-5zM760 552h5v5h-5zM748 560h5v5h-5zM744 564h5v5h-5zM768 544h9v9h-9zM776 544h9v9h-9zM784 544h9v9h-9zM792 544h9v9h-9zM800 544h9v9h-9zM808 544h9v9h-9zM816 552h9v9h-9zM728 580h5v5h-5zM724 584h5v5h-5zM716 596h5v5h-5zM716 600h5v5h-5zM712 604h5v5h-5zM720 592h5v5h-5zM840 576h9v9h-9zM848 584h9v9h-9zM856 592h9v9h-9zM708 612h5v5h-5zM712 608h5v5h-5zM708 616h5v5h-5zM708 620h5v5h-5zM708 624h5v5h-5zM708 628h5v5h-5zM708 632h5v5h-5zM880 608h5v5h-5zM884 612h5v5h-5zM888 616h5v5h-5zM892 620h5v5h-5zM896 624h5v5h-5zM900 628h5v5h-5zM900 632h5v5h-5zM712 644h5v5h-5zM716 656h5v5h-5zM720 668h5v5h-5zM904 640h9v9h-9zM908 648h5v5h-5zM908 652h5v5h-5zM908 656h5v5h-5zM912 664h5v5h-5zM724 676h5v5h-5zM916 672h5v5h-5zM916 676h5v5h-5zM784 716h5v5h-5zM796 720h5v5h-5zM816 724h5v5h-5zM864 724h5v5h-5zM868 724h5v5h-5zM884 720h5v5h-5zM888 720h5v5h-5zM908 708h5v5h-5zM896 716h5v5h-5zM904 712h5v5h-5zM916 704h5v5h-5z"/><path fill="#0998d1" d="M688 148h5v5h-5zM688 152h9v9h-9zM696 156h5v5h-5zM700 156h5v5h-5zM808 156h5v5h-5zM812 156h5v5h-5zM828 152h5v5h-5zM844 148h5v5h-5zM832 152h5v5h-5zM836 152h5v5h-5zM848 144h5v5h-5zM708 160h5v5h-5zM712 160h5v5h-5zM716 160h5v5h-5zM720 160h5v5h-5zM772 160h5v5h-5zM776 160h5v5h-5zM780 160h5v5h-5zM784 160h5v5h-5zM788 160h5v5h-5zM948 348h5v5h-5zM964 344h5v5h-5zM988 340h5v5h-5zM992 340h5v5h-5zM996 340h5v5h-5zM1000 340h5v5h-5zM1004 340h5v5h-5zM1032 344h5v5h-5zM1048 348h5v5h-5zM344 364h5v5h-5zM384 372h5v5h-5zM512 376h5v5h-5zM516 376h5v5h-5zM556 380h5v5h-5zM560 380h5v5h-5zM880 380h5v5h-5zM888 376h5v5h-5zM912 364h5v5h-5zM920 360h5v5h-5zM896 372h5v5h-5zM904 368h5v5h-5zM940 352h5v5h-5zM1064 352h5v5h-5zM1080 356h5v5h-5zM1096 360h5v5h-5zM1112 364h5v5h-5zM1144 360h9v9h-9zM1128 368h5v5h-5zM616 384h5v5h-5zM620 384h5v5h-5zM624 384h5v5h-5zM628 384h5v5h-5zM632 384h5v5h-5zM636 384h5v5h-5zM640 384h5v5h-5zM644 384h5v5h-5zM648 384h5v5h-5zM652 384h5v5h-5zM656 384h5v5h-5zM660 384h5v5h-5zM664 384h5v5h-5zM688 388h5v5h-5zM692 388h5v5h-5zM696 388h5v5h-5zM700 388h5v5h-5zM712 392h5v5h-5zM716 392h5v5h-5zM720 392h5v5h-5zM724 392h5v5h-5zM732 396h5v5h-5zM736 396h5v5h-5zM740 396h5v5h-5zM744 396h5v5h-5zM768 400h9v9h-9zM776 400h9v9h-9zM784 400h9v9h-9zM792 400h9v9h-9zM800 400h9v9h-9zM808 400h9v9h-9zM816 400h9v9h-9zM824 400h9v9h-9zM840 396h5v5h-5zM844 396h5v5h-5zM852 392h5v5h-5zM848 396h5v5h-5zM856 392h5v5h-5zM864 388h5v5h-5zM872 384h5v5h-5zM792 536h9v9h-9zM748 556h5v5h-5zM760 544h9v9h-9zM752 552h5v5h-5zM756 552h5v5h-5zM740 564h5v5h-5zM744 560h5v5h-5zM736 568h5v5h-5zM816 544h9v9h-9zM824 552h9v9h-9zM832 560h9v9h-9zM840 568h9v9h-9zM724 580h5v5h-5zM728 576h5v5h-5zM720 584h5v5h-5zM720 588h5v5h-5zM716 592h5v5h-5zM712 600h5v5h-5zM848 576h9v9h-9zM864 592h9v9h-9zM872 600h9v9h-9zM708 608h5v5h-5zM708 636h5v5h-5zM884 608h5v5h-5zM892 616h5v5h-5zM896 620h5v5h-5zM900 624h5v5h-5zM904 632h9v9h-9zM712 648h5v5h-5zM716 660h5v5h-5zM912 656h9v9h-9zM916 664h5v5h-5zM916 668h5v5h-5zM720 672h5v5h-5zM744 696h5v5h-5zM920 688h9v9h-9zM920 696h9v9h-9zM764 708h5v5h-5zM812 724h5v5h-5zM872 724h5v5h-5zM876 724h5v5h-5zM892 720h5v5h-5zM900 716h5v5h-5zM908 712h5v5h-5zM912 708h5v5h-5z"/><path fill="#0899d1" d="M688 144h5v5h-5zM692 148h5v5h-5zM696 152h5v5h-5zM704 156h5v5h-5zM708 156h5v5h-5zM712 156h5v5h-5zM796 156h5v5h-5zM800 156h5v5h-5zM804 156h5v5h-5zM820 152h5v5h-5zM824 152h5v5h-5zM844 144h5v5h-5zM840 148h5v5h-5zM724 160h5v5h-5zM728 160h5v5h-5zM732 160h5v5h-5zM736 160h5v5h-5zM740 160h5v5h-5zM744 160h5v5h-5zM748 160h5v5h-5zM752 160h5v5h-5zM756 160h5v5h-5zM760 160h5v5h-5zM764 160h5v5h-5zM768 160h5v5h-5zM952 348h5v5h-5zM968 344h5v5h-5zM1024 344h5v5h-5zM1028 344h5v5h-5zM1044 348h5v5h-5zM508 376h5v5h-5zM548 380h5v5h-5zM552 380h5v5h-5zM884 380h5v5h-5zM892 376h5v5h-5zM916 364h5v5h-5zM924 360h5v5h-5zM900 372h5v5h-5zM908 368h5v5h-5zM932 356h5v5h-5zM1060 352h5v5h-5zM1076 356h5v5h-5zM1092 360h5v5h-5zM1108 364h5v5h-5zM1124 368h5v5h-5zM1140 372h5v5h-5zM1144 368h9v9h-9zM1152 360h9v9h-9zM588 384h5v5h-5zM592 384h5v5h-5zM596 384h5v5h-5zM600 384h5v5h-5zM604 384h5v5h-5zM608 384h5v5h-5zM612 384h5v5h-5zM668 388h5v5h-5zM672 388h5v5h-5zM676 388h5v5h-5zM680 388h5v5h-5zM684 388h5v5h-5zM700 392h5v5h-5zM704 392h5v5h-5zM708 392h5v5h-5zM720 396h5v5h-5zM724 396h5v5h-5zM728 396h5v5h-5zM752 400h9v9h-9zM760 400h9v9h-9zM852 396h5v5h-5zM860 392h5v5h-5zM856 396h5v5h-5zM832 400h9v9h-9zM868 388h5v5h-5zM876 384h5v5h-5zM872 388h5v5h-5zM864 392h5v5h-5zM880 384h5v5h-5zM776 536h9v9h-9zM784 536h9v9h-9zM800 536h9v9h-9zM808 536h9v9h-9zM732 568h5v5h-5zM728 572h5v5h-5zM748 552h5v5h-5zM744 556h5v5h-5zM752 548h5v5h-5zM756 548h5v5h-5zM740 560h5v5h-5zM736 564h5v5h-5zM824 544h9v9h-9zM832 552h9v9h-9zM840 560h9v9h-9zM848 568h9v9h-9zM716 588h5v5h-5zM724 576h5v5h-5zM720 580h5v5h-5zM712 592h5v5h-5zM712 596h5v5h-5zM708 600h5v5h-5zM708 604h5v5h-5zM856 584h9v9h-9zM880 600h9v9h-9zM704 612h5v5h-5zM704 616h5v5h-5zM704 620h5v5h-5zM704 624h5v5h-5zM704 628h5v5h-5zM888 608h9v9h-9zM896 616h5v5h-5zM900 616h5v5h-5zM900 620h5v5h-5zM904 624h9v9h-9zM708 640h5v5h-5zM712 652h5v5h-5zM716 664h5v5h-5zM912 648h9v9h-9zM920 672h9v9h-9zM920 680h9v9h-9zM756 704h5v5h-5zM772 712h5v5h-5zM792 720h5v5h-5zM808 724h5v5h-5zM880 724h5v5h-5zM884 724h5v5h-5zM904 716h5v5h-5zM908 716h5v5h-5zM916 708h5v5h-5zM920 704h9v9h-9zM912 712h9v9h-9zM912 720h17v17h-17z"/><path fill="#089ad0" d="M692 144h5v5h-5zM696 148h5v5h-5zM700 152h5v5h-5zM704 152h5v5h-5zM716 156h5v5h-5zM720 156h5v5h-5zM724 156h5v5h-5zM728 156h5v5h-5zM776 156h5v5h-5zM780 156h5v5h-5zM784 156h5v5h-5zM788 156h5v5h-5zM792 156h5v5h-5zM808 152h5v5h-5zM812 152h5v5h-5zM816 152h5v5h-5zM848 140h5v5h-5zM832 148h5v5h-5zM836 148h5v5h-5zM956 348h5v5h-5zM972 344h5v5h-5zM1020 344h5v5h-5zM1040 348h5v5h-5zM504 376h5v5h-5zM540 380h5v5h-5zM544 380h5v5h-5zM888 380h5v5h-5zM892 380h5v5h-5zM920 364h5v5h-5zM904 372h5v5h-5zM896 376h5v5h-5zM912 368h5v5h-5zM936 356h5v5h-5zM928 360h5v5h-5zM944 352h5v5h-5zM1056 352h5v5h-5zM1072 356h5v5h-5zM1088 360h5v5h-5zM1104 364h5v5h-5zM1120 368h5v5h-5zM1136 372h5v5h-5zM1152 368h9v9h-9zM576 384h5v5h-5zM580 384h5v5h-5zM584 384h5v5h-5zM644 388h5v5h-5zM648 388h5v5h-5zM652 388h5v5h-5zM656 388h5v5h-5zM660 388h5v5h-5zM664 388h5v5h-5zM684 392h5v5h-5zM688 392h5v5h-5zM692 392h5v5h-5zM696 392h5v5h-5zM708 396h5v5h-5zM712 396h5v5h-5zM716 396h5v5h-5zM736 400h9v9h-9zM744 400h9v9h-9zM776 408h9v9h-9zM784 408h9v9h-9zM792 408h9v9h-9zM800 408h9v9h-9zM808 408h9v9h-9zM816 408h9v9h-9zM860 396h5v5h-5zM840 400h9v9h-9zM848 400h9v9h-9zM876 388h5v5h-5zM868 392h5v5h-5zM884 384h5v5h-5zM760 536h9v9h-9zM768 536h9v9h-9zM784 528h9v9h-9zM792 528h9v9h-9zM800 528h9v9h-9zM808 528h9v9h-9zM816 536h9v9h-9zM824 536h9v9h-9zM732 564h5v5h-5zM724 572h5v5h-5zM728 568h5v5h-5zM748 548h5v5h-5zM740 556h5v5h-5zM744 552h5v5h-5zM756 544h5v5h-5zM736 560h5v5h-5zM832 544h9v9h-9zM840 552h9v9h-9zM848 560h9v9h-9zM716 584h5v5h-5zM712 588h5v5h-5zM720 576h5v5h-5zM708 596h5v5h-5zM704 604h5v5h-5zM856 576h9v9h-9zM864 584h9v9h-9zM872 592h9v9h-9zM888 600h9v9h-9zM704 608h5v5h-5zM704 632h5v5h-5zM704 636h5v5h-5zM896 608h9v9h-9zM912 632h9v9h-9zM708 644h5v5h-5zM712 656h5v5h-5zM716 668h5v5h-5zM912 640h9v9h-9zM920 656h9v9h-9zM920 664h9v9h-9zM724 680h5v5h-5zM728 684h5v5h-5zM732 688h5v5h-5zM748 700h5v5h-5zM928 688h5v5h-5zM928 692h5v5h-5zM780 716h5v5h-5zM804 724h5v5h-5zM836 728h5v5h-5zM840 728h5v5h-5zM844 728h5v5h-5zM848 728h5v5h-5zM852 728h5v5h-5zM856 728h5v5h-5zM860 728h5v5h-5zM864 728h5v5h-5zM868 728h5v5h-5zM888 724h5v5h-5zM892 724h5v5h-5zM920 712h9v9h-9zM896 720h17v17h-17zM928 704h9v9h-9zM928 712h9v9h-9zM928 720h17v17h-17zM896 736h17v17h-17z"/><path fill="#079bd0" d="M688 136h9v9h-9zM696 144h5v5h-5zM700 148h5v5h-5zM708 152h5v5h-5zM712 152h5v5h-5zM716 152h5v5h-5zM732 156h5v5h-5zM736 156h5v5h-5zM740 156h5v5h-5zM744 156h5v5h-5zM748 156h5v5h-5zM752 156h5v5h-5zM756 156h5v5h-5zM760 156h5v5h-5zM764 156h5v5h-5zM768 156h5v5h-5zM772 156h5v5h-5zM800 152h5v5h-5zM804 152h5v5h-5zM824 148h5v5h-5zM828 148h5v5h-5zM844 140h5v5h-5zM840 144h5v5h-5zM960 348h5v5h-5zM976 344h5v5h-5zM980 344h5v5h-5zM1012 344h5v5h-5zM1016 344h5v5h-5zM1036 348h5v5h-5zM500 376h5v5h-5zM536 380h5v5h-5zM908 372h5v5h-5zM900 376h5v5h-5zM896 380h5v5h-5zM916 368h5v5h-5zM940 356h5v5h-5zM948 352h5v5h-5zM1052 352h5v5h-5zM1068 356h5v5h-5zM1084 360h5v5h-5zM1100 364h5v5h-5zM1116 368h5v5h-5zM1132 372h5v5h-5zM1144 376h5v5h-5zM1148 376h5v5h-5zM1160 368h9v9h-9zM1152 376h5v5h-5zM1156 376h5v5h-5zM568 384h5v5h-5zM572 384h5v5h-5zM612 388h5v5h-5zM616 388h5v5h-5zM620 388h5v5h-5zM624 388h5v5h-5zM628 388h5v5h-5zM632 388h5v5h-5zM636 388h5v5h-5zM640 388h5v5h-5zM668 392h5v5h-5zM672 392h5v5h-5zM676 392h5v5h-5zM680 392h5v5h-5zM692 396h5v5h-5zM696 396h5v5h-5zM700 396h5v5h-5zM704 396h5v5h-5zM720 400h9v9h-9zM728 400h9v9h-9zM752 408h9v9h-9zM760 408h9v9h-9zM768 408h9v9h-9zM824 408h9v9h-9zM832 408h9v9h-9zM856 400h9v9h-9zM864 396h5v5h-5zM868 396h5v5h-5zM872 392h5v5h-5zM876 392h5v5h-5zM880 388h5v5h-5zM888 384h5v5h-5zM768 528h9v9h-9zM776 528h9v9h-9zM816 528h9v9h-9zM824 528h9v9h-9zM832 536h9v9h-9zM732 560h5v5h-5zM728 564h5v5h-5zM724 568h5v5h-5zM720 572h5v5h-5zM748 544h5v5h-5zM744 548h5v5h-5zM740 552h5v5h-5zM736 556h5v5h-5zM752 544h5v5h-5zM840 544h9v9h-9zM848 552h9v9h-9zM856 568h9v9h-9zM716 580h5v5h-5zM712 584h5v5h-5zM708 592h5v5h-5zM704 596h5v5h-5zM704 600h5v5h-5zM864 576h9v9h-9zM872 584h9v9h-9zM880 592h9v9h-9zM700 608h5v5h-5zM700 612h5v5h-5zM700 616h5v5h-5zM700 620h5v5h-5zM700 624h5v5h-5zM904 616h9v9h-9zM912 624h9v9h-9zM704 640h5v5h-5zM708 648h5v5h-5zM712 660h5v5h-5zM920 648h9v9h-9zM720 676h5v5h-5zM736 692h5v5h-5zM928 680h5v5h-5zM928 684h5v5h-5zM932 692h5v5h-5zM928 696h9v9h-9zM828 728h5v5h-5zM832 728h5v5h-5zM872 728h5v5h-5zM876 728h5v5h-5zM888 728h9v9h-9zM936 712h9v9h-9zM888 736h9v9h-9z"/><path fill="#079ccf" d="M700 144h5v5h-5zM704 148h5v5h-5zM708 148h5v5h-5zM712 148h5v5h-5zM720 152h5v5h-5zM724 152h5v5h-5zM728 152h5v5h-5zM732 152h5v5h-5zM784 152h5v5h-5zM788 152h5v5h-5zM792 152h5v5h-5zM796 152h5v5h-5zM812 148h5v5h-5zM816 148h5v5h-5zM820 148h5v5h-5zM840 140h5v5h-5zM832 144h5v5h-5zM836 144h5v5h-5zM964 348h5v5h-5zM984 344h5v5h-5zM988 344h5v5h-5zM992 344h5v5h-5zM996 344h5v5h-5zM1000 344h5v5h-5zM1004 344h5v5h-5zM1008 344h5v5h-5zM1032 348h5v5h-5zM532 380h5v5h-5zM924 364h5v5h-5zM900 380h5v5h-5zM904 376h5v5h-5zM912 372h5v5h-5zM932 360h5v5h-5zM952 352h5v5h-5zM1048 352h5v5h-5zM1064 356h5v5h-5zM1080 360h5v5h-5zM1096 364h5v5h-5zM1112 368h5v5h-5zM1128 372h5v5h-5zM1152 380h5v5h-5zM1156 380h5v5h-5zM1160 376h9v9h-9zM560 384h5v5h-5zM564 384h5v5h-5zM592 388h5v5h-5zM596 388h5v5h-5zM600 388h5v5h-5zM604 388h5v5h-5zM608 388h5v5h-5zM648 392h5v5h-5zM652 392h5v5h-5zM656 392h5v5h-5zM660 392h5v5h-5zM664 392h5v5h-5zM680 396h5v5h-5zM684 396h5v5h-5zM688 396h5v5h-5zM700 400h5v5h-5zM704 400h5v5h-5zM708 400h5v5h-5zM712 400h9v9h-9zM736 408h9v9h-9zM744 408h9v9h-9zM840 408h9v9h-9zM848 408h9v9h-9zM872 396h5v5h-5zM876 396h5v5h-5zM884 388h5v5h-5zM892 384h5v5h-5zM888 388h5v5h-5zM880 392h5v5h-5zM864 400h9v9h-9zM776 416h9v9h-9zM784 416h9v9h-9zM792 416h9v9h-9zM800 416h9v9h-9zM808 416h9v9h-9zM816 416h9v9h-9zM824 416h9v9h-9zM760 528h9v9h-9zM752 536h9v9h-9zM776 520h9v9h-9zM784 520h9v9h-9zM792 520h9v9h-9zM800 512h17v17h-17zM816 520h9v9h-9zM832 528h9v9h-9zM840 536h9v9h-9zM732 556h5v5h-5zM724 564h5v5h-5zM728 560h5v5h-5zM720 568h5v5h-5zM740 548h5v5h-5zM744 544h5v5h-5zM736 552h5v5h-5zM848 544h9v9h-9zM856 560h9v9h-9zM864 568h9v9h-9zM700 600h5v5h-5zM700 604h5v5h-5zM716 576h5v5h-5zM712 580h5v5h-5zM708 584h5v5h-5zM708 588h5v5h-5zM704 592h5v5h-5zM880 584h9v9h-9zM888 592h9v9h-9zM896 600h9v9h-9zM700 628h5v5h-5zM700 632h5v5h-5zM904 608h9v9h-9zM708 652h5v5h-5zM712 664h5v5h-5zM920 640h9v9h-9zM928 664h9v9h-9zM716 672h5v5h-5zM740 696h5v5h-5zM928 672h9v9h-9zM932 680h5v5h-5zM932 684h5v5h-5zM932 688h5v5h-5zM788 720h5v5h-5zM800 724h5v5h-5zM820 728h5v5h-5zM824 728h5v5h-5zM880 728h9v9h-9zM936 704h9v9h-9zM944 712h9v9h-9zM888 744h9v9h-9z"/><path fill="#079dcf" d="M696 132h5v5h-5zM696 136h9v9h-9zM704 144h5v5h-5zM708 144h5v5h-5zM716 148h5v5h-5zM720 148h5v5h-5zM736 152h5v5h-5zM740 152h5v5h-5zM744 152h5v5h-5zM748 152h5v5h-5zM752 152h5v5h-5zM756 152h5v5h-5zM760 152h5v5h-5zM764 152h5v5h-5zM768 152h5v5h-5zM772 152h5v5h-5zM776 152h5v5h-5zM780 152h5v5h-5zM804 148h5v5h-5zM808 148h5v5h-5zM824 144h5v5h-5zM828 144h5v5h-5zM844 136h5v5h-5zM968 348h5v5h-5zM1028 348h5v5h-5zM496 376h5v5h-5zM528 380h5v5h-5zM908 376h5v5h-5zM904 380h5v5h-5zM916 372h5v5h-5zM920 368h5v5h-5zM928 364h5v5h-5zM936 360h5v5h-5zM944 356h5v5h-5zM956 352h5v5h-5zM1076 360h5v5h-5zM1092 364h5v5h-5zM1108 368h5v5h-5zM1124 372h5v5h-5zM1140 376h5v5h-5zM1168 376h9v9h-9zM556 384h5v5h-5zM584 388h5v5h-5zM588 388h5v5h-5zM628 392h5v5h-5zM632 392h5v5h-5zM636 392h5v5h-5zM640 392h5v5h-5zM644 392h5v5h-5zM668 396h5v5h-5zM672 396h5v5h-5zM676 396h5v5h-5zM688 400h5v5h-5zM692 400h5v5h-5zM696 400h5v5h-5zM704 404h5v5h-5zM708 404h5v5h-5zM728 408h9v9h-9zM856 408h9v9h-9zM892 388h5v5h-5zM884 392h5v5h-5zM880 396h5v5h-5zM896 384h5v5h-5zM1160 384h5v5h-5zM1164 384h5v5h-5zM752 416h9v9h-9zM760 416h9v9h-9zM768 416h9v9h-9zM792 424h9v9h-9zM800 424h9v9h-9zM808 424h9v9h-9zM832 416h9v9h-9zM840 416h9v9h-9zM744 536h9v9h-9zM752 528h9v9h-9zM768 520h9v9h-9zM784 512h9v9h-9zM792 512h9v9h-9zM816 512h9v9h-9zM824 520h9v9h-9zM832 520h9v9h-9zM840 528h9v9h-9zM848 536h9v9h-9zM732 552h5v5h-5zM728 556h5v5h-5zM716 572h5v5h-5zM724 560h5v5h-5zM720 564h5v5h-5zM740 544h5v5h-5zM736 548h5v5h-5zM856 544h9v9h-9zM856 552h9v9h-9zM864 560h9v9h-9zM700 596h5v5h-5zM696 604h5v5h-5zM708 580h5v5h-5zM712 576h5v5h-5zM704 588h5v5h-5zM872 576h9v9h-9zM888 584h9v9h-9zM896 592h9v9h-9zM904 600h9v9h-9zM696 608h5v5h-5zM696 612h5v5h-5zM696 616h5v5h-5zM696 620h5v5h-5zM696 624h5v5h-5zM700 636h5v5h-5zM912 616h9v9h-9zM920 624h9v9h-9zM920 632h9v9h-9zM704 644h5v5h-5zM708 656h5v5h-5zM928 648h9v9h-9zM928 656h9v9h-9zM936 692h5v5h-5zM936 696h9v9h-9zM752 704h5v5h-5zM760 708h5v5h-5zM768 712h5v5h-5zM816 728h5v5h-5zM872 732h5v5h-5zM876 732h5v5h-5zM944 704h9v9h-9zM880 736h9v9h-9zM880 744h9v9h-9z"/><path fill="#069ece" d="M700 132h5v5h-5zM704 136h5v5h-5zM704 140h5v5h-5zM708 140h5v5h-5zM712 144h5v5h-5zM716 144h5v5h-5zM724 148h5v5h-5zM728 148h5v5h-5zM732 148h5v5h-5zM736 148h5v5h-5zM788 148h5v5h-5zM792 148h5v5h-5zM796 148h5v5h-5zM800 148h5v5h-5zM816 144h5v5h-5zM820 144h5v5h-5zM836 140h5v5h-5zM840 136h5v5h-5zM972 348h5v5h-5zM976 348h5v5h-5zM1020 348h5v5h-5zM1024 348h5v5h-5zM380 372h5v5h-5zM492 376h5v5h-5zM524 380h5v5h-5zM908 380h5v5h-5zM924 368h5v5h-5zM920 372h5v5h-5zM912 376h5v5h-5zM932 364h5v5h-5zM940 360h5v5h-5zM948 356h5v5h-5zM960 352h5v5h-5zM1044 352h5v5h-5zM1060 356h5v5h-5zM1088 364h5v5h-5zM1104 368h5v5h-5zM1120 372h5v5h-5zM1136 376h5v5h-5zM1148 380h5v5h-5zM1176 376h9v9h-9zM548 384h5v5h-5zM552 384h5v5h-5zM576 388h5v5h-5zM580 388h5v5h-5zM608 392h5v5h-5zM612 392h5v5h-5zM616 392h5v5h-5zM620 392h5v5h-5zM624 392h5v5h-5zM652 396h5v5h-5zM656 396h5v5h-5zM660 396h5v5h-5zM664 396h5v5h-5zM676 400h5v5h-5zM680 400h5v5h-5zM684 400h5v5h-5zM692 404h5v5h-5zM696 404h5v5h-5zM700 404h5v5h-5zM712 408h9v9h-9zM720 408h9v9h-9zM884 396h5v5h-5zM888 392h5v5h-5zM892 392h5v5h-5zM872 400h9v9h-9zM864 408h9v9h-9zM900 384h5v5h-5zM896 388h5v5h-5zM1156 384h5v5h-5zM1168 384h9v9h-9zM744 416h9v9h-9zM768 424h9v9h-9zM776 424h9v9h-9zM784 424h9v9h-9zM816 424h9v9h-9zM824 424h9v9h-9zM832 424h9v9h-9zM840 424h9v9h-9zM848 416h9v9h-9zM856 416h9v9h-9zM760 520h9v9h-9zM740 540h5v5h-5zM768 512h9v9h-9zM776 512h9v9h-9zM824 512h9v9h-9zM832 512h9v9h-9zM840 520h9v9h-9zM848 528h9v9h-9zM856 536h9v9h-9zM732 548h5v5h-5zM724 556h5v5h-5zM728 552h5v5h-5zM716 568h5v5h-5zM712 572h5v5h-5zM720 560h5v5h-5zM736 544h5v5h-5zM864 544h9v9h-9zM864 552h9v9h-9zM872 560h9v9h-9zM872 568h9v9h-9zM700 588h5v5h-5zM700 592h5v5h-5zM696 600h5v5h-5zM708 576h5v5h-5zM704 584h5v5h-5zM880 576h9v9h-9zM696 628h5v5h-5zM912 608h9v9h-9zM920 616h5v5h-5zM920 620h5v5h-5zM704 648h5v5h-5zM708 660h5v5h-5zM712 668h5v5h-5zM928 640h9v9h-9zM720 680h5v5h-5zM724 684h5v5h-5zM728 688h5v5h-5zM936 680h5v5h-5zM936 684h5v5h-5zM936 688h5v5h-5zM940 692h5v5h-5zM944 700h5v5h-5zM776 716h5v5h-5zM796 724h5v5h-5zM812 728h5v5h-5zM860 732h5v5h-5zM864 732h5v5h-5zM868 732h5v5h-5zM872 736h9v9h-9z"/><path fill="#069fce" d="M700 128h5v5h-5zM708 136h5v5h-5zM712 140h5v5h-5zM720 144h5v5h-5zM724 144h5v5h-5zM740 148h5v5h-5zM744 148h5v5h-5zM748 148h5v5h-5zM752 148h5v5h-5zM756 148h5v5h-5zM760 148h5v5h-5zM764 148h5v5h-5zM768 148h5v5h-5zM772 148h5v5h-5zM776 148h5v5h-5zM780 148h5v5h-5zM784 148h5v5h-5zM828 140h5v5h-5zM808 144h5v5h-5zM812 144h5v5h-5zM836 136h5v5h-5zM832 140h5v5h-5zM980 348h5v5h-5zM984 348h5v5h-5zM1016 348h5v5h-5zM356 368h5v5h-5zM520 380h5v5h-5zM916 376h5v5h-5zM912 380h5v5h-5zM936 364h5v5h-5zM952 356h5v5h-5zM944 360h5v5h-5zM928 368h5v5h-5zM964 352h5v5h-5zM1040 352h5v5h-5zM1056 356h5v5h-5zM1072 360h5v5h-5zM1084 364h5v5h-5zM1100 368h5v5h-5zM1116 372h5v5h-5zM1132 376h5v5h-5zM1144 380h5v5h-5zM544 384h5v5h-5zM568 388h5v5h-5zM572 388h5v5h-5zM596 392h5v5h-5zM600 392h5v5h-5zM604 392h5v5h-5zM636 396h5v5h-5zM640 396h5v5h-5zM644 396h5v5h-5zM648 396h5v5h-5zM664 400h5v5h-5zM668 400h5v5h-5zM672 400h5v5h-5zM684 404h5v5h-5zM688 404h5v5h-5zM704 408h9v9h-9zM888 396h5v5h-5zM892 396h5v5h-5zM872 408h9v9h-9zM880 400h9v9h-9zM900 388h5v5h-5zM904 384h5v5h-5zM896 392h5v5h-5zM1164 388h5v5h-5zM1176 384h9v9h-9zM728 416h9v9h-9zM736 416h9v9h-9zM752 424h9v9h-9zM760 424h9v9h-9zM776 432h9v9h-9zM800 432h17v17h-17zM816 432h17v17h-17zM848 424h9v9h-9zM864 416h9v9h-9zM776 504h9v9h-9zM784 496h17v17h-17zM800 496h17v17h-17zM816 496h17v17h-17zM760 512h9v9h-9zM752 520h9v9h-9zM744 528h9v9h-9zM740 536h5v5h-5zM736 540h5v5h-5zM840 512h9v9h-9zM848 512h17v17h-17zM856 528h9v9h-9zM864 536h9v9h-9zM732 544h5v5h-5zM728 548h5v5h-5zM724 552h5v5h-5zM716 564h5v5h-5zM708 572h5v5h-5zM712 568h5v5h-5zM872 552h9v9h-9zM880 568h9v9h-9zM700 584h5v5h-5zM696 592h5v5h-5zM696 596h5v5h-5zM692 604h5v5h-5zM704 580h5v5h-5zM888 576h9v9h-9zM896 584h9v9h-9zM904 592h9v9h-9zM912 600h9v9h-9zM692 608h5v5h-5zM692 612h5v5h-5zM692 616h5v5h-5zM692 620h5v5h-5zM696 632h5v5h-5zM924 616h5v5h-5zM924 620h5v5h-5zM928 632h9v9h-9zM700 640h5v5h-5zM704 652h5v5h-5zM708 664h5v5h-5zM936 656h9v9h-9zM936 664h9v9h-9zM716 676h5v5h-5zM744 700h5v5h-5zM936 672h9v9h-9zM940 688h5v5h-5zM944 696h5v5h-5zM948 700h5v5h-5zM784 720h5v5h-5zM844 732h5v5h-5zM848 732h5v5h-5zM852 732h5v5h-5zM856 732h5v5h-5zM952 704h9v9h-9zM872 744h9v9h-9z"/><path fill="#06a0cd" d="M704 128h9v9h-9zM712 136h5v5h-5zM716 140h5v5h-5zM720 140h5v5h-5zM728 144h5v5h-5zM732 144h5v5h-5zM736 144h5v5h-5zM740 144h5v5h-5zM796 144h5v5h-5zM820 140h5v5h-5zM824 140h5v5h-5zM800 144h5v5h-5zM804 144h5v5h-5zM840 132h5v5h-5zM988 348h5v5h-5zM992 348h5v5h-5zM996 348h5v5h-5zM1000 348h5v5h-5zM1004 348h5v5h-5zM1008 348h5v5h-5zM1012 348h5v5h-5zM332 352h5v5h-5zM340 364h5v5h-5zM488 376h5v5h-5zM516 380h5v5h-5zM924 372h5v5h-5zM916 380h5v5h-5zM920 376h5v5h-5zM940 364h5v5h-5zM956 356h5v5h-5zM932 368h5v5h-5zM968 352h5v5h-5zM1032 352h5v5h-5zM1036 352h5v5h-5zM1052 356h5v5h-5zM1068 360h5v5h-5zM1080 364h5v5h-5zM1096 368h5v5h-5zM1112 372h5v5h-5zM1128 376h5v5h-5zM1140 380h5v5h-5zM540 384h5v5h-5zM564 388h5v5h-5zM588 392h5v5h-5zM592 392h5v5h-5zM620 396h5v5h-5zM624 396h5v5h-5zM628 396h5v5h-5zM632 396h5v5h-5zM652 400h5v5h-5zM656 400h5v5h-5zM660 400h5v5h-5zM672 404h5v5h-5zM676 404h5v5h-5zM680 404h5v5h-5zM688 408h5v5h-5zM692 408h5v5h-5zM696 408h9v9h-9zM888 400h9v9h-9zM880 408h9v9h-9zM908 384h5v5h-5zM904 388h5v5h-5zM900 392h5v5h-5zM896 396h5v5h-5zM1152 384h5v5h-5zM1172 392h5v5h-5zM1176 392h5v5h-5zM1180 392h5v5h-5zM1184 384h9v9h-9zM720 416h9v9h-9zM736 424h9v9h-9zM744 424h9v9h-9zM760 432h9v9h-9zM768 432h9v9h-9zM784 432h17v17h-17zM856 424h9v9h-9zM832 432h17v17h-17zM872 416h9v9h-9zM864 424h9v9h-9zM760 504h9v9h-9zM776 496h9v9h-9zM768 504h9v9h-9zM832 496h17v17h-17zM848 496h17v17h-17zM732 540h5v5h-5zM744 520h9v9h-9zM752 512h9v9h-9zM736 536h5v5h-5zM864 528h9v9h-9zM872 536h9v9h-9zM724 548h5v5h-5zM728 544h5v5h-5zM720 556h5v5h-5zM716 560h5v5h-5zM712 564h5v5h-5zM708 568h5v5h-5zM872 544h9v9h-9zM880 552h9v9h-9zM880 560h9v9h-9zM888 568h9v9h-9zM700 580h5v5h-5zM696 588h5v5h-5zM692 596h5v5h-5zM692 600h5v5h-5zM704 576h5v5h-5zM896 576h9v9h-9zM904 584h9v9h-9zM912 592h9v9h-9zM692 624h5v5h-5zM696 636h5v5h-5zM920 608h9v9h-9zM928 620h5v5h-5zM928 624h9v9h-9zM700 644h5v5h-5zM704 656h5v5h-5zM936 640h9v9h-9zM936 648h9v9h-9zM712 672h5v5h-5zM732 692h5v5h-5zM940 680h5v5h-5zM940 684h5v5h-5zM944 692h5v5h-5zM948 696h5v5h-5zM952 700h5v5h-5zM808 728h5v5h-5zM836 732h5v5h-5zM840 732h5v5h-5zM868 736h5v5h-5zM868 740h5v5h-5z"/><path fill="#06a1cc" d="M712 132h5v5h-5zM716 136h5v5h-5zM724 140h5v5h-5zM728 140h5v5h-5zM744 144h5v5h-5zM748 144h5v5h-5zM752 144h5v5h-5zM756 144h5v5h-5zM760 144h5v5h-5zM764 144h5v5h-5zM768 144h5v5h-5zM772 144h5v5h-5zM776 144h5v5h-5zM780 144h5v5h-5zM784 144h5v5h-5zM788 144h5v5h-5zM792 144h5v5h-5zM808 140h5v5h-5zM812 140h5v5h-5zM816 140h5v5h-5zM836 132h5v5h-5zM832 136h5v5h-5zM332 356h5v5h-5zM484 376h5v5h-5zM512 380h5v5h-5zM924 376h5v5h-5zM948 360h5v5h-5zM928 372h5v5h-5zM936 368h5v5h-5zM960 356h5v5h-5zM972 352h5v5h-5zM1028 352h5v5h-5zM1048 356h5v5h-5zM1064 360h5v5h-5zM1076 364h5v5h-5zM1092 368h5v5h-5zM1108 372h5v5h-5zM1124 376h5v5h-5zM536 384h5v5h-5zM560 388h5v5h-5zM580 392h5v5h-5zM584 392h5v5h-5zM608 396h5v5h-5zM612 396h5v5h-5zM616 396h5v5h-5zM640 400h5v5h-5zM644 400h5v5h-5zM648 400h5v5h-5zM660 404h5v5h-5zM664 404h5v5h-5zM668 404h5v5h-5zM676 408h5v5h-5zM680 408h5v5h-5zM684 408h5v5h-5zM692 412h5v5h-5zM908 388h5v5h-5zM900 396h5v5h-5zM912 384h5v5h-5zM1148 384h5v5h-5zM1160 388h5v5h-5zM1180 396h5v5h-5zM1192 384h9v9h-9zM1184 392h9v9h-9zM704 416h9v9h-9zM712 416h9v9h-9zM728 424h9v9h-9zM744 432h9v9h-9zM752 432h9v9h-9zM760 440h9v9h-9zM768 440h9v9h-9zM776 440h9v9h-9zM848 432h17v17h-17zM872 424h9v9h-9zM880 416h9v9h-9zM800 448h33v33h-33zM752 504h9v9h-9zM784 480h17v17h-17zM768 496h9v9h-9zM800 480h17v17h-17zM816 480h17v17h-17zM832 480h17v17h-17zM848 480h17v17h-17zM732 536h5v5h-5zM728 540h5v5h-5zM744 512h9v9h-9zM736 528h9v9h-9zM864 512h17v17h-17zM872 528h9v9h-9zM880 536h9v9h-9zM716 556h5v5h-5zM724 544h5v5h-5zM720 548h5v5h-5zM720 552h5v5h-5zM708 564h5v5h-5zM712 560h5v5h-5zM704 572h5v5h-5zM880 544h9v9h-9zM888 552h9v9h-9zM888 560h9v9h-9zM896 568h9v9h-9zM700 576h5v5h-5zM692 588h5v5h-5zM696 584h5v5h-5zM692 592h5v5h-5zM688 600h5v5h-5zM688 604h5v5h-5zM904 576h9v9h-9zM912 584h9v9h-9zM920 600h9v9h-9zM688 608h5v5h-5zM688 612h5v5h-5zM688 616h5v5h-5zM692 628h5v5h-5zM928 612h5v5h-5zM928 616h5v5h-5zM932 620h5v5h-5zM936 628h5v5h-5zM936 632h9v9h-9zM696 640h5v5h-5zM700 648h5v5h-5zM704 660h5v5h-5zM708 668h5v5h-5zM944 688h5v5h-5zM948 692h5v5h-5zM952 696h5v5h-5zM956 700h5v5h-5zM756 708h5v5h-5zM764 712h5v5h-5zM772 716h5v5h-5zM792 724h5v5h-5zM804 728h5v5h-5zM828 732h5v5h-5zM832 732h5v5h-5zM864 736h5v5h-5zM868 744h5v5h-5zM868 748h5v5h-5zM868 752h5v5h-5z"/><path fill="#06a2cb" d="M708 124h5v5h-5zM712 128h5v5h-5zM716 132h5v5h-5zM720 136h5v5h-5zM724 136h5v5h-5zM732 140h5v5h-5zM736 140h5v5h-5zM740 140h5v5h-5zM800 140h5v5h-5zM804 140h5v5h-5zM820 136h5v5h-5zM824 136h5v5h-5zM828 136h5v5h-5zM836 128h5v5h-5zM832 132h5v5h-5zM332 360h5v5h-5zM920 380h5v5h-5zM944 364h5v5h-5zM952 360h5v5h-5zM932 372h5v5h-5zM940 368h5v5h-5zM928 376h5v5h-5zM964 356h5v5h-5zM976 352h5v5h-5zM980 352h5v5h-5zM1024 352h5v5h-5zM1044 356h5v5h-5zM1060 360h5v5h-5zM1072 364h5v5h-5zM1088 368h5v5h-5zM1104 372h5v5h-5zM1120 376h5v5h-5zM1136 380h5v5h-5zM532 384h5v5h-5zM556 388h5v5h-5zM576 392h5v5h-5zM600 396h5v5h-5zM604 396h5v5h-5zM628 400h5v5h-5zM632 400h5v5h-5zM636 400h5v5h-5zM652 404h5v5h-5zM656 404h5v5h-5zM668 408h5v5h-5zM672 408h5v5h-5zM680 412h5v5h-5zM684 412h5v5h-5zM688 412h5v5h-5zM888 408h9v9h-9zM904 392h9v9h-9zM916 384h5v5h-5zM912 388h5v5h-5zM896 400h9v9h-9zM1168 392h5v5h-5zM1192 392h9v9h-9zM1188 400h5v5h-5zM1192 400h5v5h-5zM1196 400h5v5h-5zM696 416h9v9h-9zM720 424h9v9h-9zM736 432h9v9h-9zM752 440h9v9h-9zM880 424h9v9h-9zM864 432h17v17h-17zM768 448h33v33h-33zM832 448h33v33h-33zM752 496h9v9h-9zM760 496h9v9h-9zM768 480h17v17h-17zM864 480h17v17h-17zM864 496h17v17h-17zM728 528h9v9h-9zM724 540h5v5h-5zM728 536h5v5h-5zM736 520h9v9h-9zM880 528h9v9h-9zM700 572h5v5h-5zM716 548h5v5h-5zM716 552h5v5h-5zM712 556h5v5h-5zM720 544h5v5h-5zM708 560h5v5h-5zM704 568h5v5h-5zM888 544h9v9h-9zM896 560h9v9h-9zM904 568h9v9h-9zM696 576h5v5h-5zM696 580h5v5h-5zM692 584h5v5h-5zM688 592h5v5h-5zM688 596h5v5h-5zM912 576h9v9h-9zM920 592h9v9h-9zM928 604h5v5h-5zM688 620h5v5h-5zM688 624h5v5h-5zM692 632h5v5h-5zM928 608h5v5h-5zM932 612h5v5h-5zM932 616h5v5h-5zM936 620h5v5h-5zM936 624h5v5h-5zM700 652h5v5h-5zM944 640h5v5h-5zM944 644h5v5h-5zM944 648h9v9h-9zM944 656h9v9h-9zM944 664h9v9h-9zM736 696h5v5h-5zM944 672h9v9h-9zM944 680h9v9h-9zM948 688h5v5h-5zM952 692h5v5h-5zM956 696h5v5h-5zM748 704h5v5h-5zM780 720h5v5h-5zM824 732h5v5h-5zM860 736h5v5h-5zM864 740h5v5h-5zM864 744h5v5h-5zM864 748h5v5h-5z"/><path fill="#06a3cb" d="M712 124h5v5h-5zM716 128h5v5h-5zM720 132h5v5h-5zM728 136h5v5h-5zM732 136h5v5h-5zM744 140h5v5h-5zM748 140h5v5h-5zM752 140h5v5h-5zM756 140h5v5h-5zM760 140h5v5h-5zM780 140h5v5h-5zM784 140h5v5h-5zM788 140h5v5h-5zM792 140h5v5h-5zM796 140h5v5h-5zM812 136h5v5h-5zM828 132h5v5h-5zM816 136h5v5h-5zM480 376h5v5h-5zM508 380h5v5h-5zM924 380h5v5h-5zM948 364h5v5h-5zM956 360h5v5h-5zM936 372h5v5h-5zM932 376h5v5h-5zM944 368h5v5h-5zM968 356h5v5h-5zM984 352h5v5h-5zM988 352h5v5h-5zM1016 352h5v5h-5zM1020 352h5v5h-5zM1040 356h5v5h-5zM1056 360h5v5h-5zM1084 368h5v5h-5zM1100 372h5v5h-5zM1116 376h5v5h-5zM1132 380h5v5h-5zM528 384h5v5h-5zM548 388h5v5h-5zM552 388h5v5h-5zM572 392h5v5h-5zM592 396h5v5h-5zM596 396h5v5h-5zM616 400h5v5h-5zM620 400h5v5h-5zM624 400h5v5h-5zM640 404h5v5h-5zM644 404h5v5h-5zM648 404h5v5h-5zM660 408h5v5h-5zM664 408h5v5h-5zM672 412h5v5h-5zM676 412h5v5h-5zM916 388h5v5h-5zM920 384h5v5h-5zM904 400h9v9h-9zM896 408h9v9h-9zM1144 384h5v5h-5zM1156 388h5v5h-5zM1176 396h5v5h-5zM1200 392h9v9h-9zM1196 404h5v5h-5zM1200 400h9v9h-9zM688 416h9v9h-9zM704 424h9v9h-9zM712 424h9v9h-9zM720 432h9v9h-9zM728 432h9v9h-9zM736 440h9v9h-9zM744 440h9v9h-9zM888 416h9v9h-9zM888 424h9v9h-9zM880 432h9v9h-9zM752 448h17v17h-17zM864 448h17v17h-17zM864 464h17v17h-17zM752 480h17v17h-17zM744 496h9v9h-9zM744 504h9v9h-9zM880 496h17v17h-17zM724 536h5v5h-5zM720 540h5v5h-5zM736 512h9v9h-9zM880 512h17v17h-17zM888 528h9v9h-9zM888 536h9v9h-9zM700 568h5v5h-5zM696 572h5v5h-5zM716 544h5v5h-5zM708 556h5v5h-5zM712 552h5v5h-5zM704 564h5v5h-5zM896 544h9v9h-9zM896 552h9v9h-9zM904 560h9v9h-9zM912 568h9v9h-9zM692 580h5v5h-5zM688 588h5v5h-5zM684 596h5v5h-5zM684 600h5v5h-5zM684 604h5v5h-5zM920 584h9v9h-9zM928 600h5v5h-5zM932 604h5v5h-5zM684 608h5v5h-5zM684 612h5v5h-5zM688 628h5v5h-5zM692 636h5v5h-5zM932 608h5v5h-5zM936 616h5v5h-5zM940 624h5v5h-5zM940 628h5v5h-5zM944 632h5v5h-5zM944 636h5v5h-5zM696 644h5v5h-5zM700 656h5v5h-5zM704 664h5v5h-5zM948 644h5v5h-5zM712 676h5v5h-5zM716 680h5v5h-5zM720 684h5v5h-5zM952 688h5v5h-5zM956 692h5v5h-5zM960 696h5v5h-5zM800 728h5v5h-5zM820 732h5v5h-5zM852 736h5v5h-5zM856 736h5v5h-5zM860 740h5v5h-5zM864 752h5v5h-5z"/><path fill="#06a4ca" d="M712 120h5v5h-5zM716 124h5v5h-5zM720 128h5v5h-5zM724 132h5v5h-5zM728 132h5v5h-5zM736 136h5v5h-5zM740 136h5v5h-5zM744 136h5v5h-5zM764 140h5v5h-5zM768 140h5v5h-5zM772 140h5v5h-5zM776 140h5v5h-5zM804 136h5v5h-5zM808 136h5v5h-5zM824 132h5v5h-5zM832 128h5v5h-5zM328 352h5v5h-5zM504 380h5v5h-5zM952 364h5v5h-5zM940 372h5v5h-5zM928 380h5v5h-5zM936 376h5v5h-5zM972 356h5v5h-5zM960 360h5v5h-5zM992 352h5v5h-5zM996 352h5v5h-5zM1000 352h5v5h-5zM1004 352h5v5h-5zM1008 352h5v5h-5zM1012 352h5v5h-5zM1036 356h5v5h-5zM1052 360h5v5h-5zM1068 364h5v5h-5zM1080 368h5v5h-5zM1096 372h5v5h-5zM1112 376h5v5h-5zM1128 380h5v5h-5zM524 384h5v5h-5zM544 388h5v5h-5zM564 392h5v5h-5zM568 392h5v5h-5zM584 396h5v5h-5zM588 396h5v5h-5zM608 400h5v5h-5zM612 400h5v5h-5zM628 404h5v5h-5zM632 404h5v5h-5zM636 404h5v5h-5zM648 408h5v5h-5zM652 408h5v5h-5zM656 408h5v5h-5zM664 412h5v5h-5zM668 412h5v5h-5zM924 384h5v5h-5zM920 388h5v5h-5zM912 392h9v9h-9zM904 408h9v9h-9zM1140 384h5v5h-5zM1152 388h5v5h-5zM1164 392h5v5h-5zM1208 392h9v9h-9zM1184 400h5v5h-5zM676 416h5v5h-5zM680 416h9v9h-9zM696 424h9v9h-9zM712 432h9v9h-9zM728 440h9v9h-9zM888 432h9v9h-9zM880 440h9v9h-9zM896 416h9v9h-9zM736 448h9v9h-9zM744 448h9v9h-9zM744 456h9v9h-9zM752 464h17v17h-17zM880 448h17v17h-17zM880 464h17v17h-17zM744 488h9v9h-9zM736 504h9v9h-9zM880 480h17v17h-17zM728 520h9v9h-9zM716 540h5v5h-5zM720 536h5v5h-5zM896 528h9v9h-9zM896 536h9v9h-9zM700 564h5v5h-5zM696 568h5v5h-5zM712 548h5v5h-5zM708 552h5v5h-5zM704 556h5v5h-5zM704 560h5v5h-5zM904 552h9v9h-9zM912 560h9v9h-9zM684 588h5v5h-5zM692 576h5v5h-5zM688 580h5v5h-5zM688 584h5v5h-5zM684 592h5v5h-5zM920 576h9v9h-9zM928 592h9v9h-9zM932 600h5v5h-5zM684 616h5v5h-5zM684 620h5v5h-5zM688 632h5v5h-5zM936 608h5v5h-5zM936 612h5v5h-5zM940 616h5v5h-5zM940 620h5v5h-5zM944 624h5v5h-5zM944 628h5v5h-5zM948 636h5v5h-5zM692 640h5v5h-5zM696 648h5v5h-5zM948 640h5v5h-5zM952 664h9v9h-9zM708 672h5v5h-5zM724 688h5v5h-5zM952 680h9v9h-9zM956 688h5v5h-5zM964 696h5v5h-5zM788 724h5v5h-5zM816 732h5v5h-5zM844 736h5v5h-5zM848 736h5v5h-5zM860 744h5v5h-5zM860 748h5v5h-5z"/><path fill="#06a4c9" d="M716 120h5v5h-5zM720 124h5v5h-5zM836 124h5v5h-5zM724 128h5v5h-5zM732 132h5v5h-5zM736 132h5v5h-5zM748 136h5v5h-5zM752 136h5v5h-5zM756 136h5v5h-5zM788 136h5v5h-5zM792 136h5v5h-5zM796 136h5v5h-5zM800 136h5v5h-5zM816 132h5v5h-5zM820 132h5v5h-5zM828 128h5v5h-5zM328 356h5v5h-5zM376 372h5v5h-5zM476 376h5v5h-5zM956 364h5v5h-5zM932 380h5v5h-5zM940 376h5v5h-5zM948 368h5v5h-5zM944 372h5v5h-5zM964 360h5v5h-5zM976 356h5v5h-5zM980 356h5v5h-5zM1028 356h5v5h-5zM1032 356h5v5h-5zM1048 360h5v5h-5zM1060 364h5v5h-5zM1064 364h5v5h-5zM1076 368h5v5h-5zM1092 372h5v5h-5zM1108 376h5v5h-5zM1124 380h5v5h-5zM540 388h5v5h-5zM560 392h5v5h-5zM580 396h5v5h-5zM600 400h5v5h-5zM604 400h5v5h-5zM620 404h5v5h-5zM624 404h5v5h-5zM640 408h5v5h-5zM644 408h5v5h-5zM656 412h5v5h-5zM660 412h5v5h-5zM924 388h5v5h-5zM920 392h9v9h-9zM912 400h9v9h-9zM928 384h5v5h-5zM1172 396h5v5h-5zM1192 404h5v5h-5zM1208 400h9v9h-9zM1204 408h5v5h-5zM1208 408h5v5h-5zM668 416h5v5h-5zM672 416h5v5h-5zM676 420h5v5h-5zM688 424h9v9h-9zM704 432h9v9h-9zM720 440h9v9h-9zM888 440h9v9h-9zM904 416h9v9h-9zM896 424h9v9h-9zM896 432h9v9h-9zM728 448h9v9h-9zM736 456h9v9h-9zM736 464h17v17h-17zM728 504h9v9h-9zM744 480h9v9h-9zM736 488h9v9h-9zM736 496h9v9h-9zM896 496h17v17h-17zM728 512h9v9h-9zM716 536h5v5h-5zM712 540h5v5h-5zM720 528h9v9h-9zM896 512h17v17h-17zM904 536h9v9h-9zM700 560h5v5h-5zM696 564h5v5h-5zM692 572h5v5h-5zM708 548h5v5h-5zM712 544h5v5h-5zM704 552h5v5h-5zM904 544h9v9h-9zM912 552h9v9h-9zM920 560h9v9h-9zM920 568h9v9h-9zM684 584h5v5h-5zM688 576h5v5h-5zM680 592h5v5h-5zM680 596h5v5h-5zM680 600h5v5h-5zM680 604h5v5h-5zM928 584h9v9h-9zM936 600h5v5h-5zM936 604h5v5h-5zM680 608h5v5h-5zM680 612h5v5h-5zM684 624h5v5h-5zM940 608h5v5h-5zM940 612h5v5h-5zM944 616h5v5h-5zM944 620h5v5h-5zM948 628h5v5h-5zM948 632h5v5h-5zM692 644h5v5h-5zM696 652h5v5h-5zM700 660h5v5h-5zM704 668h5v5h-5zM952 640h5v5h-5zM952 644h5v5h-5zM952 648h9v9h-9zM952 656h9v9h-9zM728 692h5v5h-5zM740 700h5v5h-5zM952 672h9v9h-9zM960 688h9v9h-9zM812 732h5v5h-5zM840 736h5v5h-5zM856 740h5v5h-5zM856 744h5v5h-5zM860 752h5v5h-5z"/><path fill="#06a5c8" d="M716 116h5v5h-5zM720 120h5v5h-5zM724 124h5v5h-5zM832 124h5v5h-5zM728 128h5v5h-5zM740 132h5v5h-5zM744 132h5v5h-5zM760 136h5v5h-5zM764 136h5v5h-5zM768 136h5v5h-5zM772 136h5v5h-5zM776 136h5v5h-5zM780 136h5v5h-5zM784 136h5v5h-5zM808 132h5v5h-5zM812 132h5v5h-5zM824 128h5v5h-5zM500 380h5v5h-5zM936 380h5v5h-5zM948 372h5v5h-5zM952 368h5v5h-5zM944 376h5v5h-5zM960 364h5v5h-5zM968 360h5v5h-5zM972 360h5v5h-5zM984 356h5v5h-5zM1024 356h5v5h-5zM1044 360h5v5h-5zM1056 364h5v5h-5zM1072 368h5v5h-5zM1088 372h5v5h-5zM1104 376h5v5h-5zM1120 380h5v5h-5zM520 384h5v5h-5zM556 392h5v5h-5zM576 396h5v5h-5zM592 400h5v5h-5zM596 400h5v5h-5zM612 404h5v5h-5zM616 404h5v5h-5zM632 408h5v5h-5zM636 408h5v5h-5zM648 412h5v5h-5zM652 412h5v5h-5zM912 408h9v9h-9zM932 384h5v5h-5zM928 388h5v5h-5zM1136 384h5v5h-5zM1148 388h5v5h-5zM1160 392h5v5h-5zM1180 400h5v5h-5zM1188 404h5v5h-5zM1200 408h5v5h-5zM1212 408h5v5h-5zM1216 404h5v5h-5zM660 416h5v5h-5zM664 416h5v5h-5zM672 420h5v5h-5zM680 424h9v9h-9zM696 432h9v9h-9zM712 440h9v9h-9zM904 424h9v9h-9zM904 432h9v9h-9zM896 440h9v9h-9zM720 448h9v9h-9zM728 456h9v9h-9zM896 448h17v17h-17zM896 464h17v17h-17zM728 496h9v9h-9zM736 480h9v9h-9zM896 480h17v17h-17zM720 512h9v9h-9zM720 520h9v9h-9zM716 528h5v5h-5zM716 532h5v5h-5zM712 536h5v5h-5zM904 528h9v9h-9zM700 556h5v5h-5zM696 560h5v5h-5zM692 568h5v5h-5zM688 572h5v5h-5zM708 544h5v5h-5zM704 548h5v5h-5zM912 544h9v9h-9zM684 576h5v5h-5zM684 580h5v5h-5zM680 584h5v5h-5zM680 588h5v5h-5zM928 576h9v9h-9zM936 592h5v5h-5zM936 596h5v5h-5zM940 604h5v5h-5zM680 616h5v5h-5zM680 620h5v5h-5zM684 628h5v5h-5zM688 636h5v5h-5zM944 612h5v5h-5zM948 620h5v5h-5zM948 624h5v5h-5zM952 632h5v5h-5zM952 636h5v5h-5zM696 656h5v5h-5zM956 644h5v5h-5zM960 680h9v9h-9zM968 688h9v9h-9zM752 708h5v5h-5zM760 712h5v5h-5zM768 716h5v5h-5zM776 720h5v5h-5zM796 728h5v5h-5zM832 736h5v5h-5zM836 736h5v5h-5zM852 740h5v5h-5zM856 748h5v5h-5z"/><path fill="#06a6c7" d="M720 116h5v5h-5zM724 120h5v5h-5zM728 124h5v5h-5zM828 124h5v5h-5zM832 120h5v5h-5zM732 128h5v5h-5zM736 128h5v5h-5zM748 132h5v5h-5zM752 132h5v5h-5zM756 132h5v5h-5zM796 132h5v5h-5zM800 132h5v5h-5zM804 132h5v5h-5zM816 128h5v5h-5zM820 128h5v5h-5zM324 352h5v5h-5zM336 364h5v5h-5zM472 376h5v5h-5zM940 380h5v5h-5zM956 368h5v5h-5zM952 372h5v5h-5zM948 376h5v5h-5zM964 364h5v5h-5zM988 356h5v5h-5zM976 360h5v5h-5zM992 356h5v5h-5zM996 356h5v5h-5zM1012 356h5v5h-5zM1016 356h5v5h-5zM1020 356h5v5h-5zM1040 360h5v5h-5zM1052 364h5v5h-5zM1068 368h5v5h-5zM1084 372h5v5h-5zM1100 376h5v5h-5zM1116 380h5v5h-5zM516 384h5v5h-5zM536 388h5v5h-5zM552 392h5v5h-5zM572 396h5v5h-5zM588 400h5v5h-5zM604 404h5v5h-5zM608 404h5v5h-5zM624 408h5v5h-5zM628 408h5v5h-5zM640 412h5v5h-5zM644 412h5v5h-5zM920 400h9v9h-9zM920 408h9v9h-9zM932 388h5v5h-5zM936 384h5v5h-5zM936 388h5v5h-5zM928 392h9v9h-9zM1132 384h5v5h-5zM1156 392h5v5h-5zM1168 396h5v5h-5zM1196 408h5v5h-5zM1208 412h5v5h-5zM1212 412h5v5h-5zM652 416h5v5h-5zM656 416h5v5h-5zM664 420h5v5h-5zM668 420h5v5h-5zM672 424h5v5h-5zM676 424h5v5h-5zM688 432h9v9h-9zM704 440h9v9h-9zM912 416h9v9h-9zM912 424h9v9h-9zM904 440h9v9h-9zM712 448h9v9h-9zM720 456h9v9h-9zM728 464h9v9h-9zM728 472h9v9h-9zM728 480h9v9h-9zM728 488h9v9h-9zM720 504h9v9h-9zM912 488h9v9h-9zM912 496h9v9h-9zM912 504h9v9h-9zM712 528h5v5h-5zM712 532h5v5h-5zM708 536h5v5h-5zM708 540h5v5h-5zM912 512h9v9h-9zM912 520h9v9h-9zM912 528h9v9h-9zM912 536h9v9h-9zM700 548h5v5h-5zM700 552h5v5h-5zM696 556h5v5h-5zM684 572h5v5h-5zM692 564h5v5h-5zM688 568h5v5h-5zM704 544h5v5h-5zM920 552h9v9h-9zM928 560h9v9h-9zM928 568h9v9h-9zM680 580h5v5h-5zM676 588h5v5h-5zM676 592h5v5h-5zM676 596h5v5h-5zM676 600h5v5h-5zM676 604h5v5h-5zM936 584h5v5h-5zM936 588h5v5h-5zM940 592h5v5h-5zM940 596h5v5h-5zM940 600h5v5h-5zM944 604h5v5h-5zM676 608h5v5h-5zM680 624h5v5h-5zM684 632h5v5h-5zM944 608h5v5h-5zM948 612h5v5h-5zM948 616h5v5h-5zM952 624h5v5h-5zM952 628h5v5h-5zM956 636h5v5h-5zM688 640h5v5h-5zM692 648h5v5h-5zM700 664h5v5h-5zM956 640h5v5h-5zM960 656h9v9h-9zM960 664h9v9h-9zM960 672h9v9h-9zM968 680h9v9h-9zM784 724h5v5h-5zM808 732h5v5h-5zM828 736h5v5h-5zM852 744h5v5h-5zM852 748h5v5h-5zM856 752h5v5h-5z"/><path fill="#06a7c6" d="M720 112h5v5h-5zM724 116h5v5h-5zM732 124h5v5h-5zM828 120h5v5h-5zM824 124h5v5h-5zM740 128h5v5h-5zM744 128h5v5h-5zM760 132h5v5h-5zM764 132h5v5h-5zM768 132h5v5h-5zM772 132h5v5h-5zM776 132h5v5h-5zM780 132h5v5h-5zM784 132h5v5h-5zM788 132h5v5h-5zM792 132h5v5h-5zM808 128h5v5h-5zM812 128h5v5h-5zM324 356h5v5h-5zM352 368h5v5h-5zM468 376h5v5h-5zM496 380h5v5h-5zM956 372h5v5h-5zM944 380h5v5h-5zM952 376h5v5h-5zM968 364h5v5h-5zM972 364h5v5h-5zM980 360h5v5h-5zM960 368h5v5h-5zM1000 356h5v5h-5zM1004 356h5v5h-5zM1008 356h5v5h-5zM1032 360h5v5h-5zM1036 360h5v5h-5zM1048 364h5v5h-5zM1064 368h5v5h-5zM1080 372h5v5h-5zM1096 376h5v5h-5zM532 388h5v5h-5zM548 392h5v5h-5zM568 396h5v5h-5zM584 400h5v5h-5zM600 404h5v5h-5zM616 408h5v5h-5zM620 408h5v5h-5zM632 412h5v5h-5zM636 412h5v5h-5zM940 384h5v5h-5zM940 388h5v5h-5zM928 400h9v9h-9zM1128 384h5v5h-5zM1144 388h5v5h-5zM1176 400h5v5h-5zM1204 412h5v5h-5zM1220 404h5v5h-5zM1216 408h9v9h-9zM644 416h5v5h-5zM648 416h5v5h-5zM656 420h5v5h-5zM660 420h5v5h-5zM664 424h5v5h-5zM668 424h5v5h-5zM672 428h5v5h-5zM676 428h5v5h-5zM696 440h9v9h-9zM920 416h9v9h-9zM912 432h9v9h-9zM912 440h9v9h-9zM704 448h9v9h-9zM712 456h9v9h-9zM720 464h9v9h-9zM720 472h9v9h-9zM912 464h9v9h-9zM912 472h9v9h-9zM720 480h9v9h-9zM720 488h9v9h-9zM720 496h9v9h-9zM912 480h9v9h-9zM920 496h9v9h-9zM920 504h9v9h-9zM712 520h9v9h-9zM708 532h5v5h-5zM704 540h5v5h-5zM920 512h9v9h-9zM920 520h9v9h-9zM920 528h9v9h-9zM920 536h9v9h-9zM700 544h5v5h-5zM692 556h5v5h-5zM696 552h5v5h-5zM684 568h5v5h-5zM692 560h5v5h-5zM688 564h5v5h-5zM920 544h9v9h-9zM928 552h9v9h-9zM936 572h5v5h-5zM676 580h5v5h-5zM680 576h5v5h-5zM676 584h5v5h-5zM936 576h9v9h-9zM940 584h5v5h-5zM940 588h5v5h-5zM944 596h5v5h-5zM944 600h5v5h-5zM676 612h5v5h-5zM676 616h5v5h-5zM680 628h5v5h-5zM684 636h5v5h-5zM948 608h5v5h-5zM952 616h5v5h-5zM952 620h5v5h-5zM956 628h5v5h-5zM956 632h5v5h-5zM960 636h5v5h-5zM688 644h5v5h-5zM692 652h5v5h-5zM696 660h5v5h-5zM960 640h5v5h-5zM960 644h5v5h-5zM960 648h9v9h-9zM708 676h5v5h-5zM712 680h5v5h-5zM732 696h5v5h-5zM968 672h9v9h-9zM744 704h5v5h-5zM824 736h5v5h-5zM848 740h5v5h-5zM852 752h5v5h-5zM852 756h5v5h-5z"/><path fill="#06a7c5" d="M728 120h5v5h-5zM736 124h5v5h-5zM740 124h5v5h-5zM820 124h5v5h-5zM748 128h5v5h-5zM752 128h5v5h-5zM756 128h5v5h-5zM800 128h5v5h-5zM804 128h5v5h-5zM320 348h5v5h-5zM320 352h5v5h-5zM328 360h5v5h-5zM948 380h5v5h-5zM956 376h5v5h-5zM976 364h5v5h-5zM984 360h5v5h-5zM988 360h5v5h-5zM964 368h5v5h-5zM960 372h5v5h-5zM968 368h5v5h-5zM1028 360h5v5h-5zM1044 364h5v5h-5zM1060 368h5v5h-5zM1076 372h5v5h-5zM1092 376h5v5h-5zM1112 380h5v5h-5zM512 384h5v5h-5zM528 388h5v5h-5zM564 396h5v5h-5zM580 400h5v5h-5zM592 404h5v5h-5zM596 404h5v5h-5zM608 408h5v5h-5zM612 408h5v5h-5zM624 412h5v5h-5zM628 412h5v5h-5zM936 392h9v9h-9zM944 384h5v5h-5zM948 384h5v5h-5zM944 388h5v5h-5zM928 408h9v9h-9zM1140 388h5v5h-5zM1152 392h5v5h-5zM1164 396h5v5h-5zM1184 404h5v5h-5zM1224 408h9v9h-9zM636 416h5v5h-5zM640 416h5v5h-5zM648 420h5v5h-5zM652 420h5v5h-5zM656 424h5v5h-5zM660 424h5v5h-5zM668 428h5v5h-5zM680 432h9v9h-9zM688 440h9v9h-9zM920 424h9v9h-9zM920 432h9v9h-9zM920 440h9v9h-9zM1216 416h5v5h-5zM1220 416h5v5h-5zM1224 416h5v5h-5zM696 448h9v9h-9zM704 456h9v9h-9zM712 464h9v9h-9zM912 448h17v17h-17zM920 472h9v9h-9zM712 504h9v9h-9zM920 480h9v9h-9zM920 488h9v9h-9zM700 540h5v5h-5zM712 512h9v9h-9zM708 528h5v5h-5zM704 532h5v5h-5zM704 536h5v5h-5zM696 544h5v5h-5zM696 548h5v5h-5zM692 552h5v5h-5zM684 564h5v5h-5zM680 568h5v5h-5zM680 572h5v5h-5zM688 560h5v5h-5zM928 544h9v9h-9zM936 560h5v5h-5zM936 564h5v5h-5zM936 568h5v5h-5zM940 572h5v5h-5zM676 576h5v5h-5zM672 584h5v5h-5zM672 588h5v5h-5zM672 592h5v5h-5zM672 596h5v5h-5zM672 600h5v5h-5zM672 604h5v5h-5zM944 588h5v5h-5zM944 592h5v5h-5zM948 600h5v5h-5zM948 604h5v5h-5zM676 620h5v5h-5zM952 608h5v5h-5zM952 612h5v5h-5zM956 620h5v5h-5zM956 624h5v5h-5zM960 632h5v5h-5zM964 640h5v5h-5zM964 644h5v5h-5zM968 664h9v9h-9zM704 672h5v5h-5zM716 684h5v5h-5zM976 676h5v5h-5zM976 680h9v9h-9zM792 728h5v5h-5zM804 732h5v5h-5zM844 740h5v5h-5zM848 744h5v5h-5zM848 748h5v5h-5z"/><path fill="#06a8c4" d="M724 112h5v5h-5zM728 116h5v5h-5zM732 120h5v5h-5zM736 120h5v5h-5zM744 124h5v5h-5zM748 124h5v5h-5zM812 124h5v5h-5zM816 124h5v5h-5zM824 120h5v5h-5zM760 128h5v5h-5zM764 128h5v5h-5zM768 128h5v5h-5zM772 128h5v5h-5zM776 128h5v5h-5zM780 128h5v5h-5zM784 128h5v5h-5zM788 128h5v5h-5zM792 128h5v5h-5zM796 128h5v5h-5zM464 376h5v5h-5zM492 380h5v5h-5zM952 380h5v5h-5zM956 380h5v5h-5zM980 364h5v5h-5zM964 372h5v5h-5zM972 368h5v5h-5zM960 376h5v5h-5zM992 360h5v5h-5zM996 360h5v5h-5zM1020 360h5v5h-5zM1024 360h5v5h-5zM1040 364h5v5h-5zM1056 368h5v5h-5zM1068 372h5v5h-5zM1072 372h5v5h-5zM1088 376h5v5h-5zM1104 380h5v5h-5zM1108 380h5v5h-5zM544 392h5v5h-5zM560 396h5v5h-5zM576 400h5v5h-5zM588 404h5v5h-5zM604 408h5v5h-5zM616 412h5v5h-5zM620 412h5v5h-5zM948 388h5v5h-5zM936 400h9v9h-9zM1124 384h5v5h-5zM1136 388h5v5h-5zM1172 400h5v5h-5zM1192 408h5v5h-5zM632 416h5v5h-5zM640 420h5v5h-5zM644 420h5v5h-5zM652 424h5v5h-5zM660 428h5v5h-5zM664 428h5v5h-5zM668 432h5v5h-5zM672 432h9v9h-9zM680 440h9v9h-9zM928 416h9v9h-9zM928 424h9v9h-9zM1212 416h5v5h-5zM1228 416h5v5h-5zM704 464h9v9h-9zM712 472h9v9h-9zM920 464h9v9h-9zM712 480h9v9h-9zM712 488h9v9h-9zM712 496h9v9h-9zM928 480h9v9h-9zM928 488h9v9h-9zM928 496h9v9h-9zM928 504h9v9h-9zM700 532h5v5h-5zM700 536h5v5h-5zM696 540h5v5h-5zM704 520h9v9h-9zM704 528h5v5h-5zM928 512h9v9h-9zM928 520h9v9h-9zM928 528h9v9h-9zM928 536h9v9h-9zM692 548h5v5h-5zM688 556h5v5h-5zM684 560h5v5h-5zM676 572h5v5h-5zM936 552h5v5h-5zM936 556h5v5h-5zM940 564h5v5h-5zM940 568h5v5h-5zM672 580h5v5h-5zM944 580h5v5h-5zM944 584h5v5h-5zM948 592h5v5h-5zM948 596h5v5h-5zM952 604h5v5h-5zM672 608h5v5h-5zM672 612h5v5h-5zM676 624h5v5h-5zM680 632h5v5h-5zM956 612h5v5h-5zM956 616h5v5h-5zM960 624h5v5h-5zM960 628h5v5h-5zM964 636h5v5h-5zM684 640h5v5h-5zM688 648h5v5h-5zM692 656h5v5h-5zM700 668h5v5h-5zM968 644h5v5h-5zM968 648h9v9h-9zM968 656h9v9h-9zM720 688h5v5h-5zM976 672h5v5h-5zM980 676h5v5h-5zM764 716h5v5h-5zM772 720h5v5h-5zM820 736h5v5h-5zM840 740h5v5h-5zM848 752h5v5h-5zM848 756h5v5h-5z"/><path fill="#07a9c3" d="M724 108h5v5h-5zM728 112h5v5h-5zM732 116h5v5h-5zM740 120h5v5h-5zM752 124h5v5h-5zM756 124h5v5h-5zM804 124h5v5h-5zM808 124h5v5h-5zM828 116h5v5h-5zM820 120h5v5h-5zM320 356h5v5h-5zM460 376h5v5h-5zM984 364h5v5h-5zM988 364h5v5h-5zM968 372h5v5h-5zM964 376h5v5h-5zM960 380h5v5h-5zM976 368h5v5h-5zM1000 360h5v5h-5zM1004 360h5v5h-5zM1008 360h5v5h-5zM1012 360h5v5h-5zM1016 360h5v5h-5zM1032 364h5v5h-5zM1036 364h5v5h-5zM1048 368h5v5h-5zM1052 368h5v5h-5zM1064 372h5v5h-5zM1080 376h5v5h-5zM1084 376h5v5h-5zM1100 380h5v5h-5zM508 384h5v5h-5zM524 388h5v5h-5zM540 392h5v5h-5zM556 396h5v5h-5zM572 400h5v5h-5zM584 404h5v5h-5zM600 408h5v5h-5zM612 412h5v5h-5zM952 384h9v9h-9zM944 392h9v9h-9zM936 408h9v9h-9zM1120 384h5v5h-5zM1148 392h5v5h-5zM1160 396h5v5h-5zM1180 404h5v5h-5zM1200 412h5v5h-5zM1232 408h9v9h-9zM624 416h5v5h-5zM628 416h5v5h-5zM636 420h5v5h-5zM644 424h5v5h-5zM648 424h5v5h-5zM652 428h5v5h-5zM656 428h5v5h-5zM660 432h5v5h-5zM664 432h5v5h-5zM668 436h5v5h-5zM936 416h9v9h-9zM928 432h9v9h-9zM928 440h9v9h-9zM1224 420h5v5h-5zM1228 420h5v5h-5zM1232 416h5v5h-5zM688 448h9v9h-9zM696 456h9v9h-9zM704 472h9v9h-9zM928 448h9v9h-9zM928 456h9v9h-9zM928 464h9v9h-9zM928 472h9v9h-9zM936 496h9v9h-9zM936 504h9v9h-9zM700 528h5v5h-5zM692 540h5v5h-5zM696 536h5v5h-5zM704 512h9v9h-9zM684 556h5v5h-5zM692 544h5v5h-5zM688 548h5v5h-5zM688 552h5v5h-5zM680 560h5v5h-5zM680 564h5v5h-5zM676 568h5v5h-5zM672 572h5v5h-5zM940 556h5v5h-5zM940 560h5v5h-5zM944 568h5v5h-5zM944 572h5v5h-5zM668 584h5v5h-5zM668 588h5v5h-5zM668 592h5v5h-5zM668 596h5v5h-5zM668 600h5v5h-5zM672 576h5v5h-5zM944 576h5v5h-5zM948 584h5v5h-5zM948 588h5v5h-5zM952 596h5v5h-5zM952 600h5v5h-5zM672 616h5v5h-5zM676 628h5v5h-5zM680 636h5v5h-5zM956 608h5v5h-5zM960 616h5v5h-5zM960 620h5v5h-5zM964 628h5v5h-5zM964 632h5v5h-5zM968 636h5v5h-5zM684 644h5v5h-5zM688 652h5v5h-5zM696 664h5v5h-5zM968 640h5v5h-5zM976 664h9v9h-9zM736 700h5v5h-5zM980 672h5v5h-5zM984 680h9v9h-9zM756 712h5v5h-5zM780 724h5v5h-5zM800 732h5v5h-5zM816 736h5v5h-5zM836 740h5v5h-5zM844 744h5v5h-5zM844 748h5v5h-5zM844 752h5v5h-5zM844 756h5v5h-5z"/><path fill="#07a9c2" d="M732 112h5v5h-5zM736 116h5v5h-5zM740 116h5v5h-5zM744 120h5v5h-5zM748 120h5v5h-5zM760 124h5v5h-5zM764 124h5v5h-5zM768 124h5v5h-5zM772 124h5v5h-5zM788 124h5v5h-5zM792 124h5v5h-5zM796 124h5v5h-5zM800 124h5v5h-5zM824 116h5v5h-5zM816 120h5v5h-5zM324 360h5v5h-5zM456 376h5v5h-5zM488 380h5v5h-5zM972 372h5v5h-5zM964 380h5v5h-5zM968 376h5v5h-5zM980 368h5v5h-5zM976 372h5v5h-5zM992 364h5v5h-5zM996 364h5v5h-5zM1024 364h5v5h-5zM1028 364h5v5h-5zM1044 368h5v5h-5zM1060 372h5v5h-5zM1076 376h5v5h-5zM1096 380h5v5h-5zM536 392h5v5h-5zM552 396h5v5h-5zM568 400h5v5h-5zM580 404h5v5h-5zM592 408h5v5h-5zM596 408h5v5h-5zM608 412h5v5h-5zM944 400h9v9h-9zM944 408h9v9h-9zM1116 384h5v5h-5zM1132 388h5v5h-5zM1168 400h5v5h-5zM1188 408h5v5h-5zM620 416h5v5h-5zM628 420h5v5h-5zM632 420h5v5h-5zM640 424h5v5h-5zM648 428h5v5h-5zM656 432h5v5h-5zM664 436h5v5h-5zM668 440h5v5h-5zM672 440h9v9h-9zM936 424h9v9h-9zM936 432h9v9h-9zM1208 416h5v5h-5zM1220 420h5v5h-5zM1236 416h5v5h-5zM1232 420h5v5h-5zM680 448h9v9h-9zM688 456h9v9h-9zM696 464h9v9h-9zM936 472h9v9h-9zM704 480h9v9h-9zM704 488h9v9h-9zM704 496h9v9h-9zM704 504h9v9h-9zM936 480h9v9h-9zM936 488h9v9h-9zM700 520h5v5h-5zM700 524h5v5h-5zM696 528h5v5h-5zM696 532h5v5h-5zM692 536h5v5h-5zM936 512h9v9h-9zM936 520h9v9h-9zM936 528h9v9h-9zM936 536h9v9h-9zM684 552h5v5h-5zM680 556h5v5h-5zM688 544h5v5h-5zM676 564h5v5h-5zM672 568h5v5h-5zM936 544h9v9h-9zM940 552h5v5h-5zM944 560h5v5h-5zM944 564h5v5h-5zM948 572h5v5h-5zM668 576h5v5h-5zM668 580h5v5h-5zM668 604h5v5h-5zM948 576h5v5h-5zM948 580h5v5h-5zM952 588h5v5h-5zM952 592h5v5h-5zM956 600h5v5h-5zM956 604h5v5h-5zM668 608h5v5h-5zM672 620h5v5h-5zM676 632h5v5h-5zM960 608h5v5h-5zM960 612h5v5h-5zM964 620h5v5h-5zM964 624h5v5h-5zM968 632h5v5h-5zM680 640h5v5h-5zM692 660h5v5h-5zM972 640h5v5h-5zM972 644h5v5h-5zM976 656h9v9h-9zM724 692h5v5h-5zM984 672h9v9h-9zM748 708h5v5h-5zM788 728h5v5h-5zM812 736h5v5h-5zM832 740h5v5h-5zM840 744h5v5h-5z"/><path fill="#07aac1" d="M728 104h9v9h-9zM736 108h5v5h-5zM736 112h5v5h-5zM744 116h5v5h-5zM752 120h5v5h-5zM756 120h5v5h-5zM776 124h5v5h-5zM780 124h5v5h-5zM784 124h5v5h-5zM808 120h5v5h-5zM812 120h5v5h-5zM820 116h5v5h-5zM824 112h5v5h-5zM372 372h5v5h-5zM452 376h5v5h-5zM972 376h5v5h-5zM968 380h5v5h-5zM980 372h5v5h-5zM984 368h5v5h-5zM988 368h5v5h-5zM1000 364h5v5h-5zM1004 364h5v5h-5zM1008 364h5v5h-5zM1012 364h5v5h-5zM1016 364h5v5h-5zM1020 364h5v5h-5zM1036 368h5v5h-5zM1040 368h5v5h-5zM1052 372h5v5h-5zM1056 372h5v5h-5zM1068 376h5v5h-5zM1072 376h5v5h-5zM1088 380h5v5h-5zM1092 380h5v5h-5zM504 384h5v5h-5zM520 388h5v5h-5zM548 396h5v5h-5zM564 400h5v5h-5zM576 404h5v5h-5zM588 408h5v5h-5zM600 412h5v5h-5zM604 412h5v5h-5zM952 392h9v9h-9zM952 400h9v9h-9zM960 384h9v9h-9zM1108 384h5v5h-5zM1112 384h5v5h-5zM1128 388h5v5h-5zM1144 392h5v5h-5zM1156 396h5v5h-5zM1176 404h5v5h-5zM1196 412h5v5h-5zM612 416h5v5h-5zM616 416h5v5h-5zM624 420h5v5h-5zM632 424h5v5h-5zM636 424h5v5h-5zM640 428h5v5h-5zM644 428h5v5h-5zM648 432h5v5h-5zM652 432h5v5h-5zM656 436h5v5h-5zM660 436h5v5h-5zM664 440h5v5h-5zM668 444h5v5h-5zM944 416h9v9h-9zM936 440h9v9h-9zM1236 420h5v5h-5zM1240 416h5v5h-5zM1232 424h5v5h-5zM688 464h9v9h-9zM696 472h9v9h-9zM936 448h9v9h-9zM936 456h9v9h-9zM936 464h9v9h-9zM944 488h9v9h-9zM944 496h9v9h-9zM944 504h9v9h-9zM696 512h9v9h-9zM696 520h5v5h-5zM696 524h5v5h-5zM692 528h5v5h-5zM692 532h5v5h-5zM688 536h5v5h-5zM688 540h5v5h-5zM668 568h5v5h-5zM668 572h5v5h-5zM684 544h5v5h-5zM684 548h5v5h-5zM676 556h5v5h-5zM680 552h5v5h-5zM676 560h5v5h-5zM672 564h5v5h-5zM944 548h5v5h-5zM944 552h5v5h-5zM944 556h5v5h-5zM948 564h5v5h-5zM948 568h5v5h-5zM664 580h5v5h-5zM664 584h5v5h-5zM664 588h5v5h-5zM664 592h5v5h-5zM664 596h5v5h-5zM664 600h5v5h-5zM952 580h5v5h-5zM952 584h5v5h-5zM956 592h5v5h-5zM956 596h5v5h-5zM960 604h5v5h-5zM668 612h5v5h-5zM672 624h5v5h-5zM964 612h5v5h-5zM964 616h5v5h-5zM968 624h5v5h-5zM968 628h5v5h-5zM972 632h5v5h-5zM972 636h5v5h-5zM684 648h5v5h-5zM688 656h5v5h-5zM976 640h5v5h-5zM976 644h5v5h-5zM976 648h9v9h-9zM984 664h9v9h-9zM828 740h5v5h-5zM840 748h5v5h-5z"/><path fill="#08abc0" d="M732 100h5v5h-5zM736 104h5v5h-5zM740 112h5v5h-5zM748 116h5v5h-5zM752 116h5v5h-5zM760 120h5v5h-5zM764 120h5v5h-5zM768 120h5v5h-5zM796 120h5v5h-5zM800 120h5v5h-5zM804 120h5v5h-5zM816 116h5v5h-5zM316 348h5v5h-5zM316 352h5v5h-5zM316 356h5v5h-5zM444 376h5v5h-5zM448 376h5v5h-5zM972 380h5v5h-5zM984 372h5v5h-5zM976 376h5v5h-5zM980 376h5v5h-5zM992 368h5v5h-5zM996 368h5v5h-5zM1028 368h5v5h-5zM1032 368h5v5h-5zM1048 372h5v5h-5zM1064 376h5v5h-5zM1084 380h5v5h-5zM516 388h5v5h-5zM532 392h5v5h-5zM560 400h5v5h-5zM572 404h5v5h-5zM584 408h5v5h-5zM596 412h5v5h-5zM952 408h9v9h-9zM960 392h9v9h-9zM1104 384h5v5h-5zM1124 388h5v5h-5zM1140 392h5v5h-5zM1164 400h5v5h-5zM608 416h5v5h-5zM620 420h5v5h-5zM628 424h5v5h-5zM636 428h5v5h-5zM644 432h5v5h-5zM652 436h5v5h-5zM656 440h5v5h-5zM660 440h5v5h-5zM664 444h5v5h-5zM944 424h9v9h-9zM944 432h9v9h-9zM944 440h9v9h-9zM1216 420h5v5h-5zM1228 424h5v5h-5zM1240 420h5v5h-5zM1236 424h5v5h-5zM668 448h5v5h-5zM672 448h9v9h-9zM680 456h9v9h-9zM688 472h9v9h-9zM944 448h9v9h-9zM944 456h9v9h-9zM944 464h9v9h-9zM944 472h9v9h-9zM696 480h9v9h-9zM696 488h9v9h-9zM696 496h9v9h-9zM696 504h9v9h-9zM944 480h9v9h-9zM692 520h5v5h-5zM692 524h5v5h-5zM684 540h5v5h-5zM688 532h5v5h-5zM944 512h9v9h-9zM944 520h9v9h-9zM668 564h5v5h-5zM664 572h5v5h-5zM680 548h5v5h-5zM676 552h5v5h-5zM672 560h5v5h-5zM944 544h5v5h-5zM948 556h5v5h-5zM948 560h5v5h-5zM952 568h5v5h-5zM952 572h5v5h-5zM664 576h5v5h-5zM664 604h5v5h-5zM952 576h5v5h-5zM956 584h5v5h-5zM956 588h5v5h-5zM960 596h5v5h-5zM960 600h5v5h-5zM668 616h5v5h-5zM668 620h5v5h-5zM672 628h5v5h-5zM676 636h5v5h-5zM964 608h5v5h-5zM968 616h5v5h-5zM968 620h5v5h-5zM972 628h5v5h-5zM976 636h5v5h-5zM680 644h5v5h-5zM980 644h5v5h-5zM984 656h9v9h-9zM992 664h9v9h-9zM700 672h5v5h-5zM704 676h5v5h-5zM708 680h5v5h-5zM992 672h9v9h-9zM740 704h5v5h-5zM796 732h5v5h-5zM808 736h5v5h-5zM824 740h5v5h-5zM836 744h5v5h-5zM840 752h5v5h-5zM840 756h5v5h-5z"/><path fill="#09abbf" d="M740 108h5v5h-5zM744 112h5v5h-5zM748 112h5v5h-5zM756 116h5v5h-5zM760 116h5v5h-5zM772 120h5v5h-5zM776 120h5v5h-5zM780 120h5v5h-5zM784 120h5v5h-5zM788 120h5v5h-5zM792 120h5v5h-5zM824 108h5v5h-5zM808 116h5v5h-5zM812 116h5v5h-5zM820 112h5v5h-5zM440 376h5v5h-5zM484 380h5v5h-5zM988 372h5v5h-5zM976 380h5v5h-5zM980 380h5v5h-5zM992 372h5v5h-5zM1000 368h5v5h-5zM1004 368h5v5h-5zM1016 368h5v5h-5zM1020 368h5v5h-5zM1024 368h5v5h-5zM1040 372h5v5h-5zM1044 372h5v5h-5zM1056 376h5v5h-5zM1060 376h5v5h-5zM1076 380h5v5h-5zM1080 380h5v5h-5zM500 384h5v5h-5zM528 392h5v5h-5zM544 396h5v5h-5zM556 400h5v5h-5zM568 404h5v5h-5zM580 408h5v5h-5zM592 412h5v5h-5zM968 384h9v9h-9zM960 400h9v9h-9zM1100 384h5v5h-5zM1120 388h5v5h-5zM1152 396h5v5h-5zM1184 408h5v5h-5zM604 416h5v5h-5zM616 420h5v5h-5zM624 424h5v5h-5zM632 428h5v5h-5zM640 432h5v5h-5zM644 436h5v5h-5zM648 436h5v5h-5zM652 440h5v5h-5zM660 444h5v5h-5zM952 416h9v9h-9zM952 424h9v9h-9zM1204 416h5v5h-5zM1244 420h5v5h-5zM1240 424h5v5h-5zM664 448h5v5h-5zM668 452h5v5h-5zM672 456h9v9h-9zM680 464h9v9h-9zM952 488h9v9h-9zM952 496h9v9h-9zM952 504h9v9h-9zM688 512h9v9h-9zM688 524h5v5h-5zM684 532h5v5h-5zM684 536h5v5h-5zM680 540h5v5h-5zM688 528h5v5h-5zM952 512h5v5h-5zM944 528h9v9h-9zM944 536h9v9h-9zM668 560h5v5h-5zM664 568h5v5h-5zM676 548h5v5h-5zM680 544h5v5h-5zM672 552h5v5h-5zM672 556h5v5h-5zM948 544h5v5h-5zM948 548h5v5h-5zM948 552h5v5h-5zM952 560h5v5h-5zM952 564h5v5h-5zM660 576h5v5h-5zM660 580h5v5h-5zM660 584h5v5h-5zM660 588h5v5h-5zM660 592h5v5h-5zM660 596h5v5h-5zM956 576h5v5h-5zM956 580h5v5h-5zM960 588h5v5h-5zM960 592h5v5h-5zM964 600h5v5h-5zM964 604h5v5h-5zM664 608h5v5h-5zM664 612h5v5h-5zM668 624h5v5h-5zM672 632h5v5h-5zM968 608h5v5h-5zM968 612h5v5h-5zM972 620h5v5h-5zM972 624h5v5h-5zM976 628h5v5h-5zM976 632h5v5h-5zM980 636h5v5h-5zM676 640h5v5h-5zM684 652h5v5h-5zM692 664h5v5h-5zM696 668h5v5h-5zM980 640h5v5h-5zM984 648h9v9h-9zM712 684h5v5h-5zM728 696h5v5h-5zM760 716h5v5h-5zM768 720h5v5h-5zM776 724h5v5h-5zM820 740h5v5h-5zM832 744h5v5h-5zM836 748h5v5h-5zM836 752h5v5h-5z"/><path fill="#0aacbe" d="M736 100h5v5h-5zM740 104h5v5h-5zM744 108h5v5h-5zM752 112h5v5h-5zM764 116h5v5h-5zM768 116h5v5h-5zM800 116h5v5h-5zM804 116h5v5h-5zM816 112h5v5h-5zM436 376h5v5h-5zM984 376h9v9h-9zM996 372h5v5h-5zM1000 372h5v5h-5zM1004 372h5v5h-5zM1008 368h9v9h-9zM1028 372h5v5h-5zM1032 372h5v5h-5zM1036 372h5v5h-5zM1048 376h5v5h-5zM1052 376h5v5h-5zM1068 380h5v5h-5zM1072 380h5v5h-5zM512 388h5v5h-5zM540 396h5v5h-5zM552 400h5v5h-5zM564 404h5v5h-5zM576 408h5v5h-5zM588 412h5v5h-5zM968 392h9v9h-9zM976 384h9v9h-9zM960 408h9v9h-9zM1092 384h5v5h-5zM1096 384h5v5h-5zM1116 388h5v5h-5zM1136 392h5v5h-5zM1172 404h5v5h-5zM1192 412h5v5h-5zM600 416h5v5h-5zM608 420h5v5h-5zM612 420h5v5h-5zM620 424h5v5h-5zM628 428h5v5h-5zM636 432h5v5h-5zM640 436h5v5h-5zM648 440h5v5h-5zM652 444h5v5h-5zM656 444h5v5h-5zM952 432h9v9h-9zM952 440h9v9h-9zM1224 424h5v5h-5zM1244 424h5v5h-5zM1240 428h5v5h-5zM660 448h5v5h-5zM664 452h5v5h-5zM668 456h5v5h-5zM676 464h5v5h-5zM680 472h9v9h-9zM952 448h9v9h-9zM952 456h9v9h-9zM952 464h9v9h-9zM952 472h9v9h-9zM688 480h9v9h-9zM688 488h9v9h-9zM688 496h9v9h-9zM688 504h9v9h-9zM952 480h9v9h-9zM688 520h5v5h-5zM684 528h5v5h-5zM680 536h5v5h-5zM956 512h5v5h-5zM952 516h5v5h-5zM952 520h5v5h-5zM952 524h5v5h-5zM668 556h5v5h-5zM664 560h5v5h-5zM664 564h5v5h-5zM660 568h5v5h-5zM660 572h5v5h-5zM676 544h5v5h-5zM672 548h5v5h-5zM952 552h5v5h-5zM952 556h5v5h-5zM956 568h5v5h-5zM956 572h5v5h-5zM660 600h5v5h-5zM960 580h5v5h-5zM960 584h5v5h-5zM964 592h5v5h-5zM964 596h5v5h-5zM968 604h5v5h-5zM664 616h5v5h-5zM668 628h5v5h-5zM972 612h5v5h-5zM972 616h5v5h-5zM976 624h5v5h-5zM980 632h5v5h-5zM984 636h5v5h-5zM680 648h5v5h-5zM688 660h5v5h-5zM984 640h9v9h-9zM992 656h9v9h-9zM1000 664h5v5h-5zM752 712h5v5h-5zM784 728h5v5h-5zM804 736h5v5h-5zM836 756h5v5h-5zM836 760h5v5h-5z"/><path fill="#0bacbd" d="M736 96h5v5h-5zM740 100h5v5h-5zM744 104h5v5h-5zM748 108h5v5h-5zM752 108h5v5h-5zM756 112h5v5h-5zM760 112h5v5h-5zM772 116h5v5h-5zM776 116h5v5h-5zM780 116h5v5h-5zM784 116h5v5h-5zM788 116h5v5h-5zM792 116h5v5h-5zM796 116h5v5h-5zM820 108h5v5h-5zM812 112h5v5h-5zM348 368h5v5h-5zM432 376h5v5h-5zM480 380h5v5h-5zM992 376h9v9h-9zM1016 372h5v5h-5zM1020 372h5v5h-5zM1024 372h5v5h-5zM1036 376h5v5h-5zM1040 376h5v5h-5zM1044 376h5v5h-5zM1060 380h5v5h-5zM1064 380h5v5h-5zM496 384h5v5h-5zM524 392h5v5h-5zM572 408h5v5h-5zM584 412h5v5h-5zM976 392h9v9h-9zM968 400h9v9h-9zM1084 384h5v5h-5zM1088 384h5v5h-5zM1108 388h5v5h-5zM1112 388h5v5h-5zM1132 392h5v5h-5zM1148 396h5v5h-5zM1160 400h5v5h-5zM1180 408h5v5h-5zM596 416h5v5h-5zM604 420h5v5h-5zM616 424h5v5h-5zM624 428h5v5h-5zM628 432h5v5h-5zM632 432h5v5h-5zM636 436h5v5h-5zM644 440h5v5h-5zM648 444h5v5h-5zM960 416h9v9h-9zM960 424h9v9h-9zM1212 420h5v5h-5zM1236 428h5v5h-5zM1244 428h5v5h-5zM1248 416h9v9h-9zM652 448h5v5h-5zM656 448h5v5h-5zM660 452h5v5h-5zM664 456h5v5h-5zM668 460h5v5h-5zM672 464h5v5h-5zM676 468h5v5h-5zM960 504h5v5h-5zM960 508h5v5h-5zM680 520h9v9h-9zM680 528h5v5h-5zM680 532h5v5h-5zM676 536h5v5h-5zM676 540h5v5h-5zM956 516h5v5h-5zM956 520h5v5h-5zM952 528h5v5h-5zM952 532h5v5h-5zM952 536h5v5h-5zM952 540h5v5h-5zM668 552h5v5h-5zM664 556h5v5h-5zM660 564h5v5h-5zM656 572h5v5h-5zM672 544h5v5h-5zM952 544h5v5h-5zM952 548h5v5h-5zM956 556h5v5h-5zM956 560h5v5h-5zM956 564h5v5h-5zM960 572h5v5h-5zM656 576h5v5h-5zM656 580h5v5h-5zM656 584h5v5h-5zM656 588h5v5h-5zM656 592h5v5h-5zM660 604h5v5h-5zM960 576h5v5h-5zM964 584h5v5h-5zM964 588h5v5h-5zM968 596h5v5h-5zM968 600h5v5h-5zM660 608h5v5h-5zM664 620h5v5h-5zM672 636h5v5h-5zM972 608h5v5h-5zM976 616h5v5h-5zM976 620h5v5h-5zM980 628h5v5h-5zM984 632h5v5h-5zM676 644h5v5h-5zM684 656h5v5h-5zM992 648h9v9h-9zM1004 664h5v5h-5zM716 688h5v5h-5zM792 732h5v5h-5zM816 740h5v5h-5zM828 744h5v5h-5zM832 748h5v5h-5zM832 752h5v5h-5z"/><path fill="#0cadbc" d="M740 96h5v5h-5zM744 100h5v5h-5zM748 104h5v5h-5zM756 108h5v5h-5zM764 112h5v5h-5zM768 112h5v5h-5zM820 104h5v5h-5zM816 108h5v5h-5zM804 112h5v5h-5zM808 112h5v5h-5zM332 364h5v5h-5zM428 376h5v5h-5zM1000 376h9v9h-9zM1008 376h9v9h-9zM1032 376h5v5h-5zM1048 380h5v5h-5zM1052 380h5v5h-5zM1056 380h5v5h-5zM508 388h5v5h-5zM536 396h5v5h-5zM548 400h5v5h-5zM560 404h5v5h-5zM580 412h5v5h-5zM984 384h9v9h-9zM968 408h9v9h-9zM976 400h9v9h-9zM1072 384h5v5h-5zM1076 384h5v5h-5zM1080 384h5v5h-5zM1104 388h5v5h-5zM1128 392h5v5h-5zM1144 396h5v5h-5zM1168 404h5v5h-5zM592 416h5v5h-5zM600 420h5v5h-5zM608 424h5v5h-5zM612 424h5v5h-5zM616 428h5v5h-5zM620 428h5v5h-5zM624 432h5v5h-5zM632 436h5v5h-5zM640 440h5v5h-5zM644 444h5v5h-5zM968 416h9v9h-9zM960 432h9v9h-9zM960 440h9v9h-9zM1200 416h5v5h-5zM1248 424h9v9h-9zM648 448h5v5h-5zM656 452h5v5h-5zM660 456h5v5h-5zM664 460h5v5h-5zM668 464h5v5h-5zM672 468h5v5h-5zM672 472h9v9h-9zM960 448h9v9h-9zM960 456h9v9h-9zM960 464h9v9h-9zM960 472h9v9h-9zM680 480h9v9h-9zM680 488h9v9h-9zM680 504h9v9h-9zM960 480h9v9h-9zM960 488h9v9h-9zM960 496h9v9h-9zM964 504h5v5h-5zM680 512h9v9h-9zM676 528h5v5h-5zM676 532h5v5h-5zM672 536h5v5h-5zM672 540h5v5h-5zM956 524h5v5h-5zM956 528h5v5h-5zM960 512h5v5h-5zM960 516h5v5h-5zM668 544h5v5h-5zM668 548h5v5h-5zM660 556h5v5h-5zM664 552h5v5h-5zM660 560h5v5h-5zM656 564h5v5h-5zM656 568h5v5h-5zM956 544h5v5h-5zM956 548h5v5h-5zM956 552h5v5h-5zM960 564h5v5h-5zM960 568h5v5h-5zM656 596h5v5h-5zM964 576h5v5h-5zM964 580h5v5h-5zM968 588h5v5h-5zM968 592h5v5h-5zM972 600h5v5h-5zM972 604h5v5h-5zM660 612h5v5h-5zM664 624h5v5h-5zM668 632h5v5h-5zM976 612h5v5h-5zM980 620h5v5h-5zM980 624h5v5h-5zM984 628h5v5h-5zM988 632h5v5h-5zM988 636h5v5h-5zM672 640h5v5h-5zM992 640h9v9h-9zM1000 656h9v9h-9zM1008 660h5v5h-5zM732 700h5v5h-5zM744 708h5v5h-5zM812 740h5v5h-5zM824 744h5v5h-5zM832 756h5v5h-5zM832 760h5v5h-5z"/><path fill="#0daeba" d="M740 92h5v5h-5zM744 96h5v5h-5zM748 100h5v5h-5zM752 104h5v5h-5zM760 108h5v5h-5zM772 112h5v5h-5zM776 112h5v5h-5zM780 112h5v5h-5zM784 112h5v5h-5zM788 112h5v5h-5zM792 112h5v5h-5zM796 112h5v5h-5zM812 108h5v5h-5zM816 104h5v5h-5zM800 112h5v5h-5zM320 360h5v5h-5zM424 376h5v5h-5zM476 380h5v5h-5zM1016 376h9v9h-9zM1024 376h9v9h-9zM1032 380h5v5h-5zM1036 380h5v5h-5zM1040 380h5v5h-5zM1044 380h5v5h-5zM492 384h5v5h-5zM520 392h5v5h-5zM532 396h5v5h-5zM544 400h5v5h-5zM556 404h5v5h-5zM568 408h5v5h-5zM576 412h5v5h-5zM984 392h9v9h-9zM976 408h9v9h-9zM992 384h9v9h-9zM1060 384h5v5h-5zM1064 384h5v5h-5zM1068 384h5v5h-5zM1092 388h5v5h-5zM1096 388h5v5h-5zM1100 388h5v5h-5zM1124 392h5v5h-5zM1156 400h5v5h-5zM1188 412h5v5h-5zM588 416h5v5h-5zM596 420h5v5h-5zM604 424h5v5h-5zM612 428h5v5h-5zM620 432h5v5h-5zM628 436h5v5h-5zM632 440h5v5h-5zM636 440h5v5h-5zM640 444h5v5h-5zM968 424h9v9h-9zM968 432h9v9h-9zM1220 424h5v5h-5zM1232 428h5v5h-5zM1248 432h5v5h-5zM1252 432h5v5h-5zM644 448h5v5h-5zM648 452h5v5h-5zM652 452h5v5h-5zM656 456h5v5h-5zM656 460h5v5h-5zM660 460h5v5h-5zM660 464h5v5h-5zM664 464h5v5h-5zM664 468h5v5h-5zM668 468h5v5h-5zM672 480h9v9h-9zM680 496h9v9h-9zM964 508h5v5h-5zM668 540h5v5h-5zM672 532h5v5h-5zM956 532h5v5h-5zM956 536h5v5h-5zM956 540h5v5h-5zM964 512h5v5h-5zM960 520h5v5h-5zM664 544h5v5h-5zM664 548h5v5h-5zM660 552h5v5h-5zM652 568h5v5h-5zM652 572h5v5h-5zM656 560h5v5h-5zM960 556h5v5h-5zM960 560h5v5h-5zM964 568h5v5h-5zM964 572h5v5h-5zM652 576h5v5h-5zM652 580h5v5h-5zM652 584h5v5h-5zM652 588h5v5h-5zM656 600h5v5h-5zM656 604h5v5h-5zM968 580h5v5h-5zM968 584h5v5h-5zM972 592h5v5h-5zM972 596h5v5h-5zM976 604h5v5h-5zM660 616h5v5h-5zM664 628h5v5h-5zM976 608h5v5h-5zM980 612h5v5h-5zM980 616h5v5h-5zM984 624h5v5h-5zM988 628h5v5h-5zM992 632h5v5h-5zM992 636h5v5h-5zM680 652h5v5h-5zM1000 648h9v9h-9zM1008 652h5v5h-5zM1008 656h5v5h-5zM772 724h5v5h-5zM780 728h5v5h-5zM800 736h5v5h-5zM820 744h5v5h-5zM828 748h5v5h-5zM828 752h5v5h-5zM828 756h5v5h-5zM828 760h5v5h-5z"/><path fill="#0faeb9" d="M744 88h9v9h-9zM748 96h5v5h-5zM752 100h5v5h-5zM756 104h5v5h-5zM764 108h5v5h-5zM768 108h5v5h-5zM808 108h5v5h-5zM312 348h5v5h-5zM312 352h5v5h-5zM420 376h5v5h-5zM504 388h5v5h-5zM552 404h5v5h-5zM564 408h5v5h-5zM572 412h5v5h-5zM984 400h9v9h-9zM1000 384h9v9h-9zM992 392h9v9h-9zM1008 384h9v9h-9zM1048 384h5v5h-5zM1052 384h5v5h-5zM1056 384h5v5h-5zM1080 388h5v5h-5zM1084 388h5v5h-5zM1088 388h5v5h-5zM1116 392h5v5h-5zM1120 392h5v5h-5zM1140 396h5v5h-5zM1176 408h5v5h-5zM584 416h5v5h-5zM592 420h5v5h-5zM600 424h5v5h-5zM608 428h5v5h-5zM616 432h5v5h-5zM624 436h5v5h-5zM628 440h5v5h-5zM636 444h5v5h-5zM976 416h9v9h-9zM968 440h9v9h-9zM1196 416h5v5h-5zM1208 420h5v5h-5zM1244 432h5v5h-5zM1256 424h9v9h-9zM1256 432h5v5h-5zM640 448h5v5h-5zM644 452h5v5h-5zM648 456h5v5h-5zM652 456h5v5h-5zM656 464h5v5h-5zM660 468h5v5h-5zM664 472h9v9h-9zM968 448h9v9h-9zM968 456h9v9h-9zM968 464h9v9h-9zM968 472h9v9h-9zM672 488h9v9h-9zM968 480h9v9h-9zM968 488h9v9h-9zM968 496h9v9h-9zM968 504h5v5h-5zM968 508h5v5h-5zM668 532h5v5h-5zM668 536h5v5h-5zM664 540h5v5h-5zM672 512h9v9h-9zM672 520h9v9h-9zM672 528h5v5h-5zM964 516h5v5h-5zM960 524h5v5h-5zM960 528h5v5h-5zM960 532h5v5h-5zM960 536h5v5h-5zM960 540h5v5h-5zM660 548h5v5h-5zM656 556h5v5h-5zM652 564h5v5h-5zM960 544h5v5h-5zM960 548h5v5h-5zM960 552h5v5h-5zM964 560h5v5h-5zM964 564h5v5h-5zM968 572h5v5h-5zM652 592h5v5h-5zM652 596h5v5h-5zM968 576h5v5h-5zM972 584h5v5h-5zM972 588h5v5h-5zM976 596h5v5h-5zM976 600h5v5h-5zM656 608h5v5h-5zM660 620h5v5h-5zM668 636h5v5h-5zM980 608h5v5h-5zM984 616h5v5h-5zM984 620h5v5h-5zM988 624h5v5h-5zM992 628h5v5h-5zM996 632h5v5h-5zM996 636h5v5h-5zM676 648h5v5h-5zM692 668h5v5h-5zM1000 640h9v9h-9zM1008 648h5v5h-5zM1012 656h5v5h-5zM696 672h5v5h-5zM700 676h5v5h-5zM720 692h5v5h-5zM764 720h5v5h-5zM788 732h5v5h-5zM808 740h5v5h-5zM824 748h5v5h-5z"/><path fill="#10afb8" d="M752 92h5v5h-5zM752 96h5v5h-5zM756 100h5v5h-5zM760 104h5v5h-5zM764 104h5v5h-5zM772 108h5v5h-5zM776 108h5v5h-5zM780 108h5v5h-5zM796 108h5v5h-5zM800 108h5v5h-5zM804 108h5v5h-5zM812 104h5v5h-5zM816 100h5v5h-5zM312 356h5v5h-5zM368 372h5v5h-5zM472 380h5v5h-5zM516 392h5v5h-5zM528 396h5v5h-5zM540 400h5v5h-5zM560 408h5v5h-5zM984 408h9v9h-9zM1000 392h9v9h-9zM1016 384h9v9h-9zM992 400h9v9h-9zM1024 384h9v9h-9zM1032 384h9v9h-9zM1040 384h9v9h-9zM1056 388h5v5h-5zM1060 388h5v5h-5zM1064 388h5v5h-5zM1068 388h5v5h-5zM1072 388h5v5h-5zM1076 388h5v5h-5zM1108 392h5v5h-5zM1112 392h5v5h-5zM1136 396h5v5h-5zM1152 400h5v5h-5zM1164 404h5v5h-5zM580 416h5v5h-5zM588 420h5v5h-5zM596 424h5v5h-5zM604 428h5v5h-5zM612 432h5v5h-5zM620 436h5v5h-5zM624 440h5v5h-5zM632 444h5v5h-5zM976 424h9v9h-9zM976 432h9v9h-9zM1260 432h5v5h-5zM636 448h5v5h-5zM640 452h5v5h-5zM644 456h5v5h-5zM652 460h5v5h-5zM652 464h5v5h-5zM656 468h5v5h-5zM660 472h5v5h-5zM668 480h5v5h-5zM668 484h5v5h-5zM672 496h9v9h-9zM672 504h9v9h-9zM972 504h5v5h-5zM668 524h5v5h-5zM668 528h5v5h-5zM664 536h5v5h-5zM968 512h5v5h-5zM964 520h5v5h-5zM964 524h5v5h-5zM652 556h5v5h-5zM660 544h5v5h-5zM656 548h5v5h-5zM656 552h5v5h-5zM652 560h5v5h-5zM648 568h5v5h-5zM648 572h5v5h-5zM964 556h5v5h-5zM968 568h5v5h-5zM648 576h5v5h-5zM648 580h5v5h-5zM648 584h5v5h-5zM652 600h5v5h-5zM972 576h5v5h-5zM972 580h5v5h-5zM976 588h5v5h-5zM976 592h5v5h-5zM980 600h5v5h-5zM980 604h5v5h-5zM656 612h5v5h-5zM660 624h5v5h-5zM664 632h5v5h-5zM984 608h5v5h-5zM984 612h5v5h-5zM988 620h5v5h-5zM992 624h5v5h-5zM996 628h5v5h-5zM1000 632h5v5h-5zM1000 636h5v5h-5zM672 644h5v5h-5zM684 660h5v5h-5zM688 664h5v5h-5zM1012 648h5v5h-5zM1012 652h5v5h-5zM704 680h5v5h-5zM736 704h5v5h-5zM756 716h5v5h-5zM796 736h5v5h-5zM816 744h5v5h-5zM824 752h5v5h-5z"/><path fill="#12afb7" d="M756 96h5v5h-5zM760 100h5v5h-5zM768 104h5v5h-5zM784 108h5v5h-5zM788 108h5v5h-5zM792 108h5v5h-5zM812 100h5v5h-5zM808 104h5v5h-5zM416 376h5v5h-5zM488 384h5v5h-5zM536 400h5v5h-5zM548 404h5v5h-5zM568 412h5v5h-5zM1008 392h9v9h-9zM1000 400h9v9h-9zM992 408h9v9h-9zM1048 388h5v5h-5zM1052 388h5v5h-5zM1096 392h5v5h-5zM1100 392h5v5h-5zM1104 392h5v5h-5zM1132 396h5v5h-5zM1184 412h5v5h-5zM576 416h5v5h-5zM600 428h5v5h-5zM608 432h5v5h-5zM616 436h5v5h-5zM620 440h5v5h-5zM628 444h5v5h-5zM984 416h9v9h-9zM984 424h9v9h-9zM976 440h9v9h-9zM1204 420h5v5h-5zM1216 424h5v5h-5zM1228 428h5v5h-5zM1240 432h5v5h-5zM1264 424h9v9h-9zM1256 436h5v5h-5zM1260 436h5v5h-5zM1264 432h5v5h-5zM632 448h5v5h-5zM636 452h5v5h-5zM640 456h5v5h-5zM644 460h5v5h-5zM648 460h5v5h-5zM648 464h5v5h-5zM652 468h5v5h-5zM656 472h5v5h-5zM660 476h5v5h-5zM976 448h9v9h-9zM664 480h5v5h-5zM664 484h5v5h-5zM972 508h5v5h-5zM976 496h5v5h-5zM668 520h5v5h-5zM664 528h5v5h-5zM664 532h5v5h-5zM660 536h5v5h-5zM660 540h5v5h-5zM968 516h5v5h-5zM968 520h5v5h-5zM964 528h5v5h-5zM964 532h5v5h-5zM964 536h5v5h-5zM964 540h5v5h-5zM652 552h5v5h-5zM656 544h5v5h-5zM648 560h5v5h-5zM648 564h5v5h-5zM964 544h5v5h-5zM964 548h5v5h-5zM964 552h5v5h-5zM968 560h5v5h-5zM968 564h5v5h-5zM972 572h5v5h-5zM648 588h5v5h-5zM652 604h5v5h-5zM976 580h5v5h-5zM976 584h5v5h-5zM980 592h5v5h-5zM980 596h5v5h-5zM984 604h5v5h-5zM656 616h5v5h-5zM660 628h5v5h-5zM988 612h5v5h-5zM988 616h5v5h-5zM992 620h5v5h-5zM996 624h5v5h-5zM1000 628h5v5h-5zM1004 636h5v5h-5zM668 640h5v5h-5zM680 656h5v5h-5zM1008 640h9v9h-9zM1016 648h9v9h-9zM804 740h5v5h-5zM812 744h5v5h-5zM820 748h5v5h-5zM824 756h5v5h-5zM824 760h5v5h-5z"/><path fill="#13b0b6" d="M752 88h5v5h-5zM756 92h5v5h-5zM760 96h5v5h-5zM764 100h5v5h-5zM772 104h5v5h-5zM776 104h5v5h-5zM812 96h5v5h-5zM808 100h5v5h-5zM800 104h5v5h-5zM804 104h5v5h-5zM308 348h5v5h-5zM308 352h5v5h-5zM468 380h5v5h-5zM500 388h5v5h-5zM512 392h5v5h-5zM524 396h5v5h-5zM544 404h5v5h-5zM556 408h5v5h-5zM564 412h5v5h-5zM1016 392h9v9h-9zM1000 408h9v9h-9zM1008 400h9v9h-9zM1024 392h9v9h-9zM1056 392h5v5h-5zM1060 392h5v5h-5zM1064 392h5v5h-5zM1068 392h5v5h-5zM1072 392h5v5h-5zM1076 392h5v5h-5zM1080 392h5v5h-5zM1084 392h5v5h-5zM1088 392h5v5h-5zM1092 392h5v5h-5zM1128 396h5v5h-5zM1148 400h5v5h-5zM1160 404h5v5h-5zM1172 408h5v5h-5zM584 420h5v5h-5zM592 424h5v5h-5zM604 432h5v5h-5zM612 436h5v5h-5zM616 440h5v5h-5zM624 444h5v5h-5zM984 432h9v9h-9zM992 416h9v9h-9zM1192 416h5v5h-5zM1252 436h5v5h-5zM1264 436h5v5h-5zM628 448h5v5h-5zM632 452h5v5h-5zM636 456h5v5h-5zM640 460h5v5h-5zM644 464h5v5h-5zM648 468h5v5h-5zM652 472h5v5h-5zM656 476h5v5h-5zM976 456h9v9h-9zM976 464h9v9h-9zM976 472h9v9h-9zM660 480h5v5h-5zM664 488h9v9h-9zM664 496h9v9h-9zM664 504h9v9h-9zM976 480h9v9h-9zM976 488h9v9h-9zM976 500h5v5h-5zM976 504h5v5h-5zM664 512h9v9h-9zM664 520h5v5h-5zM664 524h5v5h-5zM660 532h5v5h-5zM656 540h5v5h-5zM972 512h5v5h-5zM968 524h5v5h-5zM652 544h5v5h-5zM652 548h5v5h-5zM648 552h5v5h-5zM648 556h5v5h-5zM644 564h5v5h-5zM644 568h5v5h-5zM644 572h5v5h-5zM968 552h5v5h-5zM968 556h5v5h-5zM972 564h5v5h-5zM972 568h5v5h-5zM644 576h5v5h-5zM644 580h5v5h-5zM648 592h5v5h-5zM648 596h5v5h-5zM976 576h5v5h-5zM980 584h5v5h-5zM980 588h5v5h-5zM984 596h5v5h-5zM984 600h5v5h-5zM988 604h5v5h-5zM652 608h5v5h-5zM656 620h5v5h-5zM664 636h5v5h-5zM988 608h5v5h-5zM992 612h5v5h-5zM992 616h5v5h-5zM996 620h5v5h-5zM1000 624h5v5h-5zM1004 628h5v5h-5zM1004 632h5v5h-5zM1008 636h5v5h-5zM676 652h5v5h-5zM1016 640h5v5h-5zM1016 644h5v5h-5zM1020 644h5v5h-5zM1024 648h5v5h-5zM708 684h5v5h-5zM724 696h5v5h-5zM748 712h5v5h-5zM784 732h5v5h-5zM816 748h5v5h-5zM820 752h5v5h-5zM820 756h5v5h-5zM820 760h5v5h-5zM820 764h5v5h-5z"/><path fill="#15b0b4" d="M752 84h5v5h-5zM756 88h5v5h-5zM760 92h5v5h-5zM764 96h5v5h-5zM768 100h5v5h-5zM780 104h5v5h-5zM784 104h5v5h-5zM788 104h5v5h-5zM792 104h5v5h-5zM796 104h5v5h-5zM412 376h5v5h-5zM484 384h5v5h-5zM520 396h5v5h-5zM532 400h5v5h-5zM552 408h5v5h-5zM1016 400h9v9h-9zM1032 392h9v9h-9zM1040 392h9v9h-9zM1048 392h9v9h-9zM1120 396h5v5h-5zM1124 396h5v5h-5zM1144 400h5v5h-5zM1180 412h5v5h-5zM572 416h5v5h-5zM580 420h5v5h-5zM588 424h5v5h-5zM596 428h5v5h-5zM600 432h5v5h-5zM608 436h5v5h-5zM620 444h5v5h-5zM984 440h9v9h-9zM992 424h9v9h-9zM1268 432h5v5h-5zM1268 436h5v5h-5zM1264 440h5v5h-5zM624 448h5v5h-5zM628 452h5v5h-5zM632 456h5v5h-5zM636 460h5v5h-5zM640 464h5v5h-5zM648 472h5v5h-5zM652 476h5v5h-5zM656 480h5v5h-5zM660 484h5v5h-5zM980 496h5v5h-5zM980 500h5v5h-5zM976 508h5v5h-5zM660 520h5v5h-5zM660 524h5v5h-5zM652 540h5v5h-5zM660 528h5v5h-5zM656 532h5v5h-5zM656 536h5v5h-5zM972 516h5v5h-5zM972 520h5v5h-5zM968 528h5v5h-5zM968 532h5v5h-5zM968 536h5v5h-5zM968 540h5v5h-5zM648 548h5v5h-5zM644 556h5v5h-5zM644 560h5v5h-5zM968 544h5v5h-5zM968 548h5v5h-5zM972 556h5v5h-5zM972 560h5v5h-5zM976 568h5v5h-5zM976 572h5v5h-5zM644 584h5v5h-5zM644 588h5v5h-5zM648 600h5v5h-5zM980 580h5v5h-5zM984 588h5v5h-5zM984 592h5v5h-5zM988 600h5v5h-5zM652 612h5v5h-5zM656 624h5v5h-5zM660 632h5v5h-5zM992 608h5v5h-5zM996 616h5v5h-5zM1000 620h5v5h-5zM1004 624h5v5h-5zM1008 628h5v5h-5zM1008 632h5v5h-5zM1012 636h5v5h-5zM1016 636h5v5h-5zM672 648h5v5h-5zM1020 640h5v5h-5zM1024 644h5v5h-5zM768 724h5v5h-5zM776 728h5v5h-5zM792 736h5v5h-5zM800 740h5v5h-5zM808 744h5v5h-5zM816 752h5v5h-5z"/><path fill="#17b1b3" d="M756 84h5v5h-5zM760 88h5v5h-5zM764 92h5v5h-5zM812 92h5v5h-5zM768 96h5v5h-5zM772 100h5v5h-5zM776 100h5v5h-5zM800 100h5v5h-5zM804 100h5v5h-5zM808 96h5v5h-5zM308 356h5v5h-5zM316 360h5v5h-5zM464 380h5v5h-5zM496 388h5v5h-5zM508 392h5v5h-5zM540 404h5v5h-5zM560 412h5v5h-5zM1008 408h9v9h-9zM1024 400h9v9h-9zM1056 396h5v5h-5zM1060 396h5v5h-5zM1064 396h5v5h-5zM1068 396h5v5h-5zM1072 396h5v5h-5zM1076 396h5v5h-5zM1080 396h5v5h-5zM1084 396h5v5h-5zM1088 396h5v5h-5zM1092 396h5v5h-5zM1104 396h5v5h-5zM1108 396h5v5h-5zM1112 396h5v5h-5zM1116 396h5v5h-5zM1156 404h5v5h-5zM1168 408h5v5h-5zM568 416h5v5h-5zM576 420h5v5h-5zM584 424h5v5h-5zM592 428h5v5h-5zM604 436h5v5h-5zM612 440h5v5h-5zM616 444h5v5h-5zM1000 416h9v9h-9zM992 432h9v9h-9zM1200 420h5v5h-5zM1212 424h5v5h-5zM1224 428h5v5h-5zM1236 432h5v5h-5zM1248 436h5v5h-5zM1260 440h5v5h-5zM1272 432h5v5h-5zM1272 436h5v5h-5zM1268 440h5v5h-5zM620 448h5v5h-5zM624 452h5v5h-5zM632 460h5v5h-5zM636 464h5v5h-5zM644 468h5v5h-5zM648 476h5v5h-5zM984 448h9v9h-9zM984 456h9v9h-9zM984 464h9v9h-9zM984 472h9v9h-9zM652 480h5v5h-5zM656 484h5v5h-5zM656 488h9v9h-9zM984 488h5v5h-5zM984 492h5v5h-5zM980 504h5v5h-5zM660 512h5v5h-5zM660 516h5v5h-5zM656 524h5v5h-5zM652 536h5v5h-5zM656 528h5v5h-5zM972 524h5v5h-5zM976 512h5v5h-5zM976 516h5v5h-5zM648 544h5v5h-5zM644 552h5v5h-5zM640 564h5v5h-5zM640 568h5v5h-5zM640 572h5v5h-5zM972 552h5v5h-5zM976 560h5v5h-5zM976 564h5v5h-5zM980 572h5v5h-5zM640 576h5v5h-5zM644 592h5v5h-5zM648 604h5v5h-5zM980 576h5v5h-5zM984 584h5v5h-5zM988 592h5v5h-5zM988 596h5v5h-5zM992 600h5v5h-5zM992 604h5v5h-5zM652 616h5v5h-5zM996 608h5v5h-5zM996 612h5v5h-5zM1000 616h5v5h-5zM1004 620h5v5h-5zM1008 624h5v5h-5zM1012 632h5v5h-5zM1016 632h5v5h-5zM1020 636h5v5h-5zM668 644h5v5h-5zM760 720h5v5h-5zM812 748h5v5h-5zM816 756h5v5h-5z"/><path fill="#19b2b2" d="M756 80h5v5h-5zM760 84h5v5h-5zM764 88h5v5h-5zM772 96h5v5h-5zM780 100h5v5h-5zM784 100h5v5h-5zM788 100h5v5h-5zM792 100h5v5h-5zM796 100h5v5h-5zM804 96h5v5h-5zM408 376h5v5h-5zM480 384h5v5h-5zM516 396h5v5h-5zM528 400h5v5h-5zM548 408h5v5h-5zM556 412h5v5h-5zM1016 408h9v9h-9zM1032 400h9v9h-9zM1040 400h9v9h-9zM1056 400h5v5h-5zM1096 396h5v5h-5zM1100 396h5v5h-5zM1140 400h5v5h-5zM564 416h5v5h-5zM572 420h5v5h-5zM580 424h5v5h-5zM588 428h5v5h-5zM596 432h5v5h-5zM600 436h5v5h-5zM608 440h5v5h-5zM612 444h5v5h-5zM1000 424h9v9h-9zM1008 416h9v9h-9zM992 440h9v9h-9zM1188 416h5v5h-5zM1276 432h5v5h-5zM1272 440h5v5h-5zM616 448h5v5h-5zM620 452h5v5h-5zM628 456h5v5h-5zM628 460h5v5h-5zM632 464h5v5h-5zM640 468h5v5h-5zM644 472h5v5h-5zM648 480h5v5h-5zM652 484h5v5h-5zM656 496h9v9h-9zM656 504h9v9h-9zM984 480h9v9h-9zM984 496h5v5h-5zM984 500h5v5h-5zM980 508h5v5h-5zM656 516h5v5h-5zM656 520h5v5h-5zM652 528h5v5h-5zM652 532h5v5h-5zM648 536h5v5h-5zM648 540h5v5h-5zM976 520h5v5h-5zM972 528h5v5h-5zM972 532h5v5h-5zM972 536h5v5h-5zM972 540h5v5h-5zM644 544h5v5h-5zM644 548h5v5h-5zM640 552h5v5h-5zM640 556h5v5h-5zM640 560h5v5h-5zM972 544h5v5h-5zM972 548h5v5h-5zM976 556h5v5h-5zM980 564h5v5h-5zM980 568h5v5h-5zM640 580h5v5h-5zM640 584h5v5h-5zM644 596h5v5h-5zM984 576h5v5h-5zM984 580h5v5h-5zM988 584h5v5h-5zM988 588h5v5h-5zM992 596h5v5h-5zM996 604h5v5h-5zM648 608h5v5h-5zM652 620h5v5h-5zM656 628h5v5h-5zM1000 612h5v5h-5zM1004 616h5v5h-5zM1008 620h5v5h-5zM1012 628h5v5h-5zM1020 632h5v5h-5zM664 640h5v5h-5zM1024 640h5v5h-5zM1028 644h5v5h-5zM712 688h5v5h-5zM728 700h5v5h-5zM740 708h5v5h-5zM804 744h5v5h-5zM812 752h5v5h-5zM816 760h5v5h-5zM816 764h5v5h-5z"/><path fill="#1ab2b1" d="M760 80h5v5h-5zM764 84h5v5h-5zM768 92h5v5h-5zM808 92h5v5h-5zM776 96h5v5h-5zM800 96h5v5h-5zM344 368h5v5h-5zM460 380h5v5h-5zM492 388h5v5h-5zM504 392h5v5h-5zM536 404h5v5h-5zM544 408h5v5h-5zM1024 408h9v9h-9zM1048 400h9v9h-9zM1060 400h5v5h-5zM1064 400h5v5h-5zM1068 400h5v5h-5zM1072 400h5v5h-5zM1076 400h5v5h-5zM1136 400h5v5h-5zM1152 404h5v5h-5zM1176 412h5v5h-5zM584 428h5v5h-5zM592 432h5v5h-5zM596 436h5v5h-5zM604 440h5v5h-5zM608 444h5v5h-5zM1016 416h9v9h-9zM1008 424h9v9h-9zM1000 432h9v9h-9zM1244 436h5v5h-5zM1256 440h5v5h-5zM1276 436h5v5h-5zM1276 440h5v5h-5zM1272 444h5v5h-5zM612 448h5v5h-5zM624 456h5v5h-5zM636 468h5v5h-5zM640 472h5v5h-5zM644 476h5v5h-5zM992 448h9v9h-9zM992 456h9v9h-9zM992 472h5v5h-5zM644 480h5v5h-5zM648 484h5v5h-5zM652 488h5v5h-5zM652 492h5v5h-5zM988 488h5v5h-5zM988 492h5v5h-5zM984 504h5v5h-5zM652 520h5v5h-5zM652 524h5v5h-5zM656 512h5v5h-5zM648 532h5v5h-5zM644 540h5v5h-5zM980 512h5v5h-5zM980 516h5v5h-5zM976 524h5v5h-5zM636 560h5v5h-5zM636 564h5v5h-5zM636 568h5v5h-5zM636 572h5v5h-5zM640 548h5v5h-5zM976 548h5v5h-5zM976 552h5v5h-5zM980 560h5v5h-5zM984 568h5v5h-5zM984 572h5v5h-5zM640 588h5v5h-5zM644 600h5v5h-5zM988 580h5v5h-5zM992 588h5v5h-5zM992 592h5v5h-5zM996 596h5v5h-5zM996 600h5v5h-5zM1000 604h5v5h-5zM648 612h5v5h-5zM660 636h5v5h-5zM1000 608h5v5h-5zM1004 612h5v5h-5zM1008 616h5v5h-5zM1012 620h5v5h-5zM1012 624h5v5h-5zM1016 628h5v5h-5zM1024 636h5v5h-5zM680 660h5v5h-5zM684 664h5v5h-5zM688 668h5v5h-5zM692 672h5v5h-5zM752 716h5v5h-5zM780 732h5v5h-5zM788 736h5v5h-5zM796 740h5v5h-5zM808 748h5v5h-5zM812 756h5v5h-5zM812 760h5v5h-5zM812 764h5v5h-5z"/><path fill="#1cb3af" d="M768 88h5v5h-5zM772 92h5v5h-5zM800 92h5v5h-5zM804 92h5v5h-5zM808 88h5v5h-5zM780 96h5v5h-5zM784 96h5v5h-5zM788 96h5v5h-5zM792 96h5v5h-5zM796 96h5v5h-5zM328 364h5v5h-5zM364 372h5v5h-5zM404 376h5v5h-5zM512 396h5v5h-5zM524 400h5v5h-5zM532 404h5v5h-5zM552 412h5v5h-5zM1032 408h9v9h-9zM1056 404h5v5h-5zM1060 404h5v5h-5zM1064 404h5v5h-5zM1080 400h5v5h-5zM1084 400h5v5h-5zM1088 400h5v5h-5zM1092 400h5v5h-5zM1132 400h5v5h-5zM1164 408h5v5h-5zM560 416h5v5h-5zM568 420h5v5h-5zM576 424h5v5h-5zM588 432h5v5h-5zM600 440h5v5h-5zM604 444h5v5h-5zM1000 440h9v9h-9zM1196 420h5v5h-5zM1208 424h5v5h-5zM1220 428h5v5h-5zM1232 432h5v5h-5zM1268 444h5v5h-5zM1276 444h5v5h-5zM1280 436h5v5h-5zM1280 440h5v5h-5zM616 452h5v5h-5zM620 456h5v5h-5zM624 460h5v5h-5zM628 464h5v5h-5zM632 468h5v5h-5zM636 472h5v5h-5zM640 476h5v5h-5zM992 464h9v9h-9zM992 476h5v5h-5zM644 484h5v5h-5zM648 488h5v5h-5zM652 496h5v5h-5zM652 500h5v5h-5zM988 496h5v5h-5zM988 500h5v5h-5zM984 508h5v5h-5zM992 480h5v5h-5zM992 484h5v5h-5zM992 488h5v5h-5zM648 512h9v9h-9zM648 524h5v5h-5zM644 532h5v5h-5zM648 528h5v5h-5zM644 536h5v5h-5zM640 540h5v5h-5zM980 520h5v5h-5zM976 528h5v5h-5zM976 532h5v5h-5zM976 536h5v5h-5zM976 540h5v5h-5zM636 552h5v5h-5zM636 556h5v5h-5zM640 544h5v5h-5zM976 544h5v5h-5zM980 556h5v5h-5zM984 564h5v5h-5zM988 572h5v5h-5zM636 576h5v5h-5zM640 592h5v5h-5zM644 604h5v5h-5zM988 576h5v5h-5zM992 580h5v5h-5zM992 584h5v5h-5zM996 592h5v5h-5zM1000 600h5v5h-5zM648 616h5v5h-5zM652 624h5v5h-5zM1004 608h5v5h-5zM1008 612h5v5h-5zM1012 616h5v5h-5zM1016 624h5v5h-5zM1020 628h5v5h-5zM1024 632h5v5h-5zM672 652h5v5h-5zM676 656h5v5h-5zM1028 640h5v5h-5zM696 676h5v5h-5zM772 728h5v5h-5zM800 744h5v5h-5zM808 752h5v5h-5zM808 756h5v5h-5z"/><path fill="#1eb3ae" d="M764 80h5v5h-5zM768 84h5v5h-5zM772 88h5v5h-5zM776 92h5v5h-5zM796 92h5v5h-5zM804 88h5v5h-5zM456 380h5v5h-5zM476 384h5v5h-5zM488 388h5v5h-5zM500 392h5v5h-5zM540 408h5v5h-5zM548 412h5v5h-5zM1040 408h9v9h-9zM1048 408h5v5h-5zM1052 408h5v5h-5zM1068 404h5v5h-5zM1056 408h5v5h-5zM1072 404h5v5h-5zM1076 404h5v5h-5zM1096 400h5v5h-5zM1100 400h5v5h-5zM1104 400h5v5h-5zM1108 400h5v5h-5zM1112 400h5v5h-5zM1116 400h5v5h-5zM1120 400h5v5h-5zM1124 400h5v5h-5zM1128 400h5v5h-5zM1148 404h5v5h-5zM1172 412h5v5h-5zM556 416h5v5h-5zM564 420h5v5h-5zM572 424h5v5h-5zM580 428h5v5h-5zM584 432h5v5h-5zM592 436h5v5h-5zM596 440h5v5h-5zM1016 424h9v9h-9zM1008 432h9v9h-9zM1008 440h5v5h-5zM1024 416h9v9h-9zM1032 416h5v5h-5zM1184 416h5v5h-5zM1284 436h5v5h-5zM1280 444h5v5h-5zM608 448h5v5h-5zM612 452h5v5h-5zM616 456h5v5h-5zM620 460h5v5h-5zM624 464h5v5h-5zM628 468h5v5h-5zM632 472h5v5h-5zM636 476h5v5h-5zM1000 448h9v9h-9zM996 472h5v5h-5zM996 476h5v5h-5zM640 480h5v5h-5zM644 488h5v5h-5zM648 492h5v5h-5zM648 496h5v5h-5zM648 500h5v5h-5zM648 504h9v9h-9zM988 504h5v5h-5zM996 480h5v5h-5zM992 492h5v5h-5zM992 496h5v5h-5zM648 520h5v5h-5zM644 528h5v5h-5zM640 536h5v5h-5zM984 512h5v5h-5zM980 524h5v5h-5zM636 544h5v5h-5zM636 548h5v5h-5zM632 556h5v5h-5zM632 560h5v5h-5zM632 564h5v5h-5zM980 548h5v5h-5zM980 552h5v5h-5zM984 560h5v5h-5zM988 568h5v5h-5zM636 580h5v5h-5zM636 584h5v5h-5zM640 596h5v5h-5zM992 576h5v5h-5zM996 584h5v5h-5zM996 588h5v5h-5zM1000 592h5v5h-5zM1000 596h5v5h-5zM1004 600h5v5h-5zM1004 604h5v5h-5zM644 608h5v5h-5zM656 632h5v5h-5zM1008 608h5v5h-5zM1012 612h5v5h-5zM1016 616h5v5h-5zM1016 620h5v5h-5zM1020 624h5v5h-5zM1024 628h5v5h-5zM1028 632h5v5h-5zM1028 636h5v5h-5zM668 648h5v5h-5zM1032 640h9v9h-9zM716 692h5v5h-5zM764 724h5v5h-5zM792 740h5v5h-5zM804 748h5v5h-5zM808 760h5v5h-5z"/><path fill="#20b4ad" d="M760 76h5v5h-5zM780 92h5v5h-5zM784 92h5v5h-5zM788 92h5v5h-5zM792 92h5v5h-5zM804 84h5v5h-5zM800 88h5v5h-5zM304 344h5v5h-5zM304 348h5v5h-5zM304 352h5v5h-5zM508 396h5v5h-5zM520 400h5v5h-5zM528 404h5v5h-5zM1048 412h5v5h-5zM1052 412h5v5h-5zM1060 408h5v5h-5zM1064 408h5v5h-5zM1080 404h5v5h-5zM1084 404h5v5h-5zM1160 408h5v5h-5zM568 424h5v5h-5zM576 428h5v5h-5zM588 436h5v5h-5zM600 444h5v5h-5zM1016 432h5v5h-5zM1012 440h5v5h-5zM1008 444h5v5h-5zM1036 416h5v5h-5zM1032 420h5v5h-5zM1024 424h5v5h-5zM1040 416h5v5h-5zM1240 436h5v5h-5zM1252 440h5v5h-5zM1264 444h5v5h-5zM1284 440h5v5h-5zM604 448h5v5h-5zM608 452h5v5h-5zM612 456h5v5h-5zM616 460h5v5h-5zM620 464h5v5h-5zM624 468h5v5h-5zM628 472h5v5h-5zM632 476h5v5h-5zM1000 456h9v9h-9zM1000 464h5v5h-5zM1000 468h5v5h-5zM1000 472h5v5h-5zM636 480h5v5h-5zM640 484h5v5h-5zM640 488h5v5h-5zM644 492h5v5h-5zM644 496h5v5h-5zM988 508h5v5h-5zM996 484h5v5h-5zM996 488h5v5h-5zM992 500h5v5h-5zM636 540h5v5h-5zM644 520h5v5h-5zM644 524h5v5h-5zM640 532h5v5h-5zM984 516h5v5h-5zM984 520h5v5h-5zM980 528h5v5h-5zM980 532h5v5h-5zM980 536h5v5h-5zM980 540h5v5h-5zM632 548h5v5h-5zM632 552h5v5h-5zM632 568h5v5h-5zM632 572h5v5h-5zM980 544h5v5h-5zM984 552h5v5h-5zM984 556h5v5h-5zM988 564h5v5h-5zM992 572h5v5h-5zM632 576h5v5h-5zM636 588h5v5h-5zM640 600h5v5h-5zM996 580h5v5h-5zM1000 588h5v5h-5zM1004 596h5v5h-5zM1008 600h5v5h-5zM1008 604h5v5h-5zM644 612h5v5h-5zM648 620h5v5h-5zM652 628h5v5h-5zM1012 608h5v5h-5zM1016 612h5v5h-5zM1020 620h5v5h-5zM1024 624h5v5h-5zM1028 628h5v5h-5zM1032 632h9v9h-9zM664 644h5v5h-5zM700 680h5v5h-5zM732 704h5v5h-5zM744 712h5v5h-5zM784 736h5v5h-5zM804 752h5v5h-5zM808 764h5v5h-5z"/><path fill="#22b4ab" d="M768 80h5v5h-5zM772 84h5v5h-5zM776 88h5v5h-5zM780 88h5v5h-5zM792 88h5v5h-5zM796 88h5v5h-5zM800 84h5v5h-5zM400 376h5v5h-5zM452 380h5v5h-5zM472 384h5v5h-5zM496 392h5v5h-5zM516 400h5v5h-5zM536 408h5v5h-5zM544 412h5v5h-5zM1056 412h5v5h-5zM1060 412h5v5h-5zM1068 408h5v5h-5zM1072 408h5v5h-5zM1076 408h5v5h-5zM1088 404h5v5h-5zM1092 404h5v5h-5zM1096 404h5v5h-5zM1144 404h5v5h-5zM552 416h5v5h-5zM560 420h5v5h-5zM580 432h5v5h-5zM592 440h5v5h-5zM596 444h5v5h-5zM1020 432h5v5h-5zM1016 436h5v5h-5zM1012 444h5v5h-5zM1016 440h5v5h-5zM1036 420h5v5h-5zM1028 424h5v5h-5zM1024 428h5v5h-5zM1032 424h5v5h-5zM1044 416h5v5h-5zM1048 416h5v5h-5zM1180 416h5v5h-5zM1192 420h5v5h-5zM1204 424h5v5h-5zM1216 428h5v5h-5zM1228 432h5v5h-5zM1284 444h5v5h-5zM1288 440h5v5h-5zM600 448h5v5h-5zM604 452h5v5h-5zM608 456h5v5h-5zM612 460h5v5h-5zM616 464h5v5h-5zM620 468h5v5h-5zM624 472h5v5h-5zM628 476h5v5h-5zM1008 448h5v5h-5zM1008 452h5v5h-5zM1004 464h5v5h-5zM1000 476h5v5h-5zM1276 448h5v5h-5zM1280 448h5v5h-5zM1284 448h5v5h-5zM632 480h5v5h-5zM636 484h5v5h-5zM640 492h5v5h-5zM644 500h5v5h-5zM1000 480h5v5h-5zM996 492h5v5h-5zM996 496h5v5h-5zM992 504h5v5h-5zM636 532h5v5h-5zM636 536h5v5h-5zM632 540h5v5h-5zM644 512h5v5h-5zM644 516h5v5h-5zM640 524h5v5h-5zM640 528h5v5h-5zM988 512h5v5h-5zM984 524h5v5h-5zM632 544h5v5h-5zM628 556h5v5h-5zM628 560h5v5h-5zM984 544h5v5h-5zM984 548h5v5h-5zM988 556h5v5h-5zM988 560h5v5h-5zM992 564h5v5h-5zM992 568h5v5h-5zM996 572h5v5h-5zM632 580h5v5h-5zM636 592h5v5h-5zM640 604h5v5h-5zM996 576h5v5h-5zM1000 580h5v5h-5zM1000 584h5v5h-5zM1004 588h5v5h-5zM1004 592h5v5h-5zM1008 596h5v5h-5zM1012 604h5v5h-5zM1016 608h5v5h-5zM1020 612h5v5h-5zM1020 616h5v5h-5zM1024 620h5v5h-5zM1028 624h5v5h-5zM1032 628h5v5h-5zM660 640h5v5h-5zM756 720h5v5h-5zM776 732h5v5h-5zM796 744h5v5h-5zM800 748h5v5h-5zM804 756h5v5h-5z"/><path fill="#24b5aa" d="M764 76h5v5h-5zM772 80h5v5h-5zM796 80h5v5h-5zM792 84h5v5h-5zM796 84h5v5h-5zM784 88h5v5h-5zM788 88h5v5h-5zM800 80h5v5h-5zM300 344h5v5h-5zM300 348h5v5h-5zM300 352h5v5h-5zM304 356h5v5h-5zM448 380h5v5h-5zM484 388h5v5h-5zM524 404h5v5h-5zM1064 412h5v5h-5zM1068 412h5v5h-5zM1080 408h5v5h-5zM1084 408h5v5h-5zM1100 404h5v5h-5zM1104 404h5v5h-5zM1140 404h5v5h-5zM1156 408h5v5h-5zM1168 412h5v5h-5zM556 420h5v5h-5zM564 424h5v5h-5zM572 428h5v5h-5zM576 432h5v5h-5zM584 436h5v5h-5zM588 440h5v5h-5zM592 444h5v5h-5zM1020 436h5v5h-5zM1016 444h5v5h-5zM1028 428h5v5h-5zM1036 424h5v5h-5zM1032 428h5v5h-5zM1040 420h5v5h-5zM1044 420h5v5h-5zM1052 416h5v5h-5zM1024 432h5v5h-5zM1056 416h5v5h-5zM1248 440h5v5h-5zM1260 444h5v5h-5zM1288 444h5v5h-5zM624 476h5v5h-5zM1012 448h5v5h-5zM1012 452h5v5h-5zM1008 456h5v5h-5zM1008 460h5v5h-5zM1004 468h5v5h-5zM1004 472h5v5h-5zM1004 476h5v5h-5zM1272 448h5v5h-5zM628 480h5v5h-5zM632 484h5v5h-5zM636 488h5v5h-5zM640 496h5v5h-5zM640 500h5v5h-5zM640 504h9v9h-9zM1000 484h5v5h-5zM1000 488h5v5h-5zM996 500h5v5h-5zM992 508h5v5h-5zM636 528h5v5h-5zM632 536h5v5h-5zM640 512h5v5h-5zM640 516h5v5h-5zM640 520h5v5h-5zM988 516h5v5h-5zM984 528h5v5h-5zM984 532h5v5h-5zM984 536h5v5h-5zM984 540h5v5h-5zM628 544h5v5h-5zM628 548h5v5h-5zM628 552h5v5h-5zM628 564h5v5h-5zM628 568h5v5h-5zM988 552h5v5h-5zM992 560h5v5h-5zM996 568h5v5h-5zM632 584h5v5h-5zM636 596h5v5h-5zM1000 576h5v5h-5zM1004 584h5v5h-5zM1008 592h5v5h-5zM1012 596h5v5h-5zM1012 600h5v5h-5zM1016 604h5v5h-5zM640 608h5v5h-5zM644 616h5v5h-5zM648 624h5v5h-5zM656 636h5v5h-5zM1020 608h5v5h-5zM1024 616h5v5h-5zM1028 620h5v5h-5zM1032 624h5v5h-5zM1036 628h5v5h-5zM1040 632h5v5h-5zM720 696h5v5h-5zM768 728h5v5h-5zM788 740h5v5h-5zM804 760h5v5h-5zM804 764h5v5h-5zM804 768h5v5h-5z"/><path fill="#26b5a9" d="M764 72h5v5h-5zM768 72h9v9h-9zM776 84h5v5h-5zM780 84h5v5h-5zM792 80h5v5h-5zM312 360h5v5h-5zM468 384h5v5h-5zM504 396h5v5h-5zM532 408h5v5h-5zM540 412h5v5h-5zM1072 412h5v5h-5zM1076 412h5v5h-5zM1088 408h5v5h-5zM1108 404h5v5h-5zM1112 404h5v5h-5zM1116 404h5v5h-5zM1132 404h5v5h-5zM1136 404h5v5h-5zM548 416h5v5h-5zM568 428h5v5h-5zM580 436h5v5h-5zM1020 440h5v5h-5zM1020 444h5v5h-5zM1036 428h5v5h-5zM1048 420h5v5h-5zM1040 424h5v5h-5zM1028 432h5v5h-5zM1024 436h5v5h-5zM1060 416h5v5h-5zM1188 420h5v5h-5zM1200 424h5v5h-5zM1236 436h5v5h-5zM1292 440h5v5h-5zM596 448h5v5h-5zM600 452h5v5h-5zM604 456h5v5h-5zM608 460h5v5h-5zM612 464h5v5h-5zM616 468h5v5h-5zM620 472h5v5h-5zM1016 448h5v5h-5zM1012 456h5v5h-5zM1008 464h5v5h-5zM1008 468h5v5h-5zM1288 448h5v5h-5zM632 488h5v5h-5zM636 492h5v5h-5zM636 496h5v5h-5zM1004 480h5v5h-5zM1004 484h5v5h-5zM1000 492h5v5h-5zM1000 496h5v5h-5zM996 504h5v5h-5zM636 520h5v5h-5zM636 524h5v5h-5zM632 532h5v5h-5zM628 540h5v5h-5zM988 520h5v5h-5zM988 524h5v5h-5zM992 512h5v5h-5zM624 552h5v5h-5zM624 556h5v5h-5zM624 560h5v5h-5zM628 572h5v5h-5zM988 544h5v5h-5zM988 548h5v5h-5zM992 552h5v5h-5zM992 556h5v5h-5zM996 560h5v5h-5zM996 564h5v5h-5zM1000 568h5v5h-5zM1000 572h5v5h-5zM628 576h5v5h-5zM632 588h5v5h-5zM636 600h5v5h-5zM1004 576h5v5h-5zM1004 580h5v5h-5zM1008 584h5v5h-5zM1008 588h5v5h-5zM1012 592h5v5h-5zM1016 596h5v5h-5zM1016 600h5v5h-5zM1020 604h5v5h-5zM1024 608h5v5h-5zM1024 612h5v5h-5zM1028 616h5v5h-5zM1032 620h5v5h-5zM1036 624h5v5h-5zM1040 628h5v5h-5zM704 684h5v5h-5zM736 708h5v5h-5zM780 736h5v5h-5zM792 744h5v5h-5zM796 748h5v5h-5zM800 752h5v5h-5zM800 756h5v5h-5zM800 760h5v5h-5z"/><path fill="#28b6a7" d="M768 64h9v9h-9zM792 72h9v9h-9zM776 80h5v5h-5zM784 80h9v9h-9zM396 376h5v5h-5zM444 380h5v5h-5zM480 388h5v5h-5zM492 392h5v5h-5zM512 400h5v5h-5zM520 404h5v5h-5zM528 408h5v5h-5zM536 412h5v5h-5zM1080 412h5v5h-5zM1092 408h5v5h-5zM1096 408h5v5h-5zM1120 404h5v5h-5zM1124 404h5v5h-5zM1128 404h5v5h-5zM1152 408h5v5h-5zM1164 412h5v5h-5zM544 416h5v5h-5zM552 420h5v5h-5zM560 424h5v5h-5zM572 432h5v5h-5zM584 440h5v5h-5zM588 444h5v5h-5zM1052 420h5v5h-5zM1044 424h5v5h-5zM1040 428h5v5h-5zM1048 424h5v5h-5zM1028 436h5v5h-5zM1032 432h5v5h-5zM1024 440h5v5h-5zM1056 420h5v5h-5zM1064 416h5v5h-5zM1068 416h5v5h-5zM1176 416h5v5h-5zM1212 428h5v5h-5zM1224 432h5v5h-5zM1256 444h5v5h-5zM1292 444h5v5h-5zM592 448h5v5h-5zM596 452h5v5h-5zM600 456h5v5h-5zM604 460h5v5h-5zM608 464h5v5h-5zM612 468h5v5h-5zM616 472h5v5h-5zM620 476h5v5h-5zM1020 448h5v5h-5zM1016 452h5v5h-5zM1012 460h5v5h-5zM1016 456h5v5h-5zM1012 464h5v5h-5zM1008 472h5v5h-5zM1008 476h5v5h-5zM1268 448h5v5h-5zM1284 452h5v5h-5zM1292 448h5v5h-5zM1288 452h5v5h-5zM624 480h5v5h-5zM628 484h5v5h-5zM632 492h5v5h-5zM636 500h5v5h-5zM1004 488h5v5h-5zM1000 500h5v5h-5zM996 508h5v5h-5zM636 512h5v5h-5zM636 516h5v5h-5zM632 524h5v5h-5zM632 528h5v5h-5zM628 536h5v5h-5zM988 528h5v5h-5zM988 532h5v5h-5zM988 536h5v5h-5zM988 540h5v5h-5zM992 516h5v5h-5zM624 544h5v5h-5zM624 548h5v5h-5zM624 564h5v5h-5zM624 568h5v5h-5zM992 548h5v5h-5zM996 556h5v5h-5zM1000 564h5v5h-5zM1004 572h5v5h-5zM628 580h5v5h-5zM632 592h5v5h-5zM636 604h5v5h-5zM1008 580h5v5h-5zM1012 588h5v5h-5zM1016 592h5v5h-5zM1020 600h5v5h-5zM1024 604h5v5h-5zM640 612h5v5h-5zM644 620h5v5h-5zM652 632h5v5h-5zM1028 612h5v5h-5zM1032 616h5v5h-5zM1036 620h5v5h-5zM1040 624h5v5h-5zM1044 628h5v5h-5zM672 656h5v5h-5zM748 716h5v5h-5zM760 724h5v5h-5zM800 764h5v5h-5zM800 768h5v5h-5z"/><path fill="#2bb6a6" d="M776 64h9v9h-9zM776 72h9v9h-9zM784 72h9v9h-9zM780 80h5v5h-5zM324 364h5v5h-5zM464 384h5v5h-5zM500 396h5v5h-5zM1084 412h5v5h-5zM1088 412h5v5h-5zM1100 408h5v5h-5zM1148 408h5v5h-5zM556 424h5v5h-5zM564 428h5v5h-5zM568 432h5v5h-5zM576 436h5v5h-5zM580 440h5v5h-5zM584 444h5v5h-5zM1044 428h5v5h-5zM1052 424h5v5h-5zM1036 432h5v5h-5zM1032 436h5v5h-5zM1028 440h5v5h-5zM1024 444h5v5h-5zM1060 420h5v5h-5zM1072 416h5v5h-5zM1244 440h5v5h-5zM1296 440h9v9h-9zM608 468h5v5h-5zM612 472h5v5h-5zM616 476h5v5h-5zM1020 452h5v5h-5zM1016 460h5v5h-5zM1012 468h5v5h-5zM1012 472h5v5h-5zM1280 452h5v5h-5zM1292 452h5v5h-5zM620 480h5v5h-5zM624 484h5v5h-5zM628 488h5v5h-5zM632 496h5v5h-5zM632 500h5v5h-5zM632 504h9v9h-9zM1004 492h5v5h-5zM1008 480h5v5h-5zM1008 484h5v5h-5zM1004 496h5v5h-5zM1000 504h5v5h-5zM632 512h5v5h-5zM632 516h5v5h-5zM632 520h5v5h-5zM628 528h5v5h-5zM628 532h5v5h-5zM624 536h5v5h-5zM624 540h5v5h-5zM996 512h5v5h-5zM992 520h5v5h-5zM992 524h5v5h-5zM620 552h5v5h-5zM624 572h5v5h-5zM992 544h5v5h-5zM996 552h5v5h-5zM1000 560h5v5h-5zM1004 564h5v5h-5zM1004 568h5v5h-5zM1008 572h5v5h-5zM628 584h5v5h-5zM632 596h5v5h-5zM1008 576h5v5h-5zM1012 580h5v5h-5zM1012 584h5v5h-5zM1016 588h5v5h-5zM1020 592h5v5h-5zM1020 596h5v5h-5zM1024 600h5v5h-5zM1028 604h5v5h-5zM648 628h5v5h-5zM1028 608h5v5h-5zM1032 612h5v5h-5zM1036 616h5v5h-5zM1040 620h5v5h-5zM1044 624h5v5h-5zM664 648h5v5h-5zM668 652h5v5h-5zM676 660h5v5h-5zM680 664h5v5h-5zM772 732h5v5h-5zM784 740h5v5h-5zM796 752h5v5h-5z"/><path fill="#2db7a4" d="M784 64h9v9h-9zM340 368h5v5h-5zM360 372h5v5h-5zM440 380h5v5h-5zM476 388h5v5h-5zM488 392h5v5h-5zM508 400h5v5h-5zM516 404h5v5h-5zM524 408h5v5h-5zM532 412h5v5h-5zM1092 412h5v5h-5zM1104 408h5v5h-5zM1108 408h5v5h-5zM1144 408h5v5h-5zM1160 412h5v5h-5zM540 416h5v5h-5zM548 420h5v5h-5zM560 428h5v5h-5zM572 436h5v5h-5zM1048 428h5v5h-5zM1036 436h5v5h-5zM1028 444h5v5h-5zM1032 440h5v5h-5zM1040 432h5v5h-5zM1064 420h5v5h-5zM1068 420h5v5h-5zM1056 424h5v5h-5zM1076 416h5v5h-5zM1080 416h5v5h-5zM1172 416h5v5h-5zM1184 420h5v5h-5zM1196 424h5v5h-5zM1208 428h5v5h-5zM1220 432h5v5h-5zM1232 436h5v5h-5zM588 448h5v5h-5zM592 452h5v5h-5zM596 456h5v5h-5zM600 460h5v5h-5zM604 464h5v5h-5zM1020 456h5v5h-5zM1016 464h5v5h-5zM1016 468h5v5h-5zM1012 476h5v5h-5zM1024 448h5v5h-5zM1024 452h5v5h-5zM1264 448h5v5h-5zM1296 448h9v9h-9zM624 488h5v5h-5zM628 492h5v5h-5zM628 496h5v5h-5zM1012 480h5v5h-5zM1008 488h5v5h-5zM1008 492h5v5h-5zM1004 500h5v5h-5zM1000 508h5v5h-5zM628 524h5v5h-5zM620 540h5v5h-5zM624 532h5v5h-5zM996 516h5v5h-5zM992 528h5v5h-5zM992 532h5v5h-5zM992 536h5v5h-5zM992 540h5v5h-5zM620 544h5v5h-5zM620 548h5v5h-5zM620 556h5v5h-5zM620 560h5v5h-5zM620 564h5v5h-5zM996 548h5v5h-5zM1000 556h5v5h-5zM1004 560h5v5h-5zM1008 568h5v5h-5zM624 576h5v5h-5zM628 588h5v5h-5zM632 600h5v5h-5zM1012 576h5v5h-5zM1016 584h5v5h-5zM1020 588h5v5h-5zM1024 596h5v5h-5zM1028 600h5v5h-5zM636 608h5v5h-5zM640 616h5v5h-5zM1032 608h5v5h-5zM1036 612h5v5h-5zM1040 616h5v5h-5zM1044 620h5v5h-5zM1048 624h5v5h-5zM660 644h5v5h-5zM684 668h5v5h-5zM724 700h5v5h-5zM776 736h5v5h-5zM788 744h5v5h-5zM792 748h5v5h-5zM796 756h5v5h-5zM796 760h5v5h-5z"/><path fill="#2fb7a3" d="M296 344h5v5h-5zM296 348h5v5h-5zM296 352h5v5h-5zM300 356h5v5h-5zM392 376h5v5h-5zM460 384h5v5h-5zM496 396h5v5h-5zM1096 412h5v5h-5zM1112 408h5v5h-5zM1116 408h5v5h-5zM1140 408h5v5h-5zM1156 412h5v5h-5zM544 420h5v5h-5zM552 424h5v5h-5zM564 432h5v5h-5zM576 440h5v5h-5zM580 444h5v5h-5zM1052 428h5v5h-5zM1036 440h5v5h-5zM1032 444h5v5h-5zM1044 432h5v5h-5zM1040 436h5v5h-5zM1060 424h5v5h-5zM1072 420h5v5h-5zM1084 416h5v5h-5zM1252 444h5v5h-5zM584 448h5v5h-5zM588 452h5v5h-5zM592 456h5v5h-5zM596 460h5v5h-5zM600 464h5v5h-5zM604 468h5v5h-5zM608 472h5v5h-5zM612 476h5v5h-5zM1020 460h5v5h-5zM1020 464h5v5h-5zM1016 472h5v5h-5zM1016 476h5v5h-5zM1028 448h5v5h-5zM1024 456h5v5h-5zM1276 452h5v5h-5zM1292 456h5v5h-5zM1304 448h9v9h-9zM1296 456h5v5h-5zM1300 456h5v5h-5zM616 480h5v5h-5zM620 484h5v5h-5zM624 492h5v5h-5zM628 500h5v5h-5zM628 504h5v5h-5zM628 508h5v5h-5zM1012 484h5v5h-5zM1004 504h5v5h-5zM1008 496h5v5h-5zM628 512h5v5h-5zM628 516h5v5h-5zM628 520h5v5h-5zM620 536h5v5h-5zM624 528h5v5h-5zM1000 512h5v5h-5zM996 520h5v5h-5zM996 524h5v5h-5zM996 540h5v5h-5zM620 568h5v5h-5zM996 544h5v5h-5zM1000 548h5v5h-5zM1000 552h5v5h-5zM1004 556h5v5h-5zM1008 560h5v5h-5zM1008 564h5v5h-5zM1012 568h5v5h-5zM1012 572h5v5h-5zM624 580h5v5h-5zM628 592h5v5h-5zM1016 576h5v5h-5zM1016 580h5v5h-5zM1020 584h5v5h-5zM1024 588h5v5h-5zM1024 592h5v5h-5zM1028 596h5v5h-5zM1032 600h5v5h-5zM1032 604h5v5h-5zM644 624h5v5h-5zM1036 608h5v5h-5zM1040 612h5v5h-5zM1044 616h5v5h-5zM656 640h5v5h-5zM688 672h5v5h-5zM708 688h5v5h-5zM752 720h5v5h-5zM764 728h5v5h-5zM792 752h5v5h-5zM796 764h5v5h-5zM796 768h5v5h-5z"/><path fill="#32b8a2" d="M436 380h5v5h-5zM472 388h5v5h-5zM484 392h5v5h-5zM504 400h5v5h-5zM512 404h5v5h-5zM520 408h5v5h-5zM528 412h5v5h-5zM1100 412h5v5h-5zM1120 408h5v5h-5zM1124 408h5v5h-5zM1128 408h5v5h-5zM1132 408h5v5h-5zM1136 408h5v5h-5zM536 416h5v5h-5zM548 424h5v5h-5zM556 428h5v5h-5zM568 436h5v5h-5zM572 440h5v5h-5zM1036 444h5v5h-5zM1044 436h5v5h-5zM1048 432h5v5h-5zM1040 440h5v5h-5zM1056 428h5v5h-5zM1064 424h5v5h-5zM1076 420h5v5h-5zM1088 416h5v5h-5zM1168 416h5v5h-5zM1180 420h5v5h-5zM1192 424h5v5h-5zM1240 440h5v5h-5zM600 468h5v5h-5zM604 472h5v5h-5zM608 476h5v5h-5zM1020 468h5v5h-5zM1028 452h5v5h-5zM1032 448h5v5h-5zM1024 460h5v5h-5zM1272 452h5v5h-5zM1288 456h5v5h-5zM1300 460h5v5h-5zM1304 456h9v9h-9zM1300 464h5v5h-5zM1300 468h5v5h-5zM1304 464h9v9h-9zM1304 472h9v9h-9zM1312 448h33v33h-33zM612 480h5v5h-5zM616 484h5v5h-5zM620 488h5v5h-5zM624 496h5v5h-5zM624 500h5v5h-5zM1016 480h5v5h-5zM1012 488h5v5h-5zM1012 492h5v5h-5zM1004 508h5v5h-5zM1008 500h5v5h-5zM624 520h5v5h-5zM624 524h5v5h-5zM620 532h5v5h-5zM616 540h5v5h-5zM1000 516h5v5h-5zM996 528h5v5h-5zM996 532h5v5h-5zM996 536h5v5h-5zM616 544h5v5h-5zM616 548h5v5h-5zM616 552h5v5h-5zM616 556h5v5h-5zM616 560h5v5h-5zM620 572h5v5h-5zM1000 544h5v5h-5zM1004 552h5v5h-5zM1008 556h5v5h-5zM1012 564h5v5h-5zM1016 572h5v5h-5zM624 584h5v5h-5zM632 604h5v5h-5zM1020 580h5v5h-5zM1024 584h5v5h-5zM1028 592h5v5h-5zM1032 596h5v5h-5zM1036 604h5v5h-5zM636 612h5v5h-5zM652 636h5v5h-5zM1040 608h5v5h-5zM1044 612h5v5h-5zM1048 620h5v5h-5zM740 712h5v5h-5zM780 740h5v5h-5zM784 744h5v5h-5zM788 748h5v5h-5zM792 756h5v5h-5zM792 760h5v5h-5zM792 764h5v5h-5zM792 768h5v5h-5z"/><path fill="#34b8a0" d="M308 360h5v5h-5zM456 384h5v5h-5zM492 396h5v5h-5zM1104 412h5v5h-5zM1108 412h5v5h-5zM1152 412h5v5h-5zM540 420h5v5h-5zM560 432h5v5h-5zM564 436h5v5h-5zM576 444h5v5h-5zM1052 432h5v5h-5zM1048 436h5v5h-5zM1060 428h5v5h-5zM1068 424h5v5h-5zM1080 420h5v5h-5zM1092 416h5v5h-5zM1164 416h5v5h-5zM1204 428h5v5h-5zM1216 432h5v5h-5zM1228 436h5v5h-5zM580 448h5v5h-5zM584 452h5v5h-5zM588 456h5v5h-5zM592 460h5v5h-5zM596 464h5v5h-5zM1020 472h5v5h-5zM1020 476h5v5h-5zM1032 452h5v5h-5zM1028 456h5v5h-5zM1024 464h5v5h-5zM1260 448h5v5h-5zM1284 456h5v5h-5zM1296 460h5v5h-5zM1300 472h5v5h-5zM612 484h5v5h-5zM616 488h5v5h-5zM620 492h5v5h-5zM620 496h5v5h-5zM624 504h5v5h-5zM624 508h5v5h-5zM1016 484h5v5h-5zM1012 496h5v5h-5zM1008 504h5v5h-5zM620 524h5v5h-5zM624 512h5v5h-5zM624 516h5v5h-5zM620 528h5v5h-5zM616 536h5v5h-5zM1004 512h5v5h-5zM1000 520h5v5h-5zM1000 524h5v5h-5zM1000 536h5v5h-5zM1000 540h5v5h-5zM616 564h5v5h-5zM1004 544h5v5h-5zM1004 548h5v5h-5zM1008 552h5v5h-5zM1012 560h5v5h-5zM1016 564h5v5h-5zM1016 568h5v5h-5zM1020 572h5v5h-5zM620 576h5v5h-5zM624 588h5v5h-5zM628 596h5v5h-5zM1020 576h5v5h-5zM1024 580h5v5h-5zM1028 584h5v5h-5zM1028 588h5v5h-5zM1032 592h5v5h-5zM1036 596h5v5h-5zM1036 600h5v5h-5zM1040 604h5v5h-5zM640 620h5v5h-5zM648 632h5v5h-5zM1044 608h5v5h-5zM1048 616h5v5h-5zM1052 620h5v5h-5zM692 676h5v5h-5zM728 704h5v5h-5zM768 732h5v5h-5zM788 752h5v5h-5z"/><path fill="#36b99f" d="M388 376h5v5h-5zM480 392h5v5h-5zM500 400h5v5h-5zM508 404h5v5h-5zM516 408h5v5h-5zM524 412h5v5h-5zM1112 412h5v5h-5zM1148 412h5v5h-5zM532 416h5v5h-5zM544 424h5v5h-5zM552 428h5v5h-5zM556 432h5v5h-5zM568 440h5v5h-5zM572 444h5v5h-5zM1052 436h5v5h-5zM1044 440h5v5h-5zM1040 444h5v5h-5zM1064 428h5v5h-5zM1084 420h5v5h-5zM1072 424h5v5h-5zM1056 432h5v5h-5zM1096 416h5v5h-5zM1176 420h5v5h-5zM1188 424h5v5h-5zM1248 444h5v5h-5zM588 460h5v5h-5zM592 464h5v5h-5zM596 468h5v5h-5zM600 472h5v5h-5zM604 476h5v5h-5zM1036 448h5v5h-5zM1028 460h5v5h-5zM1032 456h5v5h-5zM1028 464h5v5h-5zM1024 468h5v5h-5zM1024 472h5v5h-5zM1268 452h5v5h-5zM1280 456h5v5h-5zM1292 460h5v5h-5zM1296 464h5v5h-5zM1296 468h5v5h-5zM608 480h5v5h-5zM616 492h5v5h-5zM620 500h5v5h-5zM620 504h5v5h-5zM1020 480h5v5h-5zM1016 488h5v5h-5zM1016 492h5v5h-5zM1012 500h5v5h-5zM1008 508h5v5h-5zM620 516h5v5h-5zM620 520h5v5h-5zM616 532h5v5h-5zM612 540h5v5h-5zM1004 516h5v5h-5zM1004 520h5v5h-5zM1000 528h9v9h-9zM1004 540h5v5h-5zM612 544h5v5h-5zM612 548h5v5h-5zM612 552h5v5h-5zM612 556h5v5h-5zM616 568h5v5h-5zM1008 548h5v5h-5zM1012 556h5v5h-5zM1016 560h5v5h-5zM1020 568h5v5h-5zM620 580h5v5h-5zM628 600h5v5h-5zM1024 576h5v5h-5zM1028 580h5v5h-5zM1032 588h5v5h-5zM1036 592h5v5h-5zM1040 600h5v5h-5zM1044 604h5v5h-5zM632 608h5v5h-5zM1048 608h9v9h-9zM1052 616h5v5h-5zM1056 616h9v9h-9zM712 692h5v5h-5zM756 724h5v5h-5zM772 736h5v5h-5zM776 740h5v5h-5zM780 744h5v5h-5zM784 748h5v5h-5zM788 756h5v5h-5zM788 760h5v5h-5z"/><path fill="#39b99d" d="M432 380h5v5h-5zM452 384h5v5h-5zM468 388h5v5h-5zM488 396h5v5h-5zM1116 412h5v5h-5zM1120 412h5v5h-5zM1144 412h5v5h-5zM536 420h5v5h-5zM548 428h5v5h-5zM560 436h5v5h-5zM1044 444h5v5h-5zM1048 440h5v5h-5zM1068 428h5v5h-5zM1076 424h5v5h-5zM1060 432h5v5h-5zM1088 420h5v5h-5zM1100 416h5v5h-5zM1160 416h5v5h-5zM1200 428h5v5h-5zM1236 440h5v5h-5zM576 448h5v5h-5zM580 452h5v5h-5zM584 456h5v5h-5zM596 472h5v5h-5zM600 476h5v5h-5zM1036 452h5v5h-5zM1032 460h5v5h-5zM1040 448h5v5h-5zM1028 468h5v5h-5zM1024 476h5v5h-5zM1256 448h5v5h-5zM1288 460h5v5h-5zM1296 472h5v5h-5zM604 480h5v5h-5zM608 484h5v5h-5zM612 488h5v5h-5zM616 496h5v5h-5zM620 508h5v5h-5zM1020 484h5v5h-5zM1016 496h5v5h-5zM1012 504h5v5h-5zM620 512h5v5h-5zM616 524h5v5h-5zM616 528h5v5h-5zM612 536h5v5h-5zM1004 524h5v5h-5zM1008 512h5v5h-5zM1004 536h5v5h-5zM612 560h5v5h-5zM616 572h5v5h-5zM1008 544h5v5h-5zM1012 548h5v5h-5zM1012 552h5v5h-5zM1016 556h5v5h-5zM1020 560h5v5h-5zM1020 564h5v5h-5zM1024 568h5v5h-5zM1024 572h5v5h-5zM620 584h5v5h-5zM624 592h5v5h-5zM1028 576h5v5h-5zM1032 584h5v5h-5zM1036 588h5v5h-5zM1040 592h5v5h-5zM1040 596h5v5h-5zM1044 600h5v5h-5zM1048 604h5v5h-5zM636 616h5v5h-5zM644 628h5v5h-5zM1056 612h5v5h-5zM744 716h5v5h-5zM760 728h5v5h-5zM784 752h5v5h-5zM788 764h5v5h-5zM788 768h5v5h-5z"/><path fill="#3bb99c" d="M296 356h5v5h-5zM320 364h5v5h-5zM356 372h5v5h-5zM476 392h5v5h-5zM496 400h5v5h-5zM504 404h5v5h-5zM512 408h5v5h-5zM520 412h5v5h-5zM1124 412h5v5h-5zM1128 412h5v5h-5zM1132 412h5v5h-5zM1136 412h5v5h-5zM1140 412h5v5h-5zM528 416h5v5h-5zM540 424h5v5h-5zM552 432h5v5h-5zM564 440h5v5h-5zM568 444h5v5h-5zM1052 440h5v5h-5zM1072 428h5v5h-5zM1080 424h5v5h-5zM1056 436h5v5h-5zM1064 432h5v5h-5zM1092 420h5v5h-5zM1104 416h5v5h-5zM1108 416h5v5h-5zM1156 416h5v5h-5zM1172 420h5v5h-5zM1184 424h5v5h-5zM1212 432h5v5h-5zM1224 436h5v5h-5zM1244 444h5v5h-5zM572 448h5v5h-5zM576 452h5v5h-5zM580 456h5v5h-5zM584 460h5v5h-5zM588 464h5v5h-5zM592 468h5v5h-5zM1036 456h5v5h-5zM1040 452h5v5h-5zM1032 464h5v5h-5zM1028 472h5v5h-5zM1276 456h5v5h-5zM1292 464h5v5h-5zM1292 468h5v5h-5zM1292 472h5v5h-5zM608 488h5v5h-5zM612 492h5v5h-5zM616 500h5v5h-5zM616 504h5v5h-5zM616 508h5v5h-5zM1020 488h5v5h-5zM1020 492h5v5h-5zM1016 500h5v5h-5zM1012 508h5v5h-5zM1024 480h5v5h-5zM616 512h5v5h-5zM616 516h5v5h-5zM616 520h5v5h-5zM612 528h5v5h-5zM612 532h5v5h-5zM1008 516h5v5h-5zM1008 520h5v5h-5zM1008 536h5v5h-5zM1008 540h5v5h-5zM608 544h5v5h-5zM608 548h5v5h-5zM612 564h5v5h-5zM1012 544h5v5h-5zM1016 552h5v5h-5zM1020 556h5v5h-5zM1024 564h5v5h-5zM1028 572h5v5h-5zM616 576h5v5h-5zM624 596h5v5h-5zM628 604h5v5h-5zM1032 576h5v5h-5zM1032 580h5v5h-5zM1036 584h5v5h-5zM1040 588h5v5h-5zM1044 596h5v5h-5zM1048 600h5v5h-5zM1052 604h5v5h-5zM1056 608h5v5h-5zM1060 612h5v5h-5zM780 748h5v5h-5zM784 756h5v5h-5z"/><path fill="#3eba9a" d="M292 348h5v5h-5zM292 352h5v5h-5zM336 368h5v5h-5zM384 376h5v5h-5zM428 380h5v5h-5zM448 384h5v5h-5zM464 388h5v5h-5zM524 416h5v5h-5zM532 420h5v5h-5zM544 428h5v5h-5zM556 436h5v5h-5zM560 440h5v5h-5zM1048 444h5v5h-5zM1076 428h5v5h-5zM1084 424h5v5h-5zM1060 436h5v5h-5zM1068 432h5v5h-5zM1096 420h5v5h-5zM1112 416h5v5h-5zM1152 416h5v5h-5zM1168 420h5v5h-5zM1196 428h5v5h-5zM588 468h5v5h-5zM592 472h5v5h-5zM596 476h5v5h-5zM1036 460h5v5h-5zM1044 448h5v5h-5zM1040 456h5v5h-5zM1032 468h5v5h-5zM1028 476h5v5h-5zM1264 452h5v5h-5zM1284 460h5v5h-5zM600 480h5v5h-5zM604 484h5v5h-5zM608 492h5v5h-5zM612 496h5v5h-5zM612 500h5v5h-5zM1020 496h5v5h-5zM1016 504h5v5h-5zM1024 484h5v5h-5zM1024 488h5v5h-5zM612 524h5v5h-5zM608 536h5v5h-5zM608 540h5v5h-5zM1012 512h5v5h-5zM1012 516h5v5h-5zM1008 524h5v5h-5zM1008 528h9v9h-9zM1012 536h5v5h-5zM1012 540h5v5h-5zM608 552h5v5h-5zM608 556h5v5h-5zM612 568h5v5h-5zM1016 544h5v5h-5zM1016 548h5v5h-5zM1020 552h5v5h-5zM1024 556h5v5h-5zM1024 560h5v5h-5zM1028 564h5v5h-5zM1028 568h5v5h-5zM1032 572h5v5h-5zM616 580h5v5h-5zM620 588h5v5h-5zM1036 580h5v5h-5zM1040 584h5v5h-5zM1044 592h5v5h-5zM1048 596h5v5h-5zM1052 600h5v5h-5zM1056 604h5v5h-5zM632 612h5v5h-5zM640 624h5v5h-5zM1060 608h5v5h-5zM1064 612h5v5h-5zM656 644h5v5h-5zM660 648h5v5h-5zM664 652h5v5h-5zM668 656h5v5h-5zM696 680h5v5h-5zM732 708h5v5h-5zM748 720h5v5h-5zM764 732h5v5h-5zM768 736h5v5h-5zM772 740h5v5h-5zM776 744h5v5h-5zM780 752h5v5h-5zM784 760h5v5h-5zM784 764h5v5h-5z"/><path fill="#40ba99" d="M292 344h5v5h-5zM484 396h5v5h-5zM492 400h5v5h-5zM500 404h5v5h-5zM508 408h5v5h-5zM516 412h5v5h-5zM536 424h5v5h-5zM548 432h5v5h-5zM564 444h5v5h-5zM1052 444h5v5h-5zM1080 428h5v5h-5zM1064 436h5v5h-5zM1056 440h5v5h-5zM1100 420h5v5h-5zM1088 424h5v5h-5zM1104 420h5v5h-5zM1116 416h5v5h-5zM1120 416h5v5h-5zM1148 416h5v5h-5zM1180 424h5v5h-5zM1208 432h5v5h-5zM1220 436h5v5h-5zM1232 440h5v5h-5zM568 448h5v5h-5zM572 452h5v5h-5zM576 456h5v5h-5zM580 460h5v5h-5zM584 464h5v5h-5zM1044 452h5v5h-5zM1048 448h5v5h-5zM1036 464h5v5h-5zM1032 472h5v5h-5zM1252 448h5v5h-5zM1272 456h5v5h-5zM1288 464h5v5h-5zM1288 468h5v5h-5zM596 480h5v5h-5zM600 484h5v5h-5zM604 488h5v5h-5zM608 496h5v5h-5zM612 504h5v5h-5zM612 508h5v5h-5zM1020 500h5v5h-5zM1016 508h5v5h-5zM1028 480h5v5h-5zM1024 492h5v5h-5zM612 512h5v5h-5zM612 516h5v5h-5zM612 520h5v5h-5zM608 528h5v5h-5zM608 532h5v5h-5zM1016 512h5v5h-5zM1012 520h5v5h-5zM1012 524h5v5h-5zM1016 540h5v5h-5zM608 560h5v5h-5zM612 572h5v5h-5zM1020 548h5v5h-5zM1024 552h5v5h-5zM1028 560h5v5h-5zM1032 568h5v5h-5zM1036 572h5v5h-5zM620 592h5v5h-5zM624 600h5v5h-5zM1036 576h5v5h-5zM1040 580h5v5h-5zM1044 584h5v5h-5zM1044 588h5v5h-5zM1048 592h5v5h-5zM1052 596h5v5h-5zM1056 600h5v5h-5zM1060 604h5v5h-5zM636 620h5v5h-5zM1064 608h5v5h-5zM652 640h5v5h-5zM672 660h5v5h-5zM716 696h5v5h-5zM776 748h5v5h-5zM780 756h5v5h-5zM780 760h5v5h-5zM780 764h5v5h-5zM784 768h5v5h-5zM784 772h5v5h-5z"/><path fill="#43bb97" d="M288 344h5v5h-5zM288 348h5v5h-5zM424 380h5v5h-5zM460 388h5v5h-5zM472 392h5v5h-5zM520 416h5v5h-5zM528 420h5v5h-5zM540 428h5v5h-5zM552 436h5v5h-5zM556 440h5v5h-5zM1084 428h5v5h-5zM1060 440h5v5h-5zM1072 432h5v5h-5zM1092 424h5v5h-5zM1108 420h5v5h-5zM1124 416h5v5h-5zM1128 416h5v5h-5zM1132 416h5v5h-5zM1136 416h5v5h-5zM1140 416h5v5h-5zM1144 416h5v5h-5zM1164 420h5v5h-5zM1192 428h5v5h-5zM1240 444h5v5h-5zM580 464h5v5h-5zM584 468h5v5h-5zM588 472h5v5h-5zM592 476h5v5h-5zM1044 456h5v5h-5zM1040 460h5v5h-5zM1036 468h5v5h-5zM1032 476h5v5h-5zM1260 452h5v5h-5zM1280 460h5v5h-5zM1288 472h5v5h-5zM604 492h5v5h-5zM608 500h5v5h-5zM1020 504h5v5h-5zM1028 484h5v5h-5zM1028 488h5v5h-5zM1024 496h5v5h-5zM604 536h5v5h-5zM604 540h5v5h-5zM608 524h5v5h-5zM1016 516h5v5h-5zM1016 536h5v5h-5zM1020 540h5v5h-5zM604 544h5v5h-5zM604 548h5v5h-5zM604 552h5v5h-5zM608 564h5v5h-5zM1020 544h5v5h-5zM1024 548h5v5h-5zM1028 556h5v5h-5zM1032 560h5v5h-5zM1032 564h5v5h-5zM1036 568h5v5h-5zM612 576h5v5h-5zM616 584h5v5h-5zM1040 576h5v5h-5zM1044 580h5v5h-5zM1048 588h5v5h-5zM1052 592h5v5h-5zM1056 596h5v5h-5zM1060 600h5v5h-5zM1064 604h5v5h-5zM628 608h5v5h-5zM648 636h5v5h-5zM1068 608h5v5h-5zM676 664h5v5h-5zM752 724h5v5h-5zM776 752h5v5h-5zM780 768h5v5h-5zM780 772h5v5h-5z"/><path fill="#46bb96" d="M288 352h5v5h-5zM304 360h5v5h-5zM380 376h5v5h-5zM444 384h5v5h-5zM480 396h5v5h-5zM488 400h5v5h-5zM504 408h5v5h-5zM512 412h5v5h-5zM532 424h5v5h-5zM544 432h5v5h-5zM548 436h5v5h-5zM560 444h5v5h-5zM1068 436h5v5h-5zM1056 444h5v5h-5zM1064 440h5v5h-5zM1076 432h5v5h-5zM1088 428h5v5h-5zM1096 424h5v5h-5zM1100 424h5v5h-5zM1112 420h5v5h-5zM1160 420h5v5h-5zM1176 424h5v5h-5zM1204 432h5v5h-5zM1228 440h5v5h-5zM564 448h5v5h-5zM568 452h5v5h-5zM572 456h5v5h-5zM576 460h5v5h-5zM588 476h5v5h-5zM1052 448h5v5h-5zM1048 452h5v5h-5zM1044 460h5v5h-5zM1036 472h5v5h-5zM1040 464h5v5h-5zM1248 448h5v5h-5zM1268 456h5v5h-5zM1284 464h5v5h-5zM1288 476h5v5h-5zM592 480h5v5h-5zM596 484h5v5h-5zM600 488h5v5h-5zM604 496h5v5h-5zM608 504h5v5h-5zM608 508h5v5h-5zM1020 508h5v5h-5zM1032 480h5v5h-5zM1028 492h5v5h-5zM1024 500h5v5h-5zM604 528h5v5h-5zM604 532h5v5h-5zM608 512h5v5h-5zM608 516h5v5h-5zM608 520h5v5h-5zM1020 512h5v5h-5zM1016 520h9v9h-9zM1016 528h9v9h-9zM1020 536h5v5h-5zM604 556h5v5h-5zM604 560h5v5h-5zM608 568h5v5h-5zM1024 544h5v5h-5zM1028 548h5v5h-5zM1028 552h5v5h-5zM1032 556h5v5h-5zM1036 564h5v5h-5zM1040 572h5v5h-5zM616 588h5v5h-5zM620 596h5v5h-5zM1044 576h5v5h-5zM1048 580h5v5h-5zM1048 584h5v5h-5zM1052 588h5v5h-5zM1056 592h5v5h-5zM1060 596h5v5h-5zM1064 600h5v5h-5zM632 616h5v5h-5zM644 632h5v5h-5zM700 684h5v5h-5zM736 712h5v5h-5zM756 728h5v5h-5zM768 740h5v5h-5zM772 744h5v5h-5zM776 756h5v5h-5z"/><path fill="#49bb94" d="M420 380h5v5h-5zM456 388h5v5h-5zM468 392h5v5h-5zM496 404h5v5h-5zM516 416h5v5h-5zM524 420h5v5h-5zM536 428h5v5h-5zM552 440h5v5h-5zM556 444h5v5h-5zM1060 444h5v5h-5zM1072 436h5v5h-5zM1080 432h5v5h-5zM1116 420h5v5h-5zM1104 424h5v5h-5zM1120 420h5v5h-5zM1152 420h5v5h-5zM1156 420h5v5h-5zM1172 424h5v5h-5zM1188 428h5v5h-5zM1216 436h5v5h-5zM576 464h5v5h-5zM580 468h5v5h-5zM584 472h5v5h-5zM1052 452h5v5h-5zM1048 456h5v5h-5zM1036 476h5v5h-5zM1040 468h5v5h-5zM1056 448h5v5h-5zM1256 452h5v5h-5zM1276 460h5v5h-5zM1284 468h5v5h-5zM596 488h5v5h-5zM600 492h5v5h-5zM604 500h5v5h-5zM1032 484h5v5h-5zM1032 488h5v5h-5zM1028 496h5v5h-5zM1024 504h5v5h-5zM1024 508h5v5h-5zM604 524h5v5h-5zM600 536h5v5h-5zM600 540h5v5h-5zM1020 516h5v5h-5zM1024 536h5v5h-5zM1024 540h5v5h-5zM600 544h5v5h-5zM600 548h5v5h-5zM608 572h5v5h-5zM1028 544h5v5h-5zM1032 552h5v5h-5zM1036 556h5v5h-5zM1036 560h5v5h-5zM1040 564h5v5h-5zM1040 568h5v5h-5zM1044 572h5v5h-5zM612 580h5v5h-5zM624 604h5v5h-5zM1048 576h5v5h-5zM1052 584h5v5h-5zM1056 588h5v5h-5zM1060 592h5v5h-5zM1068 604h5v5h-5zM640 628h5v5h-5zM680 668h5v5h-5zM720 700h5v5h-5zM760 732h5v5h-5zM764 736h5v5h-5zM772 748h5v5h-5zM776 760h5v5h-5zM776 764h5v5h-5z"/><path fill="#4bbc93" d="M292 356h5v5h-5zM316 364h5v5h-5zM332 368h5v5h-5zM352 372h5v5h-5zM440 384h5v5h-5zM476 396h5v5h-5zM508 412h5v5h-5zM528 424h5v5h-5zM540 432h5v5h-5zM544 436h5v5h-5zM1068 440h5v5h-5zM1076 436h5v5h-5zM1084 432h5v5h-5zM1092 428h5v5h-5zM1108 424h5v5h-5zM1124 420h5v5h-5zM1128 420h5v5h-5zM1132 420h5v5h-5zM1136 420h5v5h-5zM1140 420h5v5h-5zM1144 420h5v5h-5zM1148 420h5v5h-5zM1236 444h5v5h-5zM560 448h5v5h-5zM564 452h5v5h-5zM568 456h5v5h-5zM572 460h5v5h-5zM584 476h5v5h-5zM1048 460h5v5h-5zM1044 464h5v5h-5zM1040 472h5v5h-5zM1264 456h5v5h-5zM1280 464h5v5h-5zM588 480h5v5h-5zM592 484h5v5h-5zM600 496h5v5h-5zM604 504h5v5h-5zM604 508h5v5h-5zM1036 480h5v5h-5zM1036 484h5v5h-5zM1032 492h5v5h-5zM1028 500h5v5h-5zM1028 504h5v5h-5zM604 512h5v5h-5zM604 516h5v5h-5zM604 520h5v5h-5zM600 528h5v5h-5zM600 532h5v5h-5zM1024 512h5v5h-5zM1024 516h5v5h-5zM1024 528h5v5h-5zM1024 532h5v5h-5zM1028 540h5v5h-5zM600 552h5v5h-5zM604 564h5v5h-5zM1032 548h5v5h-5zM1036 552h5v5h-5zM1040 560h5v5h-5zM1044 568h5v5h-5zM1048 572h5v5h-5zM612 584h5v5h-5zM616 592h5v5h-5zM1052 580h5v5h-5zM1056 584h5v5h-5zM1060 588h5v5h-5zM1064 592h5v5h-5zM1064 596h5v5h-5zM1068 600h5v5h-5zM628 612h5v5h-5zM740 716h5v5h-5zM768 744h5v5h-5zM772 752h5v5h-5zM772 756h5v5h-5zM776 768h5v5h-5zM776 772h5v5h-5z"/><path fill="#4ebc91" d="M284 344h5v5h-5zM284 348h5v5h-5zM376 376h5v5h-5zM452 388h5v5h-5zM464 392h5v5h-5zM484 400h5v5h-5zM492 404h5v5h-5zM500 408h5v5h-5zM520 420h5v5h-5zM532 428h5v5h-5zM536 432h5v5h-5zM548 440h5v5h-5zM552 444h5v5h-5zM1064 444h5v5h-5zM1096 428h5v5h-5zM1112 424h5v5h-5zM1088 432h5v5h-5zM1168 424h5v5h-5zM1184 428h5v5h-5zM1200 432h5v5h-5zM1212 436h5v5h-5zM1224 440h5v5h-5zM572 464h5v5h-5zM576 468h5v5h-5zM580 472h5v5h-5zM1052 456h5v5h-5zM1044 468h5v5h-5zM1048 464h5v5h-5zM1040 476h5v5h-5zM1060 448h5v5h-5zM1056 452h5v5h-5zM1244 448h5v5h-5zM1272 460h5v5h-5zM1280 468h5v5h-5zM1280 472h9v9h-9zM592 488h5v5h-5zM596 492h5v5h-5zM600 500h5v5h-5zM1036 488h5v5h-5zM1040 480h5v5h-5zM1032 496h5v5h-5zM1028 508h5v5h-5zM600 524h5v5h-5zM1028 512h5v5h-5zM1024 520h9v9h-9zM1028 532h5v5h-5zM1028 536h5v5h-5zM1032 540h5v5h-5zM600 556h5v5h-5zM604 568h5v5h-5zM1032 544h5v5h-5zM1036 548h5v5h-5zM1040 556h5v5h-5zM1044 560h5v5h-5zM1044 564h5v5h-5zM1048 568h5v5h-5zM608 576h5v5h-5zM620 600h5v5h-5zM1052 576h5v5h-5zM1056 580h5v5h-5zM1060 584h5v5h-5zM1064 588h5v5h-5zM1068 592h5v5h-5zM1068 596h5v5h-5zM1072 596h5v5h-5zM1072 600h9v9h-9zM636 624h5v5h-5zM764 740h5v5h-5zM768 748h5v5h-5zM772 760h5v5h-5zM772 764h5v5h-5z"/><path fill="#51bd90" d="M284 352h5v5h-5zM416 380h5v5h-5zM436 384h5v5h-5zM472 396h5v5h-5zM504 412h5v5h-5zM512 416h5v5h-5zM524 424h5v5h-5zM540 436h5v5h-5zM1068 444h5v5h-5zM1080 436h5v5h-5zM1072 440h5v5h-5zM1100 428h5v5h-5zM1116 424h5v5h-5zM1120 424h5v5h-5zM1160 424h5v5h-5zM1164 424h5v5h-5zM1180 428h5v5h-5zM1196 432h5v5h-5zM556 448h5v5h-5zM560 452h5v5h-5zM564 456h5v5h-5zM568 460h5v5h-5zM576 472h5v5h-5zM580 476h5v5h-5zM1052 460h5v5h-5zM1044 472h5v5h-5zM1044 476h5v5h-5zM1252 452h5v5h-5zM1260 456h5v5h-5zM1276 464h5v5h-5zM584 480h5v5h-5zM588 484h5v5h-5zM592 492h5v5h-5zM596 496h5v5h-5zM600 504h5v5h-5zM600 508h5v5h-5zM1036 492h5v5h-5zM1040 484h5v5h-5zM1032 500h5v5h-5zM1032 504h5v5h-5zM600 512h5v5h-5zM600 516h5v5h-5zM600 520h5v5h-5zM596 528h5v5h-5zM596 532h5v5h-5zM596 536h5v5h-5zM596 540h5v5h-5zM1028 516h5v5h-5zM1028 528h5v5h-5zM1032 532h5v5h-5zM1032 536h5v5h-5zM1036 540h5v5h-5zM596 544h5v5h-5zM596 548h5v5h-5zM600 560h5v5h-5zM1036 544h5v5h-5zM1040 548h5v5h-5zM1040 552h5v5h-5zM1044 556h5v5h-5zM1048 564h5v5h-5zM1052 568h5v5h-5zM1052 572h5v5h-5zM608 580h5v5h-5zM612 588h5v5h-5zM1056 576h5v5h-5zM1060 580h5v5h-5zM1064 584h5v5h-5zM1068 588h5v5h-5zM1072 592h5v5h-5zM1076 596h5v5h-5zM624 608h5v5h-5zM684 672h5v5h-5zM704 688h5v5h-5zM724 704h5v5h-5zM744 720h5v5h-5zM760 736h5v5h-5zM768 752h5v5h-5zM772 768h5v5h-5zM772 772h5v5h-5z"/><path fill="#54bd8e" d="M300 360h5v5h-5zM460 392h5v5h-5zM480 400h5v5h-5zM488 404h5v5h-5zM496 408h5v5h-5zM516 420h5v5h-5zM528 428h5v5h-5zM532 432h5v5h-5zM544 440h5v5h-5zM548 444h5v5h-5zM1084 436h5v5h-5zM1076 440h5v5h-5zM1104 428h5v5h-5zM1108 428h5v5h-5zM1092 432h5v5h-5zM1124 424h5v5h-5zM1128 424h5v5h-5zM1132 424h5v5h-5zM1152 424h5v5h-5zM1156 424h5v5h-5zM1208 436h5v5h-5zM1232 444h5v5h-5zM568 464h5v5h-5zM572 468h5v5h-5zM1052 464h5v5h-5zM1048 468h5v5h-5zM1048 472h5v5h-5zM1060 452h5v5h-5zM1064 448h5v5h-5zM1056 456h5v5h-5zM1268 460h5v5h-5zM1276 468h5v5h-5zM584 484h5v5h-5zM588 488h5v5h-5zM596 500h5v5h-5zM1044 480h5v5h-5zM1040 488h5v5h-5zM1036 496h5v5h-5zM1036 500h5v5h-5zM1032 508h5v5h-5zM596 524h5v5h-5zM1032 528h5v5h-5zM1036 536h5v5h-5zM596 552h5v5h-5zM596 556h5v5h-5zM600 564h5v5h-5zM604 572h5v5h-5zM1040 544h5v5h-5zM1044 552h5v5h-5zM1048 556h5v5h-5zM1048 560h5v5h-5zM1052 564h5v5h-5zM1056 572h5v5h-5zM616 596h5v5h-5zM1060 576h5v5h-5zM1064 580h5v5h-5zM1068 584h5v5h-5zM1072 588h5v5h-5zM1076 592h5v5h-5zM1080 596h5v5h-5zM632 620h5v5h-5zM748 724h5v5h-5zM752 728h5v5h-5zM756 732h5v5h-5zM764 744h5v5h-5zM768 756h5v5h-5zM768 760h5v5h-5zM768 764h5v5h-5z"/><path fill="#57bd8d" d="M348 372h5v5h-5zM372 376h5v5h-5zM412 380h5v5h-5zM432 384h5v5h-5zM448 388h5v5h-5zM500 412h5v5h-5zM508 416h5v5h-5zM520 424h5v5h-5zM536 436h5v5h-5zM1072 444h5v5h-5zM1112 428h5v5h-5zM1096 432h5v5h-5zM1136 424h5v5h-5zM1140 424h5v5h-5zM1144 424h5v5h-5zM1148 424h5v5h-5zM1176 428h5v5h-5zM1192 432h5v5h-5zM1220 440h5v5h-5zM552 448h5v5h-5zM556 452h5v5h-5zM560 456h5v5h-5zM564 460h5v5h-5zM572 472h5v5h-5zM576 476h5v5h-5zM1052 468h5v5h-5zM1048 476h5v5h-5zM1060 456h5v5h-5zM1056 460h5v5h-5zM1240 448h5v5h-5zM1248 452h5v5h-5zM1256 456h5v5h-5zM1264 460h5v5h-5zM1276 472h5v5h-5zM580 480h5v5h-5zM588 492h5v5h-5zM592 496h5v5h-5zM596 504h5v5h-5zM596 508h5v5h-5zM1044 484h5v5h-5zM1040 492h5v5h-5zM1036 504h5v5h-5zM1036 508h5v5h-5zM1040 496h5v5h-5zM596 512h5v5h-5zM596 516h5v5h-5zM596 520h5v5h-5zM592 532h5v5h-5zM592 536h5v5h-5zM592 540h5v5h-5zM1032 512h9v9h-9zM1032 520h9v9h-9zM1036 528h5v5h-5zM1036 532h5v5h-5zM1040 536h5v5h-5zM1040 540h5v5h-5zM592 544h5v5h-5zM1044 544h5v5h-5zM1044 548h5v5h-5zM1048 552h5v5h-5zM1052 560h5v5h-5zM1056 564h5v5h-5zM1056 568h5v5h-5zM1060 572h5v5h-5zM604 576h5v5h-5zM608 584h5v5h-5zM620 604h5v5h-5zM1064 576h5v5h-5zM1068 580h5v5h-5zM1072 584h5v5h-5zM1076 588h5v5h-5zM1080 592h5v5h-5zM728 708h5v5h-5zM764 748h5v5h-5zM768 768h5v5h-5z"/><path fill="#5abd8b" d="M288 356h5v5h-5zM312 364h5v5h-5zM328 368h5v5h-5zM468 396h5v5h-5zM476 400h5v5h-5zM484 404h5v5h-5zM492 408h5v5h-5zM512 420h5v5h-5zM524 428h5v5h-5zM528 432h5v5h-5zM540 440h5v5h-5zM544 444h5v5h-5zM1080 440h5v5h-5zM1116 428h5v5h-5zM1088 436h5v5h-5zM1100 432h5v5h-5zM1172 428h5v5h-5zM1228 444h5v5h-5zM564 464h5v5h-5zM568 468h5v5h-5zM1052 472h5v5h-5zM1068 448h5v5h-5zM1064 452h5v5h-5zM1056 464h5v5h-5zM1272 464h5v5h-5zM1276 476h5v5h-5zM580 484h5v5h-5zM584 488h5v5h-5zM588 496h5v5h-5zM592 500h5v5h-5zM592 504h5v5h-5zM1048 480h5v5h-5zM1044 488h5v5h-5zM1040 500h5v5h-5zM592 524h5v5h-5zM592 528h5v5h-5zM1040 528h5v5h-5zM1040 532h5v5h-5zM1044 540h5v5h-5zM592 548h5v5h-5zM596 560h5v5h-5zM600 568h5v5h-5zM1048 548h5v5h-5zM1052 556h5v5h-5zM1056 560h5v5h-5zM1060 568h5v5h-5zM1064 572h5v5h-5zM612 592h5v5h-5zM616 600h5v5h-5zM1068 576h5v5h-5zM1072 580h5v5h-5zM1076 584h5v5h-5zM1080 588h5v5h-5zM1084 592h5v5h-5zM628 616h5v5h-5zM644 636h5v5h-5zM648 640h5v5h-5zM652 644h5v5h-5zM688 676h5v5h-5zM708 692h5v5h-5zM760 740h5v5h-5zM764 752h5v5h-5zM764 756h5v5h-5zM764 760h5v5h-5zM768 772h5v5h-5z"/><path fill="#5dbe8a" d="M408 380h5v5h-5zM444 388h5v5h-5zM456 392h5v5h-5zM504 416h5v5h-5zM516 424h5v5h-5zM532 436h5v5h-5zM1076 444h5v5h-5zM1084 440h5v5h-5zM1092 436h5v5h-5zM1104 432h5v5h-5zM1120 428h5v5h-5zM1124 428h5v5h-5zM1168 428h5v5h-5zM1188 432h5v5h-5zM1204 436h5v5h-5zM1216 440h5v5h-5zM548 448h5v5h-5zM552 452h5v5h-5zM556 456h5v5h-5zM560 460h5v5h-5zM572 476h5v5h-5zM1052 476h5v5h-5zM1068 452h5v5h-5zM1060 460h5v5h-5zM1064 456h5v5h-5zM1072 448h5v5h-5zM1056 468h5v5h-5zM1236 448h5v5h-5zM1244 452h5v5h-5zM1252 456h5v5h-5zM1260 460h5v5h-5zM1268 464h5v5h-5zM1272 468h5v5h-5zM576 480h5v5h-5zM584 492h5v5h-5zM588 500h5v5h-5zM592 508h5v5h-5zM1048 484h5v5h-5zM1044 492h5v5h-5zM1044 496h5v5h-5zM1040 504h5v5h-5zM1040 508h5v5h-5zM592 512h5v5h-5zM592 516h5v5h-5zM592 520h5v5h-5zM588 532h5v5h-5zM588 536h5v5h-5zM588 540h5v5h-5zM1044 532h5v5h-5zM1044 536h5v5h-5zM1048 540h5v5h-5zM592 552h5v5h-5zM596 564h5v5h-5zM1048 544h5v5h-5zM1052 548h5v5h-5zM1052 552h5v5h-5zM1056 556h5v5h-5zM1060 564h5v5h-5zM1064 568h5v5h-5zM1068 572h5v5h-5zM1072 576h5v5h-5zM1076 580h5v5h-5zM1080 584h5v5h-5zM1084 588h5v5h-5zM624 612h5v5h-5zM640 632h5v5h-5zM656 648h5v5h-5zM732 712h5v5h-5zM756 736h5v5h-5zM760 744h5v5h-5zM764 764h5v5h-5zM764 768h5v5h-5zM764 772h5v5h-5zM764 776h5v5h-5z"/><path fill="#60be88" d="M280 344h5v5h-5zM280 348h5v5h-5zM280 352h5v5h-5zM368 376h5v5h-5zM428 384h5v5h-5zM464 396h5v5h-5zM472 400h5v5h-5zM480 404h5v5h-5zM488 408h5v5h-5zM496 412h5v5h-5zM508 420h5v5h-5zM520 428h5v5h-5zM524 432h5v5h-5zM536 440h5v5h-5zM540 444h5v5h-5zM1080 444h5v5h-5zM1096 436h5v5h-5zM1108 432h5v5h-5zM1128 428h5v5h-5zM1132 428h5v5h-5zM1136 428h5v5h-5zM1160 428h5v5h-5zM1164 428h5v5h-5zM1184 432h5v5h-5zM1200 436h5v5h-5zM560 464h5v5h-5zM564 468h5v5h-5zM568 472h5v5h-5zM1060 464h5v5h-5zM1056 472h5v5h-5zM1272 472h5v5h-5zM1272 476h5v5h-5zM576 484h5v5h-5zM580 488h5v5h-5zM584 496h5v5h-5zM588 504h5v5h-5zM1052 480h5v5h-5zM1048 488h5v5h-5zM1044 500h5v5h-5zM1044 504h5v5h-5zM1044 508h5v5h-5zM1272 480h5v5h-5zM588 524h5v5h-5zM588 528h5v5h-5zM1040 512h9v9h-9zM1040 520h9v9h-9zM1044 528h5v5h-5zM1048 536h5v5h-5zM588 544h5v5h-5zM588 548h5v5h-5zM592 556h5v5h-5zM600 572h5v5h-5zM1052 544h5v5h-5zM1056 552h5v5h-5zM1060 556h5v5h-5zM1060 560h5v5h-5zM1064 564h5v5h-5zM1068 568h5v5h-5zM1072 572h5v5h-5zM604 580h5v5h-5zM608 588h5v5h-5zM612 596h5v5h-5zM1076 576h5v5h-5zM1080 580h5v5h-5zM1084 584h5v5h-5zM1088 588h5v5h-5zM636 628h5v5h-5zM660 652h5v5h-5zM664 656h5v5h-5zM736 716h5v5h-5zM748 728h5v5h-5zM752 732h5v5h-5zM760 748h5v5h-5zM760 752h5v5h-5zM760 756h5v5h-5zM760 760h5v5h-5z"/><path fill="#63be87" d="M296 360h5v5h-5zM324 368h5v5h-5zM344 372h5v5h-5zM404 380h5v5h-5zM440 388h5v5h-5zM452 392h5v5h-5zM500 416h5v5h-5zM512 424h5v5h-5zM528 436h5v5h-5zM1088 440h5v5h-5zM1112 432h5v5h-5zM1140 428h5v5h-5zM1144 428h5v5h-5zM1148 428h5v5h-5zM1152 428h5v5h-5zM1156 428h5v5h-5zM1180 432h5v5h-5zM1212 440h5v5h-5zM1224 444h5v5h-5zM544 448h5v5h-5zM548 452h5v5h-5zM552 456h5v5h-5zM556 460h5v5h-5zM568 476h5v5h-5zM1068 456h5v5h-5zM1064 460h5v5h-5zM1076 448h5v5h-5zM1072 452h5v5h-5zM1060 468h5v5h-5zM1056 476h5v5h-5zM1256 460h5v5h-5zM1264 464h5v5h-5zM1268 468h5v5h-5zM1268 472h5v5h-5zM572 480h5v5h-5zM580 492h5v5h-5zM584 500h5v5h-5zM588 508h5v5h-5zM1052 484h5v5h-5zM1048 492h5v5h-5zM1048 496h5v5h-5zM1048 500h5v5h-5zM588 512h5v5h-5zM588 516h5v5h-5zM588 520h5v5h-5zM1048 528h5v5h-5zM1048 532h5v5h-5zM1052 536h5v5h-5zM1052 540h5v5h-5zM588 552h5v5h-5zM592 560h5v5h-5zM596 568h5v5h-5zM1056 544h5v5h-5zM1056 548h5v5h-5zM1060 552h5v5h-5zM1064 560h5v5h-5zM1068 564h5v5h-5zM1072 568h5v5h-5zM1080 576h5v5h-5zM1084 580h5v5h-5zM1088 584h5v5h-5zM620 608h5v5h-5zM712 696h5v5h-5zM740 720h5v5h-5zM744 724h5v5h-5zM756 740h5v5h-5zM760 764h5v5h-5zM760 768h5v5h-5zM760 772h5v5h-5zM760 776h5v5h-5z"/><path fill="#66be85" d="M308 364h5v5h-5zM364 376h5v5h-5zM400 380h5v5h-5zM424 384h5v5h-5zM460 396h5v5h-5zM484 408h5v5h-5zM492 412h5v5h-5zM504 420h5v5h-5zM516 428h5v5h-5zM520 432h5v5h-5zM532 440h5v5h-5zM536 444h5v5h-5zM1084 444h5v5h-5zM1100 436h5v5h-5zM1092 440h5v5h-5zM1116 432h5v5h-5zM1120 432h5v5h-5zM1196 436h5v5h-5zM560 468h5v5h-5zM564 472h5v5h-5zM1064 464h5v5h-5zM1060 472h5v5h-5zM1232 448h5v5h-5zM1240 452h5v5h-5zM1248 456h5v5h-5zM1268 476h5v5h-5zM572 484h5v5h-5zM576 488h5v5h-5zM580 496h5v5h-5zM584 504h5v5h-5zM1052 488h5v5h-5zM1052 492h5v5h-5zM1048 504h5v5h-5zM1048 508h5v5h-5zM1056 480h5v5h-5zM1268 480h5v5h-5zM584 520h5v5h-5zM584 524h5v5h-5zM584 528h5v5h-5zM584 532h5v5h-5zM584 536h5v5h-5zM584 540h5v5h-5zM1048 520h9v9h-9zM1052 528h5v5h-5zM1052 532h5v5h-5zM1056 540h5v5h-5zM1060 548h5v5h-5zM1064 552h5v5h-5zM1064 556h5v5h-5zM1068 560h5v5h-5zM1072 564h5v5h-5zM1076 572h5v5h-5zM1080 572h5v5h-5zM600 576h5v5h-5zM604 584h5v5h-5zM608 592h5v5h-5zM616 604h5v5h-5zM1084 576h5v5h-5zM632 624h5v5h-5zM668 660h5v5h-5zM692 680h5v5h-5zM756 744h5v5h-5z"/><path fill="#69be84" d="M284 356h5v5h-5zM436 388h5v5h-5zM448 392h5v5h-5zM468 400h5v5h-5zM476 404h5v5h-5zM496 416h5v5h-5zM508 424h5v5h-5zM524 436h5v5h-5zM1104 436h5v5h-5zM1124 432h5v5h-5zM1172 432h5v5h-5zM1176 432h5v5h-5zM1192 436h5v5h-5zM1208 440h5v5h-5zM1220 444h5v5h-5zM540 448h5v5h-5zM544 452h5v5h-5zM548 456h5v5h-5zM552 460h5v5h-5zM556 464h5v5h-5zM564 476h5v5h-5zM1068 460h5v5h-5zM1076 452h5v5h-5zM1080 448h5v5h-5zM1072 456h5v5h-5zM1064 468h5v5h-5zM1060 476h5v5h-5zM1252 460h5v5h-5zM1260 464h5v5h-5zM1264 468h5v5h-5zM568 480h5v5h-5zM576 492h5v5h-5zM580 500h5v5h-5zM584 508h5v5h-5zM1052 496h5v5h-5zM1052 500h5v5h-5zM1052 504h5v5h-5zM1056 484h5v5h-5zM584 512h5v5h-5zM584 516h5v5h-5zM1048 512h9v9h-9zM1056 532h5v5h-5zM1056 536h5v5h-5zM1060 540h5v5h-5zM584 544h5v5h-5zM584 548h5v5h-5zM588 556h5v5h-5zM592 564h5v5h-5zM1060 544h5v5h-5zM1064 548h5v5h-5zM1068 556h5v5h-5zM1072 560h5v5h-5zM1076 568h5v5h-5zM1084 572h5v5h-5zM1088 580h5v5h-5zM1092 584h5v5h-5zM628 620h5v5h-5zM716 700h5v5h-5zM752 736h5v5h-5zM756 748h5v5h-5zM756 752h5v5h-5zM756 756h5v5h-5zM756 760h5v5h-5zM756 764h5v5h-5z"/><path fill="#6cbf83" d="M276 344h5v5h-5zM276 348h5v5h-5zM340 372h5v5h-5zM396 380h5v5h-5zM420 384h5v5h-5zM456 396h5v5h-5zM488 412h5v5h-5zM500 420h5v5h-5zM512 428h5v5h-5zM516 432h5v5h-5zM528 440h5v5h-5zM532 444h5v5h-5zM1088 444h5v5h-5zM1096 440h5v5h-5zM1108 436h5v5h-5zM1128 432h5v5h-5zM1132 432h5v5h-5zM1168 432h5v5h-5zM556 468h5v5h-5zM560 472h5v5h-5zM1068 464h5v5h-5zM1064 472h5v5h-5zM1228 448h5v5h-5zM1236 452h5v5h-5zM1244 456h5v5h-5zM1256 464h5v5h-5zM1260 468h5v5h-5zM1264 472h5v5h-5zM1264 476h5v5h-5zM568 484h5v5h-5zM572 488h5v5h-5zM576 496h5v5h-5zM580 504h5v5h-5zM580 508h5v5h-5zM1052 508h5v5h-5zM1060 480h5v5h-5zM1056 488h5v5h-5zM1056 492h5v5h-5zM1264 480h5v5h-5zM580 516h5v5h-5zM580 520h5v5h-5zM580 524h5v5h-5zM580 528h5v5h-5zM580 532h5v5h-5zM580 536h5v5h-5zM1056 524h5v5h-5zM1056 528h5v5h-5zM1060 536h5v5h-5zM588 560h5v5h-5zM596 572h5v5h-5zM1064 544h5v5h-5zM1068 552h5v5h-5zM1072 556h5v5h-5zM1076 560h5v5h-5zM1076 564h5v5h-5zM1080 568h5v5h-5zM600 580h5v5h-5zM604 588h5v5h-5zM612 600h5v5h-5zM1088 576h5v5h-5zM672 664h5v5h-5zM748 732h5v5h-5zM752 740h5v5h-5zM756 768h5v5h-5z"/><path fill="#6ebf81" d="M276 352h5v5h-5zM292 360h5v5h-5zM304 364h5v5h-5zM320 368h5v5h-5zM360 376h5v5h-5zM392 380h5v5h-5zM432 388h5v5h-5zM444 392h5v5h-5zM464 400h5v5h-5zM472 404h5v5h-5zM480 408h5v5h-5zM492 416h5v5h-5zM504 424h5v5h-5zM520 436h5v5h-5zM1112 436h5v5h-5zM1136 432h5v5h-5zM1140 432h5v5h-5zM1160 432h5v5h-5zM1164 432h5v5h-5zM1188 436h5v5h-5zM1204 440h5v5h-5zM1216 444h5v5h-5zM536 448h5v5h-5zM540 452h5v5h-5zM544 456h5v5h-5zM548 460h5v5h-5zM552 464h5v5h-5zM560 476h5v5h-5zM1084 448h5v5h-5zM1080 452h5v5h-5zM1076 456h5v5h-5zM1072 460h5v5h-5zM1068 468h5v5h-5zM1064 476h5v5h-5zM1248 460h5v5h-5zM1252 464h5v5h-5zM1260 472h5v5h-5zM1260 476h5v5h-5zM564 480h5v5h-5zM568 488h5v5h-5zM572 492h5v5h-5zM576 500h5v5h-5zM1060 484h5v5h-5zM1060 488h5v5h-5zM1056 496h5v5h-5zM1056 500h5v5h-5zM580 512h5v5h-5zM580 540h5v5h-5zM1056 520h5v5h-5zM1060 528h5v5h-5zM1060 532h5v5h-5zM1064 536h5v5h-5zM1064 540h5v5h-5zM580 544h5v5h-5zM584 552h5v5h-5zM592 568h5v5h-5zM1068 544h5v5h-5zM1068 548h5v5h-5zM1072 552h5v5h-5zM1076 556h5v5h-5zM1080 564h5v5h-5zM1084 568h5v5h-5zM1088 572h5v5h-5zM1092 576h5v5h-5zM1092 580h5v5h-5zM624 616h5v5h-5zM720 704h5v5h-5zM744 728h5v5h-5zM752 744h5v5h-5zM752 760h5v5h-5zM756 772h5v5h-5zM756 776h5v5h-5z"/><path fill="#71bf80" d="M336 372h5v5h-5zM416 384h5v5h-5zM452 396h5v5h-5zM484 412h5v5h-5zM496 420h5v5h-5zM508 428h5v5h-5zM512 432h5v5h-5zM524 440h5v5h-5zM528 444h5v5h-5zM1092 444h5v5h-5zM1100 440h5v5h-5zM1116 436h5v5h-5zM1144 432h5v5h-5zM1148 432h5v5h-5zM1152 432h5v5h-5zM1156 432h5v5h-5zM1184 436h5v5h-5zM1200 440h5v5h-5zM552 468h5v5h-5zM556 472h5v5h-5zM1068 472h5v5h-5zM1072 464h5v5h-5zM1224 448h5v5h-5zM1240 456h5v5h-5zM1256 468h5v5h-5zM564 484h5v5h-5zM572 496h5v5h-5zM576 504h5v5h-5zM576 508h5v5h-5zM1064 480h5v5h-5zM1060 492h5v5h-5zM1060 496h5v5h-5zM1060 500h5v5h-5zM1056 504h9v9h-9zM1260 480h5v5h-5zM576 512h5v5h-5zM576 516h5v5h-5zM576 520h5v5h-5zM576 524h5v5h-5zM576 528h5v5h-5zM576 532h5v5h-5zM1056 512h9v9h-9zM1060 520h5v5h-5zM1060 524h5v5h-5zM1064 528h5v5h-5zM1064 532h5v5h-5zM1068 540h5v5h-5zM580 548h5v5h-5zM584 556h5v5h-5zM1072 544h5v5h-5zM1072 548h5v5h-5zM1076 552h5v5h-5zM1080 556h5v5h-5zM1080 560h5v5h-5zM1084 564h5v5h-5zM1088 568h5v5h-5zM1092 568h5v5h-5zM1092 572h5v5h-5zM1096 572h5v5h-5zM596 576h5v5h-5zM608 596h5v5h-5zM1096 576h9v9h-9zM676 668h5v5h-5zM696 684h5v5h-5zM724 708h5v5h-5zM736 720h5v5h-5zM740 724h5v5h-5zM748 736h5v5h-5zM752 748h5v5h-5zM752 752h5v5h-5zM752 756h5v5h-5zM752 764h5v5h-5zM752 768h5v5h-5zM752 772h5v5h-5zM752 776h5v5h-5z"/><path fill="#74bf7f" d="M280 356h5v5h-5zM356 376h5v5h-5zM388 380h5v5h-5zM428 388h5v5h-5zM440 392h5v5h-5zM460 400h5v5h-5zM468 404h5v5h-5zM476 408h5v5h-5zM500 424h5v5h-5zM516 436h5v5h-5zM1096 444h5v5h-5zM1104 440h5v5h-5zM1120 436h5v5h-5zM1180 436h5v5h-5zM1212 444h5v5h-5zM532 448h5v5h-5zM536 452h5v5h-5zM540 456h5v5h-5zM544 460h5v5h-5zM548 464h5v5h-5zM556 476h5v5h-5zM1084 452h5v5h-5zM1076 460h5v5h-5zM1080 456h5v5h-5zM1068 476h5v5h-5zM1072 468h5v5h-5zM1088 448h5v5h-5zM1232 452h5v5h-5zM1244 460h5v5h-5zM1248 464h5v5h-5zM1252 468h5v5h-5zM1256 472h5v5h-5zM560 480h5v5h-5zM564 488h5v5h-5zM568 492h5v5h-5zM572 500h5v5h-5zM572 504h5v5h-5zM1064 484h5v5h-5zM1064 488h5v5h-5zM576 536h5v5h-5zM576 540h5v5h-5zM1064 520h5v5h-5zM1064 524h5v5h-5zM1068 532h5v5h-5zM1068 536h5v5h-5zM1072 540h5v5h-5zM588 564h5v5h-5zM1076 548h5v5h-5zM1080 552h5v5h-5zM1084 560h5v5h-5zM1088 564h5v5h-5zM1092 564h5v5h-5zM1096 568h5v5h-5zM600 584h5v5h-5zM620 612h5v5h-5zM728 712h5v5h-5zM732 716h5v5h-5zM748 740h5v5h-5z"/><path fill="#77bf7e" d="M300 364h5v5h-5zM316 368h5v5h-5zM384 380h5v5h-5zM412 384h5v5h-5zM448 396h5v5h-5zM488 416h5v5h-5zM504 428h5v5h-5zM520 440h5v5h-5zM524 444h5v5h-5zM1124 436h5v5h-5zM1176 436h5v5h-5zM1196 440h5v5h-5zM548 468h5v5h-5zM552 472h5v5h-5zM1076 464h5v5h-5zM1072 472h5v5h-5zM1236 456h5v5h-5zM1256 476h5v5h-5zM556 480h5v5h-5zM560 484h5v5h-5zM564 492h5v5h-5zM568 496h5v5h-5zM572 508h5v5h-5zM1068 480h5v5h-5zM1064 492h5v5h-5zM1064 496h5v5h-5zM1064 500h5v5h-5zM1256 480h5v5h-5zM572 512h5v5h-5zM572 516h5v5h-5zM572 520h5v5h-5zM572 524h5v5h-5zM572 528h5v5h-5zM1064 512h5v5h-5zM1064 516h5v5h-5zM1068 524h5v5h-5zM1068 528h5v5h-5zM1072 532h5v5h-5zM1072 536h5v5h-5zM1076 540h5v5h-5zM576 544h5v5h-5zM580 552h5v5h-5zM584 560h5v5h-5zM592 572h5v5h-5zM1076 544h5v5h-5zM1080 548h5v5h-5zM1084 552h5v5h-5zM1084 556h5v5h-5zM1088 560h5v5h-5zM1096 564h5v5h-5zM1100 572h5v5h-5zM604 592h5v5h-5zM1104 576h5v5h-5zM616 608h5v5h-5zM636 632h5v5h-5zM640 636h5v5h-5zM700 688h5v5h-5zM744 732h5v5h-5zM748 744h5v5h-5zM748 748h5v5h-5zM748 752h5v5h-5zM748 756h5v5h-5zM748 760h5v5h-5zM748 764h5v5h-5zM748 768h5v5h-5zM748 772h5v5h-5z"/><path fill="#7abf7c" d="M272 344h5v5h-5zM272 348h5v5h-5zM272 352h5v5h-5zM288 360h5v5h-5zM332 372h5v5h-5zM352 376h5v5h-5zM424 388h5v5h-5zM436 392h5v5h-5zM456 400h5v5h-5zM464 404h5v5h-5zM472 408h5v5h-5zM480 412h5v5h-5zM492 420h5v5h-5zM508 432h5v5h-5zM512 436h5v5h-5zM1100 444h5v5h-5zM1108 440h5v5h-5zM1128 436h5v5h-5zM1168 436h5v5h-5zM1172 436h5v5h-5zM1192 440h5v5h-5zM1208 444h5v5h-5zM528 448h5v5h-5zM532 452h5v5h-5zM536 456h5v5h-5zM540 460h5v5h-5zM544 464h5v5h-5zM552 476h5v5h-5zM1084 456h5v5h-5zM1080 460h5v5h-5zM1076 468h5v5h-5zM1072 476h5v5h-5zM1092 448h5v5h-5zM1088 452h5v5h-5zM1220 448h5v5h-5zM1228 452h5v5h-5zM1240 460h5v5h-5zM1244 464h5v5h-5zM1248 468h5v5h-5zM1252 472h5v5h-5zM1252 476h5v5h-5zM560 488h5v5h-5zM568 500h5v5h-5zM568 504h5v5h-5zM1068 484h5v5h-5zM1068 488h5v5h-5zM1068 492h5v5h-5zM1064 504h9v9h-9zM1256 484h5v5h-5zM572 532h5v5h-5zM572 536h5v5h-5zM1068 512h5v5h-5zM1068 516h5v5h-5zM1068 520h5v5h-5zM1072 528h5v5h-5zM1076 536h5v5h-5zM1080 544h5v5h-5zM1084 548h5v5h-5zM1088 552h5v5h-5zM1088 556h5v5h-5zM1092 556h5v5h-5zM1092 560h5v5h-5zM1096 560h5v5h-5zM1100 568h5v5h-5zM596 580h5v5h-5zM600 588h5v5h-5zM612 604h5v5h-5zM632 628h5v5h-5zM644 640h5v5h-5zM680 672h5v5h-5zM740 728h5v5h-5zM748 776h5v5h-5z"/><path fill="#7dbf7b" d="M312 368h5v5h-5zM380 380h5v5h-5zM408 384h5v5h-5zM484 416h5v5h-5zM496 424h5v5h-5zM500 428h5v5h-5zM516 440h5v5h-5zM520 444h5v5h-5zM1112 440h5v5h-5zM1132 436h5v5h-5zM1136 436h5v5h-5zM1160 436h5v5h-5zM1164 436h5v5h-5zM1188 440h5v5h-5zM1204 444h5v5h-5zM544 468h5v5h-5zM548 472h5v5h-5zM1080 464h5v5h-5zM1076 472h5v5h-5zM1232 456h5v5h-5zM1236 460h5v5h-5zM1240 464h5v5h-5zM1244 468h5v5h-5zM1248 472h5v5h-5zM552 480h5v5h-5zM556 484h5v5h-5zM560 492h5v5h-5zM564 496h5v5h-5zM564 500h5v5h-5zM568 508h5v5h-5zM1072 480h5v5h-5zM1072 484h5v5h-5zM1068 496h5v5h-5zM1068 500h5v5h-5zM1252 480h5v5h-5zM1252 484h5v5h-5zM568 512h5v5h-5zM568 516h5v5h-5zM568 520h5v5h-5zM568 524h5v5h-5zM572 540h5v5h-5zM1072 516h5v5h-5zM1072 520h5v5h-5zM1072 524h5v5h-5zM1076 528h5v5h-5zM1076 532h5v5h-5zM1080 536h5v5h-5zM1080 540h5v5h-5zM576 548h5v5h-5zM580 556h5v5h-5zM588 568h5v5h-5zM1084 544h5v5h-5zM1088 548h5v5h-5zM1092 552h5v5h-5zM1100 560h5v5h-5zM1100 564h5v5h-5zM1104 568h9v9h-9zM628 624h5v5h-5zM648 644h5v5h-5zM704 692h5v5h-5zM736 724h5v5h-5zM744 736h5v5h-5zM744 760h5v5h-5zM744 764h5v5h-5zM744 768h5v5h-5z"/><path fill="#7fbf7a" d="M276 356h5v5h-5zM296 364h5v5h-5zM328 372h5v5h-5zM348 376h5v5h-5zM376 380h5v5h-5zM404 384h5v5h-5zM420 388h5v5h-5zM432 392h5v5h-5zM444 396h5v5h-5zM452 400h5v5h-5zM460 404h5v5h-5zM468 408h5v5h-5zM476 412h5v5h-5zM488 420h5v5h-5zM504 432h5v5h-5zM508 436h5v5h-5zM1104 444h5v5h-5zM1116 440h5v5h-5zM1140 436h5v5h-5zM1144 436h5v5h-5zM1148 436h5v5h-5zM1152 436h5v5h-5zM1156 436h5v5h-5zM1184 440h5v5h-5zM524 448h5v5h-5zM528 452h5v5h-5zM532 456h5v5h-5zM536 460h5v5h-5zM540 464h5v5h-5zM548 476h5v5h-5zM1084 460h5v5h-5zM1080 468h5v5h-5zM1076 476h5v5h-5zM1092 452h5v5h-5zM1096 448h5v5h-5zM1088 456h5v5h-5zM1216 448h5v5h-5zM1224 452h5v5h-5zM1248 476h5v5h-5zM556 488h5v5h-5zM560 496h5v5h-5zM564 504h5v5h-5zM1072 488h5v5h-5zM1072 492h5v5h-5zM1248 480h5v5h-5zM568 528h5v5h-5zM568 532h5v5h-5zM1072 512h5v5h-5zM1076 520h5v5h-5zM1076 524h5v5h-5zM1080 532h5v5h-5zM1084 536h5v5h-5zM1084 540h5v5h-5zM572 544h5v5h-5zM576 552h5v5h-5zM584 564h5v5h-5zM1088 544h5v5h-5zM1092 548h5v5h-5zM1096 552h9v9h-9zM1104 560h9v9h-9zM1112 568h9v9h-9zM592 576h5v5h-5zM608 600h5v5h-5zM740 732h5v5h-5zM744 740h5v5h-5zM744 744h5v5h-5zM744 748h5v5h-5zM744 752h5v5h-5zM744 756h5v5h-5zM744 772h5v5h-5zM744 776h5v5h-5zM744 780h5v5h-5z"/><path fill="#82bf79" d="M268 348h5v5h-5zM284 360h5v5h-5zM372 380h5v5h-5zM480 416h5v5h-5zM492 424h5v5h-5zM512 440h5v5h-5zM516 444h5v5h-5zM1180 440h5v5h-5zM1200 444h5v5h-5zM540 468h5v5h-5zM544 472h5v5h-5zM1084 464h5v5h-5zM1080 472h5v5h-5zM1100 448h5v5h-5zM1212 448h5v5h-5zM1228 456h5v5h-5zM1232 460h5v5h-5zM1236 464h5v5h-5zM1240 468h5v5h-5zM1244 472h5v5h-5zM1244 476h5v5h-5zM548 480h5v5h-5zM552 484h5v5h-5zM556 492h5v5h-5zM560 500h5v5h-5zM564 508h5v5h-5zM1076 480h5v5h-5zM1076 484h5v5h-5zM1072 496h9v9h-9zM1072 504h9v9h-9zM1248 484h5v5h-5zM1248 488h5v5h-5zM564 512h5v5h-5zM564 516h5v5h-5zM564 520h5v5h-5zM568 536h5v5h-5zM1076 512h5v5h-5zM1076 516h5v5h-5zM1080 524h5v5h-5zM1080 528h5v5h-5zM1084 532h5v5h-5zM1088 540h5v5h-5zM580 560h5v5h-5zM1092 544h5v5h-5zM1104 556h5v5h-5zM1108 556h5v5h-5zM1112 564h5v5h-5zM596 584h5v5h-5zM604 596h5v5h-5zM624 620h5v5h-5zM652 648h5v5h-5zM708 696h5v5h-5zM728 716h5v5h-5zM732 720h5v5h-5zM740 760h5v5h-5zM740 764h5v5h-5zM740 768h5v5h-5zM740 772h5v5h-5zM740 776h5v5h-5z"/><path fill="#85bf78" d="M268 344h5v5h-5zM268 352h5v5h-5zM308 368h5v5h-5zM344 376h5v5h-5zM400 384h5v5h-5zM416 388h5v5h-5zM428 392h5v5h-5zM440 396h5v5h-5zM448 400h5v5h-5zM464 408h5v5h-5zM472 412h5v5h-5zM484 420h5v5h-5zM496 428h5v5h-5zM500 432h5v5h-5zM1108 444h5v5h-5zM1120 440h5v5h-5zM1176 440h5v5h-5zM1196 444h5v5h-5zM520 448h5v5h-5zM524 452h5v5h-5zM528 456h5v5h-5zM532 460h5v5h-5zM536 464h5v5h-5zM544 476h5v5h-5zM1084 468h5v5h-5zM1080 476h5v5h-5zM1096 452h5v5h-5zM1092 456h5v5h-5zM1088 460h5v5h-5zM1220 452h5v5h-5zM1236 468h5v5h-5zM1240 472h5v5h-5zM1240 476h5v5h-5zM552 488h5v5h-5zM556 496h5v5h-5zM560 504h5v5h-5zM1076 488h5v5h-5zM1076 492h5v5h-5zM1240 480h9v9h-9zM564 524h5v5h-5zM564 528h5v5h-5zM568 540h5v5h-5zM1080 516h5v5h-5zM1080 520h5v5h-5zM1084 524h5v5h-5zM1084 528h5v5h-5zM1088 532h5v5h-5zM1088 536h5v5h-5zM1092 540h5v5h-5zM572 548h5v5h-5zM588 572h5v5h-5zM1096 544h9v9h-9zM1104 552h5v5h-5zM1108 552h5v5h-5zM1112 560h5v5h-5zM1116 564h5v5h-5zM600 592h5v5h-5zM620 616h5v5h-5zM656 652h5v5h-5zM684 676h5v5h-5zM712 700h5v5h-5zM720 708h5v5h-5zM724 712h5v5h-5zM736 728h5v5h-5zM740 736h5v5h-5zM740 756h5v5h-5zM740 780h5v5h-5z"/><path fill="#88bf77" d="M264 344h5v5h-5zM264 348h5v5h-5zM272 356h5v5h-5zM292 364h5v5h-5zM324 372h5v5h-5zM368 380h5v5h-5zM396 384h5v5h-5zM456 404h5v5h-5zM488 424h5v5h-5zM504 436h5v5h-5zM508 440h5v5h-5zM1112 444h5v5h-5zM1124 440h5v5h-5zM1168 440h5v5h-5zM1172 440h5v5h-5zM1192 444h5v5h-5zM536 468h5v5h-5zM540 472h5v5h-5zM1084 472h5v5h-5zM1104 448h5v5h-5zM1088 464h5v5h-5zM1208 448h5v5h-5zM1224 456h5v5h-5zM1228 460h5v5h-5zM1232 464h5v5h-5zM1232 468h5v5h-5zM1232 472h9v9h-9zM544 480h5v5h-5zM548 484h5v5h-5zM552 492h5v5h-5zM556 500h5v5h-5zM560 508h5v5h-5zM1080 480h5v5h-5zM1080 484h5v5h-5zM1080 488h5v5h-5zM1080 492h5v5h-5zM1080 496h5v5h-5zM1080 500h5v5h-5zM1080 504h5v5h-5zM1080 508h5v5h-5zM1240 488h9v9h-9zM560 512h5v5h-5zM560 516h5v5h-5zM564 532h5v5h-5zM1080 512h5v5h-5zM1084 520h5v5h-5zM1088 528h5v5h-5zM1092 532h5v5h-5zM1092 536h5v5h-5zM1096 540h5v5h-5zM576 556h5v5h-5zM1104 544h9v9h-9zM1112 552h9v9h-9zM1116 560h5v5h-5zM592 580h5v5h-5zM660 656h5v5h-5zM716 704h5v5h-5zM740 740h5v5h-5zM740 744h5v5h-5zM740 748h5v5h-5zM740 752h5v5h-5zM736 760h5v5h-5zM736 764h5v5h-5zM736 768h5v5h-5z"/><path fill="#8abf76" d="M260 344h5v5h-5zM264 352h5v5h-5zM280 360h5v5h-5zM304 368h5v5h-5zM340 376h5v5h-5zM364 380h5v5h-5zM412 388h5v5h-5zM424 392h5v5h-5zM436 396h5v5h-5zM444 400h5v5h-5zM468 412h5v5h-5zM476 416h5v5h-5zM492 428h5v5h-5zM496 432h5v5h-5zM512 444h5v5h-5zM1128 440h5v5h-5zM1132 440h5v5h-5zM1160 440h5v5h-5zM1164 440h5v5h-5zM1188 444h5v5h-5zM516 448h5v5h-5zM520 452h5v5h-5zM524 456h5v5h-5zM528 460h5v5h-5zM532 464h5v5h-5zM540 476h5v5h-5zM1084 476h5v5h-5zM1100 452h5v5h-5zM1092 460h5v5h-5zM1096 456h5v5h-5zM1088 468h5v5h-5zM1204 448h5v5h-5zM1216 452h5v5h-5zM1228 464h5v5h-5zM548 488h5v5h-5zM552 496h5v5h-5zM556 504h5v5h-5zM1084 480h5v5h-5zM1084 508h5v5h-5zM1232 480h9v9h-9zM560 520h5v5h-5zM560 524h5v5h-5zM564 536h5v5h-5zM1084 512h5v5h-5zM1084 516h5v5h-5zM1088 520h5v5h-5zM1088 524h5v5h-5zM1092 528h5v5h-5zM1096 532h5v5h-5zM1096 536h5v5h-5zM1100 540h5v5h-5zM1104 540h5v5h-5zM568 544h5v5h-5zM572 552h5v5h-5zM584 568h5v5h-5zM1112 544h9v9h-9zM1120 552h5v5h-5zM1120 556h5v5h-5zM1120 560h9v9h-9zM596 588h5v5h-5zM616 612h5v5h-5zM664 660h5v5h-5zM732 724h5v5h-5zM736 732h5v5h-5zM736 756h5v5h-5zM736 772h5v5h-5z"/><path fill="#8dbf75" d="M260 348h5v5h-5zM288 364h5v5h-5zM320 372h5v5h-5zM392 384h5v5h-5zM452 404h5v5h-5zM460 408h5v5h-5zM480 420h5v5h-5zM500 436h5v5h-5zM504 440h5v5h-5zM1116 444h5v5h-5zM1136 440h5v5h-5zM1140 440h5v5h-5zM1144 440h5v5h-5zM1148 440h5v5h-5zM1152 440h5v5h-5zM1156 440h5v5h-5zM1180 444h5v5h-5zM1184 444h5v5h-5zM532 468h5v5h-5zM536 472h5v5h-5zM1108 448h5v5h-5zM1092 464h5v5h-5zM1088 472h5v5h-5zM1200 448h5v5h-5zM1212 452h5v5h-5zM1220 456h5v5h-5zM1224 460h5v5h-5zM1228 468h5v5h-5zM1224 472h9v9h-9zM540 480h5v5h-5zM544 484h5v5h-5zM548 492h5v5h-5zM552 500h5v5h-5zM556 508h5v5h-5zM1084 484h5v5h-5zM1084 488h5v5h-5zM1084 492h5v5h-5zM1084 496h5v5h-5zM1084 500h5v5h-5zM1084 504h5v5h-5zM1232 488h9v9h-9zM556 512h5v5h-5zM556 516h5v5h-5zM560 528h5v5h-5zM564 540h5v5h-5zM1088 512h5v5h-5zM1088 516h5v5h-5zM1092 524h5v5h-5zM1096 528h5v5h-5zM1100 532h5v5h-5zM1100 536h5v5h-5zM1104 536h5v5h-5zM1108 540h5v5h-5zM568 548h5v5h-5zM580 564h5v5h-5zM1124 556h5v5h-5zM588 576h5v5h-5zM612 608h5v5h-5zM688 680h5v5h-5zM728 720h5v5h-5zM732 764h5v5h-5zM736 736h5v5h-5zM736 752h5v5h-5zM732 768h5v5h-5zM736 776h5v5h-5z"/><path fill="#8fbf74" d="M268 356h5v5h-5zM276 360h5v5h-5zM300 368h5v5h-5zM336 376h5v5h-5zM360 380h5v5h-5zM388 384h5v5h-5zM408 388h5v5h-5zM420 392h5v5h-5zM432 396h5v5h-5zM472 416h5v5h-5zM484 424h5v5h-5zM508 444h5v5h-5zM1120 444h5v5h-5zM1176 444h5v5h-5zM512 448h5v5h-5zM516 452h5v5h-5zM520 456h5v5h-5zM524 460h5v5h-5zM528 464h5v5h-5zM536 476h5v5h-5zM1100 456h5v5h-5zM1096 460h5v5h-5zM1104 452h5v5h-5zM1092 468h5v5h-5zM1088 476h5v5h-5zM1196 448h5v5h-5zM1208 452h5v5h-5zM1216 456h5v5h-5zM1224 464h5v5h-5zM1224 468h5v5h-5zM544 488h5v5h-5zM552 504h5v5h-5zM1088 480h5v5h-5zM1088 504h5v5h-5zM1088 508h5v5h-5zM1224 480h9v9h-9zM556 520h5v5h-5zM560 532h5v5h-5zM1092 516h5v5h-5zM1092 520h5v5h-5zM1096 524h5v5h-5zM1100 528h5v5h-5zM1104 532h5v5h-5zM1108 536h5v5h-5zM1112 536h9v9h-9zM576 560h5v5h-5zM1120 544h9v9h-9zM1124 552h5v5h-5zM1128 552h9v9h-9zM592 584h5v5h-5zM608 604h5v5h-5zM668 664h5v5h-5zM724 716h5v5h-5zM732 728h5v5h-5zM732 756h5v5h-5zM732 760h5v5h-5zM736 740h5v5h-5zM736 744h5v5h-5zM736 748h5v5h-5zM732 772h5v5h-5zM736 780h5v5h-5z"/><path fill="#92bf73" d="M260 352h5v5h-5zM284 364h5v5h-5zM316 372h5v5h-5zM356 380h5v5h-5zM384 384h5v5h-5zM404 388h5v5h-5zM440 400h5v5h-5zM448 404h5v5h-5zM456 408h5v5h-5zM464 412h5v5h-5zM488 428h5v5h-5zM492 432h5v5h-5zM496 436h5v5h-5zM1168 444h5v5h-5zM1172 444h5v5h-5zM532 472h5v5h-5zM1112 448h5v5h-5zM1096 464h5v5h-5zM1092 472h5v5h-5zM1188 448h5v5h-5zM1192 448h5v5h-5zM1204 452h5v5h-5zM1220 460h5v5h-5zM1216 472h9v9h-9zM540 484h5v5h-5zM548 496h5v5h-5zM548 500h5v5h-5zM552 508h5v5h-5zM1088 484h5v5h-5zM1088 488h5v5h-5zM1088 492h5v5h-5zM1088 496h5v5h-5zM1088 500h5v5h-5zM1216 480h9v9h-9zM1224 488h9v9h-9zM1224 496h9v9h-9zM552 512h5v5h-5zM556 524h5v5h-5zM560 536h5v5h-5zM1092 512h5v5h-5zM1096 520h5v5h-5zM1100 524h5v5h-5zM1104 528h5v5h-5zM1108 532h5v5h-5zM1120 536h9v9h-9zM564 544h5v5h-5zM572 556h5v5h-5zM1128 544h9v9h-9zM604 600h5v5h-5zM692 684h5v5h-5zM720 712h5v5h-5zM732 732h5v5h-5zM732 752h5v5h-5zM728 764h5v5h-5zM728 768h5v5h-5zM728 772h5v5h-5zM728 776h9v9h-9z"/><path fill="#94bf72" d="M256 344h5v5h-5zM296 368h5v5h-5zM312 372h5v5h-5zM332 376h5v5h-5zM352 380h5v5h-5zM380 384h5v5h-5zM416 392h5v5h-5zM428 396h5v5h-5zM436 400h5v5h-5zM476 420h5v5h-5zM500 440h5v5h-5zM504 444h5v5h-5zM1124 444h5v5h-5zM1160 444h5v5h-5zM1164 444h5v5h-5zM508 448h5v5h-5zM520 460h5v5h-5zM524 464h5v5h-5zM528 468h5v5h-5zM532 476h5v5h-5zM1100 460h5v5h-5zM1108 452h5v5h-5zM1116 448h5v5h-5zM1104 456h5v5h-5zM1096 468h5v5h-5zM1092 476h5v5h-5zM1184 448h5v5h-5zM1200 452h5v5h-5zM1212 456h5v5h-5zM1216 460h5v5h-5zM1216 464h9v9h-9zM536 480h5v5h-5zM540 488h5v5h-5zM544 492h5v5h-5zM548 504h5v5h-5zM1092 480h5v5h-5zM1092 484h5v5h-5zM1092 500h5v5h-5zM1092 504h5v5h-5zM1092 508h5v5h-5zM1216 488h9v9h-9zM1216 496h9v9h-9zM552 516h5v5h-5zM552 520h5v5h-5zM556 528h5v5h-5zM1096 516h5v5h-5zM1100 520h5v5h-5zM1104 524h5v5h-5zM1108 528h5v5h-5zM1112 532h5v5h-5zM1116 532h5v5h-5zM1128 536h9v9h-9zM1136 536h9v9h-9zM568 552h5v5h-5zM584 572h5v5h-5zM1136 544h17v17h-17zM588 580h5v5h-5zM600 596h5v5h-5zM696 688h5v5h-5zM716 708h5v5h-5zM728 724h5v5h-5zM732 736h5v5h-5zM732 748h5v5h-5zM728 756h5v5h-5zM724 764h5v5h-5zM728 760h5v5h-5zM724 768h5v5h-5zM728 784h5v5h-5z"/><path fill="#97bf71" d="M256 348h5v5h-5zM264 356h5v5h-5zM272 360h5v5h-5zM328 376h5v5h-5zM376 384h5v5h-5zM400 388h5v5h-5zM424 396h5v5h-5zM444 404h5v5h-5zM452 408h5v5h-5zM460 412h5v5h-5zM468 416h5v5h-5zM480 424h5v5h-5zM484 428h5v5h-5zM1128 444h5v5h-5zM1132 444h5v5h-5zM1136 444h5v5h-5zM1148 444h5v5h-5zM1152 444h5v5h-5zM1156 444h5v5h-5zM512 452h5v5h-5zM516 456h5v5h-5zM528 472h5v5h-5zM1112 452h5v5h-5zM1104 460h5v5h-5zM1100 464h5v5h-5zM1096 472h5v5h-5zM1096 476h5v5h-5zM1176 448h5v5h-5zM1180 448h5v5h-5zM1192 452h5v5h-5zM1196 452h5v5h-5zM1208 456h5v5h-5zM1212 460h5v5h-5zM1208 464h9v9h-9zM1208 472h9v9h-9zM536 484h5v5h-5zM544 496h5v5h-5zM548 508h5v5h-5zM1092 488h5v5h-5zM1092 492h5v5h-5zM1092 496h5v5h-5zM1096 508h5v5h-5zM1200 480h17v17h-17zM1208 496h9v9h-9zM1208 504h9v9h-9zM552 524h5v5h-5zM556 532h5v5h-5zM560 540h5v5h-5zM1096 512h5v5h-5zM1100 516h5v5h-5zM1104 520h5v5h-5zM1108 524h5v5h-5zM1112 528h5v5h-5zM1120 528h9v9h-9zM1128 528h9v9h-9zM1136 528h9v9h-9zM1144 536h9v9h-9zM564 548h5v5h-5zM580 568h5v5h-5zM628 628h5v5h-5zM632 632h5v5h-5zM672 668h5v5h-5zM700 692h5v5h-5zM704 696h5v5h-5zM712 704h5v5h-5zM724 720h5v5h-5zM728 728h5v5h-5zM732 740h5v5h-5zM732 744h5v5h-5zM728 752h5v5h-5zM724 760h5v5h-5zM724 772h5v5h-5z"/><path fill="#99bf70" d="M280 364h5v5h-5zM292 368h5v5h-5zM308 372h5v5h-5zM348 380h5v5h-5zM396 388h5v5h-5zM412 392h5v5h-5zM432 400h5v5h-5zM472 420h5v5h-5zM488 432h5v5h-5zM492 436h5v5h-5zM496 440h5v5h-5zM1140 444h5v5h-5zM1144 444h5v5h-5zM520 464h5v5h-5zM524 468h5v5h-5zM1108 456h5v5h-5zM1100 468h5v5h-5zM1104 464h5v5h-5zM1120 448h5v5h-5zM1172 448h5v5h-5zM1188 452h5v5h-5zM1200 456h9v9h-9zM1208 460h5v5h-5zM1200 472h9v9h-9zM532 480h5v5h-5zM540 492h5v5h-5zM544 500h5v5h-5zM1096 480h5v5h-5zM1096 484h5v5h-5zM1096 488h5v5h-5zM1096 492h5v5h-5zM1096 496h5v5h-5zM1096 500h5v5h-5zM1096 504h5v5h-5zM1200 496h9v9h-9zM548 512h5v5h-5zM548 516h5v5h-5zM1100 512h5v5h-5zM1104 516h5v5h-5zM1112 524h5v5h-5zM1116 528h5v5h-5zM1144 528h9v9h-9zM576 564h5v5h-5zM596 592h5v5h-5zM624 624h5v5h-5zM636 636h5v5h-5zM708 700h5v5h-5zM728 732h5v5h-5zM728 748h5v5h-5zM724 756h5v5h-5zM720 760h5v5h-5zM720 764h5v5h-5zM720 768h5v5h-5zM724 776h5v5h-5zM724 780h5v5h-5z"/><path fill="#9cbf6f" d="M256 352h5v5h-5zM268 360h5v5h-5zM288 368h5v5h-5zM304 372h5v5h-5zM324 376h5v5h-5zM344 380h5v5h-5zM372 384h5v5h-5zM420 396h5v5h-5zM440 404h5v5h-5zM448 408h5v5h-5zM456 412h5v5h-5zM464 416h5v5h-5zM476 424h5v5h-5zM500 444h5v5h-5zM504 448h5v5h-5zM508 452h5v5h-5zM512 456h5v5h-5zM516 460h5v5h-5zM524 472h5v5h-5zM528 476h5v5h-5zM1116 452h5v5h-5zM1108 460h5v5h-5zM1112 456h5v5h-5zM1100 472h5v5h-5zM1100 476h5v5h-5zM1124 448h5v5h-5zM1164 448h5v5h-5zM1168 448h5v5h-5zM1180 452h5v5h-5zM1184 452h5v5h-5zM1192 456h9v9h-9zM1200 464h9v9h-9zM536 488h5v5h-5zM540 496h5v5h-5zM544 504h5v5h-5zM544 508h5v5h-5zM1100 504h5v5h-5zM1100 508h5v5h-5zM1192 480h9v9h-9zM1192 488h9v9h-9zM1192 496h9v9h-9zM1200 504h9v9h-9zM548 520h5v5h-5zM552 528h5v5h-5zM556 536h5v5h-5zM1104 512h5v5h-5zM1108 520h5v5h-5zM1116 524h5v5h-5zM1136 524h5v5h-5zM1140 524h5v5h-5zM1144 524h5v5h-5zM1148 524h5v5h-5zM1152 528h9v9h-9zM1152 536h9v9h-9zM560 544h5v5h-5zM572 560h5v5h-5zM584 576h5v5h-5zM592 588h5v5h-5zM620 620h5v5h-5zM720 716h5v5h-5zM724 724h5v5h-5zM728 736h5v5h-5zM728 740h5v5h-5zM728 744h5v5h-5zM716 764h5v5h-5zM724 752h5v5h-5zM720 756h5v5h-5zM716 768h5v5h-5zM720 772h5v5h-5zM720 776h5v5h-5zM720 780h5v5h-5zM720 784h9v9h-9z"/><path fill="#9ebe6e" d="M260 356h5v5h-5zM276 364h5v5h-5zM300 372h5v5h-5zM320 376h5v5h-5zM340 380h5v5h-5zM368 384h5v5h-5zM392 388h5v5h-5zM408 392h5v5h-5zM428 400h5v5h-5zM480 428h5v5h-5zM520 468h5v5h-5zM1108 464h5v5h-5zM1104 468h5v5h-5zM1104 472h5v5h-5zM1120 452h5v5h-5zM1128 448h5v5h-5zM1132 448h5v5h-5zM1156 448h5v5h-5zM1160 448h5v5h-5zM1176 452h5v5h-5zM1184 456h5v5h-5zM1188 456h5v5h-5zM1192 464h9v9h-9zM1192 472h9v9h-9zM528 480h5v5h-5zM532 484h5v5h-5zM536 492h5v5h-5zM540 500h5v5h-5zM1100 480h5v5h-5zM1100 484h5v5h-5zM1100 488h5v5h-5zM1100 492h5v5h-5zM1100 496h5v5h-5zM1100 500h5v5h-5zM1104 508h5v5h-5zM1188 488h5v5h-5zM1188 492h5v5h-5zM1192 504h9v9h-9zM544 512h5v5h-5zM548 524h5v5h-5zM552 532h5v5h-5zM556 540h5v5h-5zM1108 516h5v5h-5zM1112 520h5v5h-5zM1116 520h5v5h-5zM1120 524h5v5h-5zM1124 524h5v5h-5zM1128 524h5v5h-5zM1132 524h5v5h-5zM1144 520h5v5h-5zM1148 520h5v5h-5zM1152 520h9v9h-9zM1160 528h9v9h-9zM564 552h5v5h-5zM568 556h5v5h-5zM616 616h5v5h-5zM640 640h5v5h-5zM676 672h5v5h-5zM716 712h5v5h-5zM724 728h5v5h-5zM724 748h5v5h-5zM716 756h5v5h-5zM716 760h5v5h-5zM712 764h5v5h-5zM720 752h5v5h-5zM688 784h17v17h-17zM712 768h5v5h-5zM716 772h5v5h-5z"/><path fill="#a0be6d" d="M252 344h5v5h-5zM284 368h5v5h-5zM316 376h5v5h-5zM364 384h5v5h-5zM388 388h5v5h-5zM404 392h5v5h-5zM416 396h5v5h-5zM436 404h5v5h-5zM444 408h5v5h-5zM452 412h5v5h-5zM460 416h5v5h-5zM468 420h5v5h-5zM484 432h5v5h-5zM488 436h5v5h-5zM492 440h5v5h-5zM496 444h5v5h-5zM500 448h5v5h-5zM504 452h5v5h-5zM508 456h5v5h-5zM512 460h5v5h-5zM516 464h5v5h-5zM524 476h5v5h-5zM1116 456h5v5h-5zM1112 460h5v5h-5zM1108 468h5v5h-5zM1104 476h5v5h-5zM1124 452h5v5h-5zM1136 448h5v5h-5zM1140 448h5v5h-5zM1144 448h5v5h-5zM1148 448h5v5h-5zM1152 448h5v5h-5zM1168 452h5v5h-5zM1172 452h5v5h-5zM1180 456h5v5h-5zM1188 460h5v5h-5zM532 488h5v5h-5zM536 496h5v5h-5zM540 504h5v5h-5zM1104 504h5v5h-5zM1172 508h5v5h-5zM1188 480h5v5h-5zM1188 484h5v5h-5zM1184 496h9v9h-9zM1184 504h9v9h-9zM544 516h5v5h-5zM1108 512h5v5h-5zM1112 516h5v5h-5zM1120 520h5v5h-5zM1140 520h5v5h-5zM1152 516h5v5h-5zM1156 516h5v5h-5zM1160 512h9v9h-9zM1160 520h9v9h-9zM1168 512h17v17h-17zM1168 528h17v17h-17zM1184 512h17v17h-17zM580 572h5v5h-5zM588 584h5v5h-5zM644 644h5v5h-5zM720 720h5v5h-5zM724 732h5v5h-5zM724 736h5v5h-5zM724 740h5v5h-5zM724 744h5v5h-5zM720 748h5v5h-5zM708 764h5v5h-5zM712 760h5v5h-5zM700 772h5v5h-5zM696 776h9v9h-9zM704 768h9v9h-9zM712 772h5v5h-5zM704 776h9v9h-9zM712 776h9v9h-9zM704 784h17v17h-17z"/><path fill="#a3be6c" d="M252 348h5v5h-5zM252 352h5v5h-5zM256 356h5v5h-5zM264 360h5v5h-5zM272 364h5v5h-5zM280 368h5v5h-5zM296 372h5v5h-5zM312 376h5v5h-5zM336 380h5v5h-5zM360 384h5v5h-5zM384 388h5v5h-5zM424 400h5v5h-5zM472 424h5v5h-5zM516 468h5v5h-5zM520 472h5v5h-5zM1116 460h5v5h-5zM1112 464h5v5h-5zM1108 472h5v5h-5zM1128 452h5v5h-5zM1120 456h5v5h-5zM1160 452h5v5h-5zM1164 452h5v5h-5zM1176 456h5v5h-5zM1180 460h5v5h-5zM1184 460h5v5h-5zM1184 464h9v9h-9zM1184 472h9v9h-9zM528 484h5v5h-5zM536 500h5v5h-5zM540 508h5v5h-5zM1104 480h5v5h-5zM1104 484h5v5h-5zM1104 488h5v5h-5zM1104 492h5v5h-5zM1104 496h5v5h-5zM1104 500h5v5h-5zM1108 508h5v5h-5zM1164 508h5v5h-5zM1180 500h5v5h-5zM1168 508h5v5h-5zM1176 504h9v9h-9zM1184 480h5v5h-5zM1184 484h5v5h-5zM1184 488h5v5h-5zM1184 492h5v5h-5zM544 520h5v5h-5zM548 528h5v5h-5zM552 536h5v5h-5zM1112 512h5v5h-5zM1116 516h5v5h-5zM1124 520h5v5h-5zM1128 520h5v5h-5zM1132 520h5v5h-5zM1148 516h5v5h-5zM1136 520h5v5h-5zM1156 512h5v5h-5zM560 548h5v5h-5zM612 612h5v5h-5zM648 648h5v5h-5zM680 676h5v5h-5zM712 708h5v5h-5zM720 724h5v5h-5zM720 744h5v5h-5zM716 752h5v5h-5zM712 756h5v5h-5zM708 760h5v5h-5zM696 772h5v5h-5zM692 776h5v5h-5z"/><path fill="#a5be6b" d="M292 372h5v5h-5zM308 376h5v5h-5zM332 380h5v5h-5zM356 384h5v5h-5zM380 388h5v5h-5zM400 392h5v5h-5zM412 396h5v5h-5zM432 404h5v5h-5zM440 408h5v5h-5zM456 416h5v5h-5zM464 420h5v5h-5zM476 428h5v5h-5zM480 432h5v5h-5zM500 452h5v5h-5zM504 456h5v5h-5zM508 460h5v5h-5zM512 464h5v5h-5zM1116 464h5v5h-5zM1112 468h5v5h-5zM1108 476h5v5h-5zM1132 452h5v5h-5zM1124 456h5v5h-5zM1120 460h5v5h-5zM1136 452h5v5h-5zM1140 452h5v5h-5zM1148 452h5v5h-5zM1152 452h5v5h-5zM1156 452h5v5h-5zM1168 456h5v5h-5zM1172 456h5v5h-5zM1176 460h5v5h-5zM1180 464h5v5h-5zM524 480h5v5h-5zM532 492h5v5h-5zM536 504h5v5h-5zM1108 500h5v5h-5zM1108 504h5v5h-5zM1112 508h5v5h-5zM1160 508h5v5h-5zM1180 496h5v5h-5zM1168 504h5v5h-5zM1172 504h5v5h-5zM540 512h5v5h-5zM544 524h5v5h-5zM548 532h5v5h-5zM1116 512h5v5h-5zM1120 516h5v5h-5zM1124 516h5v5h-5zM1140 516h5v5h-5zM1144 516h5v5h-5zM1152 512h5v5h-5zM556 544h5v5h-5zM576 568h5v5h-5zM584 580h5v5h-5zM608 608h5v5h-5zM652 652h5v5h-5zM684 680h5v5h-5zM708 704h5v5h-5zM716 716h5v5h-5zM720 728h5v5h-5zM716 748h5v5h-5zM720 740h5v5h-5zM712 752h5v5h-5zM704 764h5v5h-5zM700 768h5v5h-5z"/><path fill="#a7be6a" d="M248 344h5v5h-5zM248 348h5v5h-5zM248 352h5v5h-5zM252 356h5v5h-5zM260 360h5v5h-5zM268 364h5v5h-5zM276 368h5v5h-5zM288 372h5v5h-5zM304 376h5v5h-5zM328 380h5v5h-5zM352 384h5v5h-5zM396 392h5v5h-5zM420 400h5v5h-5zM448 412h5v5h-5zM468 424h5v5h-5zM484 436h5v5h-5zM488 440h5v5h-5zM492 444h5v5h-5zM496 448h5v5h-5zM516 472h5v5h-5zM520 476h5v5h-5zM1116 468h5v5h-5zM1112 472h5v5h-5zM1128 456h5v5h-5zM1144 452h5v5h-5zM1164 456h5v5h-5zM1172 460h5v5h-5zM1176 464h5v5h-5zM1180 468h5v5h-5zM1180 472h5v5h-5zM1180 476h5v5h-5zM528 488h5v5h-5zM532 496h5v5h-5zM536 508h5v5h-5zM1108 480h5v5h-5zM1108 484h5v5h-5zM1108 488h5v5h-5zM1108 492h5v5h-5zM1108 496h5v5h-5zM1112 504h5v5h-5zM1116 508h5v5h-5zM1180 480h5v5h-5zM1180 484h5v5h-5zM1180 488h5v5h-5zM1180 492h5v5h-5zM1156 508h5v5h-5zM1176 500h5v5h-5zM540 516h5v5h-5zM552 540h5v5h-5zM1120 512h5v5h-5zM1128 516h5v5h-5zM1132 516h5v5h-5zM1136 516h5v5h-5zM1148 512h5v5h-5zM572 564h5v5h-5zM600 600h5v5h-5zM604 604h5v5h-5zM656 656h5v5h-5zM688 684h5v5h-5zM692 688h5v5h-5zM696 692h5v5h-5zM700 696h5v5h-5zM704 700h5v5h-5zM712 712h5v5h-5zM716 720h5v5h-5zM720 732h5v5h-5zM716 744h5v5h-5zM712 748h5v5h-5zM720 736h5v5h-5zM708 756h5v5h-5zM704 760h5v5h-5zM692 772h5v5h-5z"/><path fill="#aabe69" d="M264 364h5v5h-5zM272 368h5v5h-5zM284 372h5v5h-5zM300 376h5v5h-5zM324 380h5v5h-5zM348 384h5v5h-5zM376 388h5v5h-5zM392 392h5v5h-5zM408 396h5v5h-5zM428 404h5v5h-5zM436 408h5v5h-5zM460 420h5v5h-5zM504 460h5v5h-5zM508 464h5v5h-5zM512 468h5v5h-5zM1116 472h5v5h-5zM1112 476h5v5h-5zM1124 460h5v5h-5zM1132 456h5v5h-5zM1136 456h5v5h-5zM1120 464h5v5h-5zM1152 456h5v5h-5zM1156 456h5v5h-5zM1160 456h5v5h-5zM1168 460h5v5h-5zM1172 464h5v5h-5zM1176 468h5v5h-5zM1176 472h5v5h-5zM524 484h5v5h-5zM528 492h5v5h-5zM532 500h5v5h-5zM1112 480h5v5h-5zM1112 500h5v5h-5zM1152 508h5v5h-5zM1164 504h5v5h-5zM1172 500h5v5h-5zM536 512h5v5h-5zM540 520h5v5h-5zM544 528h5v5h-5zM1124 512h5v5h-5zM1144 512h5v5h-5zM560 552h5v5h-5zM564 556h5v5h-5zM568 560h5v5h-5zM580 576h5v5h-5zM596 596h5v5h-5zM660 660h5v5h-5zM716 724h5v5h-5zM700 764h5v5h-5zM716 736h5v5h-5zM716 740h5v5h-5zM708 752h5v5h-5zM704 756h5v5h-5zM696 768h5v5h-5z"/><path fill="#acbe68" d="M244 344h5v5h-5zM244 348h5v5h-5zM244 352h5v5h-5zM248 356h5v5h-5zM256 360h5v5h-5zM280 372h5v5h-5zM296 376h5v5h-5zM320 380h5v5h-5zM344 384h5v5h-5zM372 388h5v5h-5zM404 396h5v5h-5zM416 400h5v5h-5zM444 412h5v5h-5zM452 416h5v5h-5zM472 428h5v5h-5zM476 432h5v5h-5zM480 436h5v5h-5zM484 440h5v5h-5zM488 444h5v5h-5zM492 448h5v5h-5zM496 452h5v5h-5zM500 456h5v5h-5zM516 476h5v5h-5zM1116 476h5v5h-5zM1128 460h5v5h-5zM1132 460h5v5h-5zM1140 456h5v5h-5zM1144 456h5v5h-5zM1148 456h5v5h-5zM1124 464h5v5h-5zM1120 468h5v5h-5zM1160 460h5v5h-5zM1164 460h5v5h-5zM1168 464h5v5h-5zM1172 468h5v5h-5zM1176 476h5v5h-5zM520 480h5v5h-5zM524 488h5v5h-5zM528 496h5v5h-5zM532 504h5v5h-5zM1112 484h5v5h-5zM1112 488h5v5h-5zM1112 492h5v5h-5zM1112 496h5v5h-5zM1116 504h5v5h-5zM1120 508h5v5h-5zM1148 508h5v5h-5zM1176 480h5v5h-5zM1176 484h5v5h-5zM1160 504h5v5h-5zM1168 500h5v5h-5zM1176 496h5v5h-5zM548 536h5v5h-5zM1128 512h5v5h-5zM1132 512h5v5h-5zM1136 512h5v5h-5zM1140 512h5v5h-5zM556 548h5v5h-5zM592 592h5v5h-5zM664 664h5v5h-5zM708 708h5v5h-5zM712 716h5v5h-5zM716 728h5v5h-5zM716 732h5v5h-5zM700 760h5v5h-5zM696 764h5v5h-5zM712 740h5v5h-5zM708 748h5v5h-5zM712 744h5v5h-5zM704 752h5v5h-5zM688 768h5v5h-5zM692 768h5v5h-5zM688 772h5v5h-5z"/><path fill="#aebe67" d="M260 364h5v5h-5zM268 368h5v5h-5zM276 372h5v5h-5zM292 376h5v5h-5zM312 380h5v5h-5zM316 380h5v5h-5zM340 384h5v5h-5zM368 388h5v5h-5zM388 392h5v5h-5zM424 404h5v5h-5zM432 408h5v5h-5zM456 420h5v5h-5zM464 424h5v5h-5zM504 464h5v5h-5zM508 468h5v5h-5zM512 472h5v5h-5zM1136 460h5v5h-5zM1140 460h5v5h-5zM1124 468h5v5h-5zM1128 464h5v5h-5zM1120 472h5v5h-5zM1152 460h5v5h-5zM1156 460h5v5h-5zM1164 464h5v5h-5zM1168 468h5v5h-5zM1172 472h5v5h-5zM520 484h5v5h-5zM524 492h5v5h-5zM528 500h5v5h-5zM532 508h5v5h-5zM1116 480h5v5h-5zM1116 484h5v5h-5zM1116 496h5v5h-5zM1116 500h5v5h-5zM1120 504h5v5h-5zM1124 508h5v5h-5zM1128 508h5v5h-5zM1144 508h5v5h-5zM1176 488h5v5h-5zM1176 492h5v5h-5zM1164 500h5v5h-5zM1156 504h5v5h-5zM536 516h5v5h-5zM540 524h5v5h-5zM544 532h5v5h-5zM552 544h5v5h-5zM576 572h5v5h-5zM588 588h5v5h-5zM704 704h5v5h-5zM712 720h5v5h-5zM700 756h5v5h-5zM692 764h5v5h-5zM696 760h5v5h-5zM712 736h5v5h-5zM708 744h5v5h-5zM684 768h5v5h-5z"/><path fill="#b0bd66" d="M240 344h5v5h-5zM240 348h5v5h-5zM240 352h5v5h-5zM244 356h5v5h-5zM252 360h5v5h-5zM256 364h5v5h-5zM264 368h5v5h-5zM272 372h5v5h-5zM288 376h5v5h-5zM308 380h5v5h-5zM336 384h5v5h-5zM360 388h5v5h-5zM364 388h5v5h-5zM384 392h5v5h-5zM400 396h5v5h-5zM412 400h5v5h-5zM440 412h5v5h-5zM448 416h5v5h-5zM468 428h5v5h-5zM472 432h5v5h-5zM480 440h5v5h-5zM484 444h5v5h-5zM488 448h5v5h-5zM492 452h5v5h-5zM496 456h5v5h-5zM500 460h5v5h-5zM1144 460h5v5h-5zM1148 460h5v5h-5zM1132 464h5v5h-5zM1128 468h5v5h-5zM1124 472h5v5h-5zM1120 476h5v5h-5zM1160 464h5v5h-5zM1164 468h5v5h-5zM1168 472h5v5h-5zM1172 476h5v5h-5zM516 480h5v5h-5zM528 504h5v5h-5zM1116 488h5v5h-5zM1116 492h5v5h-5zM1120 480h5v5h-5zM1120 500h5v5h-5zM1124 504h5v5h-5zM1132 508h5v5h-5zM1136 508h5v5h-5zM1140 508h5v5h-5zM1148 504h5v5h-5zM1172 480h5v5h-5zM1160 500h5v5h-5zM1152 504h5v5h-5zM1172 496h5v5h-5zM532 512h5v5h-5zM536 520h5v5h-5zM548 540h5v5h-5zM668 668h5v5h-5zM708 712h5v5h-5zM712 724h5v5h-5zM712 728h5v5h-5zM712 732h5v5h-5zM700 752h5v5h-5zM688 764h5v5h-5zM708 740h5v5h-5zM704 744h5v5h-5zM704 748h5v5h-5z"/><path fill="#b3bd65" d="M236 344h5v5h-5zM236 348h5v5h-5zM248 360h5v5h-5zM260 368h5v5h-5zM268 372h5v5h-5zM280 376h5v5h-5zM284 376h5v5h-5zM300 380h5v5h-5zM304 380h5v5h-5zM328 384h5v5h-5zM332 384h5v5h-5zM356 388h5v5h-5zM380 392h5v5h-5zM396 396h5v5h-5zM408 400h5v5h-5zM420 404h5v5h-5zM428 408h5v5h-5zM452 420h5v5h-5zM460 424h5v5h-5zM476 436h5v5h-5zM504 468h5v5h-5zM508 472h5v5h-5zM512 476h5v5h-5zM1132 468h5v5h-5zM1124 476h5v5h-5zM1128 472h5v5h-5zM1136 464h5v5h-5zM1140 464h5v5h-5zM1144 464h5v5h-5zM1148 464h5v5h-5zM1152 464h5v5h-5zM1156 464h5v5h-5zM1160 468h5v5h-5zM1168 476h5v5h-5zM520 488h5v5h-5zM524 496h5v5h-5zM528 508h5v5h-5zM1120 484h5v5h-5zM1120 496h5v5h-5zM1124 500h5v5h-5zM1128 504h5v5h-5zM1132 504h5v5h-5zM1140 504h5v5h-5zM1144 504h5v5h-5zM1172 484h5v5h-5zM1172 488h5v5h-5zM1172 492h5v5h-5zM1156 500h5v5h-5zM1168 496h5v5h-5zM540 528h5v5h-5zM572 568h5v5h-5zM584 584h5v5h-5zM700 700h5v5h-5zM708 716h5v5h-5zM700 748h5v5h-5zM696 756h5v5h-5zM692 760h5v5h-5zM708 736h5v5h-5z"/><path fill="#b5bd65" d="M232 344h5v5h-5zM236 352h5v5h-5zM240 356h5v5h-5zM252 364h5v5h-5zM256 368h5v5h-5zM264 372h5v5h-5zM276 376h5v5h-5zM292 380h5v5h-5zM296 380h5v5h-5zM324 384h5v5h-5zM352 388h5v5h-5zM376 392h5v5h-5zM416 404h5v5h-5zM436 412h5v5h-5zM444 416h5v5h-5zM464 428h5v5h-5zM488 452h5v5h-5zM492 456h5v5h-5zM496 460h5v5h-5zM500 464h5v5h-5zM1128 476h5v5h-5zM1136 468h5v5h-5zM1156 468h5v5h-5zM1164 472h5v5h-5zM516 484h5v5h-5zM520 492h5v5h-5zM524 500h5v5h-5zM1124 480h5v5h-5zM1124 484h5v5h-5zM1120 488h9v9h-9zM1124 496h5v5h-5zM1128 500h5v5h-5zM1148 500h5v5h-5zM1136 504h5v5h-5zM1168 480h5v5h-5zM1152 500h5v5h-5zM1164 496h5v5h-5zM532 516h5v5h-5zM536 524h5v5h-5zM544 536h5v5h-5zM556 552h5v5h-5zM560 556h5v5h-5zM564 560h5v5h-5zM568 564h5v5h-5zM580 580h5v5h-5zM672 672h5v5h-5zM676 676h5v5h-5zM692 692h5v5h-5zM696 696h5v5h-5zM704 708h5v5h-5zM708 720h5v5h-5zM708 724h5v5h-5zM708 728h5v5h-5zM708 732h5v5h-5zM700 744h5v5h-5zM684 764h5v5h-5zM692 756h5v5h-5zM696 752h5v5h-5zM688 760h5v5h-5zM704 740h5v5h-5z"/><path fill="#b7bd64" d="M232 348h5v5h-5zM244 360h5v5h-5zM248 364h5v5h-5zM260 372h5v5h-5zM268 376h5v5h-5zM272 376h5v5h-5zM284 380h5v5h-5zM288 380h5v5h-5zM316 384h5v5h-5zM320 384h5v5h-5zM348 388h5v5h-5zM372 392h5v5h-5zM392 396h5v5h-5zM404 400h5v5h-5zM424 408h5v5h-5zM432 412h5v5h-5zM440 416h5v5h-5zM448 420h5v5h-5zM456 424h5v5h-5zM468 432h5v5h-5zM472 436h5v5h-5zM476 440h5v5h-5zM480 444h5v5h-5zM484 448h5v5h-5zM504 472h5v5h-5zM508 476h5v5h-5zM1132 472h5v5h-5zM1140 468h5v5h-5zM1144 468h5v5h-5zM1148 468h5v5h-5zM1136 472h5v5h-5zM1152 468h5v5h-5zM1160 472h5v5h-5zM1164 476h5v5h-5zM512 480h5v5h-5zM516 488h5v5h-5zM520 496h5v5h-5zM524 504h5v5h-5zM1128 496h5v5h-5zM1132 500h5v5h-5zM1144 500h5v5h-5zM1168 484h5v5h-5zM1168 492h5v5h-5zM1156 496h5v5h-5zM1160 496h5v5h-5zM528 512h5v5h-5zM532 520h5v5h-5zM540 532h5v5h-5zM552 548h5v5h-5zM620 624h5v5h-5zM624 628h5v5h-5zM628 632h5v5h-5zM632 636h5v5h-5zM680 680h5v5h-5zM684 684h5v5h-5zM688 688h5v5h-5zM704 712h5v5h-5zM700 740h5v5h-5zM696 748h5v5h-5zM704 736h5v5h-5z"/><path fill="#b9bd63" d="M232 352h5v5h-5zM236 356h5v5h-5zM240 360h5v5h-5zM244 364h5v5h-5zM252 368h5v5h-5zM256 372h5v5h-5zM264 376h5v5h-5zM276 380h5v5h-5zM280 380h5v5h-5zM304 384h5v5h-5zM308 384h5v5h-5zM312 384h5v5h-5zM340 388h5v5h-5zM344 388h5v5h-5zM388 396h5v5h-5zM400 400h5v5h-5zM412 404h5v5h-5zM460 428h5v5h-5zM488 456h5v5h-5zM492 460h5v5h-5zM496 464h5v5h-5zM500 468h5v5h-5zM1132 476h5v5h-5zM1140 472h5v5h-5zM1152 472h5v5h-5zM1156 472h5v5h-5zM1160 476h5v5h-5zM512 484h5v5h-5zM516 492h5v5h-5zM520 500h5v5h-5zM524 508h5v5h-5zM1128 480h9v9h-9zM1128 488h9v9h-9zM1132 496h5v5h-5zM1136 496h9v9h-9zM1148 496h5v5h-5zM1164 480h5v5h-5zM1164 492h5v5h-5zM1168 488h5v5h-5zM1152 496h5v5h-5zM536 528h5v5h-5zM548 544h5v5h-5zM576 576h5v5h-5zM616 620h5v5h-5zM636 640h5v5h-5zM700 704h5v5h-5zM704 716h5v5h-5zM704 728h5v5h-5zM704 732h5v5h-5zM700 736h5v5h-5zM696 744h5v5h-5zM684 756h5v5h-5zM680 760h5v5h-5zM684 760h5v5h-5zM692 752h5v5h-5zM688 756h5v5h-5z"/><path fill="#bbbd62" d="M228 344h5v5h-5zM228 348h5v5h-5zM232 356h5v5h-5zM236 360h5v5h-5zM240 364h5v5h-5zM248 368h5v5h-5zM252 372h5v5h-5zM256 376h9v9h-9zM264 380h5v5h-5zM268 380h5v5h-5zM272 380h5v5h-5zM288 384h5v5h-5zM292 384h5v5h-5zM296 384h5v5h-5zM300 384h5v5h-5zM336 388h5v5h-5zM364 392h5v5h-5zM368 392h5v5h-5zM384 396h5v5h-5zM420 408h5v5h-5zM428 412h5v5h-5zM436 416h5v5h-5zM444 420h5v5h-5zM452 424h5v5h-5zM464 432h5v5h-5zM468 436h5v5h-5zM472 440h5v5h-5zM476 444h5v5h-5zM480 448h5v5h-5zM484 452h5v5h-5zM504 476h5v5h-5zM1136 476h5v5h-5zM1140 476h5v5h-5zM1144 472h9v9h-9zM1156 476h5v5h-5zM508 480h5v5h-5zM512 488h5v5h-5zM516 496h5v5h-5zM520 504h5v5h-5zM1144 496h5v5h-5zM1164 484h5v5h-5zM1164 488h5v5h-5zM1160 492h5v5h-5zM528 516h5v5h-5zM532 524h5v5h-5zM544 540h5v5h-5zM612 616h5v5h-5zM640 644h5v5h-5zM696 700h5v5h-5zM700 708h5v5h-5zM700 732h5v5h-5zM704 720h5v5h-5zM704 724h5v5h-5zM696 740h5v5h-5zM692 748h5v5h-5zM680 756h5v5h-5zM688 752h5v5h-5z"/><path fill="#bdbc61" d="M224 344h5v5h-5zM224 348h5v5h-5zM228 352h5v5h-5zM228 356h5v5h-5zM236 364h5v5h-5zM240 368h9v9h-9zM248 372h5v5h-5zM248 376h9v9h-9zM272 384h5v5h-5zM276 384h5v5h-5zM280 384h5v5h-5zM284 384h5v5h-5zM324 388h5v5h-5zM328 388h5v5h-5zM332 388h5v5h-5zM360 392h5v5h-5zM380 396h5v5h-5zM396 400h5v5h-5zM408 404h5v5h-5zM416 408h5v5h-5zM456 428h5v5h-5zM460 432h5v5h-5zM484 456h5v5h-5zM488 460h5v5h-5zM492 464h5v5h-5zM496 468h5v5h-5zM500 472h5v5h-5zM1152 476h5v5h-5zM508 484h5v5h-5zM512 492h5v5h-5zM1136 480h9v9h-9zM1136 488h9v9h-9zM1160 480h5v5h-5zM1152 492h5v5h-5zM1156 492h5v5h-5zM524 512h5v5h-5zM540 536h5v5h-5zM572 572h5v5h-5zM604 608h5v5h-5zM608 612h5v5h-5zM644 648h5v5h-5zM648 652h5v5h-5zM652 656h5v5h-5zM692 696h5v5h-5zM700 712h5v5h-5zM700 728h5v5h-5zM696 736h5v5h-5zM692 744h5v5h-5zM688 748h5v5h-5zM684 752h5v5h-5z"/><path fill="#c0bc60" d="M224 352h5v5h-5zM232 360h5v5h-5zM232 364h5v5h-5zM240 376h9v9h-9zM256 384h9v9h-9zM264 384h9v9h-9zM308 388h5v5h-5zM312 388h5v5h-5zM316 388h5v5h-5zM320 388h5v5h-5zM356 392h5v5h-5zM392 400h5v5h-5zM404 404h5v5h-5zM424 412h5v5h-5zM432 416h5v5h-5zM440 420h5v5h-5zM448 424h5v5h-5zM464 436h5v5h-5zM468 440h5v5h-5zM472 444h5v5h-5zM476 448h5v5h-5zM480 452h5v5h-5zM500 476h5v5h-5zM504 480h5v5h-5zM516 500h5v5h-5zM520 508h5v5h-5zM1144 480h9v9h-9zM1144 488h9v9h-9zM1152 480h9v9h-9zM1160 484h5v5h-5zM1152 488h5v5h-5zM1156 488h5v5h-5zM1160 488h5v5h-5zM528 520h5v5h-5zM536 532h5v5h-5zM568 568h5v5h-5zM592 596h5v5h-5zM596 600h5v5h-5zM600 604h5v5h-5zM656 660h5v5h-5zM688 692h5v5h-5zM696 704h5v5h-5zM700 716h5v5h-5zM700 720h5v5h-5zM700 724h5v5h-5zM696 732h5v5h-5zM692 740h5v5h-5zM688 744h5v5h-5zM676 756h5v5h-5zM680 752h5v5h-5z"/><path fill="#c2bc5f" d="M216 344h9v9h-9zM224 356h5v5h-5zM224 360h9v9h-9zM224 368h17v17h-17zM208 384h17v17h-17zM224 384h17v17h-17zM240 384h9v9h-9zM248 384h9v9h-9zM240 392h9v9h-9zM272 388h5v5h-5zM276 388h5v5h-5zM280 388h5v5h-5zM284 388h5v5h-5zM288 388h5v5h-5zM292 388h5v5h-5zM296 388h5v5h-5zM300 388h5v5h-5zM304 388h5v5h-5zM348 392h5v5h-5zM352 392h5v5h-5zM376 396h5v5h-5zM412 408h5v5h-5zM420 412h5v5h-5zM444 424h5v5h-5zM452 428h5v5h-5zM456 432h5v5h-5zM480 456h5v5h-5zM484 460h5v5h-5zM488 464h5v5h-5zM492 468h5v5h-5zM496 472h5v5h-5zM504 484h5v5h-5zM508 488h5v5h-5zM512 496h5v5h-5zM516 504h5v5h-5zM524 516h5v5h-5zM532 528h5v5h-5zM544 544h5v5h-5zM548 548h5v5h-5zM552 552h5v5h-5zM556 556h5v5h-5zM560 560h5v5h-5zM564 564h5v5h-5zM588 592h5v5h-5zM660 664h5v5h-5zM684 688h5v5h-5zM696 728h5v5h-5zM684 748h5v5h-5zM692 736h5v5h-5z"/><path fill="#c4bc5f" d="M216 352h9v9h-9zM208 376h9v9h-9zM216 376h9v9h-9zM200 392h9v9h-9zM192 400h17v17h-17zM208 400h17v17h-17zM248 392h9v9h-9zM224 400h9v9h-9zM256 392h9v9h-9zM272 392h5v5h-5zM340 392h5v5h-5zM344 392h5v5h-5zM368 396h5v5h-5zM372 396h5v5h-5zM388 400h5v5h-5zM400 404h5v5h-5zM208 416h9v9h-9zM428 416h5v5h-5zM436 420h5v5h-5zM448 428h5v5h-5zM460 436h5v5h-5zM464 440h5v5h-5zM468 444h5v5h-5zM472 448h5v5h-5zM476 452h5v5h-5zM496 476h5v5h-5zM500 480h5v5h-5zM508 492h5v5h-5zM512 500h5v5h-5zM520 512h5v5h-5zM528 524h5v5h-5zM540 540h5v5h-5zM584 588h5v5h-5zM664 668h5v5h-5zM668 672h5v5h-5zM672 676h5v5h-5zM676 680h5v5h-5zM680 684h5v5h-5zM692 700h5v5h-5zM696 708h5v5h-5zM696 712h5v5h-5zM696 720h5v5h-5zM696 724h5v5h-5zM692 732h5v5h-5zM684 744h5v5h-5zM680 748h5v5h-5zM688 740h5v5h-5zM676 752h5v5h-5z"/><path fill="#c6bc5e" d="M208 344h9v9h-9zM208 352h9v9h-9zM216 360h9v9h-9zM200 368h9v9h-9zM200 376h9v9h-9zM208 368h9v9h-9zM216 368h9v9h-9zM200 384h9v9h-9zM232 400h9v9h-9zM240 400h9v9h-9zM264 392h9v9h-9zM276 392h5v5h-5zM280 392h5v5h-5zM284 392h5v5h-5zM288 392h5v5h-5zM292 392h5v5h-5zM296 392h5v5h-5zM300 392h5v5h-5zM328 392h5v5h-5zM332 392h5v5h-5zM336 392h5v5h-5zM364 396h5v5h-5zM384 400h5v5h-5zM396 404h5v5h-5zM408 408h5v5h-5zM416 412h5v5h-5zM216 416h9v9h-9zM424 416h5v5h-5zM432 420h5v5h-5zM440 424h5v5h-5zM452 432h5v5h-5zM456 436h5v5h-5zM472 452h5v5h-5zM476 456h5v5h-5zM480 460h5v5h-5zM484 464h5v5h-5zM488 468h5v5h-5zM492 472h5v5h-5zM500 484h5v5h-5zM504 488h5v5h-5zM508 496h5v5h-5zM516 508h5v5h-5zM524 520h5v5h-5zM536 536h5v5h-5zM580 584h5v5h-5zM696 716h5v5h-5zM692 728h5v5h-5zM684 740h5v5h-5zM688 736h5v5h-5z"/><path fill="#c8bc5d" d="M192 352h17v17h-17zM208 360h9v9h-9zM192 368h9v9h-9zM192 392h9v9h-9zM224 408h9v9h-9zM248 400h9v9h-9zM272 396h5v5h-5zM276 396h5v5h-5zM280 396h5v5h-5zM256 400h5v5h-5zM260 400h5v5h-5zM304 392h5v5h-5zM308 392h5v5h-5zM312 392h5v5h-5zM316 392h5v5h-5zM320 392h5v5h-5zM324 392h5v5h-5zM360 396h5v5h-5zM380 400h5v5h-5zM392 404h5v5h-5zM404 408h5v5h-5zM444 428h5v5h-5zM460 440h5v5h-5zM464 444h5v5h-5zM468 448h5v5h-5zM492 476h5v5h-5zM496 480h5v5h-5zM504 492h5v5h-5zM512 504h5v5h-5zM520 516h5v5h-5zM532 532h5v5h-5zM576 580h5v5h-5zM688 696h5v5h-5zM692 704h5v5h-5zM692 724h5v5h-5zM688 732h5v5h-5zM684 736h5v5h-5zM680 744h5v5h-5zM672 752h5v5h-5z"/><path fill="#cabb5c" d="M184 360h9v9h-9zM192 376h9v9h-9zM184 392h9v9h-9zM192 384h9v9h-9zM232 408h9v9h-9zM240 408h5v5h-5zM284 396h5v5h-5zM256 404h5v5h-5zM264 400h5v5h-5zM268 400h5v5h-5zM272 400h5v5h-5zM288 396h5v5h-5zM292 396h5v5h-5zM352 396h5v5h-5zM356 396h5v5h-5zM376 400h5v5h-5zM400 408h5v5h-5zM412 412h5v5h-5zM224 416h9v9h-9zM420 416h5v5h-5zM428 420h5v5h-5zM436 424h5v5h-5zM448 432h5v5h-5zM452 436h5v5h-5zM456 440h5v5h-5zM460 444h5v5h-5zM464 448h5v5h-5zM468 452h5v5h-5zM472 456h5v5h-5zM476 460h5v5h-5zM480 464h5v5h-5zM484 468h5v5h-5zM488 472h5v5h-5zM500 488h5v5h-5zM508 500h5v5h-5zM516 512h5v5h-5zM528 528h5v5h-5zM572 576h5v5h-5zM684 692h5v5h-5zM692 708h5v5h-5zM692 712h5v5h-5zM692 716h5v5h-5zM692 720h5v5h-5zM688 728h5v5h-5zM668 748h5v5h-5zM680 740h5v5h-5zM672 744h9v9h-9z"/><path fill="#ccbb5b" d="M184 384h9v9h-9zM244 408h5v5h-5zM248 408h5v5h-5zM252 408h5v5h-5zM260 404h5v5h-5zM264 404h5v5h-5zM276 400h5v5h-5zM280 400h5v5h-5zM296 396h5v5h-5zM300 396h5v5h-5zM304 396h5v5h-5zM344 396h5v5h-5zM348 396h5v5h-5zM372 400h5v5h-5zM388 404h5v5h-5zM408 412h5v5h-5zM224 424h9v9h-9zM416 416h5v5h-5zM424 420h5v5h-5zM432 424h5v5h-5zM440 428h5v5h-5zM444 432h5v5h-5zM488 476h5v5h-5zM492 480h5v5h-5zM496 484h5v5h-5zM500 492h5v5h-5zM504 496h5v5h-5zM508 504h5v5h-5zM512 508h5v5h-5zM520 520h5v5h-5zM524 524h5v5h-5zM540 544h5v5h-5zM544 548h5v5h-5zM548 552h5v5h-5zM552 556h5v5h-5zM680 688h5v5h-5zM688 700h5v5h-5zM684 732h5v5h-5zM688 724h5v5h-5zM668 744h5v5h-5zM676 740h5v5h-5zM680 736h5v5h-5z"/><path fill="#cebb5a" d="M176 368h17v17h-17zM176 384h9v9h-9zM240 412h5v5h-5zM268 404h5v5h-5zM256 408h5v5h-5zM260 408h5v5h-5zM272 404h5v5h-5zM276 404h5v5h-5zM284 400h5v5h-5zM308 396h5v5h-5zM312 396h5v5h-5zM316 396h5v5h-5zM288 400h5v5h-5zM320 396h5v5h-5zM324 396h5v5h-5zM328 396h5v5h-5zM332 396h5v5h-5zM336 396h5v5h-5zM340 396h5v5h-5zM368 400h5v5h-5zM384 404h5v5h-5zM396 408h5v5h-5zM404 412h5v5h-5zM232 416h9v9h-9zM428 424h5v5h-5zM436 428h5v5h-5zM448 436h5v5h-5zM452 440h5v5h-5zM456 444h5v5h-5zM460 448h5v5h-5zM464 452h5v5h-5zM468 456h5v5h-5zM472 460h5v5h-5zM476 464h5v5h-5zM480 468h5v5h-5zM484 472h5v5h-5zM496 488h5v5h-5zM504 500h5v5h-5zM516 516h5v5h-5zM536 540h5v5h-5zM556 560h5v5h-5zM564 568h5v5h-5zM568 572h5v5h-5zM672 680h5v5h-5zM676 684h5v5h-5zM684 696h5v5h-5zM688 704h5v5h-5zM688 716h5v5h-5zM684 728h5v5h-5zM680 732h5v5h-5zM688 720h5v5h-5zM672 740h5v5h-5z"/><path fill="#d0bb59" d="M244 412h5v5h-5zM248 412h5v5h-5zM264 408h5v5h-5zM268 408h5v5h-5zM280 404h5v5h-5zM284 404h5v5h-5zM292 400h5v5h-5zM296 400h5v5h-5zM300 400h5v5h-5zM360 400h5v5h-5zM364 400h5v5h-5zM380 404h5v5h-5zM392 408h5v5h-5zM232 424h9v9h-9zM240 416h5v5h-5zM240 420h5v5h-5zM412 416h5v5h-5zM420 420h5v5h-5zM432 428h5v5h-5zM440 432h5v5h-5zM444 436h5v5h-5zM480 472h5v5h-5zM484 476h5v5h-5zM488 480h5v5h-5zM492 484h5v5h-5zM500 496h5v5h-5zM508 508h5v5h-5zM512 512h5v5h-5zM528 532h5v5h-5zM532 536h5v5h-5zM560 564h5v5h-5zM628 636h5v5h-5zM632 640h5v5h-5zM636 644h5v5h-5zM640 648h5v5h-5zM644 652h5v5h-5zM648 656h5v5h-5zM652 660h5v5h-5zM668 676h5v5h-5zM688 708h5v5h-5zM688 712h5v5h-5zM684 724h5v5h-5zM680 728h5v5h-5zM676 736h5v5h-5z"/><path fill="#d2bb59" d="M252 412h5v5h-5zM256 412h5v5h-5zM260 412h5v5h-5zM272 408h5v5h-5zM276 408h5v5h-5zM288 404h5v5h-5zM304 400h5v5h-5zM308 400h5v5h-5zM356 400h5v5h-5zM376 404h5v5h-5zM388 408h5v5h-5zM400 412h5v5h-5zM244 416h5v5h-5zM240 424h5v5h-5zM408 416h5v5h-5zM416 420h5v5h-5zM424 424h5v5h-5zM436 432h5v5h-5zM448 440h5v5h-5zM452 444h5v5h-5zM456 448h5v5h-5zM460 452h5v5h-5zM464 456h5v5h-5zM468 460h5v5h-5zM472 464h5v5h-5zM476 468h5v5h-5zM492 488h5v5h-5zM496 492h5v5h-5zM504 504h5v5h-5zM524 528h5v5h-5zM620 628h5v5h-5zM624 632h5v5h-5zM656 664h5v5h-5zM660 668h5v5h-5zM664 672h5v5h-5zM680 692h5v5h-5zM684 700h5v5h-5zM684 720h5v5h-5zM676 732h5v5h-5zM668 740h5v5h-5zM672 736h5v5h-5z"/><path fill="#d4bb58" d="M264 412h5v5h-5zM268 412h5v5h-5zM280 408h5v5h-5zM284 408h5v5h-5zM292 404h5v5h-5zM296 404h5v5h-5zM312 400h5v5h-5zM316 400h5v5h-5zM320 400h5v5h-5zM324 400h5v5h-5zM344 400h5v5h-5zM348 400h5v5h-5zM352 400h5v5h-5zM372 404h5v5h-5zM396 412h5v5h-5zM244 420h5v5h-5zM248 416h5v5h-5zM244 424h5v5h-5zM240 428h5v5h-5zM240 432h5v5h-5zM404 416h5v5h-5zM420 424h5v5h-5zM428 428h5v5h-5zM440 436h5v5h-5zM444 440h5v5h-5zM448 444h5v5h-5zM452 448h5v5h-5zM468 464h5v5h-5zM472 468h5v5h-5zM476 472h5v5h-5zM480 476h5v5h-5zM484 480h5v5h-5zM488 484h5v5h-5zM496 496h5v5h-5zM500 500h5v5h-5zM512 516h5v5h-5zM516 520h5v5h-5zM520 524h5v5h-5zM616 624h5v5h-5zM676 688h5v5h-5zM684 704h5v5h-5zM684 708h5v5h-5zM684 712h5v5h-5zM684 716h5v5h-5zM680 724h5v5h-5zM676 728h5v5h-5zM672 732h5v5h-5zM668 736h5v5h-5zM664 740h5v5h-5z"/><path fill="#d6ba57" d="M272 412h5v5h-5zM276 412h5v5h-5zM300 404h5v5h-5zM288 408h5v5h-5zM292 408h5v5h-5zM304 404h5v5h-5zM328 400h5v5h-5zM332 400h5v5h-5zM336 400h5v5h-5zM340 400h5v5h-5zM364 404h5v5h-5zM368 404h5v5h-5zM384 408h5v5h-5zM252 416h5v5h-5zM248 420h5v5h-5zM244 428h5v5h-5zM256 416h5v5h-5zM412 420h5v5h-5zM424 428h5v5h-5zM432 432h5v5h-5zM436 436h5v5h-5zM456 452h5v5h-5zM460 456h5v5h-5zM464 460h5v5h-5zM488 488h5v5h-5zM492 492h5v5h-5zM504 508h5v5h-5zM508 512h5v5h-5zM540 548h5v5h-5zM544 552h5v5h-5zM612 620h5v5h-5zM672 684h5v5h-5zM680 696h5v5h-5zM668 732h5v5h-5zM676 724h5v5h-5zM680 720h5v5h-5zM664 736h5v5h-5z"/><path fill="#d8ba56" d="M280 412h5v5h-5zM284 412h5v5h-5zM296 408h5v5h-5zM308 404h5v5h-5zM312 404h5v5h-5zM360 404h5v5h-5zM380 408h5v5h-5zM392 412h5v5h-5zM252 420h5v5h-5zM244 432h5v5h-5zM260 416h5v5h-5zM264 416h5v5h-5zM400 416h5v5h-5zM408 420h5v5h-5zM416 424h5v5h-5zM428 432h5v5h-5zM440 440h5v5h-5zM444 444h5v5h-5zM448 448h5v5h-5zM452 452h5v5h-5zM456 456h5v5h-5zM460 460h5v5h-5zM464 464h5v5h-5zM468 468h5v5h-5zM472 472h5v5h-5zM476 476h5v5h-5zM480 480h5v5h-5zM484 484h5v5h-5zM496 500h5v5h-5zM500 504h5v5h-5zM528 536h5v5h-5zM532 540h5v5h-5zM536 544h5v5h-5zM576 584h5v5h-5zM580 588h5v5h-5zM584 592h5v5h-5zM588 596h5v5h-5zM592 600h5v5h-5zM596 604h5v5h-5zM600 608h5v5h-5zM604 612h5v5h-5zM608 616h5v5h-5zM668 680h5v5h-5zM676 692h5v5h-5zM680 700h5v5h-5zM680 712h5v5h-5zM680 716h5v5h-5zM672 728h5v5h-5z"/><path fill="#daba55" d="M288 412h5v5h-5zM292 412h5v5h-5zM300 408h5v5h-5zM316 404h5v5h-5zM304 408h5v5h-5zM320 404h5v5h-5zM324 404h5v5h-5zM348 404h5v5h-5zM352 404h5v5h-5zM356 404h5v5h-5zM372 408h5v5h-5zM376 408h5v5h-5zM388 412h5v5h-5zM248 424h9v9h-9zM256 420h5v5h-5zM268 416h5v5h-5zM272 416h5v5h-5zM276 416h5v5h-5zM396 416h5v5h-5zM404 420h5v5h-5zM412 424h5v5h-5zM420 428h5v5h-5zM424 432h5v5h-5zM432 436h5v5h-5zM436 440h5v5h-5zM440 444h5v5h-5zM484 488h5v5h-5zM488 492h5v5h-5zM492 496h5v5h-5zM512 520h5v5h-5zM516 524h5v5h-5zM520 528h5v5h-5zM524 532h5v5h-5zM548 556h5v5h-5zM572 580h5v5h-5zM664 676h5v5h-5zM668 728h5v5h-5zM664 732h5v5h-5zM680 704h5v5h-5zM680 708h5v5h-5zM676 720h5v5h-5zM672 724h5v5h-5zM660 736h5v5h-5z"/><path fill="#dcba54" d="M296 412h5v5h-5zM300 412h5v5h-5zM308 408h5v5h-5zM312 408h5v5h-5zM328 404h5v5h-5zM332 404h5v5h-5zM336 404h5v5h-5zM340 404h5v5h-5zM344 404h5v5h-5zM368 408h5v5h-5zM384 412h5v5h-5zM248 432h9v9h-9zM260 420h5v5h-5zM256 424h5v5h-5zM280 416h5v5h-5zM284 416h5v5h-5zM288 416h5v5h-5zM392 416h5v5h-5zM400 420h5v5h-5zM408 424h5v5h-5zM416 428h5v5h-5zM428 436h5v5h-5zM444 448h5v5h-5zM448 452h5v5h-5zM452 456h5v5h-5zM456 460h5v5h-5zM460 464h5v5h-5zM464 468h5v5h-5zM468 472h5v5h-5zM472 476h5v5h-5zM476 480h5v5h-5zM480 484h5v5h-5zM496 504h5v5h-5zM500 508h5v5h-5zM504 512h5v5h-5zM508 516h5v5h-5zM552 560h5v5h-5zM568 576h5v5h-5zM660 672h5v5h-5zM672 688h5v5h-5zM676 696h5v5h-5zM676 716h5v5h-5zM672 720h5v5h-5z"/><path fill="#deba53" d="M304 412h5v5h-5zM316 408h5v5h-5zM320 408h5v5h-5zM360 408h5v5h-5zM364 408h5v5h-5zM380 412h5v5h-5zM264 420h5v5h-5zM268 420h5v5h-5zM256 428h5v5h-5zM256 432h5v5h-5zM292 416h5v5h-5zM296 416h5v5h-5zM388 416h5v5h-5zM412 428h5v5h-5zM420 432h5v5h-5zM424 436h5v5h-5zM432 440h5v5h-5zM436 444h5v5h-5zM440 448h5v5h-5zM444 452h5v5h-5zM448 456h5v5h-5zM484 492h5v5h-5zM488 496h5v5h-5zM492 500h5v5h-5zM556 564h5v5h-5zM560 568h5v5h-5zM564 572h5v5h-5zM648 660h5v5h-5zM652 664h5v5h-5zM656 668h5v5h-5zM668 684h5v5h-5zM676 700h5v5h-5zM668 724h5v5h-5zM660 732h5v5h-5zM664 728h5v5h-5zM676 704h5v5h-5zM676 708h5v5h-5zM676 712h5v5h-5z"/><path fill="#e0ba52" d="M308 412h5v5h-5zM324 408h5v5h-5zM328 408h5v5h-5zM332 408h5v5h-5zM348 408h5v5h-5zM352 408h5v5h-5zM356 408h5v5h-5zM376 412h5v5h-5zM260 424h5v5h-5zM272 420h5v5h-5zM276 420h5v5h-5zM280 420h5v5h-5zM284 420h5v5h-5zM256 436h5v5h-5zM288 420h5v5h-5zM292 420h5v5h-5zM300 416h5v5h-5zM396 420h5v5h-5zM404 424h5v5h-5zM416 432h5v5h-5zM428 440h5v5h-5zM432 444h5v5h-5zM452 460h5v5h-5zM456 464h5v5h-5zM460 468h5v5h-5zM464 472h5v5h-5zM468 476h5v5h-5zM472 480h5v5h-5zM476 484h5v5h-5zM480 488h5v5h-5zM640 652h5v5h-5zM644 656h5v5h-5zM672 692h5v5h-5zM668 720h5v5h-5zM664 724h5v5h-5zM660 728h5v5h-5zM656 732h5v5h-5zM672 716h5v5h-5z"/><path fill="#e2b951" d="M312 412h5v5h-5zM316 412h5v5h-5zM336 408h5v5h-5zM340 408h5v5h-5zM344 408h5v5h-5zM368 412h5v5h-5zM372 412h5v5h-5zM260 428h5v5h-5zM264 424h5v5h-5zM260 432h5v5h-5zM296 420h5v5h-5zM300 420h5v5h-5zM304 416h5v5h-5zM384 416h5v5h-5zM392 420h5v5h-5zM400 424h5v5h-5zM408 428h5v5h-5zM412 432h5v5h-5zM420 436h5v5h-5zM424 440h5v5h-5zM436 448h5v5h-5zM440 452h5v5h-5zM444 456h5v5h-5zM448 460h5v5h-5zM452 464h5v5h-5zM456 468h5v5h-5zM460 472h5v5h-5zM484 496h5v5h-5zM488 500h5v5h-5zM492 504h5v5h-5zM496 508h5v5h-5zM500 512h5v5h-5zM504 516h5v5h-5zM508 520h5v5h-5zM512 524h5v5h-5zM516 528h5v5h-5zM520 532h5v5h-5zM524 536h5v5h-5zM528 540h5v5h-5zM532 544h5v5h-5zM536 548h5v5h-5zM632 644h5v5h-5zM636 648h5v5h-5zM664 680h5v5h-5zM672 696h5v5h-5zM660 724h5v5h-5zM656 728h5v5h-5zM672 708h5v5h-5zM672 712h5v5h-5z"/><path fill="#e4b950" d="M320 412h5v5h-5zM324 412h5v5h-5zM328 412h5v5h-5zM360 412h5v5h-5zM364 412h5v5h-5zM268 424h5v5h-5zM264 428h5v5h-5zM284 424h5v5h-5zM260 436h5v5h-5zM288 424h5v5h-5zM292 424h5v5h-5zM296 424h5v5h-5zM308 416h5v5h-5zM304 420h5v5h-5zM312 416h5v5h-5zM376 416h5v5h-5zM380 416h5v5h-5zM388 420h5v5h-5zM396 424h5v5h-5zM404 428h5v5h-5zM416 436h5v5h-5zM428 444h5v5h-5zM432 448h5v5h-5zM436 452h5v5h-5zM464 476h5v5h-5zM468 480h5v5h-5zM472 484h5v5h-5zM476 488h5v5h-5zM480 492h5v5h-5zM540 552h5v5h-5zM624 636h5v5h-5zM628 640h5v5h-5zM660 676h5v5h-5zM668 688h5v5h-5zM672 700h5v5h-5zM668 716h5v5h-5zM652 728h5v5h-5zM664 720h5v5h-5zM672 704h5v5h-5z"/><path fill="#e6b94f" d="M332 412h5v5h-5zM336 412h5v5h-5zM340 412h5v5h-5zM344 412h5v5h-5zM348 412h5v5h-5zM352 412h5v5h-5zM356 412h5v5h-5zM272 424h5v5h-5zM276 424h5v5h-5zM280 424h5v5h-5zM264 432h5v5h-5zM260 440h5v5h-5zM300 424h5v5h-5zM308 420h5v5h-5zM316 416h5v5h-5zM372 416h5v5h-5zM384 420h5v5h-5zM392 424h5v5h-5zM400 428h5v5h-5zM408 432h5v5h-5zM412 436h5v5h-5zM420 440h5v5h-5zM424 444h5v5h-5zM440 456h5v5h-5zM444 460h5v5h-5zM448 464h5v5h-5zM452 468h5v5h-5zM456 472h5v5h-5zM460 476h5v5h-5zM484 500h5v5h-5zM488 504h5v5h-5zM544 556h5v5h-5zM620 632h5v5h-5zM656 672h5v5h-5zM664 684h5v5h-5zM668 692h5v5h-5zM668 708h5v5h-5zM668 712h5v5h-5zM664 716h5v5h-5zM660 720h5v5h-5zM656 724h5v5h-5z"/><path fill="#e8b94e" d="M268 428h5v5h-5zM268 432h5v5h-5zM264 436h5v5h-5zM312 420h5v5h-5zM304 424h5v5h-5zM320 416h5v5h-5zM324 416h5v5h-5zM328 416h5v5h-5zM364 416h5v5h-5zM368 416h5v5h-5zM380 420h5v5h-5zM388 424h5v5h-5zM396 428h5v5h-5zM404 432h5v5h-5zM416 440h5v5h-5zM420 444h5v5h-5zM428 448h5v5h-5zM432 452h5v5h-5zM436 456h5v5h-5zM440 460h5v5h-5zM464 480h5v5h-5zM468 484h5v5h-5zM472 488h5v5h-5zM476 492h5v5h-5zM480 496h5v5h-5zM492 508h5v5h-5zM496 512h5v5h-5zM500 516h5v5h-5zM616 628h5v5h-5zM652 668h5v5h-5zM668 696h5v5h-5zM668 700h5v5h-5zM668 704h5v5h-5z"/><path fill="#eab94d" d="M272 428h5v5h-5zM268 436h5v5h-5zM264 440h9v9h-9zM272 432h5v5h-5zM292 428h5v5h-5zM296 428h5v5h-5zM316 420h5v5h-5zM308 424h5v5h-5zM320 420h5v5h-5zM332 416h5v5h-5zM336 416h5v5h-5zM340 416h5v5h-5zM344 416h5v5h-5zM348 416h5v5h-5zM352 416h5v5h-5zM356 416h5v5h-5zM360 416h5v5h-5zM372 420h5v5h-5zM376 420h5v5h-5zM384 424h5v5h-5zM392 428h5v5h-5zM400 432h5v5h-5zM408 436h5v5h-5zM412 440h5v5h-5zM424 448h5v5h-5zM428 452h5v5h-5zM444 464h5v5h-5zM448 468h5v5h-5zM452 472h5v5h-5zM456 476h5v5h-5zM504 520h5v5h-5zM508 524h5v5h-5zM512 528h5v5h-5zM516 532h5v5h-5zM612 624h5v5h-5zM648 664h5v5h-5zM660 680h5v5h-5zM664 688h5v5h-5zM664 708h5v5h-5zM660 716h5v5h-5zM664 712h5v5h-5zM652 724h5v5h-5zM656 720h5v5h-5z"/><path fill="#ecb94c" d="M276 428h5v5h-5zM280 428h5v5h-5zM284 428h5v5h-5zM272 436h5v5h-5zM272 440h5v5h-5zM288 428h5v5h-5zM300 428h5v5h-5zM304 428h5v5h-5zM312 424h5v5h-5zM316 424h5v5h-5zM324 420h5v5h-5zM328 420h5v5h-5zM364 420h5v5h-5zM368 420h5v5h-5zM380 424h5v5h-5zM388 428h5v5h-5zM396 432h5v5h-5zM404 436h5v5h-5zM408 440h5v5h-5zM416 444h5v5h-5zM420 448h5v5h-5zM432 456h5v5h-5zM436 460h5v5h-5zM440 464h5v5h-5zM444 468h5v5h-5zM460 480h5v5h-5zM464 484h5v5h-5zM468 488h5v5h-5zM472 492h5v5h-5zM476 496h5v5h-5zM480 500h5v5h-5zM484 504h5v5h-5zM488 508h5v5h-5zM520 536h5v5h-5zM524 540h5v5h-5zM528 544h5v5h-5zM548 560h5v5h-5zM576 588h5v5h-5zM644 660h5v5h-5zM656 676h5v5h-5zM664 692h5v5h-5zM664 700h5v5h-5zM664 704h5v5h-5zM660 712h5v5h-5zM656 716h5v5h-5zM648 720h5v5h-5zM652 720h5v5h-5z"/><path fill="#eeb94b" d="M276 432h5v5h-5zM272 444h5v5h-5zM308 428h5v5h-5zM332 420h5v5h-5zM320 424h5v5h-5zM336 420h5v5h-5zM340 420h5v5h-5zM344 420h5v5h-5zM348 420h5v5h-5zM352 420h5v5h-5zM356 420h5v5h-5zM360 420h5v5h-5zM372 424h5v5h-5zM376 424h5v5h-5zM384 428h5v5h-5zM392 432h5v5h-5zM400 436h5v5h-5zM412 444h5v5h-5zM416 448h5v5h-5zM424 452h5v5h-5zM428 456h5v5h-5zM432 460h5v5h-5zM448 472h5v5h-5zM452 476h5v5h-5zM492 512h5v5h-5zM496 516h5v5h-5zM532 548h5v5h-5zM552 564h5v5h-5zM556 568h5v5h-5zM564 576h5v5h-5zM568 580h5v5h-5zM572 584h5v5h-5zM580 592h5v5h-5zM584 596h5v5h-5zM588 600h5v5h-5zM608 620h5v5h-5zM636 652h5v5h-5zM640 656h5v5h-5zM660 684h5v5h-5zM664 696h5v5h-5zM652 716h5v5h-5zM660 708h5v5h-5zM656 712h5v5h-5z"/><path fill="#f0b94a" d="M276 436h5v5h-5zM276 440h5v5h-5zM312 428h5v5h-5zM316 428h5v5h-5zM324 424h5v5h-5zM328 424h5v5h-5zM332 424h5v5h-5zM364 424h5v5h-5zM368 424h5v5h-5zM380 428h5v5h-5zM388 432h5v5h-5zM396 436h5v5h-5zM404 440h5v5h-5zM408 444h5v5h-5zM420 452h5v5h-5zM424 456h5v5h-5zM436 464h5v5h-5zM440 468h5v5h-5zM444 472h5v5h-5zM456 480h5v5h-5zM460 484h5v5h-5zM464 488h5v5h-5zM468 492h5v5h-5zM472 496h5v5h-5zM476 500h5v5h-5zM500 520h5v5h-5zM536 552h5v5h-5zM560 572h5v5h-5zM592 604h5v5h-5zM596 608h5v5h-5zM600 612h5v5h-5zM604 616h5v5h-5zM632 648h5v5h-5zM652 672h5v5h-5zM656 680h5v5h-5zM660 688h5v5h-5zM648 716h5v5h-5zM660 704h5v5h-5z"/><path fill="#f2b949" d="M280 432h9v9h-9zM276 444h5v5h-5zM288 432h5v5h-5zM292 432h5v5h-5zM296 432h5v5h-5zM300 432h5v5h-5zM320 428h5v5h-5zM336 424h5v5h-5zM340 424h5v5h-5zM344 424h5v5h-5zM348 424h5v5h-5zM352 424h5v5h-5zM356 424h5v5h-5zM360 424h5v5h-5zM372 428h5v5h-5zM376 428h5v5h-5zM384 432h5v5h-5zM392 436h5v5h-5zM400 440h5v5h-5zM404 444h5v5h-5zM412 448h5v5h-5zM416 452h5v5h-5zM428 460h5v5h-5zM432 464h5v5h-5zM448 476h5v5h-5zM452 480h5v5h-5zM480 504h5v5h-5zM484 508h5v5h-5zM504 524h5v5h-5zM508 528h5v5h-5zM628 644h5v5h-5zM648 668h5v5h-5zM660 692h5v5h-5zM660 696h5v5h-5zM660 700h5v5h-5zM652 712h5v5h-5zM656 708h5v5h-5z"/><path fill="#f4ba47" d="M280 440h9v9h-9zM288 436h5v5h-5zM304 432h5v5h-5zM308 432h5v5h-5zM312 432h5v5h-5zM324 428h5v5h-5zM328 428h5v5h-5zM332 428h5v5h-5zM364 428h5v5h-5zM368 428h5v5h-5zM376 432h5v5h-5zM380 432h5v5h-5zM388 436h5v5h-5zM396 440h5v5h-5zM400 444h5v5h-5zM276 448h5v5h-5zM408 448h5v5h-5zM412 452h5v5h-5zM420 456h5v5h-5zM424 460h5v5h-5zM428 464h5v5h-5zM436 468h5v5h-5zM440 472h5v5h-5zM456 484h5v5h-5zM460 488h5v5h-5zM464 492h5v5h-5zM468 496h5v5h-5zM472 500h5v5h-5zM488 512h5v5h-5zM492 516h5v5h-5zM512 532h5v5h-5zM516 536h5v5h-5zM624 640h5v5h-5zM644 664h5v5h-5zM652 676h5v5h-5zM656 684h5v5h-5zM652 708h5v5h-5zM648 712h5v5h-5zM656 704h5v5h-5z"/><path fill="#f6ba46" d="M292 436h5v5h-5zM288 440h9v9h-9zM316 432h5v5h-5zM336 428h5v5h-5zM340 428h5v5h-5zM344 428h5v5h-5zM348 428h5v5h-5zM320 432h5v5h-5zM352 428h5v5h-5zM356 428h5v5h-5zM360 428h5v5h-5zM372 432h5v5h-5zM380 436h5v5h-5zM384 436h5v5h-5zM388 440h5v5h-5zM392 440h5v5h-5zM396 444h5v5h-5zM280 448h9v9h-9zM288 448h5v5h-5zM404 448h5v5h-5zM408 452h5v5h-5zM416 456h5v5h-5zM420 460h5v5h-5zM432 468h5v5h-5zM444 476h5v5h-5zM448 480h5v5h-5zM476 504h5v5h-5zM496 520h5v5h-5zM520 540h5v5h-5zM540 556h5v5h-5zM616 632h5v5h-5zM620 636h5v5h-5zM656 688h5v5h-5zM656 692h5v5h-5zM656 696h5v5h-5zM656 700h5v5h-5zM652 704h5v5h-5zM648 708h5v5h-5zM640 712h9v9h-9z"/><path fill="#f7ba45" d="M296 436h5v5h-5zM300 436h5v5h-5zM324 432h5v5h-5zM328 432h5v5h-5zM332 432h5v5h-5zM360 432h5v5h-5zM364 432h5v5h-5zM368 432h5v5h-5zM376 436h5v5h-5zM384 440h5v5h-5zM392 444h5v5h-5zM292 448h5v5h-5zM288 452h5v5h-5zM400 448h5v5h-5zM404 452h5v5h-5zM412 456h5v5h-5zM416 460h5v5h-5zM424 464h5v5h-5zM428 468h5v5h-5zM436 472h5v5h-5zM440 476h5v5h-5zM452 484h5v5h-5zM456 488h5v5h-5zM460 492h5v5h-5zM464 496h5v5h-5zM480 508h5v5h-5zM484 512h5v5h-5zM500 524h5v5h-5zM524 544h5v5h-5zM612 628h5v5h-5zM640 660h5v5h-5zM648 672h5v5h-5zM652 680h5v5h-5zM644 708h5v5h-5zM648 704h5v5h-5z"/><path fill="#f9bb43" d="M304 436h5v5h-5zM308 436h5v5h-5zM312 436h5v5h-5zM316 436h5v5h-5zM320 436h5v5h-5zM324 436h5v5h-5zM336 432h9v9h-9zM344 432h9v9h-9zM352 432h9v9h-9zM368 436h5v5h-5zM372 436h5v5h-5zM380 440h5v5h-5zM388 444h5v5h-5zM292 452h5v5h-5zM396 448h5v5h-5zM400 452h5v5h-5zM408 456h5v5h-5zM412 460h5v5h-5zM420 464h5v5h-5zM424 468h5v5h-5zM432 472h5v5h-5zM444 480h5v5h-5zM448 484h5v5h-5zM452 488h5v5h-5zM468 500h5v5h-5zM472 504h5v5h-5zM488 516h5v5h-5zM504 528h5v5h-5zM528 548h5v5h-5zM544 560h5v5h-5zM608 624h5v5h-5zM636 656h5v5h-5zM652 684h5v5h-5zM652 700h5v5h-5zM640 708h5v5h-5z"/><path fill="#fabc41" d="M296 440h9v9h-9zM328 436h5v5h-5zM332 436h5v5h-5zM360 436h5v5h-5zM364 436h5v5h-5zM376 440h5v5h-5zM380 444h5v5h-5zM384 444h5v5h-5zM292 456h5v5h-5zM388 448h5v5h-5zM392 448h5v5h-5zM396 452h5v5h-5zM404 456h5v5h-5zM408 460h5v5h-5zM416 464h5v5h-5zM428 472h5v5h-5zM436 476h5v5h-5zM440 480h5v5h-5zM456 492h5v5h-5zM460 496h5v5h-5zM464 500h5v5h-5zM476 508h5v5h-5zM508 532h5v5h-5zM632 652h5v5h-5zM644 668h5v5h-5zM648 676h5v5h-5zM652 688h5v5h-5zM652 692h5v5h-5zM652 696h5v5h-5zM648 700h5v5h-5zM644 704h5v5h-5z"/><path fill="#fcbd40" d="M304 440h9v9h-9zM312 440h9v9h-9zM320 440h9v9h-9zM368 440h9v9h-9zM376 444h5v5h-5zM296 448h9v9h-9zM384 448h5v5h-5zM388 452h5v5h-5zM392 452h5v5h-5zM396 456h5v5h-5zM400 456h5v5h-5zM404 460h5v5h-5zM412 464h5v5h-5zM416 468h5v5h-5zM420 468h5v5h-5zM424 472h5v5h-5zM432 476h5v5h-5zM436 480h5v5h-5zM444 484h5v5h-5zM448 488h5v5h-5zM452 492h5v5h-5zM468 504h5v5h-5zM480 512h5v5h-5zM492 520h5v5h-5zM512 536h5v5h-5zM532 552h5v5h-5zM548 564h5v5h-5zM604 620h5v5h-5zM628 648h5v5h-5zM640 664h5v5h-5zM648 680h5v5h-5zM640 704h5v5h-5z"/><path fill="#fdbe3e" d="M328 440h9v9h-9zM336 440h9v9h-9zM344 440h9v9h-9zM352 440h9v9h-9zM360 440h9v9h-9zM296 456h9v9h-9zM304 448h9v9h-9zM376 448h9v9h-9zM384 452h5v5h-5zM392 456h5v5h-5zM400 460h5v5h-5zM404 464h5v5h-5zM408 464h5v5h-5zM412 468h5v5h-5zM420 472h5v5h-5zM428 476h5v5h-5zM440 484h5v5h-5zM444 488h5v5h-5zM456 496h5v5h-5zM460 500h5v5h-5zM472 508h5v5h-5zM484 516h5v5h-5zM496 524h5v5h-5zM516 540h5v5h-5zM552 568h5v5h-5zM568 584h5v5h-5zM572 588h5v5h-5zM576 592h5v5h-5zM600 616h5v5h-5zM624 644h5v5h-5zM644 672h5v5h-5zM648 684h5v5h-5zM648 688h5v5h-5zM648 692h5v5h-5zM644 700h5v5h-5zM648 696h5v5h-5z"/><path fill="#febf3d" d="M312 448h9v9h-9zM304 456h9v9h-9zM320 448h9v9h-9zM360 448h9v9h-9zM368 448h9v9h-9zM384 456h9v9h-9zM392 460h5v5h-5zM396 460h5v5h-5zM400 464h5v5h-5zM408 468h5v5h-5zM416 472h5v5h-5zM424 476h5v5h-5zM428 480h5v5h-5zM432 480h5v5h-5zM436 484h5v5h-5zM448 492h5v5h-5zM452 496h5v5h-5zM464 504h5v5h-5zM476 512h5v5h-5zM488 520h5v5h-5zM500 528h5v5h-5zM556 572h5v5h-5zM560 576h5v5h-5zM564 580h5v5h-5zM580 596h5v5h-5zM584 600h5v5h-5zM588 604h5v5h-5zM592 608h5v5h-5zM596 612h5v5h-5zM620 640h5v5h-5zM636 660h5v5h-5zM644 676h5v5h-5zM644 696h5v5h-5zM640 700h5v5h-5zM636 704h5v5h-5z"/><path fill="#fec03b" d="M312 456h9v9h-9zM304 464h17v17h-17zM328 448h9v9h-9zM336 448h9v9h-9zM344 448h9v9h-9zM352 448h9v9h-9zM376 456h9v9h-9zM392 464h5v5h-5zM396 464h5v5h-5zM400 468h5v5h-5zM404 468h5v5h-5zM412 472h5v5h-5zM420 476h5v5h-5zM424 480h5v5h-5zM432 484h5v5h-5zM440 488h5v5h-5zM444 492h5v5h-5zM456 500h5v5h-5zM468 508h5v5h-5zM504 532h5v5h-5zM520 544h5v5h-5zM536 556h5v5h-5zM616 636h5v5h-5zM640 668h5v5h-5zM636 700h5v5h-5zM644 680h5v5h-5zM644 692h5v5h-5zM640 696h5v5h-5z"/><path fill="#fec13a" d="M320 456h9v9h-9zM328 456h9v9h-9zM336 456h9v9h-9zM344 456h9v9h-9zM352 456h9v9h-9zM360 456h9v9h-9zM368 456h9v9h-9zM396 468h5v5h-5zM404 472h5v5h-5zM408 472h5v5h-5zM412 476h5v5h-5zM416 476h5v5h-5zM420 480h5v5h-5zM428 484h5v5h-5zM436 488h5v5h-5zM440 492h5v5h-5zM448 496h5v5h-5zM460 504h5v5h-5zM480 516h5v5h-5zM492 524h5v5h-5zM508 536h5v5h-5zM612 632h5v5h-5zM632 656h5v5h-5zM640 672h5v5h-5zM644 684h5v5h-5zM644 688h5v5h-5z"/><path fill="#ffc238" d="M320 464h17v17h-17zM336 464h9v9h-9zM376 464h9v9h-9zM384 464h9v9h-9zM392 468h5v5h-5zM400 472h5v5h-5zM404 476h5v5h-5zM408 476h5v5h-5zM412 480h5v5h-5zM416 480h5v5h-5zM424 484h5v5h-5zM432 488h5v5h-5zM436 492h5v5h-5zM444 496h5v5h-5zM452 500h5v5h-5zM456 504h5v5h-5zM464 508h5v5h-5zM472 512h5v5h-5zM484 520h5v5h-5zM524 548h5v5h-5zM540 560h5v5h-5zM608 628h5v5h-5zM628 652h5v5h-5zM636 664h5v5h-5zM636 696h5v5h-5zM632 700h5v5h-5zM640 676h5v5h-5zM640 692h5v5h-5z"/><path fill="#ffc437" d="M344 464h9v9h-9zM336 472h9v9h-9zM352 464h9v9h-9zM360 464h9v9h-9zM368 464h9v9h-9zM392 472h9v9h-9zM400 476h5v5h-5zM328 480h9v9h-9zM408 480h5v5h-5zM416 484h5v5h-5zM420 484h5v5h-5zM424 488h5v5h-5zM428 488h5v5h-5zM432 492h5v5h-5zM440 496h5v5h-5zM448 500h5v5h-5zM476 516h5v5h-5zM496 528h5v5h-5zM512 540h5v5h-5zM604 624h5v5h-5zM636 688h5v5h-5zM632 692h5v5h-5zM636 692h5v5h-5zM624 696h9v9h-9zM632 696h5v5h-5zM640 680h5v5h-5zM640 684h5v5h-5zM640 688h5v5h-5z"/><path fill="#fec535" d="M344 472h9v9h-9zM376 472h9v9h-9zM384 472h9v9h-9zM336 480h9v9h-9zM400 480h9v9h-9zM408 484h5v5h-5zM412 484h5v5h-5zM420 488h5v5h-5zM428 492h5v5h-5zM436 496h5v5h-5zM444 500h5v5h-5zM452 504h5v5h-5zM460 508h5v5h-5zM468 512h5v5h-5zM488 524h5v5h-5zM500 532h5v5h-5zM528 552h5v5h-5zM544 564h5v5h-5zM600 620h5v5h-5zM624 648h5v5h-5zM632 660h5v5h-5zM636 668h5v5h-5zM628 692h5v5h-5zM632 688h5v5h-5z"/><path fill="#fec634" d="M352 472h9v9h-9zM360 472h9v9h-9zM368 472h9v9h-9zM344 480h9v9h-9zM392 480h9v9h-9zM412 488h5v5h-5zM416 488h5v5h-5zM420 492h5v5h-5zM424 492h5v5h-5zM432 496h5v5h-5zM440 500h5v5h-5zM448 504h5v5h-5zM456 508h5v5h-5zM464 512h5v5h-5zM472 516h5v5h-5zM480 520h5v5h-5zM516 544h5v5h-5zM548 568h5v5h-5zM596 616h5v5h-5zM620 644h5v5h-5zM636 672h5v5h-5zM636 676h5v5h-5zM636 680h5v5h-5zM636 684h5v5h-5zM624 692h5v5h-5z"/><path fill="#fec833" d="M344 488h9v9h-9zM384 480h9v9h-9zM408 488h5v5h-5zM412 492h5v5h-5zM416 492h5v5h-5zM424 496h5v5h-5zM428 496h5v5h-5zM436 500h5v5h-5zM444 504h5v5h-5zM492 528h5v5h-5zM504 536h5v5h-5zM532 556h5v5h-5zM552 572h5v5h-5zM564 584h5v5h-5zM568 588h5v5h-5zM572 592h5v5h-5zM576 596h5v5h-5zM580 600h5v5h-5zM588 608h5v5h-5zM592 612h5v5h-5zM616 640h5v5h-5zM628 656h5v5h-5zM632 664h5v5h-5zM632 684h5v5h-5zM628 688h5v5h-5z"/><path fill="#fec932" d="M352 480h17v17h-17zM368 480h9v9h-9zM376 480h9v9h-9zM400 488h9v9h-9zM408 492h5v5h-5zM416 496h5v5h-5zM420 496h5v5h-5zM432 500h5v5h-5zM440 504h5v5h-5zM452 508h5v5h-5zM460 512h5v5h-5zM468 516h5v5h-5zM476 520h5v5h-5zM484 524h5v5h-5zM496 532h5v5h-5zM508 540h5v5h-5zM520 548h5v5h-5zM556 576h5v5h-5zM560 580h5v5h-5zM584 604h5v5h-5zM612 636h5v5h-5zM624 652h5v5h-5zM632 668h5v5h-5zM628 684h5v5h-5zM632 680h5v5h-5zM624 688h5v5h-5z"/><path fill="#fdca31" d="M368 488h9v9h-9zM376 488h9v9h-9zM352 496h17v17h-17zM384 488h9v9h-9zM392 488h9v9h-9zM408 496h5v5h-5zM412 496h5v5h-5zM424 500h5v5h-5zM428 500h5v5h-5zM436 504h5v5h-5zM448 508h5v5h-5zM456 512h5v5h-5zM488 528h5v5h-5zM536 560h5v5h-5zM604 628h5v5h-5zM608 632h5v5h-5zM628 660h5v5h-5zM632 672h5v5h-5zM632 676h5v5h-5zM628 680h5v5h-5zM624 684h5v5h-5zM620 688h5v5h-5z"/><path fill="#fdcc30" d="M368 496h17v17h-17zM400 496h5v5h-5zM404 496h5v5h-5zM416 500h5v5h-5zM420 500h5v5h-5zM428 504h5v5h-5zM432 504h5v5h-5zM440 508h5v5h-5zM444 508h5v5h-5zM452 512h5v5h-5zM464 516h5v5h-5zM472 520h5v5h-5zM480 524h5v5h-5zM500 536h5v5h-5zM512 544h5v5h-5zM600 624h5v5h-5zM620 648h5v5h-5zM628 664h5v5h-5zM628 676h5v5h-5z"/><path fill="#fccd2e" d="M384 496h9v9h-9zM392 496h9v9h-9zM384 504h9v9h-9zM404 500h5v5h-5zM408 500h5v5h-5zM412 500h5v5h-5zM420 504h5v5h-5zM424 504h5v5h-5zM436 508h5v5h-5zM368 512h17v17h-17zM448 512h5v5h-5zM460 516h5v5h-5zM492 532h5v5h-5zM524 552h5v5h-5zM540 564h5v5h-5zM596 620h5v5h-5zM624 656h5v5h-5zM628 668h5v5h-5zM628 672h5v5h-5zM624 680h5v5h-5z"/><path fill="#fcce2d" d="M392 504h9v9h-9zM400 500h5v5h-5zM412 504h5v5h-5zM416 504h5v5h-5zM428 508h5v5h-5zM432 508h5v5h-5zM384 512h9v9h-9zM444 512h5v5h-5zM456 516h5v5h-5zM468 520h5v5h-5zM476 524h5v5h-5zM484 528h5v5h-5zM504 540h5v5h-5zM592 616h5v5h-5zM616 644h5v5h-5zM624 660h5v5h-5zM620 676h5v5h-5zM616 680h9v9h-9zM624 672h5v5h-5zM624 676h5v5h-5z"/><path fill="#fbcf2c" d="M400 504h9v9h-9zM408 504h5v5h-5zM420 508h5v5h-5zM424 508h5v5h-5zM392 512h9v9h-9zM436 512h5v5h-5zM440 512h5v5h-5zM452 516h5v5h-5zM464 520h5v5h-5zM496 536h5v5h-5zM516 548h5v5h-5zM528 556h5v5h-5zM544 568h5v5h-5zM564 588h5v5h-5zM568 592h5v5h-5zM572 596h5v5h-5zM584 608h5v5h-5zM588 612h5v5h-5zM608 636h5v5h-5zM612 640h5v5h-5zM620 652h5v5h-5zM624 664h5v5h-5zM624 668h5v5h-5zM620 672h5v5h-5zM616 676h5v5h-5zM608 680h9v9h-9z"/><path fill="#fbd12b" d="M408 508h5v5h-5zM412 508h5v5h-5zM416 508h5v5h-5zM392 520h9v9h-9zM400 512h9v9h-9zM428 512h5v5h-5zM432 512h5v5h-5zM448 516h5v5h-5zM472 524h5v5h-5zM480 528h5v5h-5zM488 532h5v5h-5zM508 544h5v5h-5zM532 560h5v5h-5zM548 572h5v5h-5zM552 576h5v5h-5zM556 580h5v5h-5zM560 584h5v5h-5zM576 600h5v5h-5zM580 604h5v5h-5zM604 632h5v5h-5zM620 668h5v5h-5zM612 676h5v5h-5zM616 672h5v5h-5z"/><path fill="#fad22a" d="M400 520h9v9h-9zM424 512h5v5h-5zM440 516h5v5h-5zM444 516h5v5h-5zM460 520h5v5h-5zM500 540h5v5h-5zM520 552h5v5h-5zM600 628h5v5h-5zM616 648h5v5h-5zM620 656h5v5h-5zM620 660h5v5h-5zM620 664h5v5h-5zM612 672h5v5h-5zM608 676h5v5h-5z"/><path fill="#f9d329" d="M408 512h9v9h-9zM408 520h9v9h-9zM416 512h9v9h-9zM432 516h5v5h-5zM436 516h5v5h-5zM452 520h5v5h-5zM456 520h5v5h-5zM468 524h5v5h-5zM476 528h5v5h-5zM484 532h5v5h-5zM492 536h5v5h-5zM512 548h5v5h-5zM536 564h5v5h-5zM596 624h5v5h-5zM612 644h5v5h-5zM616 668h5v5h-5z"/><path fill="#f9d528" d="M408 528h9v9h-9zM424 516h5v5h-5zM428 516h5v5h-5zM416 520h9v9h-9zM440 520h5v5h-5zM444 520h5v5h-5zM448 520h5v5h-5zM464 524h5v5h-5zM472 528h5v5h-5zM496 540h5v5h-5zM504 544h5v5h-5zM524 556h5v5h-5zM592 620h5v5h-5zM608 640h5v5h-5zM616 652h5v5h-5zM616 660h5v5h-5zM612 668h5v5h-5zM616 664h5v5h-5zM608 672h5v5h-5z"/><path fill="#f8d627" d="M416 528h9v9h-9zM456 524h5v5h-5zM460 524h5v5h-5zM480 532h5v5h-5zM488 536h5v5h-5zM516 552h5v5h-5zM528 560h5v5h-5zM540 568h5v5h-5zM556 584h5v5h-5zM560 588h5v5h-5zM564 592h5v5h-5zM568 596h5v5h-5zM572 600h5v5h-5zM576 604h5v5h-5zM580 608h5v5h-5zM584 612h5v5h-5zM588 616h5v5h-5zM604 636h5v5h-5zM616 656h5v5h-5zM612 664h5v5h-5zM608 668h5v5h-5zM604 672h5v5h-5z"/><path fill="#f8d726" d="M424 520h9v9h-9zM432 520h9v9h-9zM440 524h5v5h-5zM444 524h5v5h-5zM424 528h9v9h-9zM416 536h9v9h-9zM448 524h5v5h-5zM452 524h5v5h-5zM468 528h5v5h-5zM476 532h5v5h-5zM484 536h5v5h-5zM492 540h5v5h-5zM500 544h5v5h-5zM508 548h5v5h-5zM520 556h5v5h-5zM532 564h5v5h-5zM544 572h5v5h-5zM548 576h5v5h-5zM552 580h5v5h-5zM600 632h5v5h-5zM604 668h5v5h-5zM612 648h5v5h-5zM612 660h5v5h-5zM608 664h5v5h-5z"/><path fill="#f7d925" d="M424 536h9v9h-9zM432 528h17v17h-17zM464 528h5v5h-5zM472 532h5v5h-5zM480 536h5v5h-5zM488 540h5v5h-5zM496 544h5v5h-5zM596 628h5v5h-5zM604 664h5v5h-5zM608 644h5v5h-5zM612 652h5v5h-5zM612 656h5v5h-5zM608 660h5v5h-5z"/><path fill="#f7da24" d="M448 528h9v9h-9zM456 528h9v9h-9zM448 536h9v9h-9zM464 532h5v5h-5zM468 532h5v5h-5zM484 540h5v5h-5zM432 544h17v17h-17zM492 544h5v5h-5zM504 548h5v5h-5zM512 552h5v5h-5zM524 560h5v5h-5zM536 568h5v5h-5zM592 624h5v5h-5zM604 660h5v5h-5zM600 664h5v5h-5zM608 656h5v5h-5z"/><path fill="#f6db23" d="M456 536h9v9h-9zM464 536h9v9h-9zM472 536h9v9h-9zM480 540h5v5h-5zM448 544h17v17h-17zM488 544h5v5h-5zM496 548h5v5h-5zM500 548h5v5h-5zM508 552h5v5h-5zM516 556h5v5h-5zM520 560h5v5h-5zM528 564h5v5h-5zM540 572h5v5h-5zM544 576h5v5h-5zM548 580h5v5h-5zM552 584h5v5h-5zM556 588h5v5h-5zM560 592h5v5h-5zM564 596h5v5h-5zM584 616h5v5h-5zM588 620h5v5h-5zM604 640h5v5h-5zM604 656h5v5h-5zM600 660h5v5h-5zM608 648h5v5h-5zM608 652h5v5h-5z"/><path fill="#f6dd22" d="M448 560h17v17h-17zM480 544h9v9h-9zM488 548h5v5h-5zM492 548h5v5h-5zM504 552h5v5h-5zM512 556h5v5h-5zM524 564h5v5h-5zM532 568h5v5h-5zM568 600h5v5h-5zM572 604h5v5h-5zM576 608h5v5h-5zM580 612h5v5h-5zM600 636h5v5h-5zM604 644h5v5h-5zM600 656h5v5h-5z"/><path fill="#f5de21" d="M464 544h17v17h-17zM496 552h9v9h-9zM504 556h5v5h-5zM508 556h5v5h-5zM516 560h5v5h-5zM520 564h5v5h-5zM536 572h5v5h-5zM540 576h5v5h-5zM544 580h5v5h-5zM548 584h5v5h-5zM596 632h5v5h-5zM600 648h9v9h-9zM592 656h9v9h-9z"/><path fill="#f5e020" d="M464 560h17v17h-17zM480 552h9v9h-9zM488 552h9v9h-9zM512 560h5v5h-5zM516 564h5v5h-5zM524 568h5v5h-5zM528 568h5v5h-5zM532 572h5v5h-5zM552 588h5v5h-5zM556 592h5v5h-5zM560 596h5v5h-5zM592 628h5v5h-5zM600 640h5v5h-5zM600 644h5v5h-5zM592 648h9v9h-9zM584 656h9v9h-9z"/><path fill="#f5e11f" d="M480 560h17v17h-17zM496 560h9v9h-9zM504 560h9v9h-9zM512 564h5v5h-5zM520 568h5v5h-5zM528 572h5v5h-5zM536 576h5v5h-5zM540 580h5v5h-5zM544 584h5v5h-5zM564 600h5v5h-5zM568 604h5v5h-5zM580 616h5v5h-5zM584 620h5v5h-5zM588 624h5v5h-5zM596 636h5v5h-5z"/><path fill="#f5e31e" d="M496 568h9v9h-9zM524 572h5v5h-5zM480 576h17v17h-17zM532 576h5v5h-5zM536 580h5v5h-5zM548 588h5v5h-5zM572 608h5v5h-5zM576 612h5v5h-5zM592 632h5v5h-5zM584 648h9v9h-9zM592 640h9v9h-9z"/><path fill="#f5e41d" d="M504 568h9v9h-9zM512 568h9v9h-9zM520 572h5v5h-5zM528 576h5v5h-5zM540 584h5v5h-5zM552 592h5v5h-5zM556 596h5v5h-5zM588 628h5v5h-5zM592 636h5v5h-5zM584 640h9v9h-9zM576 648h9v9h-9z"/><path fill="#f5e61c" d="M496 576h17v17h-17zM520 576h9v9h-9zM528 580h5v5h-5zM532 580h5v5h-5zM536 584h5v5h-5zM544 588h5v5h-5zM560 600h5v5h-5zM584 624h5v5h-5zM584 632h9v9h-9z"/><path fill="#f5e81a" d="M496 592h17v17h-17zM512 576h9v9h-9zM512 584h9v9h-9zM532 584h5v5h-5zM540 588h5v5h-5zM548 592h5v5h-5zM564 604h5v5h-5zM568 608h5v5h-5zM572 612h5v5h-5zM576 616h5v5h-5zM580 620h5v5h-5zM584 628h5v5h-5zM576 640h9v9h-9z"/><path fill="#f5ea19" d="M520 584h9v9h-9zM528 584h5v5h-5zM536 588h5v5h-5zM512 592h17v17h-17zM544 592h5v5h-5zM552 596h5v5h-5zM576 624h9v9h-9zM576 632h9v9h-9zM568 640h9v9h-9z"/><path fill="#f5eb18" d="M528 588h5v5h-5zM532 588h5v5h-5zM556 600h5v5h-5zM560 604h5v5h-5zM564 608h5v5h-5zM568 612h5v5h-5zM568 632h9v9h-9zM576 620h5v5h-5z"/><path fill="#f5ed17" d="M528 592h17v17h-17zM544 596h5v5h-5zM548 596h5v5h-5zM552 600h5v5h-5zM568 616h9v9h-9zM560 624h9v9h-9zM568 624h9v9h-9zM560 632h9v9h-9z"/><path fill="#f6ef16" d="M544 600h9v9h-9zM552 604h5v5h-5zM556 604h5v5h-5zM528 608h17v17h-17zM544 608h17v17h-17zM560 608h5v5h-5zM560 612h5v5h-5zM564 612h5v5h-5zM560 616h9v9h-9zM544 624h17v17h-17z"/></g></g>
<text x="856" y="683" font-size="49" style="fill:#04101c;stroke:#04101c;stroke-width:0.3">path1</text>
<text class="serif" x="859" y="395.4" font-size="51">path2</text>
<text class="serif" x="737.5" y="546" font-size="51">path3</text>
<g fill="none" stroke="#e41a24">
<path d="M741 698.6C743.3 699 749.1 700.6 755 701C760.9 701.4 769.2 701.9 776.4 701C783.5 700.1 790.8 698.7 797.9 695.7C805 692.7 812.2 688.2 819.3 682.9C826.4 677.5 833.6 670 840.7 663.6C847.8 657.2 855.5 650.5 862 644.3C868.5 638.1 873.4 633.3 880 626.4C886.6 619.5 894.2 610.8 901.4 602.9C908.5 595 915.8 586.8 922.9 579.3C930 571.8 937.2 565 944.3 557.9C951.4 550.8 958.6 543.2 965.7 536.4C972.8 529.6 980.2 523.1 987 517C993.8 510.9 1001.2 505.1 1006.4 500C1011.6 494.9 1016.1 488.8 1018 486.5" stroke-width="4.4"/>
<path d="M1018.3 486.3C1021 483.8 1028.6 476.7 1034.3 471.4C1040 466.1 1046.9 459.2 1052.6 454.3C1058.3 449.4 1062.1 446.5 1068.6 441.7C1075.1 436.9 1083.8 430.3 1091.4 425.7C1099 421.1 1106.7 417.5 1114.3 414.3C1121.9 411.1 1129.5 408.4 1137.1 406.3C1144.7 404.2 1150.8 403.1 1160 401.7C1169.2 400.3 1187.1 398.4 1192.5 397.8" stroke-width="7"/>
<path d="M337 368C345.1 368.9 369.2 371 385.7 373.2C402.1 375.4 419 379 435.7 381.4C452.4 383.8 469 385.6 485.7 387.5C502.4 389.4 519 391.3 535.7 392.9C552.4 394.5 569 395.6 585.7 397C602.4 398.4 618.4 399.5 635.7 401C653 402.5 670 404.4 689.3 406C708.6 407.6 741 409.9 751.4 410.7" stroke-width="6.5" stroke-dasharray="24 26" stroke-dashoffset="9.6"/>
<path d="M751.4 410.7C761.5 411.3 793.5 413.8 812 414.5C830.5 415.2 845.7 415.3 862.5 415C879.3 414.7 896 414 912.6 412.8C929.2 411.6 944.4 409.3 962.3 408C980.2 406.7 994.5 406.1 1020 405C1045.5 403.9 1086.3 402.6 1115 401.5C1143.7 400.4 1179.2 399 1192 398.5" stroke-width="6.5" stroke-dasharray="24 26"/>
<path d="M490.7 333.2C500.6 336 529.4 343.9 550 350C570.6 356.1 603.8 366.3 614.5 369.6" stroke-width="5.4" stroke-dasharray="27 6 11 6"/>
<path d="M614.5 369.6C621.6 372.8 643.2 382.6 657 389C670.8 395.4 690.3 404.8 697 408" stroke-width="5.4" stroke-dasharray="27 6 11 6"/>
<path d="M703 413C707.3 416.8 718.4 427.2 728.6 435.7C738.8 444.2 755 456.4 764 464C773 471.6 774.8 474.4 782.9 481.4C791 488.3 801.5 496.4 812.9 505.7C824.3 515 838.8 527 851.4 537C864 547 882.4 560.9 888.6 565.7" stroke-width="4.6" stroke-dasharray="27 6 11 6"/>
<path d="M689 402L701 404L698 415Z" fill="#e41a24" stroke="none"/>
<path d="M1149 406L1165 402L1162 412Z" fill="#e41a24" stroke="none"/>
</g>
<g fill="none" stroke="#000" stroke-width="3.5"><path d="M614.5 357.1v25M602 369.6h25M605.7 360.8l17.7 17.7M605.7 378.4l17.7 -17.7"/><path d="M751.4 398.2v25M738.9 410.7h25M742.6 401.9l17.7 17.7M742.6 419.5l17.7 -17.7"/><path d="M1018 474v25M1005.5 486.5h25M1009.2 477.7l17.7 17.7M1009.2 495.3l17.7 -17.7"/></g>
<g fill="none" stroke="#000" stroke-width="4">
<circle cx="327.4" cy="367.1" r="6.6"/><circle cx="490.7" cy="333.2" r="6.6"/><circle cx="733.6" cy="697.9" r="6.6"/>
</g>
<g fill="none" stroke="#262626" stroke-width="5.8" stroke-linecap="butt"><path d="M713.6 923.2L189.5 539M713.6 923.2L1302.5 582.5M189.5 539L189.5 331M664.1 886.9L647.6 896.4M533.7 791.3L517.2 800.8M403.3 695.7L386.9 705.3M272.9 600.2L256.5 609.7M713.6 923.2L730.1 935.3M860.8 838L877.4 850.1M1008 752.9L1024.6 765M1155.3 667.7L1171.8 679.8M1302.5 582.5L1319 594.6M189.5 539L174.2 527.8M189.5 478.3L174.2 467.1M189.5 417.6L174.2 406.4M189.5 356.9L174.2 345.7"/></g>
<text transform="translate(157 536.5) scale(1 1.04)" text-anchor="end" font-size="52.3">-100</text><text transform="translate(157 475.8) scale(1 1.04)" text-anchor="end" font-size="52.3">-50</text><text transform="translate(157 415.1) scale(1 1.04)" text-anchor="end" font-size="52.3">0</text><text transform="translate(157 354.4) scale(1 1.04)" text-anchor="end" font-size="52.3">50</text><text transform="translate(628.1 959.4) scale(1 1.04)" text-anchor="end" font-size="52.3">34</text><text transform="translate(497.7 863.8) scale(1 1.04)" text-anchor="end" font-size="52.3">34.5</text><text transform="translate(367.3 768.2) scale(1 1.04)" text-anchor="end" font-size="52.3">35</text><text transform="translate(236.9 672.7) scale(1 1.04)" text-anchor="end" font-size="52.3">35.5</text><text transform="translate(746.6 999.2) scale(1 1.04)" text-anchor="start" font-size="52.3">15</text><text transform="translate(893.8 914) scale(1 1.04)" text-anchor="start" font-size="52.3">15.5</text><text transform="translate(1041 828.9) scale(1 1.04)" text-anchor="start" font-size="52.3">16</text><text transform="translate(1188.3 743.7) scale(1 1.04)" text-anchor="start" font-size="52.3">16.5</text><text transform="translate(1335.5 658.5) scale(1 1.04)" text-anchor="start" font-size="52.3">17</text>
<text transform="translate(45.8 436.5) rotate(-90)" text-anchor="middle" font-size="51.4">Magnetic Value/nT</text>
<text transform="translate(157 813) rotate(29.8)" font-size="51">Latitude/degree</text>
<text transform="translate(998.2 989.7) rotate(-30.7)" font-size="51.8">Longitude/degree</text>
</g>
</svg>
</body></html>
